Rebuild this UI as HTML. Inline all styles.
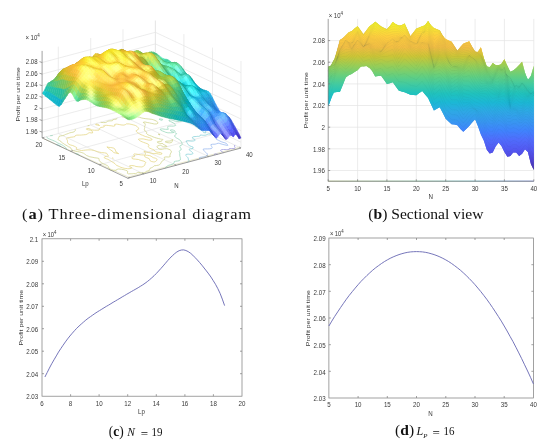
<!DOCTYPE html><html><head><meta charset="utf-8"><title>figure</title><style>html,body{margin:0;padding:0;background:#fff}body{width:550px;height:448px;overflow:hidden;position:relative}svg{position:absolute;left:0;top:0;display:block}.t{font-family:"Liberation Sans",sans-serif;fill:#383838}.c{font-family:"Liberation Serif",serif;fill:#111}</style></head><body>
<svg width="550" height="448" viewBox="0 0 550 448">
<rect width="550" height="448" fill="#fff"/>
<g id="pa">
<path d="M58.3,133.6L143.9,173.9M58.3,133.6L58.3,46.6M90.7,125L176.3,165.3M90.7,125L90.7,38M123,116.3L208.6,156.6M123,116.3L123,29.3M155.4,107.7L241,148M155.4,107.7L155.4,20.7M127.7,178.2L241,148M241,148L241,61M99.2,164.8L212.5,134.6M212.5,134.6L212.5,47.6M70.6,151.3L183.9,121.1M183.9,121.1L183.9,34.1M42.1,137.9L155.4,107.7M155.4,107.7L155.4,20.7M42.1,132.1L155.4,101.9M155.4,101.9L241,142.2M42.1,120.5L155.4,90.3M155.4,90.3L241,130.6M42.1,108.9L155.4,78.7M155.4,78.7L241,119M42.1,97.3L155.4,67.1M155.4,67.1L241,107.4M42.1,85.7L155.4,55.5M155.4,55.5L241,95.8M42.1,74.1L155.4,43.9M155.4,43.9L241,84.2M42.1,62.5L155.4,32.3M155.4,32.3L241,72.6" stroke="#e4e4e4" stroke-width="0.7" fill="none"/>
<path d="M43.5,138.6L128.2,177L239.6,147.3" stroke="#ecebd0" stroke-width="1" fill="none"/>
<g fill="none" stroke-width="0.7"><path d="M214.6,155L214.1,154.4L215.4,153.8L217.8,154.2M223.5,152.7L222.3,151.9L221.2,151.2L220.5,150.3L220.5,150.3L221.7,149.6L223.5,149.5L223.8,149.5L226.7,149.6L227.1,149.6L229.2,149.6L229.2,149L229.3,148.5L231.2,148.5L231.9,148.5L234.5,148.5L235,147.6L235,147.5L234.7,146.5L234,145.9L235,145.4L235.2,145.3" stroke="#9a93e0"/><path d="M199.9,159L199.1,158.1L199.1,158.1L200.1,157.4L202.1,157.1L203.2,157L204.2,156.9L205.6,156.4L205.6,156.4L206.7,155.7L207.3,154.9L207.4,154.8L207.2,153.8L207,153.5L206.5,153L205.5,152.2L204.6,151.4L204.2,151L203.8,150.5L203.3,149.6L203.1,149.2L204.8,148.9L205.9,148.9L207.5,148.9L209.8,148.8L211.6,148.5L212.2,147.6L212.1,147.3L211.6,146.4L211.3,145.9L211.1,145.5L210.9,144.6L212.7,144.2L215.1,144.2L216.7,143.7L218.2,143.2L219.2,143.3L221,143.9L222.8,144.4L223.9,144.7L224.9,144.9L227.2,145.4L227.8,145.4L227.8,145.2L227.2,144.3L226.6,143.6L226.5,143.5L224.9,142.8L224.9,142.8L223,142.3L221.2,141.7L219.9,141L218.5,140.3L217.1,139.6L216,138.9L215.8,138.5L215.5,138L214.7,137.1L214.6,136.8L216.4,136.4" stroke="#8fb2ee"/><path d="M187.3,162.3L187.5,162.2L188.4,161.4L188.8,160.9L188.9,160.4L188.5,159.9L188.3,159L188.3,158.9L188.1,157.9L187.9,157.6L187.4,157L186.5,156.2L185.7,155.4L185.7,155.4L186.1,154.4L188.1,154.1L189.9,154.3L191,154.3L192.7,153.9L192.9,153.5L192.6,152.6L192.5,152.5L191.6,151.7L190.6,150.9L189.5,150.2L189.1,149.8L189.3,149.1L189.7,148.9L190.6,148.8L192,148.8L193.2,148.2L193.2,148.1L193,147.1L191.5,146.5L189.8,145.9L188.7,145.1L188.1,144.6L187.8,144.3L187.4,143.4L187.2,143L187,142.4L186.2,141.6L185.9,141.2L187.4,140.7L188.9,140.8L190.8,141.1L192,141.1L193.3,141L194.8,140.6L195.2,140.2L194.7,139.3L194.7,139.3L194.4,139.2L193.1,138.7L192.8,138.4L192.2,137.9L192.6,137.1L194,136.6L196.3,136.5L197.9,136.3L198.5,136.4L200.1,135.9L200.3,135.7L200.5,134.9L202.2,135.2L203.8,135.3L206.1,135.1L207,134.4L208.6,134L210.6,134L211.2,134M205.5,131.3L205.6,132.2L206.1,132.8L203.7,132.7L203.2,131.8L202.6,131.1L202.4,130.9L201.3,130.2L200.1,129.5L198.9,128.7L197.7,128L196.6,127.2L195.3,126.5L195.1,126.4M56.2,144.6L56.4,144.6L58.4,145.1L60,145.8L60.9,146.6L61.1,146.9" stroke="#7fcfd6"/><path d="M164.7,168.3L164.8,168.2L165.9,167.5L166.7,166.8L166.7,166.7L167.4,165.8L168.7,165.3L170.3,164.8L171.9,164.4L173.1,164L173.3,163.9L174,163L174.1,162.7L174,161.8L174.9,161.4L175.4,161.3L175.6,161.2L177.4,161L179.3,160.7L180.3,160L180.3,160L180.3,158.9L180.4,158.8L180.3,157.9L180.3,157.6L180.1,156.9L179.9,156.2L179.8,155.9L179.8,155L179.7,154.9L179.8,153.8L179.8,153.8L179.7,152.8L179.5,152.5L179.3,151.8L179.2,151.1L179.6,150.7L179.9,150.3L181.2,149.7L181.3,149.2L181,148.4L180.8,148.3L180.2,147.4L179.9,146.7L179.9,146.4L180.2,145.6L181.5,145.1L182,144.8L182.5,144.3L182.2,143.7L181.8,142.8L181.8,142.8L181.3,141.8L181.1,141.3L180.8,140.9L179.9,140.1L178.8,139.3L177.7,138.6L176.4,137.9L176.4,137.9L175.3,137.1L174.6,136.2L174.6,135.8L175.3,135L175.3,135L176.3,134.2L176.6,133.6L175.3,132.9L174.6,132.3L174.4,132.1L175.2,131.3L174.9,130.9L173.5,130.2L171.9,129.8L170.2,130.2L171,130.9L172.1,131.6L173.9,132.2L173,132.7L172.2,132.7L170.6,132.8L168.2,132.8L167.9,132.8L165.7,132.3L164.2,131.6L162.6,131L161.1,130.4L160.2,129.6L160.2,129.1L162.4,128.9L162.6,128.9L165.3,129.3L165.8,129.3L168.3,129.3L168,128.5L168.1,128L167.7,127.6L167.7,126.6L168.5,126.3L169,126L169.4,126.1L171.7,126.1L173.3,126.1L174,126L175.6,125.5L175.7,125.4L175.1,124.5L174.9,124L174.5,123.6L173.3,122.9L172,122.2L170.5,121.6L169,120.9L169,120.1L171.2,119.9L172.1,120.1L173.7,120.7L175.5,121.3L176.9,121.4L179.1,121.4L179.4,121.4L181.6,121.2L181.6,120.7L181.8,120.1M75.5,153.6L77.2,153.8L78.7,154.4L79.3,155.3L79.3,155.4M176.8,117.8L175,117.2L173.7,116.5L172.9,116M161.9,120.3L160.7,120L159.3,119.3L159.1,119L160.7,118.9L162.3,119.3L162.7,119.4L162.8,119.6L161.9,120.3M163.5,111.5L163.8,111.8L164.7,112.6L166.3,113.2L167.8,113.9L169.2,114.5L169.7,115.5L169.5,115.5L169.3,115.6L167.2,115.7L165.7,115.5L163.9,114.9L162.6,114.2L161.3,113.5L159.5,112.9L158,112.3L157.3,111.4L156.4,110.6L156.4,110.5L157.7,110L158.2,110.1L160.4,110.6L162,110.8M46.6,136.7L47.1,137.6L47.8,138.2L48.1,138.4L49.6,139.1L49.6,139.1L51.2,139.7L52.7,140.3L54.3,141L55.7,141.6L56.8,142.4L57.5,142.8L58.1,143.1L59.6,143.8L59.7,143.8L61,144.4L61.1,144.5L62.3,145.1L63.5,145.9L64.7,146.6L65.6,147.4L66.1,148L66.3,148.3L66.6,149.2L66.7,149.5M52.6,135.1L52.4,135.6L50.2,135.7" stroke="#8fd3b4"/><path d="M169.3,142.9L169.4,142.9L171.2,142.6L171.9,142.2L172,141.8L172.4,141L172,140.6L173,139.9L173,139.8L172.8,139.8L171.2,140.2L171,140.4L170.3,141L168.1,141.1L168.1,141.1L165.8,141.3L165.2,141.9L166.9,142.5L169.3,142.9M159.8,134.9L160.1,135L160,134.9L159,134.1L158.2,134.1L158.4,134.3L159.8,134.9M75.2,129.1L75.3,129.7L75.4,130.1L75.1,130.7L74.7,131.3L74.4,131.6L73,132.2L71.2,132.5L69.6,132.9L68.3,133.5L66.8,134L65.4,134.5L64.2,135.2L64.2,135.2L62.7,135.6L62.2,135.7L60.6,135.9L59.1,136.4L59.1,136.5L58.7,137.4L58.6,137.7L58.4,138.4L58,138.9L58,139.4L58.3,139.9L59.6,140.6L60.8,141.3L61.4,142.2L61.4,142.2L62.5,143L63.7,143.7L64.8,144.5L66,145.2L67.2,145.9L68.4,146.7L70,147.3L70.5,147.7L71,148.1L71.1,149.1L71.2,149.2L72.1,149.9L73.5,150.6L75.3,151.1L75.3,151.2L77.5,151.6L79.7,152L79.8,152L81.8,152.6L83.5,153.2L84.7,153.9L85.4,154.7L85.5,154.7L86.6,155.5L88.1,156.1L89.8,156.8L89.8,156.8L92.1,157.2L94.2,157.6L94.2,157.7L97,158L98,158.2L98.9,158.5L99,158.7L99.1,159.5L99.1,160L99.3,160.5L99.8,161.4L99.9,161.5L100.8,162.2L101.8,163L103.2,163.7L104.6,164.4L106.1,165L107.5,165.7L108.4,166.5L108.6,166.8L108.7,167.5L109.2,168.3L109.2,168.4L109.5,169.4L110.8,170.1L113.4,170.3L114.5,170.2L116.2,170.4L116.3,169.7L116.7,169.5L118.2,169L118.8,169L121.2,169.2L121.7,169.3L123.9,169.7L125.8,170.3L127.3,170.9L127.8,171.9L127.7,172.2L127.2,173.1L128.4,173.8L128.5,173.8L128.5,173.8L131.1,173.8L132.9,173.7L133.2,173.6L135.6,173.6L136.8,173L137.8,172.4L137.9,172.3L138.1,172.3L140.4,172.7L142,173L143,173.1L144.5,173L144.9,172.6L145.3,172.2L146.3,171.4L147.7,170.9L149.3,170.5L149.4,170.3L149.5,169.4L149.4,169.2L150,168.4L151.2,167.8L151.7,167.6L152.6,167.2L153.5,166.5L154.3,165.9L154.4,165.7L155,165.7L156.5,165.5L158.4,165.2L159.6,164.6L159.7,164.4L160.5,163.8L161,163L161,162.9L161.5,161.9L161.6,161.8L162.2,161L163.3,160.3L163.4,160.3L164.4,159.7L164.8,158.8L164.7,158.6L164.2,158L164.3,157.2L166,156.9L168,157L168.9,157L170.3,156.5L170.3,156.3L169.9,155.4L169.9,155.1L170.3,154.2L170.3,154.1L170.7,153.1L170.7,153.1L171.3,152.2L171.3,151.8L171.4,151L171.2,150.8L170.3,150L169,149.3L167.1,148.7L166.3,148.7L164.2,148.8L162.5,149.2L160.9,149.4L160,149.3L158.9,148.8L158.6,148.6L158.2,148L157.1,147.2L156.8,146.6L157.6,146L157.9,145.9L159.3,145.3L160.7,145.2L161.8,146L163.4,146.6L164.9,146.8L166.9,146.5L166.4,145.8L164.9,145.1L163.5,144.5L162.9,143.6L160.4,143.5L159.8,143.3L157.9,142.8L157.2,141.9L157.2,141.9L158.7,141.5L159.1,141.4L161,141.4L162,140.7L162,140.6L162.8,139.8L162.8,139.4L161.7,139.3L160.4,139L158.3,138.5L156.4,138L156.3,138L154.5,137.4L152.9,136.8L151.4,136.1L149.7,135.5L148.2,134.9L147.1,134.1L146.3,133.3L146.3,133.3L146.7,132.2L146.7,132.1L145.9,131.3L144.6,130.6L144.4,130L144.3,129.6L144.5,128.8L144.5,128.5L144.6,127.7L144.8,127.4L144.5,126.4L144.5,126.4L145.1,125.5L145.1,125.2L145.3,124.4L145.4,124.1L144.7,123.2L143.2,122.5L143.3,122.3L145.1,121.9L145.3,122L147.2,122.5L149.5,122.9L149.8,123L151.8,123.4L153.9,123.9L154.6,124L156.9,123.9L157.9,123.2L157.9,122.8L157.5,121.9L157.4,121.8L156.3,121.1L155,120.4L153.4,119.8L152.8,119.6L151.4,119.3L148.9,119L148.7,119L145.8,118.7L145.8,118.7L143.2,118.3L141.8,118L141,117.8L139.4,117.2L137.2,116.8L136.7,116.8L134.9,117.1L132.3,117.1L131.7,117.2L130,117.2L129.5,117.8L129.4,118.1L128,118.1L126.8,118.1L125.7,117.7L123.6,117.2L121.7,116.7M89.5,125.3L89.3,125.5L87.6,125.8M117.2,117.9L117.1,118.3L116.2,119.1L114.4,119.4L112.7,119.8L112.6,120.2L112.3,120.8L109.9,120.9L109.9,120.9L107.9,121.1L107.3,121.6L106.9,121.9L105.7,122.5L103.4,122.6L103.4,122.6L100.6,122.3M135.9,112.9L136.7,113.7L137.7,114.5L140.2,114.9L139.5,114L137.9,113.4L136,112.9" stroke="#cdd083"/><path d="M138.9,166.8L139,166.8L142,167L143.2,166.4L144.3,165.7L144.7,165.3L144.9,164.8L144.9,164.2L145,163.7L145.8,162.9L145.8,162.8L145.3,161.9L144,161.2L141.9,160.7L140.2,160.2L140,160.2L138.5,159.5L135.7,159.2L135.6,159.2L132.9,158.9L131.9,158.2L131.9,157.5L132.7,156.9L132.9,156.8L134.6,156.4L134.6,155.3L133.9,154.8L133.6,154.5L134.4,153.9L135.6,154L137.9,154.4L138.1,154.4L140.5,154.8L141.7,154.9L143.7,155L144.9,155.7L144.6,156.3L144.9,156.8L146.3,157.5L148,158.1L149.3,158.8L149.6,159.7L149.7,159.9L150.1,160.7L151.3,161.4L153.3,161.9L154.2,162L155.5,161.5L155.7,161.3L156.5,160.7L157.1,159.9L157.1,159.8L156.8,158.9L155.4,158.2L153.4,157.7L152.1,157L151.1,156.2L149.5,155.6L147.5,155.3L146.4,155.3L144.7,154.7L145.3,154.3L145.4,153.5L145.1,153L145.2,152.5L144.2,151.7L143.9,151.2L145.5,151.4L146.6,152.1L148.7,152.6L149.9,152.8L151,153L153.1,153.6L154.1,153.6L156.6,153.6L156.7,153.6L158.8,154.1L160.7,154.3L162.1,153.8L161.9,153.3L160.4,152.6L158.8,152.3L157.9,152.3L155.6,151.8L154.9,151L154.2,150.1L154.2,150.1L152.9,149.4L152.2,149.2L151.2,148.8L149.7,148.1L149.1,147.7L148.7,147.3L148.3,146.4L148.3,146.1L149,145.3L149.1,145.2L148.4,144.3L147,143.6L145.3,143L143.6,142.4L142.1,141.8L140.6,141.1L139.4,140.4L138.5,139.5L138.5,139.1L140.5,138.9L141,138.9L143.2,138.9L144.2,139.1L146.3,139.6L148.1,140L148.3,140.1L150.9,140.2L152.2,139.6L151.9,139.1L150.9,138.4L149.6,137.7L147.7,137.1L145.9,136.6L145.7,136.6L144.1,136L142.6,135.3L141,134.7L139.8,134L138.5,133.2L137.9,132.9L137.3,132.5L136.5,131.7L136.1,130.8L136.2,130.7L137.1,130.1L138.2,129.5L138.6,129L138.6,128.4L138.4,128L137.7,127.1L137.1,126.5L136.9,126.3L135.7,125.6L133.9,125L133.8,125L131.9,124.5L129.6,124L129,123.9L126.4,123.9L125.4,124.6L124,125.1L122,125L121,124.9L119.6,124.6L117.3,124.2L116.6,124.1L114.7,124.4L114.7,124.9L115,125.7L113.5,126.2L111.1,125.8L109.9,125.7L108.4,125.5L106.6,125.3L104.8,125.4L104.3,125.4L103.6,125.7L104.4,126.6L104.4,126.6L102.9,127.2L101.1,127.4L101,127.4L101,127.5L99.8,128.1L99.4,128.9L99.4,129.1L99,130.1L96.8,130.2L94.5,130.2L94.2,130.2L91.7,129.9L90.5,129.2L88.8,128.6L88,128.5L86.4,128.9L86.4,129.2L88.1,129.9L88.5,129.9L90.9,130.2L92,130.9L92.4,131.7L92.3,131.9L92.6,132.9L92.5,133L92.1,133L89.4,132.7L88.1,133.3L87.2,134.1L85.8,134.6L83.7,134.8L81.5,135L80.2,135.1L79.3,135.1L76.8,135.1L75.3,135.6L75,136.5L74.8,136.6L73.4,136.9L73.1,137L71,137.2L69.2,137.5L67.5,137.9L66.4,138.6L66.3,138.8L67,139.7L67.2,140.2L67.5,140.6L67.5,141.5L67.5,141.6L67.5,142.7L67.5,142.7L68.1,143.6L69.1,144.4L70.6,145L72.7,145.5L74.2,146.2L75.6,146.9L76.7,147.6L76.8,148.3L76.1,148.8L76.6,149.4L77.1,149.6L77.2,149.7L79.4,150.1L81.5,150.5L81.8,150.5L83.6,150.3L85.7,150.1L87.8,149.9L88,149.9L90.4,149.9L91.6,150L93.7,150.4L94.3,150.5L95.6,151L97.4,151.6L99.2,152.1L101,152.5L101.4,152.6L104.3,152.8L104.4,152.8L106.7,153.3L107.2,154.2L107.3,154.3L107.7,155.1L108.6,155.9L108.5,156.1L107.8,156.2L106.6,156.3L104.9,156.7L104.3,157.1L104,157.5L104.7,158L106.2,158.7L107.8,159.3L109.1,160L110.4,160.7L111.5,161.5L112.6,162.2L113.9,162.9L115,163.7L115.3,164L115.7,164.6L116.6,165.4L118.1,166L119.6,166.7L121,167.4L122.8,167.9L124.3,168.3L125.2,168.4L127.7,168.7L127.9,168.8L130.1,168.6L131.6,168.1L131.9,167.6L130.4,166.9L129.4,166.2L129.5,165.9L131.2,165.5L131.9,165.5L134.4,165.9L134.8,166L136,166.5L138.9,166.8M113.2,158.3L112.5,158.1L112.6,157.9L113,157.9L113.2,158.3M118.7,153.7L117.6,153.5L115.7,153L114.1,152.7L113.6,152.5L113.5,152.4L113,151.6L112,150.8L110.8,150.1L110.2,149.7L109.8,149.3L108.8,148.5L107.9,147.7L106.9,146.9L108.9,147.4L110.6,147.5L111.9,147.7L113.9,148.2L114.9,149L115.2,149.7L115.3,150L115.7,150.9L115.9,151.2L115.8,151.9L117,152.6L118.3,153.3L118.7,153.7M97.7,125.2L99.5,125.5L98.9,124.9L97.4,124.2L96.2,124L95.6,124.7L97.7,125.2" stroke="#e3d37a"/></g>
<defs><filter id="sb" x="-5%" y="-5%" width="110%" height="110%"><feGaussianBlur stdDeviation="0.45"/></filter></defs><g filter="url(#sb)" fill="currentColor" stroke="currentColor" stroke-width="0.5" stroke-linejoin="round"><path d="M155.4,53.9l1.9,0.3l-1.9-1.1l-1.9-0.9z" color="#41b578"/><path d="M153.5,53.6l1.9,0.3l-1.9-1.7l-1.9-0.4z" color="#4cbc74"/><path d="M151.6,53.4l1.9,0.2l-1.9-1.8l-1.9,0.3z" color="#5bcb7a"/><path d="M149.7,53.8l1.9-0.4l-1.9-1.3l-1.9,1.1z" color="#62d580"/><path d="M147.9,54.9l1.8-1.1l-1.9-0.6l-1.8,1.8z" color="#57d080"/><path d="M146,57l1.9-2.1l-1.9,0.1l-1.9,2.1z" color="#47c885"/><path d="M144.1,57.8l1.9-0.8l-1.9,0.1l-1.9,0.6z" color="#3ab780"/><path d="M142.2,55.6l1.9,2.2l-1.9-0.1l-1.9-2.5z" color="#3fa96d"/><path d="M140.3,52.6l1.9,3l-1.9-0.4l-1.9-3z" color="#5aa957"/><path d="M138.4,50.9l1.9,1.7l-1.9-0.4l-1.9-1.7z" color="#78ac44"/><path d="M136.5,51.7l1.9-0.8l-1.9-0.4l-1.9,0.7z" color="#93c247"/><path d="M134.6,53.9l1.9-2.2l-1.9-0.5l-1.9,2.3z" color="#94d356"/><path d="M132.8,55.7l1.8-1.8l-1.9-0.4l-1.8,2.3z" color="#7acc5f"/><path d="M130.9,55.7l1.9,0l-1.9,0.1l-1.9,0.5z" color="#67b95a"/><path d="M129,54l1.9,1.7l-1.9,0.6l-1.9-1.4z" color="#6aa94a"/><path d="M127.1,53.5l1.9,0.5l-1.9,0.9l-1.9-0.5z" color="#79a83f"/><path d="M125.2,53.3l1.9,0.2l-1.9,0.9l-1.9-0.3z" color="#81a839"/><path d="M123.3,50.9l1.9,2.4l-1.9,0.8l-1.9-2.8z" color="#91a42e"/><path d="M121.4,49.4l1.9,1.5l-1.9,0.4l-1.9-1.3z" color="#b2ab26"/><path d="M119.5,51.7l1.9-2.3l-1.9,0.6l-1.9,3.5z" color="#bab62a"/><path d="M117.6,53.9l1.9-2.2l-1.9,1.8l-1.9,2.7z" color="#a1b432"/><path d="M115.8,54.5l1.8-0.6l-1.9,2.3l-1.8,0z" color="#94b035"/><path d="M113.9,55.6l1.9-1.1l-1.9,1.7l-1.9,1.2z" color="#94b338"/><path d="M112,57.2l1.9-1.6l-1.9,1.8l-1.9,1.9z" color="#8ab43e"/><path d="M110.1,57.8l1.9-0.6l-1.9,2.1l-1.9,0.5z" color="#80af41"/><path d="M108.2,58.5l1.9-0.7l-1.9,2l-1.9,0.3z" color="#80af41"/><path d="M106.3,59.6l1.9-1.1l-1.9,1.6l-1.9,0.8z" color="#7daf42"/><path d="M104.4,58.8l1.9,0.8l-1.9,1.3l-1.9-0.8z" color="#7daa3e"/><path d="M102.5,56.5l1.9,2.3l-1.9,1.3l-1.9-2.5z" color="#8ea530"/><path d="M100.7,54.9l1.8,1.6l-1.9,1.1l-1.8-2.4z" color="#a5a024"/><path d="M98.8,54.3l1.9,0.6l-1.9,0.3l-1.9-1.5z" color="#bba223"/><path d="M96.9,54.5l1.9-0.2l-1.9-0.6l-1.9,0z" color="#dfba30"/><path d="M95,56l1.9-1.5l-1.9-0.8l-1.9,2.4z" color="#e8c732"/><path d="M93.1,58.5l1.9-2.5l-1.9,0.1l-1.9,3.6z" color="#c8bd2b"/><path d="M91.2,59.9l1.9-1.4l-1.9,1.2l-1.9,1.7z" color="#adb52c"/><path d="M89.3,59.9l1.9,0l-1.9,1.5l-1.9-0.1z" color="#a0aa2b"/><path d="M87.4,59.4l1.9,0.5l-1.9,1.4l-1.9-0.2z" color="#a0a327"/><path d="M85.5,59.2l1.9,0.2l-1.9,1.7l-1.9,0z" color="#a7a325"/><path d="M83.7,60.1l1.8-0.9l-1.9,1.9l-1.8,0.4z" color="#b1aa26"/><path d="M81.8,61.7l1.9-1.6l-1.9,1.4l-1.9,1.4z" color="#b4b329"/><path d="M79.9,63.2l1.9-1.5l-1.9,1.2l-1.9,1.4z" color="#aab42d"/><path d="M78,63l1.9,0.2l-1.9,1.1l-1.9-0.1z" color="#a2ad2c"/><path d="M76.1,63.3l1.9-0.3l-1.9,1.2l-1.9,0.7z" color="#a8b02b"/><path d="M74.2,65.9l1.9-2.6l-1.9,1.6l-1.9,3.4z" color="#a2b835"/><path d="M72.3,68.9l1.9-3l-1.9,2.4l-1.9,3.5z" color="#85b946"/><path d="M70.4,70.7l1.9-1.8l-1.9,2.9l-1.9,1.3z" color="#6db251"/><path d="M68.6,70.5l1.8,0.2l-1.9,2.4l-1.9-0.8z" color="#68ab4d"/><path d="M66.7,69.8l1.9,0.7l-2,1.8l-1.8-1z" color="#74aa45"/><path d="M64.8,70.7l1.9-0.9l-1.9,1.5l-1.9,1.1z" color="#7db345"/><path d="M62.9,72.8l1.9-2.1l-1.9,1.7l-1.9,2.6z" color="#76ba51"/><path d="M61,75l1.9-2.2l-1.9,2.2l-1.9,2.7z" color="#61b85f"/><path d="M59.1,76.1l1.9-1.1l-1.9,2.7l-1.9,1.4z" color="#51b266"/><path d="M57.2,76.7l1.9-0.6l-1.9,3l-1.9,0.6z" color="#4daf67"/><path d="M55.3,78.9l1.9-2.2l-1.9,3l-1.9,2z" color="#48b26f"/><path d="M53.4,81l1.9-2.1l-1.9,2.8l-1.9,1.6z" color="#3db179"/><path d="M51.6,81.2l1.8-0.2l-1.9,2.3l-1.8-0.7z" color="#39af7a"/><path d="M49.7,82.6l1.9-1.4l-1.9,1.4l-1.9,0.7z" color="#3dba81"/><path d="M47.8,86.7l1.9-4.1l-1.9,0.7l-1.9,3.6z" color="#36c396"/><path d="M45.9,91.4l1.9-4.7l-1.9,0.2l-1.9,4.1z" color="#1fc0af"/><path d="M44,94.8l1.9-3.4l-1.9-0.4l-1.9,2.2z" color="#17ccd2"/><path d="M157.3,56.3l1.9-0.6l-1.9-1.5l-1.9-0.3z" color="#42c589"/><path d="M155.4,55.9l1.9,0.4l-1.9-2.4l-1.9-0.3z" color="#43bd7e"/><path d="M153.5,55.1l1.9,0.8l-1.9-2.3l-1.9-0.2z" color="#4abb76"/><path d="M151.7,54.4l1.8,0.7l-1.9-1.7l-1.9,0.4z" color="#53c072"/><path d="M149.8,54.6l1.9-0.2l-2-0.6l-1.8,1.1z" color="#58c673"/><path d="M147.9,56.3l1.9-1.7l-1.9,0.3l-1.9,2.1z" color="#50c679"/><path d="M146,57.4l1.9-1.1l-1.9,0.7l-1.9,0.8z" color="#43b878"/><path d="M144.1,55.8l1.9,1.6l-1.9,0.4l-1.9-2.2z" color="#46ab68"/><path d="M142.2,53.3l1.9,2.5l-1.9-0.2l-1.9-3z" color="#5ea953"/><path d="M140.3,51.9l1.9,1.4l-1.9-0.7l-1.9-1.7z" color="#7cad42"/><path d="M138.4,52.4l1.9-0.5l-1.9-1l-1.9,0.8z" color="#99c647"/><path d="M136.5,54.1l1.9-1.7l-1.9-0.7l-1.9,2.2z" color="#9ad453"/><path d="M134.7,55.3l1.8-1.2l-1.9-0.2l-1.8,1.8z" color="#81c655"/><path d="M132.8,54.8l1.9,0.5l-1.9,0.4l-1.9,0z" color="#72b34d"/><path d="M130.9,53.1l1.9,1.7l-1.9,0.9l-1.9-1.7z" color="#7aa83e"/><path d="M129,52.7l1.9,0.4l-1.9,0.9l-1.9-0.5z" color="#8ba834"/><path d="M127.1,53.1l1.9-0.4l-1.9,0.8l-1.9-0.2z" color="#92a830"/><path d="M125.2,51.6l1.9,1.5l-1.9,0.2l-1.9-2.4z" color="#9ca428"/><path d="M123.3,50l1.9,1.6l-1.9-0.7l-1.9-1.5z" color="#b5a623"/><path d="M121.4,50.3l1.9-0.3l-1.9-0.6l-1.9,2.3z" color="#c4ae25"/><path d="M119.5,51.7l1.9-1.4l-1.9,1.4l-1.9,2.2z" color="#baaf27"/><path d="M117.7,53.1l1.8-1.4l-1.9,2.2l-1.8,0.6z" color="#b1af28"/><path d="M115.8,54.3l1.9-1.2l-1.9,1.4l-1.9,1.1z" color="#aeb22a"/><path d="M113.9,55.2l1.9-0.9l-1.9,1.3l-1.9,1.6z" color="#a4b02d"/><path d="M112,55.7l1.9-0.5l-1.9,2l-1.9,0.6z" color="#9dac2e"/><path d="M110.1,56.8l1.9-1.1l-1.9,2.1l-1.9,0.7z" color="#9cae30"/><path d="M108.2,58.1l1.9-1.3l-1.9,1.7l-1.9,1.1z" color="#96ae33"/><path d="M106.3,57.4l1.9,0.7l-1.9,1.5l-1.9-0.8z" color="#93a72f"/><path d="M104.4,55.3l1.9,2.1l-1.9,1.4l-1.9-2.3z" color="#a1a127"/><path d="M102.6,54.7l1.8,0.6l-1.9,1.2l-1.8-1.6z" color="#b4a023"/><path d="M100.7,55.2l1.9-0.5l-1.9,0.2l-1.9-0.6z" color="#caaa26"/><path d="M98.8,55.7l1.9-0.5l-1.9-0.9l-1.9,0.2z" color="#e5bf30"/><path d="M96.9,56.6l1.9-0.9l-1.9-1.2l-1.9,1.5z" color="#ecc732"/><path d="M95,57.9l1.9-1.3l-1.9-0.6l-1.9,2.5z" color="#d6bd2a"/><path d="M93.1,59l1.9-1.1l-1.9,0.6l-1.9,1.4z" color="#c0b326"/><path d="M91.2,59.1l1.9-0.1l-1.9,0.9l-1.9,0z" color="#b2a824"/><path d="M89.3,58.1l1.9,1l-1.9,0.8l-1.9-0.5z" color="#b19f22"/><path d="M87.4,57.7l1.9,0.4l-1.9,1.3l-1.9-0.2z" color="#bca124"/><path d="M85.6,59l1.8-1.3l-1.9,1.5l-1.8,0.9z" color="#c9ab27"/><path d="M83.7,61.1l1.9-2.1l-1.9,1.1l-1.9,1.6z" color="#cbb527"/><path d="M81.8,62.5l1.9-1.4l-1.9,0.6l-1.9,1.5z" color="#bfb427"/><path d="M79.9,62.4l1.9,0.1l-1.9,0.7l-1.9-0.2z" color="#b4ac25"/><path d="M78,62.4l1.9,0l-1.9,0.6l-1.9,0.3z" color="#bbad25"/><path d="M76.1,64.2l1.9-1.8l-1.9,0.9l-1.9,2.6z" color="#bbb529"/><path d="M74.2,66.6l1.9-2.4l-1.9,1.7l-1.9,3z" color="#a7b631"/><path d="M72.3,68.3l1.9-1.7l-1.9,2.3l-1.9,1.8z" color="#90b139"/><path d="M70.5,68.6l1.8-0.3l-1.9,2.4l-1.8-0.2z" color="#86aa39"/><path d="M68.6,68.4l1.9,0.2l-1.9,1.9l-1.9-0.7z" color="#8ca834"/><path d="M66.7,69.1l1.9-0.7l-1.9,1.4l-1.9,0.9z" color="#95af34"/><path d="M64.8,70.7l1.9-1.6l-1.9,1.6l-1.9,2.1z" color="#92b63b"/><path d="M62.9,72.5l1.9-1.8l-1.9,2.1l-1.9,2.2z" color="#81b545"/><path d="M61,73.2l1.9-0.7l-1.9,2.5l-1.9,1.1z" color="#73af49"/><path d="M59.1,73.5l1.9-0.3l-1.9,2.9l-1.9,0.6z" color="#70ae4a"/><path d="M57.2,75.8l1.9-2.3l-1.9,3.2l-1.9,2.2z" color="#6cb353"/><path d="M55.3,78.5l1.9-2.7l-1.9,3.1l-1.9,2.1z" color="#5cb661"/><path d="M53.5,79.9l1.8-1.4l-1.9,2.5l-1.8,0.2z" color="#52b86b"/><path d="M51.6,82.2l1.9-2.3l-1.9,1.3l-1.9,1.4z" color="#4ec177"/><path d="M49.7,86.6l1.9-4.4l-1.9,0.4l-1.9,4.1z" color="#3ec58e"/><path d="M47.8,91.8l1.9-5.2l-1.9,0.1l-1.9,4.7z" color="#24c1aa"/><path d="M45.9,96.4l1.9-4.6l-1.9-0.4l-1.9,3.4z" color="#11c0c7"/><path d="M159.2,58.7l1.9-1.5l-1.9-1.5l-1.9,0.6z" color="#51ddaa"/><path d="M157.3,58.3l1.9,0.4l-1.9-2.4l-1.9-0.4z" color="#3cc08d"/><path d="M155.4,56.8l1.9,1.5l-1.9-2.4l-1.9-0.8z" color="#3db077"/><path d="M153.6,55.1l1.8,1.7l-1.9-1.7l-1.8-0.7z" color="#49af6a"/><path d="M151.7,54.4l1.9,0.7l-1.9-0.7l-1.9,0.2z" color="#58b966"/><path d="M149.8,55.7l1.9-1.3l-1.9,0.2l-1.9,1.7z" color="#5cc26c"/><path d="M147.9,57l1.9-1.3l-1.9,0.6l-1.9,1.1z" color="#51bc6f"/><path d="M146,56.2l1.9,0.8l-1.9,0.4l-1.9-1.6z" color="#50af64"/><path d="M144.1,54.4l1.9,1.8l-1.9-0.4l-1.9-2.5z" color="#61a951"/><path d="M142.2,53.2l1.9,1.2l-1.9-1.1l-1.9-1.4z" color="#7bae43"/><path d="M140.3,53.2l1.9,0l-1.9-1.3l-1.9,0.5z" color="#96c345"/><path d="M138.4,54.1l1.9-0.9l-1.9-0.8l-1.9,1.7z" color="#9acd4b"/><path d="M136.6,54.7l1.8-0.6l-1.9,0l-1.8,1.2z" color="#87bd48"/><path d="M134.7,54l1.9,0.7l-1.9,0.6l-1.9-0.5z" color="#7fad40"/><path d="M132.8,52.4l1.9,1.6l-1.9,0.8l-1.9-1.7z" color="#8aa533"/><path d="M130.9,52.3l1.9,0.1l-1.9,0.7l-1.9-0.4z" color="#9eab2c"/><path d="M129,53.4l1.9-1.1l-1.9,0.4l-1.9,0.4z" color="#a8b32d"/><path d="M127.1,53l1.9,0.4l-1.9-0.3l-1.9-1.5z" color="#a6ab28"/><path d="M125.2,51.3l1.9,1.7l-1.9-1.4l-1.9-1.6z" color="#afa223"/><path d="M123.3,49.9l1.9,1.4l-1.9-1.3l-1.9,0.3z" color="#c1a424"/><path d="M121.5,50.4l1.8-0.5l-1.9,0.4l-1.9,1.4z" color="#ccab27"/><path d="M119.6,52.4l1.9-2l-2,1.3l-1.8,1.4z" color="#cdb327"/><path d="M117.7,53.6l1.9-1.2l-1.9,0.7l-1.9,1.2z" color="#c5b526"/><path d="M115.8,53.8l1.9-0.2l-1.9,0.7l-1.9,0.9z" color="#baae25"/><path d="M113.9,54l1.9-0.2l-1.9,1.4l-1.9,0.5z" color="#b5a925"/><path d="M112,55.1l1.9-1.1l-1.9,1.7l-1.9,1.1z" color="#b6ac26"/><path d="M110.1,56.7l1.9-1.6l-1.9,1.7l-1.9,1.3z" color="#aeac27"/><path d="M108.2,56l1.9,0.7l-1.9,1.4l-1.9-0.7z" color="#a8a425"/><path d="M106.3,54l1.9,2l-1.9,1.4l-1.9-2.1z" color="#b29e24"/><path d="M104.5,54.1l1.8-0.1l-1.9,1.3l-1.8-0.6z" color="#c6a228"/><path d="M102.6,55.5l1.9-1.4l-1.9,0.6l-1.9,0.5z" color="#d8b02b"/><path d="M100.7,56.4l1.9-0.9l-1.9-0.3l-1.9,0.5z" color="#e3bc2d"/><path d="M98.8,57.1l1.9-0.7l-1.9-0.7l-1.9,0.9z" color="#e3be2d"/><path d="M96.9,57.8l1.9-0.7l-1.9-0.5l-1.9,1.3z" color="#dab92a"/><path d="M95,58.5l1.9-0.7l-1.9,0.1l-1.9,1.1z" color="#ccb126"/><path d="M93.1,58.6l1.9-0.1l-1.9,0.5l-1.9,0.1z" color="#bfa624"/><path d="M91.2,57.4l1.9,1.2l-1.9,0.5l-1.9-1z" color="#bd9c25"/><path d="M89.4,57l1.8,0.4l-1.9,0.7l-1.9-0.4z" color="#cea32c"/><path d="M87.5,58.6l1.9-1.6l-2,0.7l-1.8,1.3z" color="#dfb130"/><path d="M85.6,60.7l1.9-2.1l-1.9,0.4l-1.9,2.1z" color="#deb82c"/><path d="M83.7,62.2l1.9-1.5l-1.9,0.4l-1.9,1.4z" color="#cfb627"/><path d="M81.8,62.3l1.9-0.1l-1.9,0.3l-1.9-0.1z" color="#c4ae25"/><path d="M79.9,62.3l1.9,0l-1.9,0.1l-1.9,0z" color="#c9ae26"/><path d="M78,63.3l1.9-1l-1.9,0.1l-1.9,1.8z" color="#ceb427"/><path d="M76.1,64.8l1.9-1.5l-1.9,0.9l-1.9,2.4z" color="#c0b327"/><path d="M74.2,66.2l1.9-1.4l-1.9,1.8l-1.9,1.7z" color="#aeae29"/><path d="M72.4,66.8l1.8-0.6l-1.9,2.1l-1.8,0.3z" color="#a3a829"/><path d="M70.5,67l1.9-0.2l-1.9,1.8l-1.9-0.2z" color="#a4a727"/><path d="M68.6,67.6l1.9-0.6l-1.9,1.4l-1.9,0.7z" color="#abac28"/><path d="M66.7,68.8l1.9-1.2l-1.9,1.5l-1.9,1.6z" color="#aab02b"/><path d="M64.8,70.2l1.9-1.4l-1.9,1.9l-1.9,1.8z" color="#9faf30"/><path d="M62.9,70.7l1.9-0.5l-1.9,2.3l-1.9,0.7z" color="#94aa31"/><path d="M61,70.9l1.9-0.2l-1.9,2.5l-1.9,0.3z" color="#94aa31"/><path d="M59.1,73l1.9-2.1l-1.9,2.6l-1.9,2.3z" color="#93b238"/><path d="M57.2,76.1l1.9-3.1l-1.9,2.8l-1.9,2.7z" color="#82b848"/><path d="M55.4,78.6l1.8-2.5l-1.9,2.4l-1.8,1.4z" color="#70be58"/><path d="M53.5,81.8l1.9-3.2l-1.9,1.3l-1.9,2.3z" color="#60c56b"/><path d="M51.6,86.8l1.9-5l-1.9,0.4l-1.9,4.4z" color="#46c787"/><path d="M49.7,92.5l1.9-5.7l-1.9-0.2l-1.9,5.2z" color="#28c2a6"/><path d="M47.8,97.9l1.9-5.4l-1.9-0.7l-1.9,4.6z" color="#12bcc4"/><path d="M161.1,60.6l1.9-2.2l-1.9-1.2l-1.9,1.5z" color="#5aecc0"/><path d="M159.2,60.2l1.9,0.4l-1.9-1.9l-1.9-0.4z" color="#42cca2"/><path d="M157.3,58.2l1.9,2l-1.9-1.9l-1.9-1.5z" color="#35aa79"/><path d="M155.5,55.8l1.8,2.4l-1.9-1.4l-1.8-1.7z" color="#45a968"/><path d="M153.6,54.3l1.9,1.5l-1.9-0.7l-1.9-0.7z" color="#5bb15d"/><path d="M151.7,55.2l1.9-0.9l-1.9,0.1l-1.9,1.3z" color="#67c060"/><path d="M149.8,56.9l1.9-1.7l-1.9,0.5l-1.9,1.3z" color="#62c569"/><path d="M147.9,57.1l1.9-0.2l-1.9,0.1l-1.9-0.8z" color="#5bba64"/><path d="M146,56.1l1.9,1l-1.9-0.9l-1.9-1.8z" color="#62ae54"/><path d="M144.1,54.7l1.9,1.4l-1.9-1.7l-1.9-1.2z" color="#74ad46"/><path d="M142.2,53.9l1.9,0.8l-1.9-1.5l-1.9,0z" color="#8ab640"/><path d="M140.3,53.9l1.9,0l-1.9-0.7l-1.9,0.9z" color="#93bc3f"/><path d="M138.5,54.2l1.8-0.3l-1.9,0.2l-1.8,0.6z" color="#8eb53c"/><path d="M136.6,53.6l1.9,0.6l-1.9,0.5l-1.9-0.7z" color="#8ba935"/><path d="M134.7,52.2l1.9,1.4l-1.9,0.4l-1.9-1.6z" color="#98a52b"/><path d="M132.8,52.6l1.9-0.4l-1.9,0.2l-1.9-0.1z" color="#b2b329"/><path d="M130.9,54.3l1.9-1.7l-1.9-0.3l-1.9,1.1z" color="#c4c934"/><path d="M129,54.6l1.9-0.3l-1.9-0.9l-1.9-0.4z" color="#b7bd32"/><path d="M127.1,53.1l1.9,1.5l-1.9-1.6l-1.9-1.7z" color="#aba424"/><path d="M125.2,50.8l1.9,2.3l-1.9-1.8l-1.9-1.4z" color="#b99e24"/><path d="M123.4,50.5l1.8,0.3l-1.9-0.9l-1.8,0.5z" color="#d5ab2c"/><path d="M121.5,52.5l1.9-2l-1.9-0.1l-1.9,2z" color="#e3ba2e"/><path d="M119.6,53.6l1.9-1.1l-1.9-0.1l-1.9,1.2z" color="#d5b828"/><path d="M117.7,53.5l1.9,0.1l-1.9,0l-1.9,0.2z" color="#c6ac25"/><path d="M115.8,53.1l1.9,0.4l-1.9,0.3l-1.9,0.2z" color="#c3a525"/><path d="M113.9,53.9l1.9-0.8l-1.9,0.9l-1.9,1.1z" color="#caaa27"/><path d="M112,55.6l1.9-1.7l-1.9,1.2l-1.9,1.6z" color="#c5ac26"/><path d="M110.1,54.9l1.9,0.7l-1.9,1.1l-1.9-0.7z" color="#baa324"/><path d="M108.2,52.8l1.9,2.1l-1.9,1.1l-1.9-2z" color="#c09c28"/><path d="M106.4,53.1l1.8-0.3l-1.9,1.2l-1.8,0.1z" color="#d3a330"/><path d="M104.5,54.7l1.9-1.6l-1.9,1l-1.9,1.4z" color="#dfae32"/><path d="M102.6,55.8l1.9-1.1l-1.9,0.8l-1.9,0.9z" color="#ddb02f"/><path d="M100.7,56.7l1.9-0.9l-1.9,0.6l-1.9,0.7z" color="#dab02d"/><path d="M98.8,57.5l1.9-0.8l-1.9,0.4l-1.9,0.7z" color="#d8b02b"/><path d="M96.9,58.2l1.9-0.7l-1.9,0.3l-1.9,0.7z" color="#d3ad29"/><path d="M95,58.1l1.9,0.1l-1.9,0.3l-1.9,0.1z" color="#c8a328"/><path d="M93.1,57.3l1.9,0.8l-1.9,0.5l-1.9-1.2z" color="#c79d2b"/><path d="M91.3,57.3l1.8,0l-1.9,0.1l-1.8-0.4z" color="#dfaa35"/><path d="M89.4,58.9l1.9-1.6l-1.9-0.3l-1.9,1.6z" color="#f4bb3a"/><path d="M87.5,60.8l1.9-1.9l-1.9-0.3l-1.9,2.1z" color="#edbe34"/><path d="M85.6,61.9l1.9-1.1l-1.9-0.1l-1.9,1.5z" color="#dcb82b"/><path d="M83.7,62.4l1.9-0.5l-1.9,0.3l-1.9,0.1z" color="#d1b128"/><path d="M81.8,62.7l1.9-0.3l-1.9-0.1l-1.9,0z" color="#d5b129"/><path d="M79.9,63.2l1.9-0.5l-1.9-0.4l-1.9,1z" color="#d8b429"/><path d="M78,63.7l1.9-0.5l-1.9,0.1l-1.9,1.5z" color="#ceaf27"/><path d="M76.1,64.3l1.9-0.6l-1.9,1.1l-1.9,1.4z" color="#c2a825"/><path d="M74.3,65l1.8-0.7l-1.9,1.9l-1.8,0.6z" color="#bba525"/><path d="M72.4,65.8l1.9-0.8l-1.9,1.8l-1.9,0.2z" color="#bca724"/><path d="M70.5,66.4l1.9-0.6l-1.9,1.2l-1.9,0.6z" color="#bfa925"/><path d="M68.6,67.2l1.9-0.8l-1.9,1.2l-1.9,1.2z" color="#beab25"/><path d="M66.7,68.2l1.9-1l-1.9,1.6l-1.9,1.4z" color="#b7aa25"/><path d="M64.8,68.8l1.9-0.6l-1.9,2l-1.9,0.5z" color="#b0a725"/><path d="M62.9,69.2l1.9-0.4l-1.9,1.9l-1.9,0.2z" color="#b3a926"/><path d="M61,71.2l1.9-2l-1.9,1.7l-1.9,2.1z" color="#b5b229"/><path d="M59.2,74.3l1.8-3.1l-1.9,1.8l-1.9,3.1z" color="#a5b934"/><path d="M57.3,77.4l1.9-3.1l-2,1.8l-1.8,2.5z" color="#8ebf45"/><path d="M55.4,81.5l1.9-4.1l-1.9,1.2l-1.9,3.2z" color="#73c55e"/><path d="M53.5,87.2l1.9-5.7l-1.9,0.3l-1.9,5z" color="#4ec780"/><path d="M51.6,93.6l1.9-6.4l-1.9-0.4l-1.9,5.7z" color="#29c2a4"/><path d="M49.7,99.4l1.9-5.8l-1.9-1.1l-1.9,5.4z" color="#13bbc4"/><path d="M163,61.9l1.9-2.9l-1.9-0.6l-1.9,2.2z" color="#4fe6ba"/><path d="M161.1,61.7l1.9,0.2l-1.9-1.3l-1.9-0.4z" color="#43cfac"/><path d="M159.2,59.5l1.9,2.2l-1.9-1.5l-1.9-2z" color="#31a87c"/><path d="M157.4,56.6l1.8,2.9l-1.9-1.3l-1.8-2.4z" color="#44a969"/><path d="M155.5,54.7l1.9,1.9l-1.9-0.8l-1.9-1.5z" color="#5dae58"/><path d="M153.6,55.4l1.9-0.7l-1.9-0.4l-1.9,0.9z" color="#74c35d"/><path d="M151.7,57.4l1.9-2l-1.9-0.2l-1.9,1.7z" color="#7bda72"/><path d="M149.8,58.3l1.9-0.9l-1.9-0.5l-1.9,0.2z" color="#6ccf71"/><path d="M147.9,57.6l1.9,0.7l-1.9-1.2l-1.9-1z" color="#61b55b"/><path d="M146,55.8l1.9,1.8l-1.9-1.5l-1.9-1.4z" color="#6daa49"/><path d="M144.1,54.3l1.9,1.5l-1.9-1.1l-1.9-0.8z" color="#80ab3c"/><path d="M142.3,53.7l1.8,0.6l-1.9-0.4l-1.9,0z" color="#90ae36"/><path d="M140.4,53.9l1.9-0.2l-2,0.2l-1.8,0.3z" color="#96af33"/><path d="M138.5,53.6l1.9,0.3l-1.9,0.3l-1.9-0.6z" color="#98aa2e"/><path d="M136.6,52.7l1.9,0.9l-1.9,0l-1.9-1.4z" color="#a6aa28"/><path d="M134.7,53.5l1.9-0.8l-1.9-0.5l-1.9,0.4z" color="#ccc734"/><path d="M132.8,55.5l1.9-2l-1.9-0.9l-1.9,1.7z" color="#e3e74b"/><path d="M130.9,56l1.9-0.5l-1.9-1.2l-1.9,0.3z" color="#c3ce3f"/><path d="M129,54.6l1.9,1.4l-1.9-1.4l-1.9-1.5z" color="#a7a726"/><path d="M127.1,52.2l1.9,2.4l-1.9-1.5l-1.9-2.3z" color="#b49d23"/><path d="M125.3,51.5l1.8,0.7l-1.9-1.4l-1.8-0.3z" color="#d5ab2c"/><path d="M123.4,52.8l1.9-1.3l-1.9-1l-1.9,2z" color="#e9bb30"/><path d="M121.5,53.6l1.9-0.8l-1.9-0.3l-1.9,1.1z" color="#dbb62a"/><path d="M119.6,53.4l1.9,0.2l-1.9,0l-1.9-0.1z" color="#caa827"/><path d="M117.7,52.6l1.9,0.8l-1.9,0.1l-1.9-0.4z" color="#caa22a"/><path d="M115.8,53.2l1.9-0.6l-1.9,0.5l-1.9,0.8z" color="#d8aa2e"/><path d="M113.9,55.1l1.9-1.9l-1.9,0.7l-1.9,1.7z" color="#d9af2c"/><path d="M112,54.6l1.9,0.5l-1.9,0.5l-1.9-0.7z" color="#caa529"/><path d="M110.1,52.2l1.9,2.4l-1.9,0.3l-1.9-2.1z" color="#c99c2d"/><path d="M108.3,51.8l1.8,0.4l-1.9,0.6l-1.8,0.3z" color="#d9a333"/><path d="M106.4,53l1.9-1.2l-1.9,1.3l-1.9,1.6z" color="#e1ab34"/><path d="M104.5,54l1.9-1l-1.9,1.7l-1.9,1.1z" color="#dfaa33"/><path d="M102.6,55.2l1.9-1.2l-1.9,1.8l-1.9,0.9z" color="#dda933"/><path d="M100.7,56.7l1.9-1.5l-1.9,1.5l-1.9,0.8z" color="#ddab32"/><path d="M98.8,57.4l1.9-0.7l-1.9,0.8l-1.9,0.7z" color="#d8a830"/><path d="M96.9,57.4l1.9,0l-1.9,0.8l-1.9-0.1z" color="#d0a22f"/><path d="M95,57.4l1.9,0l-1.9,0.7l-1.9-0.8z" color="#d5a332"/><path d="M93.2,58.1l1.8-0.7l-1.9-0.1l-1.8,0z" color="#eeb73e"/><path d="M91.3,59.8l1.9-1.7l-1.9-0.8l-1.9,1.6z" color="#ffca47"/><path d="M89.4,61.1l1.9-1.3l-1.9-0.9l-1.9,1.9z" color="#f6c53c"/><path d="M87.5,61.8l1.9-0.7l-1.9-0.3l-1.9,1.1z" color="#e4b82f"/><path d="M85.6,62.6l1.9-0.8l-1.9,0.1l-1.9,0.5z" color="#dcb32c"/><path d="M83.7,63.2l1.9-0.6l-1.9-0.2l-1.9,0.3z" color="#dbb22b"/><path d="M81.8,63.1l1.9,0.1l-1.9-0.5l-1.9,0.5z" color="#d6ad2b"/><path d="M79.9,62.7l1.9,0.4l-1.9,0.1l-1.9,0.5z" color="#cea52b"/><path d="M78,62.5l1.9,0.2l-1.9,1l-1.9,0.6z" color="#cba12c"/><path d="M76.2,63.4l1.8-0.9l-1.9,1.8l-1.8,0.7z" color="#cfa32d"/><path d="M74.3,64.7l1.9-1.3l-1.9,1.6l-1.9,0.8z" color="#d2a82c"/><path d="M72.4,65.4l1.9-0.7l-1.9,1.1l-1.9,0.6z" color="#d1a92b"/><path d="M70.5,65.9l1.9-0.5l-1.9,1l-1.9,0.8z" color="#cea92a"/><path d="M68.6,66.7l1.9-0.8l-1.9,1.3l-1.9,1z" color="#cba829"/><path d="M66.7,67.6l1.9-0.9l-1.9,1.5l-1.9,0.6z" color="#c9a827"/><path d="M64.8,68.6l1.9-1l-1.9,1.2l-1.9,0.4z" color="#ceae28"/><path d="M62.9,70.5l1.9-1.9l-1.9,0.6l-1.9,2z" color="#cfb628"/><path d="M61.1,73.2l1.8-2.7l-1.9,0.7l-1.8,3.1z" color="#c0ba2a"/><path d="M59.2,76.3l1.9-3.1l-1.9,1.1l-1.9,3.1z" color="#a7be36"/><path d="M57.3,81l1.9-4.7l-1.9,1.1l-1.9,4.1z" color="#85c450"/><path d="M55.4,87.7l1.9-6.7l-1.9,0.5l-1.9,5.7z" color="#56c678"/><path d="M53.5,94.9l1.9-7.2l-1.9-0.5l-1.9,6.4z" color="#29c2a4"/><path d="M51.6,100.9l1.9-6l-1.9-1.3l-1.9,5.8z" color="#13b9c6"/><path d="M164.9,62.7l1.9-3.4l-1.9-0.3l-1.9,2.9z" color="#43d7aa"/><path d="M163,62.7l1.9,0l-1.9-0.8l-1.9-0.2z" color="#37c3a2"/><path d="M161.1,60.6l1.9,2.1l-1.9-1l-1.9-2.2z" color="#2fa77d"/><path d="M159.3,57.7l1.8,2.9l-1.9-1.1l-1.8-2.9z" color="#43a96a"/><path d="M157.4,55.7l1.9,2l-1.9-1.1l-1.9-1.9z" color="#5faf58"/><path d="M155.5,56.7l1.9-1l-1.9-1l-1.9,0.7z" color="#8dd172"/><path d="M153.6,58.9l1.9-2.2l-1.9-1.3l-1.9,2z" color="#aaf4a0"/><path d="M151.7,59.6l1.9-0.7l-1.9-1.5l-1.9,0.9z" color="#82dd8c"/><path d="M149.8,58.4l1.9,1.2l-1.9-1.3l-1.9-0.7z" color="#5fb65e"/><path d="M147.9,56l1.9,2.4l-1.9-0.8l-1.9-1.8z" color="#6ca949"/><path d="M146,54.1l1.9,1.9l-1.9-0.2l-1.9-1.5z" color="#82a738"/><path d="M144.2,53.4l1.8,0.7l-1.9,0.2l-1.8-0.6z" color="#95a82e"/><path d="M142.3,53.9l1.9-0.5l-1.9,0.3l-1.9,0.2z" color="#a3b02d"/><path d="M140.4,54.2l1.9-0.3l-1.9,0l-1.9-0.3z" color="#a9b22c"/><path d="M138.5,54l1.9,0.2l-1.9-0.6l-1.9-0.9z" color="#b6b62a"/><path d="M136.6,54.9l1.9-0.9l-1.9-1.3l-1.9,0.8z" color="#dfdc48"/><path d="M134.7,56.6l1.9-1.7l-1.9-1.4l-1.9,2z" color="#ecf35c"/><path d="M132.8,56.8l1.9-0.2l-1.9-1.1l-1.9,0.5z" color="#becb3f"/><path d="M130.9,55.3l1.9,1.5l-1.9-0.8l-1.9-1.4z" color="#a4a626"/><path d="M129,53.3l1.9,2l-1.9-0.7l-1.9-2.4z" color="#b29e23"/><path d="M127.2,52.4l1.8,0.9l-1.9-1.1l-1.8-0.7z" color="#cba529"/><path d="M125.3,52.7l1.9-0.3l-1.9-0.9l-1.9,1.3z" color="#ddb02f"/><path d="M123.4,53.2l1.9-0.5l-1.9,0.1l-1.9,0.8z" color="#d8ad2d"/><path d="M121.5,53l1.9,0.2l-1.9,0.4l-1.9-0.2z" color="#cda32b"/><path d="M119.6,52.2l1.9,0.8l-1.9,0.4l-1.9-0.8z" color="#cfa02f"/><path d="M117.7,52.9l1.9-0.7l-1.9,0.4l-1.9,0.6z" color="#e2ac36"/><path d="M115.8,55.2l1.9-2.3l-1.9,0.3l-1.9,1.9z" color="#e8b434"/><path d="M113.9,54.8l1.9,0.4l-1.9-0.1l-1.9-0.5z" color="#d5a72e"/><path d="M112.1,52l1.8,2.8l-1.9-0.2l-1.9-2.4z" color="#ce9d2f"/><path d="M110.2,50.8l1.9,1.2l-2,0.2l-1.8-0.4z" color="#d6a52f"/><path d="M108.3,51.1l1.9-0.3l-1.9,1l-1.9,1.2z" color="#dcac2f"/><path d="M106.4,51.7l1.9-0.6l-1.9,1.9l-1.9,1z" color="#dfae30"/><path d="M104.5,53.1l1.9-1.4l-1.9,2.3l-1.9,1.2z" color="#e2ae32"/><path d="M102.6,54.9l1.9-1.8l-1.9,2.1l-1.9,1.5z" color="#e3ad34"/><path d="M100.7,55.8l1.9-0.9l-1.9,1.8l-1.9,0.7z" color="#dda833"/><path d="M98.8,56.2l1.9-0.4l-1.9,1.6l-1.9,0z" color="#daa533"/><path d="M96.9,57.2l1.9-1l-1.9,1.2l-1.9,0z" color="#e5ac36"/><path d="M95.1,58.9l1.8-1.7l-1.9,0.2l-1.8,0.7z" color="#f7be40"/><path d="M93.2,60.7l1.9-1.8l-1.9-0.8l-1.9,1.7z" color="#ffcd48"/><path d="M91.3,61.4l1.9-0.7l-1.9-0.9l-1.9,1.3z" color="#f4c33e"/><path d="M89.4,61.4l1.9,0l-1.9-0.3l-1.9,0.7z" color="#e3b232"/><path d="M87.5,62.3l1.9-0.9l-1.9,0.4l-1.9,0.8z" color="#dfaf30"/><path d="M85.6,63.1l1.9-0.8l-1.9,0.3l-1.9,0.6z" color="#daad2e"/><path d="M83.7,62.5l1.9,0.6l-1.9,0.1l-1.9-0.1z" color="#d0a32d"/><path d="M81.8,61.3l1.9,1.2l-1.9,0.6l-1.9-0.4z" color="#cd9d2f"/><path d="M80,60.7l1.8,0.6l-1.9,1.4l-1.9-0.2z" color="#d29f31"/><path d="M78.1,61.8l1.9-1.1l-2,1.8l-1.8,0.9z" color="#dca733"/><path d="M76.2,63.8l1.9-2l-1.9,1.6l-1.9,1.3z" color="#e3ad35"/><path d="M74.3,64.7l1.9-0.9l-1.9,0.9l-1.9,0.7z" color="#e0ac34"/><path d="M72.4,65l1.9-0.3l-1.9,0.7l-1.9,0.5z" color="#dca933"/><path d="M70.5,65.7l1.9-0.7l-1.9,0.9l-1.9,0.8z" color="#dca933"/><path d="M68.6,66.9l1.9-1.2l-1.9,1l-1.9,0.9z" color="#dead32"/><path d="M66.7,68.5l1.9-1.6l-1.9,0.7l-1.9,1z" color="#e3b430"/><path d="M64.8,70.5l1.9-2l-1.9,0.1l-1.9,1.9z" color="#e1ba2c"/><path d="M63,72.7l1.8-2.2l-1.9,0l-1.8,2.7z" color="#d2bc29"/><path d="M61.1,75.5l1.9-2.8l-1.9,0.5l-1.9,3.1z" color="#bbbe2d"/><path d="M59.2,80.4l1.9-4.9l-1.9,0.8l-1.9,4.7z" color="#97c243"/><path d="M57.3,88l1.9-7.6l-1.9,0.6l-1.9,6.7z" color="#5fc56f"/><path d="M55.4,96.3l1.9-8.3l-1.9-0.3l-1.9,7.2z" color="#27c1a2"/><path d="M53.5,102.6l1.9-6.3l-1.9-1.4l-1.9,6z" color="#13b7c9"/><path d="M166.8,63.2l1.9-3.1l-1.9-0.8l-1.9,3.4z" color="#3ed0a1"/><path d="M164.9,63.2l1.9,0l-1.9-0.5l-1.9,0z" color="#30ba97"/><path d="M163.1,61.4l1.8,1.8l-1.9-0.5l-1.9-2.1z" color="#2fa67d"/><path d="M161.2,58.9l1.9,2.5l-2-0.8l-1.8-2.9z" color="#41a96b"/><path d="M159.3,57.4l1.9,1.5l-1.9-1.2l-1.9-2z" color="#5fb45d"/><path d="M157.4,59.1l1.9-1.7l-1.9-1.7l-1.9,1z" color="#98df8a"/><path d="M155.5,61.3l1.9-2.2l-1.9-2.4l-1.9,2.2z" color="#b1fdbb"/><path d="M153.6,60.9l1.9,0.4l-1.9-2.4l-1.9,0.7z" color="#7ad890"/><path d="M151.7,58.5l1.9,2.4l-1.9-1.3l-1.9-1.2z" color="#5baf5a"/><path d="M149.8,55.5l1.9,3l-1.9-0.1l-1.9-2.4z" color="#73a843"/><path d="M147.9,53.4l1.9,2.1l-1.9,0.5l-1.9-1.9z" color="#8da531"/><path d="M146.1,53l1.8,0.4l-1.9,0.7l-1.8-0.7z" color="#a3a928"/><path d="M144.2,54.2l1.9-1.2l-1.9,0.4l-1.9,0.5z" color="#b7b92c"/><path d="M142.3,55.3l1.9-1.1l-1.9-0.3l-1.9,0.3z" color="#c3c936"/><path d="M140.4,55.6l1.9-0.3l-1.9-1.1l-1.9-0.2z" color="#cace39"/><path d="M138.5,56.5l1.9-0.9l-1.9-1.6l-1.9,0.9z" color="#dee14c"/><path d="M136.6,57.5l1.9-1l-1.9-1.6l-1.9,1.7z" color="#d7e14f"/><path d="M134.7,57.1l1.9,0.4l-1.9-0.9l-1.9,0.2z" color="#aeba32"/><path d="M132.8,55.5l1.9,1.6l-1.9-0.3l-1.9-1.5z" color="#a5a225"/><path d="M130.9,53.6l1.9,1.9l-1.9-0.2l-1.9-2z" color="#b49d23"/><path d="M129.1,52.3l1.8,1.3l-1.9-0.3l-1.8-0.9z" color="#c59d29"/><path d="M127.2,52l1.9,0.3l-1.9,0.1l-1.9,0.3z" color="#d3a330"/><path d="M125.3,52.3l1.9-0.3l-1.9,0.7l-1.9,0.5z" color="#d8a632"/><path d="M123.4,52.4l1.9-0.1l-1.9,0.9l-1.9-0.2z" color="#d4a232"/><path d="M121.5,51.7l1.9,0.7l-1.9,0.6l-1.9-0.8z" color="#d7a233"/><path d="M119.6,52.5l1.9-0.8l-1.9,0.5l-1.9,0.7z" color="#eab038"/><path d="M117.7,55l1.9-2.5l-1.9,0.4l-1.9,2.3z" color="#f0b638"/><path d="M115.8,54.9l1.9,0.1l-1.9,0.2l-1.9-0.4z" color="#dba733"/><path d="M114,52.1l1.8,2.8l-1.9-0.1l-1.8-2.8z" color="#d09f2f"/><path d="M112.1,50.2l1.9,1.9l-1.9-0.1l-1.9-1.2z" color="#d2a82b"/><path d="M110.2,49.7l1.9,0.5l-1.9,0.6l-1.9,0.3z" color="#d4b128"/><path d="M108.3,50l1.9-0.3l-1.9,1.4l-1.9,0.6z" color="#dbb829"/><path d="M106.4,51.2l1.9-1.2l-1.9,1.7l-1.9,1.4z" color="#e2bc2b"/><path d="M104.5,52.9l1.9-1.7l-1.9,1.9l-1.9,1.8z" color="#e4b82e"/><path d="M102.6,53.8l1.9-0.9l-1.9,2l-1.9,0.9z" color="#e1b12f"/><path d="M100.7,54.7l1.9-0.9l-1.9,2l-1.9,0.4z" color="#e1b130"/><path d="M98.8,56.4l1.9-1.7l-1.9,1.5l-1.9,1z" color="#ecb734"/><path d="M97,58.9l1.8-2.5l-1.9,0.8l-1.8,1.7z" color="#f9bd3b"/><path d="M95.1,61.2l1.9-2.3l-1.9,0l-1.9,1.8z" color="#fbc13f"/><path d="M93.2,61.4l1.9-0.2l-1.9-0.5l-1.9,0.7z" color="#ebb639"/><path d="M91.3,60.6l1.9,0.8l-1.9,0l-1.9,0z" color="#daa633"/><path d="M89.4,61.1l1.9-0.5l-1.9,0.8l-1.9,0.9z" color="#dca734"/><path d="M87.5,61.9l1.9-0.8l-1.9,1.2l-1.9,0.8z" color="#d8a532"/><path d="M85.6,61.1l1.9,0.8l-1.9,1.2l-1.9-0.6z" color="#d19f31"/><path d="M83.7,59.7l1.9,1.4l-1.9,1.4l-1.9-1.2z" color="#d1a02f"/><path d="M81.9,58.9l1.8,0.8l-1.9,1.6l-1.8-0.6z" color="#d6a82d"/><path d="M80,60.4l1.9-1.5l-1.9,1.8l-1.9,1.1z" color="#e3b230"/><path d="M78.1,62.8l1.9-2.4l-1.9,1.4l-1.9,2z" color="#eeb735"/><path d="M76.2,64l1.9-1.2l-1.9,1l-1.9,0.9z" color="#ecb238"/><path d="M74.3,64.5l1.9-0.5l-1.9,0.7l-1.9,0.3z" color="#e8ae37"/><path d="M72.4,65.1l1.9-0.6l-1.9,0.5l-1.9,0.7z" color="#eab038"/><path d="M70.5,66.5l1.9-1.4l-1.9,0.6l-1.9,1.2z" color="#efb439"/><path d="M68.6,68.4l1.9-1.9l-1.9,0.4l-1.9,1.6z" color="#efb737"/><path d="M66.7,70.7l1.9-2.3l-1.9,0.1l-1.9,2z" color="#e9bb31"/><path d="M64.9,72.7l1.8-2l-1.9-0.2l-1.8,2.2z" color="#ddbd2b"/><path d="M63,74.9l1.9-2.2l-1.9,0l-1.9,2.8z" color="#cabe2a"/><path d="M61.1,79.8l1.9-4.9l-1.9,0.6l-1.9,4.9z" color="#a8c139"/><path d="M59.2,88.3l1.9-8.5l-1.9,0.6l-1.9,7.6z" color="#6ac467"/><path d="M57.3,97.6l1.9-9.3l-1.9-0.3l-1.9,8.3z" color="#27c0a1"/><path d="M55.4,104.1l1.9-6.5l-1.9-1.3l-1.9,6.3z" color="#12b5ca"/><path d="M168.7,63.2l1.9-1.7l-1.9-1.4l-1.9,3.1z" color="#4cd8ac"/><path d="M166.8,63.1l1.9,0.1l-1.9,0l-1.9,0z" color="#30b68f"/><path d="M165,62l1.8,1.1l-1.9,0.1l-1.8-1.8z" color="#31a77a"/><path d="M163.1,60.4l1.9,1.6l-1.9-0.6l-1.9-2.5z" color="#41aa6d"/><path d="M161.2,59.9l1.9,0.5l-1.9-1.5l-1.9-1.5z" color="#63c571"/><path d="M159.3,62.2l1.9-2.3l-1.9-2.5l-1.9,1.7z" color="#8eee9e"/><path d="M157.4,64.1l1.9-1.9l-1.9-3.1l-1.9,2.2z" color="#80eeab"/><path d="M155.5,62.2l1.9,1.9l-1.9-2.8l-1.9-0.4z" color="#55c37d"/><path d="M153.6,58.5l1.9,3.7l-1.9-1.3l-1.9-2.4z" color="#5ca956"/><path d="M151.7,55l1.9,3.5l-1.9,0l-1.9-3z" color="#7da73c"/><path d="M149.8,52.9l1.9,2.1l-1.9,0.5l-1.9-2.1z" color="#9aa329"/><path d="M148,52.9l1.8,0l-1.9,0.5l-1.8-0.4z" color="#b6ae25"/><path d="M146.1,55.2l1.9-2.3l-1.9,0.1l-1.9,1.2z" color="#d4ce37"/><path d="M144.2,57.1l1.9-1.9l-1.9-1l-1.9,1.1z" color="#e6ea54"/><path d="M142.3,57.3l1.9-0.2l-1.9-1.8l-1.9,0.3z" color="#d6de4d"/><path d="M140.4,57.3l1.9,0l-1.9-1.7l-1.9,0.9z" color="#c5cf3c"/><path d="M138.5,57.6l1.9-0.3l-1.9-0.8l-1.9,1z" color="#bac436"/><path d="M136.6,57.2l1.9,0.4l-1.9-0.1l-1.9-0.4z" color="#a6ac29"/><path d="M134.7,55.7l1.9,1.5l-1.9-0.1l-1.9-1.6z" color="#a9a023"/><path d="M132.9,53.5l1.8,2.2l-1.9-0.2l-1.9-1.9z" color="#b99c25"/><path d="M131,51.7l1.9,1.8l-2,0.1l-1.8-1.3z" color="#c89b2c"/><path d="M129.1,51.3l1.9,0.4l-1.9,0.6l-1.9-0.3z" color="#d5a033"/><path d="M127.2,51.8l1.9-0.5l-1.9,0.7l-1.9,0.3z" color="#e1a936"/><path d="M125.3,52.2l1.9-0.4l-1.9,0.5l-1.9,0.1z" color="#e1a936"/><path d="M123.4,51.5l1.9,0.7l-1.9,0.2l-1.9-0.7z" color="#dfa933"/><path d="M121.5,52l1.9-0.5l-1.9,0.2l-1.9,0.8z" color="#ecb435"/><path d="M119.6,54.3l1.9-2.3l-1.9,0.5l-1.9,2.5z" color="#f1b738"/><path d="M117.7,54.4l1.9-0.1l-1.9,0.7l-1.9-0.1z" color="#dea735"/><path d="M115.9,52.1l1.8,2.3l-1.9,0.5l-1.8-2.8z" color="#d2a22e"/><path d="M114,50.1l1.9,2l-1.9,0l-1.9-1.9z" color="#d1ac28"/><path d="M112.1,49.1l1.9,1l-1.9,0.1l-1.9-0.5z" color="#d1b725"/><path d="M110.2,49.3l1.9-0.2l-1.9,0.6l-1.9,0.3z" color="#dbc425"/><path d="M108.3,50.2l1.9-0.9l-1.9,0.7l-1.9,1.2z" color="#e5cc27"/><path d="M106.4,51.3l1.9-1.1l-1.9,1l-1.9,1.7z" color="#e5c828"/><path d="M104.5,52.2l1.9-0.9l-1.9,1.6l-1.9,0.9z" color="#e2c129"/><path d="M102.6,53.4l1.9-1.2l-1.9,1.6l-1.9,0.9z" color="#e5c12b"/><path d="M100.7,55.4l1.9-2l-1.9,1.3l-1.9,1.7z" color="#eec32e"/><path d="M98.9,58.3l1.8-2.9l-1.9,1l-1.8,2.5z" color="#f6c035"/><path d="M97,61l1.9-2.7l-1.9,0.6l-1.9,2.3z" color="#f6ba3a"/><path d="M95.1,61l1.9,0l-1.9,0.2l-1.9,0.2z" color="#e3ab37"/><path d="M93.2,59.3l1.9,1.7l-1.9,0.4l-1.9-0.8z" color="#d4a031"/><path d="M91.3,59.3l1.9,0l-1.9,1.3l-1.9,0.5z" color="#d8a530"/><path d="M89.4,59.9l1.9-0.6l-1.9,1.8l-1.9,0.8z" color="#d7a530"/><path d="M87.5,59.3l1.9,0.6l-1.9,2l-1.9-0.8z" color="#d3a42e"/><path d="M85.6,58.1l1.9,1.2l-1.9,1.8l-1.9-1.4z" color="#d2a92a"/><path d="M83.8,57.6l1.8,0.5l-1.9,1.6l-1.8-0.8z" color="#d7b528"/><path d="M81.9,59.4l1.9-1.8l-1.9,1.3l-1.9,1.5z" color="#e6c22b"/><path d="M80,62.1l1.9-2.7l-1.9,1l-1.9,2.4z" color="#f3c331"/><path d="M78.1,63.7l1.9-1.6l-1.9,0.7l-1.9,1.2z" color="#f4bc36"/><path d="M76.2,64.4l1.9-0.7l-1.9,0.3l-1.9,0.5z" color="#f2b937"/><path d="M74.3,65.1l1.9-0.7l-1.9,0.1l-1.9,0.6z" color="#f5ba38"/><path d="M72.4,66.2l1.9-1.1l-1.9,0l-1.9,1.4z" color="#f8bc3a"/><path d="M70.5,68l1.9-1.8l-1.9,0.3l-1.9,1.9z" color="#f5b93a"/><path d="M68.6,70.5l1.9-2.5l-1.9,0.4l-1.9,2.3z" color="#edb835"/><path d="M66.8,72.8l1.8-2.3l-1.9,0.2l-1.8,2z" color="#e4bc2e"/><path d="M64.9,74.7l1.9-1.9l-1.9-0.1l-1.9,2.2z" color="#d6be2a"/><path d="M63,79.6l1.9-4.9l-1.9,0.2l-1.9,4.9z" color="#b7c033"/><path d="M61.1,88.8l1.9-9.2l-1.9,0.2l-1.9,8.5z" color="#73c460"/><path d="M59.2,98.8l1.9-10l-1.9-0.5l-1.9,9.3z" color="#28bf9f"/><path d="M57.3,105.5l1.9-6.7l-1.9-1.2l-1.9,6.5z" color="#12b3cb"/><path d="M170.6,63l1.9,0.2l-1.9-1.7l-1.9,1.7z" color="#46ca9f"/><path d="M168.7,62.8l1.9,0.2l-1.9,0.2l-1.9-0.1z" color="#33b184"/><path d="M166.9,62.6l1.8,0.2l-1.9,0.3l-1.8-1.1z" color="#37ae7b"/><path d="M165,62.5l1.9,0.1l-1.9-0.6l-1.9-1.6z" color="#43b677"/><path d="M163.1,62.9l1.9-0.4l-1.9-2.1l-1.9-0.5z" color="#6adb93"/><path d="M161.2,65.3l1.9-2.4l-1.9-3l-1.9,2.3z" color="#8efcc4"/><path d="M159.3,66.3l1.9-1l-1.9-3.1l-1.9,1.9z" color="#65dbae"/><path d="M157.4,63.4l1.9,2.9l-1.9-2.2l-1.9-1.9z" color="#40b074"/><path d="M155.5,59l1.9,4.4l-1.9-1.2l-1.9-3.7z" color="#5da954"/><path d="M153.6,55.4l1.9,3.6l-1.9-0.5l-1.9-3.5z" color="#85a637"/><path d="M151.7,53.3l1.9,2.1l-1.9-0.4l-1.9-2.1z" color="#a3a226"/><path d="M149.9,53.7l1.8-0.4l-1.9-0.4l-1.8,0z" color="#cdbd30"/><path d="M148,57.2l1.9-3.5l-1.9-0.8l-1.9,2.3z" color="#eae54b"/><path d="M146.1,59.7l1.9-2.5l-1.9-2l-1.9,1.9z" color="#e5f464"/><path d="M144.2,59.1l1.9,0.6l-1.9-2.6l-1.9,0.2z" color="#c3d751"/><path d="M142.3,57.9l1.9,1.2l-1.9-1.8l-1.9,0z" color="#a7b42e"/><path d="M140.4,57.5l1.9,0.4l-1.9-0.6l-1.9,0.3z" color="#abaf29"/><path d="M138.5,57.3l1.9,0.2l-1.9,0.1l-1.9-0.4z" color="#aba825"/><path d="M136.6,56.2l1.9,1.1l-1.9-0.1l-1.9-1.5z" color="#afa022"/><path d="M134.8,53.7l1.8,2.5l-1.9-0.5l-1.8-2.2z" color="#be9c27"/><path d="M132.9,51.6l1.9,2.1l-1.9-0.2l-1.9-1.8z" color="#cc9c2f"/><path d="M131,51.2l1.9,0.4l-1.9,0.1l-1.9-0.4z" color="#dea833"/><path d="M129.1,52.2l1.9-1l-1.9,0.1l-1.9,0.5z" color="#f1b938"/><path d="M127.2,52.8l1.9-0.6l-1.9-0.4l-1.9,0.4z" color="#eeb638"/><path d="M125.3,51.7l1.9,1.1l-1.9-0.6l-1.9-0.7z" color="#e1ad32"/><path d="M123.4,51.4l1.9,0.3l-1.9-0.2l-1.9,0.5z" color="#e7b630"/><path d="M121.5,53.1l1.9-1.7l-1.9,0.6l-1.9,2.3z" color="#edb933"/><path d="M119.6,53.5l1.9-0.4l-1.9,1.2l-1.9,0.1z" color="#dfaa32"/><path d="M117.8,52.1l1.8,1.4l-1.9,0.9l-1.8-2.3z" color="#d2a62c"/><path d="M115.9,50.3l1.9,1.8l-1.9,0l-1.9-2z" color="#d0b026"/><path d="M114,49.4l1.9,0.9l-1.9-0.2l-1.9-1z" color="#d1bc23"/><path d="M112.1,49.6l1.9-0.2l-1.9-0.3l-1.9,0.2z" color="#e0cf24"/><path d="M110.2,50.2l1.9-0.6l-1.9-0.3l-1.9,0.9z" color="#eddb26"/><path d="M108.3,50.8l1.9-0.6l-1.9,0l-1.9,1.1z" color="#ebd726"/><path d="M106.4,51.5l1.9-0.7l-1.9,0.5l-1.9,0.9z" color="#e7d126"/><path d="M104.5,52.6l1.9-1.1l-1.9,0.7l-1.9,1.2z" color="#e9d127"/><path d="M102.7,54.6l1.8-2l-1.9,0.8l-1.9,2z" color="#f0d02b"/><path d="M100.8,57.5l1.9-2.9l-2,0.8l-1.8,2.9z" color="#f5c830"/><path d="M98.9,60.3l1.9-2.8l-1.9,0.8l-1.9,2.7z" color="#f5bd36"/><path d="M97,60.1l1.9,0.2l-1.9,0.7l-1.9,0z" color="#e3ac35"/><path d="M95.1,58l1.9,2.1l-1.9,0.9l-1.9-1.7z" color="#d2a42d"/><path d="M93.2,57.6l1.9,0.4l-1.9,1.3l-1.9,0z" color="#d5ad2a"/><path d="M91.3,58.2l1.9-0.6l-1.9,1.7l-1.9,0.6z" color="#d7b02a"/><path d="M89.4,57.9l1.9,0.3l-1.9,1.7l-1.9-0.6z" color="#d3af28"/><path d="M87.5,57.1l1.9,0.8l-1.9,1.4l-1.9-1.2z" color="#d0b325"/><path d="M85.7,57.1l1.8,0l-1.9,1l-1.8-0.5z" color="#dbc425"/><path d="M83.8,59l1.9-1.9l-1.9,0.5l-1.9,1.8z" color="#eed329"/><path d="M81.9,61.7l1.9-2.7l-1.9,0.4l-1.9,2.7z" color="#f6cf2e"/><path d="M80,63.6l1.9-1.9l-1.9,0.4l-1.9,1.6z" color="#fac733"/><path d="M78.1,64.7l1.9-1.1l-1.9,0.1l-1.9,0.7z" color="#fbc436"/><path d="M76.2,65.4l1.9-0.7l-1.9-0.3l-1.9,0.7z" color="#fbc337"/><path d="M74.3,66.1l1.9-0.7l-1.9-0.3l-1.9,1.1z" color="#fac037"/><path d="M72.4,67.3l1.9-1.2l-1.9,0.1l-1.9,1.8z" color="#f6bb39"/><path d="M70.6,70l1.8-2.7l-1.9,0.7l-1.9,2.5z" color="#f2b838"/><path d="M68.7,72.9l1.9-2.9l-2,0.5l-1.8,2.3z" color="#eaba32"/><path d="M66.8,75.1l1.9-2.2l-1.9-0.1l-1.9,1.9z" color="#debe2c"/><path d="M64.9,80.2l1.9-5.1l-1.9-0.4l-1.9,4.9z" color="#bfc131"/><path d="M63,89.5l1.9-9.3l-1.9-0.6l-1.9,9.2z" color="#78c45c"/><path d="M61.1,99.7l1.9-10.2l-1.9-0.7l-1.9,10z" color="#28be9e"/><path d="M59.2,106.4l1.9-6.7l-1.9-0.9l-1.9,6.7z" color="#11b0ca"/><path d="M172.5,62.7l1.9,1.8l-1.9-1.3l-1.9-0.2z" color="#32ad80"/><path d="M170.6,62.7l1.9,0l-1.9,0.3l-1.9-0.2z" color="#3ab27c"/><path d="M168.8,63.8l1.8-1.1l-1.9,0.1l-1.8-0.2z" color="#4ccb8f"/><path d="M166.9,64.9l1.9-1.1l-1.9-1.2l-1.9-0.1z" color="#5ce0a2"/><path d="M165,65.7l1.9-0.8l-1.9-2.4l-1.9,0.4z" color="#73f1ba"/><path d="M163.1,67.1l1.9-1.4l-1.9-2.8l-1.9,2.4z" color="#7af6ce"/><path d="M161.2,67.1l1.9,0l-1.9-1.8l-1.9,1z" color="#4fcba4"/><path d="M159.3,64.2l1.9,2.9l-1.9-0.8l-1.9-2.9z" color="#3ca972"/><path d="M157.4,60.2l1.9,4l-1.9-0.8l-1.9-4.4z" color="#5da955"/><path d="M155.5,57l1.9,3.2l-1.9-1.2l-1.9-3.6z" color="#84a637"/><path d="M153.7,54.9l1.8,2.1l-1.9-1.6l-1.9-2.1z" color="#a5a527"/><path d="M151.8,55.6l1.9-0.7l-2-1.6l-1.8,0.4z" color="#d9ce3d"/><path d="M149.9,59.9l1.9-4.3l-1.9-1.9l-1.9,3.5z" color="#e7ef59"/><path d="M148,62.8l1.9-2.9l-1.9-2.7l-1.9,2.5z" color="#bfe860"/><path d="M146.1,61.4l1.9,1.4l-1.9-3.1l-1.9-0.6z" color="#9ec84d"/><path d="M144.2,59.2l1.9,2.2l-1.9-2.3l-1.9-1.2z" color="#96a82e"/><path d="M142.3,58.3l1.9,0.9l-1.9-1.3l-1.9-0.4z" color="#a8a926"/><path d="M140.4,58.3l1.9,0l-1.9-0.8l-1.9-0.2z" color="#b4ab24"/><path d="M138.5,57.5l1.9,0.8l-1.9-1l-1.9-1.1z" color="#b5a423"/><path d="M136.7,54.9l1.8,2.6l-1.9-1.3l-1.8-2.5z" color="#be9c28"/><path d="M134.8,52.8l1.9,2.1l-1.9-1.2l-1.9-2.1z" color="#ce9d30"/><path d="M132.9,52.4l1.9,0.4l-1.9-1.2l-1.9-0.4z" color="#e7b136"/><path d="M131,53.5l1.9-1.1l-1.9-1.2l-1.9,1z" color="#fcd047"/><path d="M129.1,54l1.9-0.5l-1.9-1.3l-1.9,0.6z" color="#f2c644"/><path d="M127.2,52.4l1.9,1.6l-1.9-1.2l-1.9-1.1z" color="#ddab30"/><path d="M125.3,51.2l1.9,1.2l-1.9-0.7l-1.9-0.3z" color="#deb32c"/><path d="M123.4,52.1l1.9-0.9l-1.9,0.2l-1.9,1.7z" color="#e7bc2d"/><path d="M121.5,52.6l1.9-0.5l-1.9,1l-1.9,0.4z" color="#e0b42d"/><path d="M119.7,51.9l1.8,0.7l-1.9,0.9l-1.8-1.4z" color="#d3ae29"/><path d="M117.8,50.6l1.9,1.3l-1.9,0.2l-1.9-1.8z" color="#ceb424"/><path d="M115.9,50l1.9,0.6l-1.9-0.3l-1.9-0.9z" color="#d5c323"/><path d="M114,50.5l1.9-0.5l-1.9-0.6l-1.9,0.2z" color="#ebdc27"/><path d="M112.1,51.2l1.9-0.7l-1.9-0.9l-1.9,0.6z" color="#f8e82a"/><path d="M110.2,51.4l1.9-0.2l-1.9-1l-1.9,0.6z" color="#f3e227"/><path d="M108.3,51.6l1.9-0.2l-1.9-0.6l-1.9,0.7z" color="#eede25"/><path d="M106.4,52.4l1.9-0.8l-1.9-0.1l-1.9,1.1z" color="#f1e027"/><path d="M104.6,54.4l1.8-2l-1.9,0.2l-1.8,2z" color="#f6de2a"/><path d="M102.7,57.3l1.9-2.9l-1.9,0.2l-1.9,2.9z" color="#f9d52f"/><path d="M100.8,59.9l1.9-2.6l-1.9,0.2l-1.9,2.8z" color="#fac734"/><path d="M98.9,59.5l1.9,0.4l-1.9,0.4l-1.9-0.2z" color="#e5b331"/><path d="M97,57.3l1.9,2.2l-1.9,0.6l-1.9-2.1z" color="#d1ab29"/><path d="M95.1,57l1.9,0.3l-1.9,0.7l-1.9-0.4z" color="#d6b926"/><path d="M93.2,57.7l1.9-0.7l-1.9,0.6l-1.9,0.6z" color="#dec227"/><path d="M91.3,57.5l1.9,0.2l-1.9,0.5l-1.9-0.3z" color="#d9bf26"/><path d="M89.4,57.1l1.9,0.4l-1.9,0.4l-1.9-0.8z" color="#d6c223"/><path d="M87.6,57.5l1.8-0.4l-1.9,0l-1.8,0z" color="#e8d827"/><path d="M85.7,59.2l1.9-1.7l-1.9-0.4l-1.9,1.9z" color="#f9e52c"/><path d="M83.8,61.7l1.9-2.5l-1.9-0.2l-1.9,2.7z" color="#fbda2e"/><path d="M81.9,63.8l1.9-2.1l-1.9,0l-1.9,1.9z" color="#fdd032"/><path d="M80,65.1l1.9-1.3l-1.9-0.2l-1.9,1.1z" color="#ffcc35"/><path d="M78.1,65.7l1.9-0.6l-1.9-0.4l-1.9,0.7z" color="#fbc535"/><path d="M76.2,65.9l1.9-0.2l-1.9-0.3l-1.9,0.7z" color="#f4bf33"/><path d="M74.3,66.6l1.9-0.7l-1.9,0.2l-1.9,1.2z" color="#f4be34"/><path d="M72.5,69.5l1.8-2.9l-1.9,0.7l-1.8,2.7z" color="#f6bc38"/><path d="M70.6,72.9l1.9-3.4l-1.9,0.5l-1.9,2.9z" color="#f0ba37"/><path d="M68.7,75.7l1.9-2.8l-1.9,0l-1.9,2.2z" color="#e4bd2e"/><path d="M66.8,80.7l1.9-5l-1.9-0.6l-1.9,5.1z" color="#c4c131"/><path d="M64.9,89.3l1.9-8.6l-1.9-0.5l-1.9,9.3z" color="#7dc458"/><path d="M63,98.5l1.9-9.2l-1.9,0.2l-1.9,10.2z" color="#30be97"/><path d="M61.1,104.8l1.9-6.3l-1.9,1.2l-1.9,6.7z" color="#11afc1"/><path d="M174.4,62.4l1.9,2.7l-1.9-0.6l-1.9-1.8z" color="#34a777"/><path d="M172.5,63l1.9-0.6l-1.9,0.3l-1.9,0z" color="#45bb7b"/><path d="M170.7,65.2l1.8-2.2l-1.9-0.3l-1.8,1.1z" color="#5ee5a3"/><path d="M168.8,67.1l1.9-1.9l-1.9-1.4l-1.9,1.1z" color="#77fece"/><path d="M166.9,67.6l1.9-0.5l-1.9-2.2l-1.9,0.8z" color="#6df1ca"/><path d="M165,67.5l1.9,0.1l-1.9-1.9l-1.9,1.4z" color="#4cd3a7"/><path d="M163.1,66.7l1.9,0.8l-1.9-0.4l-1.9,0z" color="#37b686"/><path d="M161.2,64.8l1.9,1.9l-1.9,0.4l-1.9-2.9z" color="#3ea86e"/><path d="M159.3,62.1l1.9,2.7l-1.9-0.6l-1.9-4z" color="#5ba956"/><path d="M157.4,59.5l1.9,2.6l-1.9-1.9l-1.9-3.2z" color="#7ca73d"/><path d="M155.6,57.4l1.8,2.1l-1.9-2.5l-1.8-2.1z" color="#9da92c"/><path d="M153.7,58.1l1.9-0.7l-1.9-2.5l-1.9,0.7z" color="#d3d444"/><path d="M151.8,62.8l1.9-4.7l-1.9-2.5l-1.9,4.3z" color="#d5f061"/><path d="M149.9,65.8l1.9-3l-1.9-2.9l-1.9,2.9z" color="#a1e36a"/><path d="M148,64.2l1.9,1.6l-1.9-3l-1.9-1.4z" color="#84c458"/><path d="M146.1,61.8l1.9,2.4l-1.9-2.8l-1.9-2.2z" color="#86a636"/><path d="M144.2,60.6l1.9,1.2l-1.9-2.6l-1.9-0.9z" color="#a0aa2b"/><path d="M142.3,60.5l1.9,0.1l-1.9-2.3l-1.9,0z" color="#b1b028"/><path d="M140.4,59.8l1.9,0.7l-1.9-2.2l-1.9-0.8z" color="#b2a824"/><path d="M138.6,57.3l1.8,2.5l-1.9-2.3l-1.8-2.6z" color="#b99d25"/><path d="M136.7,55.2l1.9,2.1l-1.9-2.4l-1.9-2.1z" color="#cc9d2e"/><path d="M134.8,54.7l1.9,0.5l-1.9-2.4l-1.9-0.4z" color="#e7b038"/><path d="M132.9,55.4l1.9-0.7l-1.9-2.3l-1.9,1.1z" color="#fccd4a"/><path d="M131,55.5l1.9-0.1l-1.9-1.9l-1.9,0.5z" color="#eec045"/><path d="M129.1,53.3l1.9,2.2l-1.9-1.5l-1.9-1.6z" color="#d8a62f"/><path d="M127.2,51.5l1.9,1.8l-1.9-0.9l-1.9-1.2z" color="#d6af2a"/><path d="M125.3,51.9l1.9-0.4l-1.9-0.3l-1.9,0.9z" color="#e4bf2a"/><path d="M123.5,52.5l1.8-0.6l-1.9,0.2l-1.9,0.5z" color="#e8c22b"/><path d="M121.6,52.2l1.9,0.3l-2,0.1l-1.8-0.7z" color="#daba28"/><path d="M119.7,51.2l1.9,1l-1.9-0.3l-1.9-1.3z" color="#d1ba24"/><path d="M117.8,50.8l1.9,0.4l-1.9-0.6l-1.9-0.6z" color="#decd24"/><path d="M115.9,52l1.9-1.2l-1.9-0.8l-1.9,0.5z" color="#f6eb38"/><path d="M114,52.9l1.9-0.9l-1.9-1.5l-1.9,0.7z" color="#fef23d"/><path d="M112.1,52.9l1.9,0l-1.9-1.7l-1.9,0.2z" color="#f4e32b"/><path d="M110.2,52.6l1.9,0.3l-1.9-1.5l-1.9,0.2z" color="#eede25"/><path d="M108.3,53.2l1.9-0.6l-1.9-1l-1.9,0.8z" color="#f6eb2f"/><path d="M106.5,55.3l1.8-2.1l-1.9-0.8l-1.8,2z" color="#fdf138"/><path d="M104.6,58.2l1.9-2.9l-1.9-0.9l-1.9,2.9z" color="#fee739"/><path d="M102.7,60.4l1.9-2.2l-1.9-0.9l-1.9,2.6z" color="#fed73a"/><path d="M100.8,59.8l1.9,0.6l-1.9-0.5l-1.9-0.4z" color="#e8bc31"/><path d="M98.9,57.8l1.9,2l-1.9-0.3l-1.9-2.2z" color="#d0b027"/><path d="M97,57.8l1.9,0l-1.9-0.5l-1.9-0.3z" color="#dfc627"/><path d="M95.1,58.6l1.9-0.8l-1.9-0.8l-1.9,0.7z" color="#eed529"/><path d="M93.2,58.3l1.9,0.3l-1.9-0.9l-1.9-0.2z" color="#e5ce27"/><path d="M91.3,58l1.9,0.3l-1.9-0.8l-1.9-0.4z" color="#e2d024"/><path d="M89.5,58.6l1.8-0.6l-1.9-0.9l-1.8,0.4z" color="#f3e933"/><path d="M87.6,60l1.9-1.4l-1.9-1.1l-1.9,1.7z" color="#fff73d"/><path d="M85.7,62l1.9-2l-1.9-0.8l-1.9,2.5z" color="#fee835"/><path d="M83.8,64.1l1.9-2.1l-1.9-0.3l-1.9,2.1z" color="#fed732"/><path d="M81.9,65.5l1.9-1.4l-1.9-0.3l-1.9,1.3z" color="#fecf34"/><path d="M80,65.8l1.9-0.3l-1.9-0.4l-1.9,0.6z" color="#f4c332"/><path d="M78.1,65.7l1.9,0.1l-1.9-0.1l-1.9,0.2z" color="#eabc2f"/><path d="M76.2,66.3l1.9-0.6l-1.9,0.2l-1.9,0.7z" color="#f1c230"/><path d="M74.4,69.3l1.8-3l-1.9,0.3l-1.8,2.9z" color="#fac336"/><path d="M72.5,73.2l1.9-3.9l-1.9,0.2l-1.9,3.4z" color="#f5bc38"/><path d="M70.6,76.4l1.9-3.2l-1.9-0.3l-1.9,2.8z" color="#e7bd31"/><path d="M68.7,81.1l1.9-4.7l-1.9-0.7l-1.9,5z" color="#c7c030"/><path d="M66.8,88.3l1.9-7.2l-1.9-0.4l-1.9,8.6z" color="#87c350"/><path d="M64.9,96l1.9-7.7l-1.9,1l-1.9,9.2z" color="#41bf88"/><path d="M63,101.7l1.9-5.7l-1.9,2.5l-1.9,6.3z" color="#17b3af"/><path d="M176.3,62.6l1.9,2.6l-1.9-0.1l-1.9-2.7z" color="#3aa973"/><path d="M174.4,63.8l1.9-1.2l-1.9-0.2l-1.9,0.6z" color="#53c881"/><path d="M172.6,66.6l1.8-2.8l-1.9-0.8l-1.8,2.2z" color="#62eca9"/><path d="M170.7,68.7l1.9-2.1l-1.9-1.4l-1.9,1.9z" color="#6df9ce"/><path d="M168.8,68.6l1.9,0.1l-1.9-1.6l-1.9,0.5z" color="#54dbb8"/><path d="M166.9,67.2l1.9,1.4l-1.9-1l-1.9-0.1z" color="#33b184"/><path d="M165,66l1.9,1.2l-1.9,0.3l-1.9-0.8z" color="#38a974"/><path d="M163.1,65.5l1.9,0.5l-1.9,0.7l-1.9-1.9z" color="#45ab69"/><path d="M161.2,64.4l1.9,1.1l-1.9-0.7l-1.9-2.7z" color="#57ab5b"/><path d="M159.3,62.3l1.9,2.1l-1.9-2.3l-1.9-2.6z" color="#6fa947"/><path d="M157.5,60.3l1.8,2l-1.9-2.8l-1.8-2.1z" color="#8dac36"/><path d="M155.6,60.8l1.9-0.5l-1.9-2.9l-1.9,0.7z" color="#c5d74f"/><path d="M153.7,65.3l1.9-4.5l-1.9-2.7l-1.9,4.7z" color="#c3f16e"/><path d="M151.8,68.4l1.9-3.1l-1.9-2.5l-1.9,3z" color="#92eb80"/><path d="M149.9,67.1l1.9,1.3l-1.9-2.6l-1.9-1.6z" color="#78ce70"/><path d="M148,65.1l1.9,2l-1.9-2.9l-1.9-2.4z" color="#75aa44"/><path d="M146.1,64.2l1.9,0.9l-1.9-3.3l-1.9-1.2z" color="#8eae37"/><path d="M144.2,63.8l1.9,0.4l-1.9-3.6l-1.9-0.1z" color="#9eb332"/><path d="M142.3,62.7l1.9,1.1l-1.9-3.3l-1.9-0.7z" color="#a3ab2b"/><path d="M140.5,60.4l1.8,2.3l-1.9-2.9l-1.8-2.5z" color="#ada024"/><path d="M138.6,58.4l1.9,2l-1.9-3.1l-1.9-2.1z" color="#c29f28"/><path d="M136.7,57.8l1.9,0.6l-1.9-3.2l-1.9-0.5z" color="#dba932"/><path d="M134.8,57.8l1.9,0l-1.9-3.1l-1.9,0.7z" color="#ecb53a"/><path d="M132.9,57.1l1.9,0.7l-1.9-2.4l-1.9,0.1z" color="#e1ab38"/><path d="M131,54.3l1.9,2.8l-1.9-1.6l-1.9-2.2z" color="#d3a32f"/><path d="M129.1,52.3l1.9,2l-1.9-1l-1.9-1.8z" color="#d4ae29"/><path d="M127.2,52.6l1.9-0.3l-1.9-0.8l-1.9,0.4z" color="#e7c62b"/><path d="M125.4,53.4l1.8-0.8l-1.9-0.7l-1.8,0.6z" color="#f5d22e"/><path d="M123.5,53.3l1.9,0.1l-1.9-0.9l-1.9-0.3z" color="#e6c62a"/><path d="M121.6,52.2l1.9,1.1l-1.9-1.1l-1.9-1z" color="#d8c025"/><path d="M119.7,51.9l1.9,0.3l-1.9-1l-1.9-0.4z" color="#e8d929"/><path d="M117.8,53.5l1.9-1.6l-1.9-1.1l-1.9,1.2z" color="#fcf74d"/><path d="M115.9,54.8l1.9-1.3l-1.9-1.5l-1.9,0.9z" color="#fff853"/><path d="M114,54.7l1.9,0.1l-1.9-1.9l-1.9,0z" color="#f2e030"/><path d="M112.1,54.2l1.9,0.5l-1.9-1.8l-1.9-0.3z" color="#e8d626"/><path d="M110.2,54.6l1.9-0.4l-1.9-1.6l-1.9,0.6z" color="#f5ed44"/><path d="M108.4,56.9l1.8-2.3l-1.9-1.4l-1.8,2.1z" color="#fffe55"/><path d="M106.5,59.9l1.9-3l-1.9-1.6l-1.9,2.9z" color="#fff94d"/><path d="M104.6,61.6l1.9-1.7l-1.9-1.7l-1.9,2.2z" color="#ffe548"/><path d="M102.7,60.9l1.9,0.7l-1.9-1.2l-1.9-0.6z" color="#e9c033"/><path d="M100.8,59.2l1.9,1.7l-1.9-1.1l-1.9-2z" color="#d3b327"/><path d="M98.9,59.4l1.9-0.2l-1.9-1.4l-1.9,0z" color="#e8cf2b"/><path d="M97,60.2l1.9-0.8l-1.9-1.6l-1.9,0.8z" color="#f8de2e"/><path d="M95.1,59.7l1.9,0.5l-1.9-1.6l-1.9-0.3z" color="#ead128"/><path d="M93.3,59.4l1.8,0.3l-1.9-1.4l-1.9-0.3z" color="#e8d426"/><path d="M91.4,60.1l1.9-0.7l-2-1.4l-1.8,0.6z" color="#f7ee3d"/><path d="M89.5,61.1l1.9-1l-1.9-1.5l-1.9,1.4z" color="#ffff54"/><path d="M87.6,62.6l1.9-1.5l-1.9-1.1l-1.9,2z" color="#fff547"/><path d="M85.7,64.4l1.9-1.8l-1.9-0.6l-1.9,2.1z" color="#ffe137"/><path d="M83.8,65.6l1.9-1.2l-1.9-0.3l-1.9,1.4z" color="#fad032"/><path d="M81.9,65.5l1.9,0.1l-1.9-0.1l-1.9,0.3z" color="#ebbf2e"/><path d="M80,65.3l1.9,0.2l-1.9,0.3l-1.9-0.1z" color="#e3bc2b"/><path d="M78.1,66.3l1.9-1l-1.9,0.4l-1.9,0.6z" color="#f2ca2e"/><path d="M76.3,69.4l1.8-3.1l-1.9,0l-1.8,3z" color="#fdcb35"/><path d="M74.4,73.5l1.9-4.1l-1.9-0.1l-1.9,3.9z" color="#f9bf39"/><path d="M72.5,76.9l1.9-3.4l-1.9-0.3l-1.9,3.2z" color="#eabc33"/><path d="M70.6,81.3l1.9-4.4l-1.9-0.5l-1.9,4.7z" color="#cbbf2e"/><path d="M68.7,87.3l1.9-6l-1.9-0.2l-1.9,7.2z" color="#94c347"/><path d="M66.8,93.6l1.9-6.3l-1.9,1l-1.9,7.7z" color="#54c175"/><path d="M64.9,98.8l1.9-5.2l-1.9,2.4l-1.9,5.7z" color="#27b89a"/><path d="M178.2,63.8l1.9,2l-1.9-0.6l-1.9-2.6z" color="#3eaf74"/><path d="M176.4,65.3l1.8-1.5l-1.9-1.2l-1.9,1.2z" color="#63d793"/><path d="M174.5,68.2l1.9-2.9l-2-1.5l-1.8,2.8z" color="#70f7bc"/><path d="M172.6,69.8l1.9-1.6l-1.9-1.6l-1.9,2.1z" color="#58ecbe"/><path d="M170.7,69l1.9,0.8l-1.9-1.1l-1.9-0.1z" color="#3dc69d"/><path d="M168.8,67.2l1.9,1.8l-1.9-0.4l-1.9-1.4z" color="#34a879"/><path d="M166.9,66.2l1.9,1l-1.9,0l-1.9-1.2z" color="#42ad6f"/><path d="M165,66.9l1.9-0.7l-1.9-0.2l-1.9-0.5z" color="#4fb86e"/><path d="M163.1,66.7l1.9,0.2l-1.9-1.4l-1.9-1.1z" color="#54b667"/><path d="M161.2,64.9l1.9,1.8l-1.9-2.3l-1.9-2.1z" color="#60ac54"/><path d="M159.4,63.1l1.8,1.8l-1.9-2.6l-1.8-2z" color="#7baf43"/><path d="M157.5,63.6l1.9-0.5l-1.9-2.8l-1.9,0.5z" color="#b4da60"/><path d="M155.6,67.7l1.9-4.1l-1.9-2.8l-1.9,4.5z" color="#b4f481"/><path d="M153.7,70.5l1.9-2.8l-1.9-2.4l-1.9,3.1z" color="#88f294"/><path d="M151.8,69.3l1.9,1.2l-1.9-2.1l-1.9-1.3z" color="#6ed481"/><path d="M149.9,67.9l1.9,1.4l-1.9-2.2l-1.9-2z" color="#64ae53"/><path d="M148,67.5l1.9,0.4l-1.9-2.8l-1.9-0.9z" color="#79b449"/><path d="M146.1,67l1.9,0.5l-1.9-3.3l-1.9-0.4z" color="#85b542"/><path d="M144.3,65.6l1.8,1.4l-1.9-3.2l-1.9-1.1z" color="#8dac36"/><path d="M142.4,63.5l1.9,2.1l-2-2.9l-1.8-2.3z" color="#9ca329"/><path d="M140.5,61.8l1.9,1.7l-1.9-3.1l-1.9-2z" color="#b3a224"/><path d="M138.6,61.1l1.9,0.7l-1.9-3.4l-1.9-0.6z" color="#c9a728"/><path d="M136.7,60.5l1.9,0.6l-1.9-3.3l-1.9,0z" color="#d3a92c"/><path d="M134.8,58.9l1.9,1.6l-1.9-2.7l-1.9-0.7z" color="#d0a12f"/><path d="M132.9,55.6l1.9,3.3l-1.9-1.8l-1.9-2.8z" color="#d0a02f"/><path d="M131,53.4l1.9,2.2l-1.9-1.3l-1.9-2z" color="#d5ae29"/><path d="M129.1,54l1.9-0.6l-1.9-1.1l-1.9,0.3z" color="#ebd336"/><path d="M127.3,55.1l1.8-1.1l-1.9-1.4l-1.8,0.8z" color="#fee942"/><path d="M125.4,55.3l1.9-0.2l-1.9-1.7l-1.9-0.1z" color="#eed134"/><path d="M123.5,54l1.9,1.3l-1.9-2l-1.9-1.1z" color="#dbc026"/><path d="M121.6,53.4l1.9,0.6l-1.9-1.8l-1.9-0.3z" color="#ebdb2d"/><path d="M119.7,55l1.9-1.6l-1.9-1.5l-1.9,1.6z" color="#fffa51"/><path d="M117.8,56.6l1.9-1.6l-1.9-1.5l-1.9,1.3z" color="#fffc5c"/><path d="M115.9,56.6l1.9,0l-1.9-1.8l-1.9-0.1z" color="#f2e23a"/><path d="M114,56.1l1.9,0.5l-1.9-1.9l-1.9-0.5z" color="#e8d027"/><path d="M112.1,56.5l1.9-0.4l-1.9-1.9l-1.9,0.4z" color="#f4ea53"/><path d="M110.3,58.8l1.8-2.3l-1.9-1.9l-1.8,2.3z" color="#ffff69"/><path d="M108.4,61.6l1.9-2.8l-1.9-1.9l-1.9,3z" color="#fffe59"/><path d="M106.5,63.1l1.9-1.5l-1.9-1.7l-1.9,1.7z" color="#ffe64e"/><path d="M104.6,62.4l1.9,0.7l-1.9-1.5l-1.9-0.7z" color="#eabc33"/><path d="M102.7,60.8l1.9,1.6l-1.9-1.5l-1.9-1.7z" color="#d7b329"/><path d="M100.8,61l1.9-0.2l-1.9-1.6l-1.9,0.2z" color="#edd02e"/><path d="M98.9,61.6l1.9-0.6l-1.9-1.6l-1.9,0.8z" color="#f9db31"/><path d="M97,61.2l1.9,0.4l-1.9-1.4l-1.9-0.5z" color="#ebce29"/><path d="M95.2,61.1l1.8,0.1l-1.9-1.5l-1.8-0.3z" color="#ecd529"/><path d="M93.3,61.8l1.9-0.7l-1.9-1.7l-1.9,0.7z" color="#faef42"/><path d="M91.4,62.7l1.9-0.9l-1.9-1.7l-1.9,1z" color="#ffff60"/><path d="M89.5,63.7l1.9-1l-1.9-1.6l-1.9,1.5z" color="#fffc5f"/><path d="M87.6,65l1.9-1.3l-1.9-1.1l-1.9,1.8z" color="#ffec46"/><path d="M85.7,65.6l1.9-0.6l-1.9-0.6l-1.9,1.2z" color="#f5d131"/><path d="M83.8,65.2l1.9,0.4l-1.9,0l-1.9-0.1z" color="#e3c02a"/><path d="M81.9,65.3l1.9-0.1l-1.9,0.3l-1.9-0.2z" color="#e7c72a"/><path d="M80,66.9l1.9-1.6l-1.9,0l-1.9,1z" color="#f8da32"/><path d="M78.2,70.1l1.8-3.2l-1.9-0.6l-1.8,3.1z" color="#ffd73a"/><path d="M76.3,73.9l1.9-3.8l-1.9-0.7l-1.9,4.1z" color="#fcc43c"/><path d="M74.4,77.1l1.9-3.2l-1.9-0.4l-1.9,3.4z" color="#eebc36"/><path d="M72.5,81l1.9-3.9l-1.9-0.2l-1.9,4.4z" color="#d1bd2c"/><path d="M70.6,86l1.9-5l-1.9,0.3l-1.9,6z" color="#a3c13c"/><path d="M68.7,91.3l1.9-5.3l-1.9,1.3l-1.9,6.3z" color="#6bc161"/><path d="M66.8,95.9l1.9-4.6l-1.9,2.3l-1.9,5.2z" color="#3fbd84"/><path d="M180.1,66.1l1.9,1.3l-1.9-1.6l-1.9-2z" color="#3db67d"/><path d="M178.3,67.8l1.8-1.7l-1.9-2.3l-1.8,1.5z" color="#68e1a9"/><path d="M176.4,70.2l1.9-2.4l-1.9-2.5l-1.9,2.9z" color="#83ffde"/><path d="M174.5,71l1.9-0.8l-1.9-2l-1.9,1.6z" color="#57dec0"/><path d="M172.6,69.3l1.9,1.7l-1.9-1.2l-1.9-0.8z" color="#30b28a"/><path d="M170.7,67.7l1.9,1.6l-1.9-0.3l-1.9-1.8z" color="#38a974"/><path d="M168.8,67.6l1.9,0.1l-1.9-0.5l-1.9-1z" color="#4ebd77"/><path d="M166.9,68.8l1.9-1.2l-1.9-1.4l-1.9,0.7z" color="#5fd688"/><path d="M165,69l1.9-0.2l-1.9-1.9l-1.9-0.2z" color="#57c87d"/><path d="M163.1,67.4l1.9,1.6l-1.9-2.3l-1.9-1.8z" color="#54af61"/><path d="M161.3,65.8l1.8,1.6l-1.9-2.5l-1.8-1.8z" color="#6bb151"/><path d="M159.4,66.4l1.9-0.6l-1.9-2.7l-1.9,0.5z" color="#a2db71"/><path d="M157.5,70.3l1.9-3.9l-1.9-2.8l-1.9,4.1z" color="#a6f896"/><path d="M155.6,72.7l1.9-2.4l-1.9-2.6l-1.9,2.8z" color="#73ec9a"/><path d="M153.7,71.1l1.9,1.6l-1.9-2.2l-1.9-1.2z" color="#59c980"/><path d="M151.8,69.9l1.9,1.2l-1.9-1.8l-1.9-1.4z" color="#59b15e"/><path d="M149.9,69.9l1.9,0l-1.9-2l-1.9-0.4z" color="#6ab959"/><path d="M148,69.6l1.9,0.3l-1.9-2.4l-1.9-0.5z" color="#72b852"/><path d="M146.2,68.3l1.8,1.3l-1.9-2.6l-1.8-1.4z" color="#79ae44"/><path d="M144.3,66.5l1.9,1.8l-1.9-2.7l-1.9-2.1z" color="#8ba734"/><path d="M142.4,65l1.9,1.5l-1.9-3l-1.9-1.7z" color="#a2a729"/><path d="M140.5,64.1l1.9,0.9l-1.9-3.2l-1.9-0.7z" color="#b5a825"/><path d="M138.6,62.9l1.9,1.2l-1.9-3l-1.9-0.6z" color="#bda424"/><path d="M136.7,60.5l1.9,2.4l-1.9-2.4l-1.9-1.6z" color="#c49d29"/><path d="M134.8,56.9l1.9,3.6l-1.9-1.6l-1.9-3.3z" color="#ce9f2e"/><path d="M132.9,54.9l1.9,2l-1.9-1.3l-1.9-2.2z" color="#d7ae2b"/><path d="M131,55.6l1.9-0.7l-1.9-1.5l-1.9,0.6z" color="#eddc4b"/><path d="M129.2,57.2l1.8-1.6l-1.9-1.6l-1.8,1.1z" color="#fffc69"/><path d="M127.3,57.7l1.9-0.5l-1.9-2.1l-1.9,0.2z" color="#f1d948"/><path d="M125.4,56.1l1.9,1.6l-1.9-2.4l-1.9-1.3z" color="#dcb929"/><path d="M123.5,54.9l1.9,1.2l-1.9-2.1l-1.9-0.6z" color="#e6cf2a"/><path d="M121.6,56.3l1.9-1.4l-1.9-1.5l-1.9,1.6z" color="#fbf247"/><path d="M119.7,58.1l1.9-1.8l-1.9-1.3l-1.9,1.6z" color="#ffff60"/><path d="M117.8,58.6l1.9-0.5l-1.9-1.5l-1.9,0z" color="#f7e646"/><path d="M115.9,58.4l1.9,0.2l-1.9-2l-1.9-0.5z" color="#efcf2b"/><path d="M114.1,58.7l1.8-0.3l-1.9-2.3l-1.9,0.4z" color="#f6e853"/><path d="M112.2,60.6l1.9-1.9l-2-2.2l-1.8,2.3z" color="#ffff6c"/><path d="M110.3,62.9l1.9-2.3l-1.9-1.8l-1.9,2.8z" color="#fff758"/><path d="M108.4,64.2l1.9-1.3l-1.9-1.3l-1.9,1.5z" color="#fdd947"/><path d="M106.5,63.6l1.9,0.6l-1.9-1.1l-1.9-0.7z" color="#e8b632"/><path d="M104.6,62.2l1.9,1.4l-1.9-1.2l-1.9-1.6z" color="#d9b22a"/><path d="M102.7,62.4l1.9-0.2l-1.9-1.4l-1.9,0.2z" color="#eecb2e"/><path d="M100.8,63l1.9-0.6l-1.9-1.4l-1.9,0.6z" color="#fad630"/><path d="M98.9,62.8l1.9,0.2l-1.9-1.4l-1.9-0.4z" color="#efce2b"/><path d="M97.1,63l1.8-0.2l-1.9-1.6l-1.8-0.1z" color="#f3da30"/><path d="M95.2,64l1.9-1l-1.9-1.9l-1.9,0.7z" color="#fef34c"/><path d="M93.3,64.9l1.9-0.9l-1.9-2.2l-1.9,0.9z" color="#ffff5f"/><path d="M91.4,65.5l1.9-0.6l-1.9-2.2l-1.9,1z" color="#fff95b"/><path d="M89.5,66l1.9-0.5l-1.9-1.8l-1.9,1.3z" color="#fce545"/><path d="M87.6,65.9l1.9,0.1l-1.9-1l-1.9,0.6z" color="#eecc2d"/><path d="M85.7,65.5l1.9,0.4l-1.9-0.3l-1.9-0.4z" color="#e4c629"/><path d="M83.8,66.3l1.9-0.8l-1.9-0.3l-1.9,0.1z" color="#f1dc3d"/><path d="M81.9,68.4l1.9-2.1l-1.9-1l-1.9,1.6z" color="#fef24f"/><path d="M80.1,71.5l1.8-3.1l-1.9-1.5l-1.8,3.2z" color="#ffe749"/><path d="M78.2,74.7l1.9-3.2l-1.9-1.4l-1.9,3.8z" color="#fece46"/><path d="M76.3,77.5l1.9-2.8l-1.9-0.8l-1.9,3.2z" color="#f5c23c"/><path d="M74.4,80.7l1.9-3.2l-1.9-0.4l-1.9,3.9z" color="#dcbe2d"/><path d="M72.5,84.7l1.9-4l-1.9,0.3l-1.9,5z" color="#b6bf32"/><path d="M70.6,89l1.9-4.3l-1.9,1.3l-1.9,5.3z" color="#88c14c"/><path d="M68.7,93l1.9-4l-1.9,2.3l-1.9,4.6z" color="#5dc06b"/><path d="M182,69.2l1.9,0.8l-1.9-2.6l-1.9-1.3z" color="#37bb8d"/><path d="M180.2,70.7l1.8-1.5l-1.9-3.1l-1.8,1.7z" color="#63e4bf"/><path d="M178.3,72.6l1.9-1.9l-1.9-2.9l-1.9,2.4z" color="#7efded"/><path d="M176.4,72.4l1.9,0.2l-1.9-2.4l-1.9,0.8z" color="#4fd3bd"/><path d="M174.5,70l1.9,2.4l-1.9-1.4l-1.9-1.7z" color="#2ea982"/><path d="M172.6,68.9l1.9,1.1l-1.9-0.7l-1.9-1.6z" color="#3bae77"/><path d="M170.7,69.7l1.9-0.8l-1.9-1.2l-1.9-0.1z" color="#61d495"/><path d="M168.8,71.4l1.9-1.7l-1.9-2.1l-1.9,1.2z" color="#72efaf"/><path d="M166.9,71.4l1.9,0l-1.9-2.6l-1.9,0.2z" color="#53d191"/><path d="M165,69.8l1.9,1.6l-1.9-2.4l-1.9-1.6z" color="#47b06d"/><path d="M163.2,68.5l1.8,1.3l-1.9-2.4l-1.8-1.6z" color="#5cb45f"/><path d="M161.3,69.4l1.9-0.9l-1.9-2.7l-1.9,0.6z" color="#8dde81"/><path d="M159.4,73.2l1.9-3.8l-1.9-3l-1.9,3.9z" color="#95fdab"/><path d="M157.5,75l1.9-1.8l-1.9-2.9l-1.9,2.4z" color="#5ee19f"/><path d="M155.6,72.8l1.9,2.2l-1.9-2.3l-1.9-1.6z" color="#44b97a"/><path d="M153.7,71.1l1.9,1.7l-1.9-1.7l-1.9-1.2z" color="#51ae62"/><path d="M151.8,71.1l1.9,0l-1.9-1.2l-1.9,0z" color="#61b95f"/><path d="M149.9,71.1l1.9,0l-1.9-1.2l-1.9-0.3z" color="#68bb5b"/><path d="M148.1,70.5l1.8,0.6l-1.9-1.5l-1.8-1.3z" color="#6eb24f"/><path d="M146.2,69.3l1.9,1.2l-1.9-2.2l-1.9-1.8z" color="#7cad41"/><path d="M144.3,68l1.9,1.3l-1.9-2.8l-1.9-1.5z" color="#8fab34"/><path d="M142.4,66.5l1.9,1.5l-1.9-3l-1.9-0.9z" color="#9fa82a"/><path d="M140.5,64.6l1.9,1.9l-1.9-2.4l-1.9-1.2z" color="#aca123"/><path d="M138.6,61.8l1.9,2.8l-1.9-1.7l-1.9-2.4z" color="#bc9c26"/><path d="M136.7,58.4l1.9,3.4l-1.9-1.3l-1.9-3.6z" color="#cc9e2d"/><path d="M134.8,56.6l1.9,1.8l-1.9-1.5l-1.9-2z" color="#daae2d"/><path d="M132.9,57.4l1.9-0.8l-1.9-1.7l-1.9,0.7z" color="#f0dc59"/><path d="M131.1,59.1l1.8-1.7l-1.9-1.8l-1.8,1.6z" color="#ffff84"/><path d="M129.2,59.7l1.9-0.6l-1.9-1.9l-1.9,0.5z" color="#f1d958"/><path d="M127.3,58l1.9,1.7l-1.9-2l-1.9-1.6z" color="#dbb22b"/><path d="M125.4,56.4l1.9,1.6l-1.9-1.9l-1.9-1.2z" color="#dec027"/><path d="M123.5,57.4l1.9-1l-1.9-1.5l-1.9,1.4z" color="#f5e83d"/><path d="M121.6,59.3l1.9-1.9l-1.9-1.1l-1.9,1.8z" color="#ffff5a"/><path d="M119.7,60.7l1.9-1.4l-1.9-1.2l-1.9,0.5z" color="#fdf255"/><path d="M117.8,60.9l1.9-0.2l-1.9-2.1l-1.9-0.2z" color="#f7d83a"/><path d="M116,60.9l1.8,0l-1.9-2.5l-1.8,0.3z" color="#f9dd44"/><path d="M114.1,61.9l1.9-1l-1.9-2.2l-1.9,1.9z" color="#fff559"/><path d="M112.2,63.4l1.9-1.5l-1.9-1.3l-1.9,2.3z" color="#ffe84c"/><path d="M110.3,64.4l1.9-1l-1.9-0.5l-1.9,1.3z" color="#f7c839"/><path d="M108.4,64l1.9,0.4l-1.9-0.2l-1.9-0.6z" color="#e3b32f"/><path d="M106.5,63.2l1.9,0.8l-1.9-0.4l-1.9-1.4z" color="#dcb32b"/><path d="M104.6,63.6l1.9-0.4l-1.9-1l-1.9,0.2z" color="#f0cc2f"/><path d="M102.7,64.5l1.9-0.9l-1.9-1.2l-1.9,0.6z" color="#fddc37"/><path d="M100.8,64.8l1.9-0.3l-1.9-1.5l-1.9-0.2z" color="#f9d835"/><path d="M99,65.3l1.8-0.5l-1.9-2l-1.8,0.2z" color="#fbe33d"/><path d="M97.1,66.3l1.9-1l-1.9-2.3l-1.9,1z" color="#fff858"/><path d="M95.2,67.2l1.9-0.9l-1.9-2.3l-1.9,0.9z" color="#fff85b"/><path d="M93.3,67.5l1.9-0.3l-1.9-2.3l-1.9,0.6z" color="#fce443"/><path d="M91.4,67.2l1.9,0.3l-1.9-2l-1.9,0.5z" color="#f2ce32"/><path d="M89.5,66.8l1.9,0.4l-1.9-1.2l-1.9-0.1z" color="#e7c52a"/><path d="M87.6,66.9l1.9-0.1l-1.9-0.9l-1.9-0.4z" color="#edd735"/><path d="M85.7,68.4l1.9-1.5l-1.9-1.4l-1.9,0.8z" color="#fbf45e"/><path d="M83.9,70.8l1.8-2.4l-1.9-2.1l-1.9,2.1z" color="#ffff6e"/><path d="M82,73.7l1.9-2.9l-2-2.4l-1.8,3.1z" color="#fff35e"/><path d="M80.1,76.3l1.9-2.6l-1.9-2.2l-1.9,3.2z" color="#ffe25b"/><path d="M78.2,78.5l1.9-2.2l-1.9-1.6l-1.9,2.8z" color="#fcd64e"/><path d="M76.3,81.2l1.9-2.7l-1.9-1l-1.9,3.2z" color="#eaca38"/><path d="M74.4,84.8l1.9-3.6l-1.9-0.5l-1.9,4z" color="#cac632"/><path d="M72.5,88.6l1.9-3.8l-1.9-0.1l-1.9,4.3z" color="#a3c843"/><path d="M70.6,92.2l1.9-3.6l-1.9,0.4l-1.9,4z" color="#7cca5c"/><path d="M183.9,71.8l1.9,1.3l-1.9-3.1l-1.9-0.8z" color="#2cb697"/><path d="M182.1,72.9l1.8-1.1l-1.9-2.6l-1.8,1.5z" color="#58e0c9"/><path d="M180.2,74.3l1.9-1.4l-1.9-2.2l-1.9,1.9z" color="#60efde"/><path d="M178.3,73.7l1.9,0.6l-1.9-1.7l-1.9-0.2z" color="#34c1a7"/><path d="M176.4,71.3l1.9,2.4l-1.9-1.3l-1.9-2.4z" color="#2ca581"/><path d="M174.5,70.8l1.9,0.5l-1.9-1.3l-1.9-1.1z" color="#3fba83"/><path d="M172.6,72.4l1.9-1.6l-1.9-1.9l-1.9,0.8z" color="#6ce6b3"/><path d="M170.7,74.3l1.9-1.9l-1.9-2.7l-1.9,1.7z" color="#71f3c7"/><path d="M168.8,74.3l1.9,0l-1.9-2.9l-1.9,0z" color="#46cd9c"/><path d="M167,72.4l1.8,1.9l-1.9-2.9l-1.9-1.6z" color="#3baf78"/><path d="M165.1,71.3l1.9,1.1l-2-2.6l-1.8-1.3z" color="#4db76e"/><path d="M163.2,72.5l1.9-1.2l-1.9-2.8l-1.9,0.9z" color="#78e093"/><path d="M161.3,76.2l1.9-3.7l-1.9-3.1l-1.9,3.8z" color="#85ffc1"/><path d="M159.4,77.4l1.9-1.2l-1.9-3l-1.9,1.8z" color="#53daab"/><path d="M157.5,74.5l1.9,2.9l-1.9-2.4l-1.9-2.2z" color="#38af7c"/><path d="M155.6,72l1.9,2.5l-1.9-1.7l-1.9-1.7z" color="#4bab64"/><path d="M153.7,71.4l1.9,0.6l-1.9-0.9l-1.9,0z" color="#5eb45c"/><path d="M151.8,71.7l1.9-0.3l-1.9-0.3l-1.9,0z" color="#69bd5c"/><path d="M150,72.2l1.8-0.5l-1.9-0.6l-1.8-0.6z" color="#6ebe59"/><path d="M148.1,72.1l1.9,0.1l-1.9-1.7l-1.9-1.2z" color="#74b750"/><path d="M146.2,70.8l1.9,1.3l-1.9-2.8l-1.9-1.3z" color="#7dad41"/><path d="M144.3,68.3l1.9,2.5l-1.9-2.8l-1.9-1.5z" color="#8ea631"/><path d="M142.4,65.8l1.9,2.5l-1.9-1.8l-1.9-1.9z" color="#a3a125"/><path d="M140.5,63.1l1.9,2.7l-1.9-1.2l-1.9-2.8z" color="#b99d25"/><path d="M138.6,60.1l1.9,3l-1.9-1.3l-1.9-3.4z" color="#cb9d2d"/><path d="M136.7,58.6l1.9,1.5l-1.9-1.7l-1.9-1.8z" color="#ddac30"/><path d="M134.9,59.4l1.8-0.8l-1.9-2l-1.9,0.8z" color="#f3dc5c"/><path d="M133,60.8l1.9-1.4l-2-2l-1.8,1.7z" color="#fffe82"/><path d="M131.1,61.2l1.9-0.4l-1.9-1.7l-1.9,0.6z" color="#f0d556"/><path d="M129.2,59.3l1.9,1.9l-1.9-1.5l-1.9-1.7z" color="#d9ac2d"/><path d="M127.3,57.7l1.9,1.6l-1.9-1.3l-1.9-1.6z" color="#d9b928"/><path d="M125.4,58.3l1.9-0.6l-1.9-1.3l-1.9,1z" color="#f0e038"/><path d="M123.5,60.5l1.9-2.2l-1.9-0.9l-1.9,1.9z" color="#fff94e"/><path d="M121.6,62.7l1.9-2.2l-1.9-1.2l-1.9,1.4z" color="#fffa64"/><path d="M119.7,63.3l1.9-0.6l-1.9-2l-1.9,0.2z" color="#fae154"/><path d="M117.9,62.8l1.8,0.5l-1.9-2.4l-1.8,0z" color="#f5c934"/><path d="M116,62.7l1.9,0.1l-1.9-1.9l-1.9,1z" color="#f6d63b"/><path d="M114.1,63.1l1.9-0.4l-1.9-0.8l-1.9,1.5z" color="#f5d138"/><path d="M112.2,63.7l1.9-0.6l-1.9,0.3l-1.9,1z" color="#edbe2f"/><path d="M110.3,63.8l1.9-0.1l-1.9,0.7l-1.9-0.4z" color="#e1b62c"/><path d="M108.4,63.7l1.9,0.1l-1.9,0.2l-1.9-0.8z" color="#e4bd2b"/><path d="M106.5,64.6l1.9-0.9l-1.9-0.5l-1.9,0.4z" color="#f6d938"/><path d="M104.6,66l1.9-1.4l-1.9-1l-1.9,0.9z" color="#ffef51"/><path d="M102.7,67.1l1.9-1.1l-1.9-1.5l-1.9,0.3z" color="#fff057"/><path d="M100.9,67.8l1.8-0.7l-1.9-2.3l-1.8,0.5z" color="#ffed50"/><path d="M99,68.4l1.9-0.6l-1.9-2.5l-1.9,1z" color="#ffed53"/><path d="M97.1,68.9l1.9-0.5l-1.9-2.1l-1.9,0.9z" color="#fee24a"/><path d="M95.2,68.9l1.9,0l-1.9-1.7l-1.9,0.3z" color="#f4ca36"/><path d="M93.3,68.2l1.9,0.7l-1.9-1.4l-1.9-0.3z" color="#e6bd2c"/><path d="M91.4,68l1.9,0.2l-1.9-1l-1.9-0.4z" color="#eac82d"/><path d="M89.5,69.2l1.9-1.2l-1.9-1.2l-1.9,0.1z" color="#f9ea50"/><path d="M87.6,71.3l1.9-2.1l-1.9-2.3l-1.9,1.5z" color="#ffff74"/><path d="M85.8,73.6l1.8-2.3l-1.9-2.9l-1.8,2.4z" color="#ffff75"/><path d="M83.9,76.1l1.9-2.5l-1.9-2.8l-1.9,2.9z" color="#fffa71"/><path d="M82,78.4l1.9-2.3l-1.9-2.4l-1.9,2.6z" color="#fff670"/><path d="M80.1,80.3l1.9-1.9l-1.9-2.1l-1.9,2.2z" color="#ffef63"/><path d="M78.2,83.2l1.9-2.9l-1.9-1.8l-1.9,2.7z" color="#f4df49"/><path d="M76.3,87.1l1.9-3.9l-1.9-2l-1.9,3.6z" color="#d5d53f"/><path d="M74.4,91.1l1.9-4l-1.9-2.3l-1.9,3.8z" color="#b1da53"/><path d="M72.5,94.5l1.9-3.4l-1.9-2.5l-1.9,3.6z" color="#90e070"/><path d="M185.8,73.6l1.9,2.4l-1.9-2.9l-1.9-1.3z" color="#1fa997"/><path d="M184,73.7l1.8-0.1l-1.9-1.8l-1.8,1.1z" color="#3cc8b1"/><path d="M182.1,74.9l1.9-1.2l-1.9-0.8l-1.9,1.4z" color="#3cd1bc"/><path d="M180.2,74.8l1.9,0.1l-1.9-0.6l-1.9-0.6z" color="#27b49c"/><path d="M178.3,73.3l1.9,1.5l-1.9-1.1l-1.9-2.4z" color="#2ba988"/><path d="M176.4,73.6l1.9-0.3l-1.9-2l-1.9-0.5z" color="#45ca9a"/><path d="M174.5,75.6l1.9-2l-1.9-2.8l-1.9,1.6z" color="#68f3c8"/><path d="M172.6,77.6l1.9-2l-1.9-3.2l-1.9,1.9z" color="#5dedcd"/><path d="M170.7,77.1l1.9,0.5l-1.9-3.3l-1.9,0z" color="#37c4a3"/><path d="M168.9,75l1.8,2.1l-1.9-2.8l-1.8-1.9z" color="#30ab82"/><path d="M167,74l1.9,1l-1.9-2.6l-1.9-1.1z" color="#40b87d"/><path d="M165.1,75.4l1.9-1.4l-1.9-2.7l-1.9,1.2z" color="#68e3a7"/><path d="M163.2,78.6l1.9-3.2l-1.9-2.9l-1.9,3.7z" color="#7effd9"/><path d="M161.3,79.3l1.9-0.7l-1.9-2.4l-1.9,1.2z" color="#50d4b8"/><path d="M159.4,76.1l1.9,3.2l-1.9-1.9l-1.9-2.9z" color="#32a97e"/><path d="M157.5,72.7l1.9,3.4l-1.9-1.6l-1.9-2.5z" color="#48a965"/><path d="M155.6,71.1l1.9,1.6l-1.9-0.7l-1.9-0.6z" color="#60ad55"/><path d="M153.7,71.6l1.9-0.5l-1.9,0.3l-1.9,0.3z" color="#70ba55"/><path d="M151.9,73.1l1.8-1.5l-1.9,0.1l-1.8,0.5z" color="#77c95e"/><path d="M150,74.3l1.9-1.2l-1.9-0.9l-1.9-0.1z" color="#72c65f"/><path d="M148.1,73.1l1.9,1.2l-1.9-2.2l-1.9-1.3z" color="#6fb34f"/><path d="M146.2,69.6l1.9,3.5l-1.9-2.3l-1.9-2.5z" color="#82a638"/><path d="M144.3,66.6l1.9,3l-1.9-1.3l-1.9-2.5z" color="#9fa227"/><path d="M142.4,64.4l1.9,2.2l-1.9-0.8l-1.9-2.7z" color="#b79d24"/><path d="M140.5,62l1.9,2.4l-1.9-1.3l-1.9-3z" color="#c99c2d"/><path d="M138.6,60.9l1.9,1.1l-1.9-1.9l-1.9-1.5z" color="#dfaa33"/><path d="M136.8,61.6l1.8-0.7l-1.9-2.3l-1.8,0.8z" color="#f6d654"/><path d="M134.9,62.6l1.9-1l-1.9-2.2l-1.9,1.4z" color="#ffeb66"/><path d="M133,62.4l1.9,0.2l-1.9-1.8l-1.9,0.4z" color="#edc445"/><path d="M131.1,60.5l1.9,1.9l-1.9-1.2l-1.9-1.9z" color="#d6a92d"/><path d="M129.2,58.9l1.9,1.6l-1.9-1.2l-1.9-1.6z" color="#d7b528"/><path d="M127.3,59.3l1.9-0.4l-1.9-1.2l-1.9,0.6z" color="#eede3b"/><path d="M125.4,61.6l1.9-2.3l-1.9-1l-1.9,2.2z" color="#fff34a"/><path d="M123.5,64.3l1.9-2.7l-1.9-1.1l-1.9,2.2z" color="#fff461"/><path d="M121.6,65l1.9-0.7l-1.9-1.6l-1.9,0.6z" color="#f9de59"/><path d="M119.8,64.1l1.8,0.9l-1.9-1.7l-1.8-0.5z" color="#e9b831"/><path d="M117.9,63.1l1.9,1l-1.9-1.3l-1.9-0.1z" color="#e1b72c"/><path d="M116,62.7l1.9,0.4l-1.9-0.4l-1.9,0.4z" color="#e2bc2b"/><path d="M114.1,63.1l1.9-0.4l-1.9,0.4l-1.9,0.6z" color="#e4bf2a"/><path d="M112.2,63.6l1.9-0.5l-1.9,0.6l-1.9,0.1z" color="#e7c32b"/><path d="M110.3,64.4l1.9-0.8l-1.9,0.2l-1.9-0.1z" color="#f2d231"/><path d="M108.4,65.7l1.9-1.3l-1.9-0.7l-1.9,0.9z" color="#fded46"/><path d="M106.5,67.5l1.9-1.8l-1.9-1.1l-1.9,1.4z" color="#fffd65"/><path d="M104.7,69.3l1.8-1.8l-1.9-1.5l-1.9,1.1z" color="#ffff79"/><path d="M102.8,70.1l1.9-0.8l-2-2.2l-1.8,0.7z" color="#ffea61"/><path d="M100.9,70l1.9,0.1l-1.9-2.3l-1.9,0.6z" color="#fad040"/><path d="M99,69.7l1.9,0.3l-1.9-1.6l-1.9,0.5z" color="#f3c436"/><path d="M97.1,69.5l1.9,0.2l-1.9-0.8l-1.9,0z" color="#e8ba2f"/><path d="M95.2,69l1.9,0.5l-1.9-0.6l-1.9-0.7z" color="#e4bb2c"/><path d="M93.3,69.7l1.9-0.7l-1.9-0.8l-1.9-0.2z" color="#f3d845"/><path d="M91.4,72l1.9-2.3l-1.9-1.7l-1.9,1.2z" color="#fff76d"/><path d="M89.5,74.4l1.9-2.4l-1.9-2.8l-1.9,2.1z" color="#ffff7c"/><path d="M87.7,76.2l1.8-1.8l-1.9-3.1l-1.8,2.3z" color="#ffff7f"/><path d="M85.8,78.3l1.9-2.1l-1.9-2.6l-1.9,2.5z" color="#fffe7e"/><path d="M83.9,80.4l1.9-2.1l-1.9-2.2l-1.9,2.3z" color="#fffe75"/><path d="M82,82.4l1.9-2l-1.9-2l-1.9,1.9z" color="#fff765"/><path d="M80.1,85.7l1.9-3.3l-1.9-2.1l-1.9,2.9z" color="#efe54d"/><path d="M78.2,90.3l1.9-4.6l-1.9-2.5l-1.9,3.9z" color="#c9dc4c"/><path d="M76.3,95l1.9-4.7l-1.9-3.2l-1.9,4z" color="#a2e46b"/><path d="M74.4,98.2l1.9-3.2l-1.9-3.9l-1.9,3.4z" color="#87f092"/><path d="M187.8,74.7l1.8,3.8l-1.9-2.5l-1.9-2.4z" color="#15a096"/><path d="M185.9,73.9l1.9,0.8l-2-1.1l-1.8,0.1z" color="#27b197"/><path d="M184,75l1.9-1.1l-1.9-0.2l-1.9,1.2z" color="#2cc2a5"/><path d="M182.1,76l1.9-1l-1.9-0.1l-1.9-0.1z" color="#2dc1a6"/><path d="M180.2,75.9l1.9,0.1l-1.9-1.2l-1.9-1.5z" color="#30be9f"/><path d="M178.3,77l1.9-1.1l-1.9-2.6l-1.9,0.3z" color="#48dab6"/><path d="M176.4,79.1l1.9-2.1l-1.9-3.4l-1.9,2z" color="#60fadc"/><path d="M174.5,80.6l1.9-1.5l-1.9-3.5l-1.9,2z" color="#45e3d1"/><path d="M172.6,79.5l1.9,1.1l-1.9-3l-1.9-0.5z" color="#25b6a4"/><path d="M170.8,76.9l1.8,2.6l-1.9-2.4l-1.8-2.1z" color="#27a587"/><path d="M168.9,76.1l1.9,0.8l-1.9-1.9l-1.9-1z" color="#37b887"/><path d="M167,77.5l1.9-1.4l-1.9-2.1l-1.9,1.4z" color="#5ce4b3"/><path d="M165.1,80l1.9-2.5l-1.9-2.1l-1.9,3.2z" color="#6cf9da"/><path d="M163.2,80.3l1.9-0.3l-1.9-1.4l-1.9,0.7z" color="#44cbb3"/><path d="M161.3,77.1l1.9,3.2l-1.9-1l-1.9-3.2z" color="#2fa67e"/><path d="M159.4,73.4l1.9,3.7l-1.9-1l-1.9-3.4z" color="#48a966"/><path d="M157.5,71l1.9,2.4l-1.9-0.7l-1.9-1.6z" color="#64aa4f"/><path d="M155.6,71.1l1.9-0.1l-1.9,0.1l-1.9,0.5z" color="#7bb74b"/><path d="M153.8,73.2l1.8-2.1l-1.9,0.5l-1.8,1.5z" color="#81ca58"/><path d="M151.9,75.7l1.9-2.5l-1.9-0.1l-1.9,1.2z" color="#76d067"/><path d="M150,74.7l1.9,1l-1.9-1.4l-1.9-1.2z" color="#6bbc5c"/><path d="M148.1,70.2l1.9,4.5l-1.9-1.6l-1.9-3.5z" color="#7da73c"/><path d="M146.2,67l1.9,3.2l-1.9-0.6l-1.9-3z" color="#a0a127"/><path d="M144.3,65.4l1.9,1.6l-1.9-0.4l-1.9-2.2z" color="#b79d23"/><path d="M142.4,63.8l1.9,1.6l-1.9-1l-1.9-2.4z" color="#c89c2c"/><path d="M140.5,63.3l1.9,0.5l-1.9-1.8l-1.9-1.1z" color="#e0a936"/><path d="M138.7,64l1.8-0.7l-1.9-2.4l-1.8,0.7z" color="#f8ca4a"/><path d="M136.8,64.5l1.9-0.5l-1.9-2.4l-1.9,1z" color="#facd4d"/><path d="M134.9,63.8l1.9,0.7l-1.9-1.9l-1.9-0.2z" color="#e6af38"/><path d="M133,61.9l1.9,1.9l-1.9-1.4l-1.9-1.9z" color="#d4a62e"/><path d="M131.1,60.5l1.9,1.4l-1.9-1.4l-1.9-1.6z" color="#d8b329"/><path d="M129.2,60.6l1.9-0.1l-1.9-1.6l-1.9,0.4z" color="#eede48"/><path d="M127.3,62.7l1.9-2.1l-1.9-1.3l-1.9,2.3z" color="#fff458"/><path d="M125.4,65.4l1.9-2.7l-1.9-1.1l-1.9,2.7z" color="#ffed53"/><path d="M123.5,66l1.9-0.6l-1.9-1.1l-1.9,0.7z" color="#f5d249"/><path d="M121.7,64.8l1.8,1.2l-1.9-1l-1.8-0.9z" color="#dfae2f"/><path d="M119.8,63.3l1.9,1.5l-1.9-0.7l-1.9-1z" color="#d3ad29"/><path d="M117.9,62.6l1.9,0.7l-1.9-0.2l-1.9-0.4z" color="#d8b927"/><path d="M116,63.1l1.9-0.5l-1.9,0.1l-1.9,0.4z" color="#e9cb29"/><path d="M114.1,64.2l1.9-1.1l-1.9,0l-1.9,0.5z" color="#f6de34"/><path d="M112.2,65.5l1.9-1.3l-1.9-0.6l-1.9,0.8z" color="#fcef4b"/><path d="M110.3,67l1.9-1.5l-1.9-1.1l-1.9,1.3z" color="#fffa5f"/><path d="M108.4,69l1.9-2l-1.9-1.3l-1.9,1.8z" color="#fffe68"/><path d="M106.6,71.4l1.8-2.4l-1.9-1.5l-1.8,1.8z" color="#fffe80"/><path d="M104.7,72.2l1.9-0.8l-1.9-2.1l-1.9,0.8z" color="#fbde68"/><path d="M102.8,71.2l1.9,1l-1.9-2.1l-1.9-0.1z" color="#edb636"/><path d="M100.9,70.1l1.9,1.1l-1.9-1.2l-1.9-0.3z" color="#dfb02f"/><path d="M99,69.6l1.9,0.5l-1.9-0.4l-1.9-0.2z" color="#deb42c"/><path d="M97.1,69.7l1.9-0.1l-1.9-0.1l-1.9-0.5z" color="#ebc730"/><path d="M95.2,71.6l1.9-1.9l-1.9-0.7l-1.9,0.7z" color="#fbea53"/><path d="M93.3,74.8l1.9-3.2l-1.9-1.9l-1.9,2.3z" color="#fffb71"/><path d="M91.4,77.2l1.9-2.4l-1.9-2.8l-1.9,2.4z" color="#fffc7c"/><path d="M89.6,78.3l1.8-1.1l-1.9-2.8l-1.8,1.8z" color="#ffff8d"/><path d="M87.7,80l1.9-1.7l-1.9-2.1l-1.9,2.1z" color="#fffe81"/><path d="M85.8,82.1l1.9-2.1l-1.9-1.7l-1.9,2.1z" color="#fffc6b"/><path d="M83.9,84.3l1.9-2.2l-1.9-1.7l-1.9,2z" color="#fbef57"/><path d="M82,87.9l1.9-3.6l-1.9-1.9l-1.9,3.3z" color="#dedc45"/><path d="M80.1,92.9l1.9-5l-1.9-2.2l-1.9,4.6z" color="#acd54f"/><path d="M78.2,98l1.9-5.1l-1.9-2.6l-1.9,4.7z" color="#7fdb75"/><path d="M76.3,101.1l1.9-3.1l-1.9-3l-1.9,3.2z" color="#65e59d"/><path d="M189.7,76.1l1.8,4.7l-1.9-2.3l-1.8-3.8z" color="#119e99"/><path d="M187.8,74.8l1.9,1.3l-1.9-1.4l-1.9-0.8z" color="#26ae94"/><path d="M185.9,76l1.9-1.2l-1.9-0.9l-1.9,1.1z" color="#44d0b8"/><path d="M184,78l1.9-2l-1.9-1l-1.9,1z" color="#57e7d8"/><path d="M182.1,79.1l1.9-1.1l-1.9-2l-1.9-0.1z" color="#49e1cf"/><path d="M180.2,80.5l1.9-1.4l-1.9-3.2l-1.9,1.1z" color="#49e9d6"/><path d="M178.3,82.1l1.9-1.6l-1.9-3.5l-1.9,2.1z" color="#53fbef"/><path d="M176.4,82.7l1.9-0.6l-1.9-3l-1.9,1.5z" color="#31d8d4"/><path d="M174.5,80.9l1.9,1.8l-1.9-2.1l-1.9-1.1z" color="#16a9a1"/><path d="M172.7,78.2l1.8,2.7l-1.9-1.4l-1.8-2.6z" color="#23a28a"/><path d="M170.8,77.3l1.9,0.9l-1.9-1.3l-1.9-0.8z" color="#32b68b"/><path d="M168.9,78.6l1.9-1.3l-1.9-1.2l-1.9,1.4z" color="#4cddad"/><path d="M167,80.5l1.9-1.9l-1.9-1.1l-1.9,2.5z" color="#4ce3be"/><path d="M165.1,80.4l1.9,0.1l-1.9-0.5l-1.9,0.3z" color="#31bc9e"/><path d="M163.2,77.5l1.9,2.9l-1.9-0.1l-1.9-3.2z" color="#30a67c"/><path d="M161.3,74l1.9,3.5l-1.9-0.4l-1.9-3.7z" color="#49a964"/><path d="M159.4,71.4l1.9,2.6l-1.9-0.6l-1.9-2.4z" color="#69a94b"/><path d="M157.6,71l1.8,0.4l-1.9-0.4l-1.9,0.1z" color="#86b743"/><path d="M155.7,73.1l1.9-2.1l-2,0.1l-1.8,2.1z" color="#8dc84e"/><path d="M153.8,76.2l1.9-3.1l-1.9,0.1l-1.9,2.5z" color="#7bd063"/><path d="M151.9,75.4l1.9,0.8l-1.9-0.5l-1.9-1z" color="#6bbf5f"/><path d="M150,70.3l1.9,5.1l-1.9-0.7l-1.9-4.5z" color="#7ea63c"/><path d="M148.1,66.7l1.9,3.6l-1.9-0.1l-1.9-3.2z" color="#a6a026"/><path d="M146.2,65.6l1.9,1.1l-1.9,0.3l-1.9-1.6z" color="#bb9c25"/><path d="M144.3,65l1.9,0.6l-1.9-0.2l-1.9-1.6z" color="#cda02d"/><path d="M142.4,65.3l1.9-0.3l-1.9-1.2l-1.9-0.5z" color="#e9b73e"/><path d="M140.6,66.4l1.8-1.1l-1.9-2l-1.8,0.7z" color="#fccd4c"/><path d="M138.7,66.6l1.9-0.2l-1.9-2.4l-1.9,0.5z" color="#f2c043"/><path d="M136.8,65.5l1.9,1.1l-1.9-2.1l-1.9-0.7z" color="#dca634"/><path d="M134.9,63.7l1.9,1.8l-1.9-1.7l-1.9-1.9z" color="#d3a22f"/><path d="M133,62.4l1.9,1.3l-1.9-1.8l-1.9-1.4z" color="#dab02b"/><path d="M131.1,62.6l1.9-0.2l-1.9-1.9l-1.9,0.1z" color="#f0dd4d"/><path d="M129.2,64.2l1.9-1.6l-1.9-2l-1.9,2.1z" color="#fffb67"/><path d="M127.3,66.1l1.9-1.9l-1.9-1.5l-1.9,2.7z" color="#ffe854"/><path d="M125.5,66.4l1.8-0.3l-1.9-0.7l-1.9,0.6z" color="#f0c33d"/><path d="M123.6,65.2l1.9,1.2l-2-0.4l-1.8-1.2z" color="#d9ab2d"/><path d="M121.7,63.9l1.9,1.3l-1.9-0.4l-1.9-1.5z" color="#d2ae28"/><path d="M119.8,63.5l1.9,0.4l-1.9-0.6l-1.9-0.7z" color="#dec127"/><path d="M117.9,64.3l1.9-0.8l-1.9-0.9l-1.9,0.5z" color="#f4df3e"/><path d="M116,65.8l1.9-1.5l-1.9-1.2l-1.9,1.1z" color="#fff75f"/><path d="M114.1,67.3l1.9-1.5l-1.9-1.6l-1.9,1.3z" color="#ffff75"/><path d="M112.2,68.7l1.9-1.4l-1.9-1.8l-1.9,1.5z" color="#ffff7c"/><path d="M110.3,70.7l1.9-2l-1.9-1.7l-1.9,2z" color="#fffd6f"/><path d="M108.5,73.4l1.8-2.7l-1.9-1.7l-1.8,2.4z" color="#fffd7f"/><path d="M106.6,74.2l1.9-0.8l-1.9-2l-1.9,0.8z" color="#f4d768"/><path d="M104.7,72.5l1.9,1.7l-1.9-2l-1.9-1z" color="#dfa934"/><path d="M102.8,70.7l1.9,1.8l-1.9-1.3l-1.9-1.1z" color="#d4a72c"/><path d="M100.9,69.9l1.9,0.8l-1.9-0.6l-1.9-0.5z" color="#dcb62a"/><path d="M99,70.8l1.9-0.9l-1.9-0.3l-1.9,0.1z" color="#f2d93a"/><path d="M97.1,73.5l1.9-2.7l-1.9-1.1l-1.9,1.9z" color="#fff150"/><path d="M95.2,77.3l1.9-3.8l-1.9-1.9l-1.9,3.2z" color="#ffed5f"/><path d="M93.3,79.4l1.9-2.1l-1.9-2.5l-1.9,2.4z" color="#fff57b"/><path d="M91.5,79.8l1.8-0.4l-1.9-2.2l-1.8,1.1z" color="#fffb85"/><path d="M89.6,81.4l1.9-1.6l-1.9-1.5l-1.9,1.7z" color="#fff670"/><path d="M87.7,83.7l1.9-2.3l-1.9-1.4l-1.9,2.1z" color="#fff55f"/><path d="M85.8,85.8l1.9-2.1l-1.9-1.6l-1.9,2.2z" color="#f4e94e"/><path d="M83.9,89l1.9-3.2l-1.9-1.5l-1.9,3.6z" color="#d0d53f"/><path d="M82,93.6l1.9-4.6l-1.9-1.1l-1.9,5z" color="#9bcd4c"/><path d="M80.1,98.3l1.9-4.7l-1.9-0.7l-1.9,5.1z" color="#6bce70"/><path d="M78.2,101.4l1.9-3.1l-1.9-0.3l-1.9,3.1z" color="#4cd190"/><path d="M191.6,78.4l1.8,4.6l-1.9-2.2l-1.8-4.7z" color="#0f9c9e"/><path d="M189.7,77.2l1.9,1.2l-1.9-2.3l-1.9-1.3z" color="#22ae9a"/><path d="M187.8,78.7l1.9-1.5l-1.9-2.4l-1.9,1.2z" color="#4fdece"/><path d="M185.9,81.2l1.9-2.5l-1.9-2.7l-1.9,2z" color="#68fefc"/><path d="M184,82.4l1.9-1.2l-1.9-3.2l-1.9,1.1z" color="#4bf2ef"/><path d="M182.1,83.4l1.9-1l-1.9-3.3l-1.9,1.4z" color="#3aebe9"/><path d="M180.2,84.1l1.9-0.7l-1.9-2.9l-1.9,1.6z" color="#31e5e8"/><path d="M178.3,83.7l1.9,0.4l-1.9-2l-1.9,0.6z" color="#16bec1"/><path d="M176.4,81.6l1.9,2.1l-1.9-1l-1.9-1.8z" color="#11a19b"/><path d="M174.6,79.1l1.8,2.5l-1.9-0.7l-1.8-2.7z" color="#22a28b"/><path d="M172.7,78.4l1.9,0.7l-1.9-0.9l-1.9-0.9z" color="#30b48b"/><path d="M170.8,79.3l1.9-0.9l-1.9-1.1l-1.9,1.3z" color="#3ed0a1"/><path d="M168.9,80.4l1.9-1.1l-1.9-0.7l-1.9,1.9z" color="#3acda4"/><path d="M167,79.8l1.9,0.6l-1.9,0.1l-1.9-0.1z" color="#2db18d"/><path d="M165.1,77.2l1.9,2.6l-1.9,0.6l-1.9-2.9z" color="#35a777"/><path d="M163.2,74.5l1.9,2.7l-1.9,0.3l-1.9-3.5z" color="#4ea960"/><path d="M161.3,72.3l1.9,2.2l-1.9-0.5l-1.9-2.6z" color="#6ba949"/><path d="M159.5,71.6l1.8,0.7l-1.9-0.9l-1.8-0.4z" color="#8cb840"/><path d="M157.6,73.2l1.9-1.6l-1.9-0.6l-1.9,2.1z" color="#98cb49"/><path d="M155.7,76.3l1.9-3.1l-1.9-0.1l-1.9,3.1z" color="#82ce5b"/><path d="M153.8,75.5l1.9,0.8l-1.9-0.1l-1.9-0.8z" color="#6ebc58"/><path d="M151.9,70.1l1.9,5.4l-1.9-0.1l-1.9-5.1z" color="#85a538"/><path d="M150,66.4l1.9,3.7l-1.9,0.2l-1.9-3.6z" color="#ae9f25"/><path d="M148.1,65.5l1.9,0.9l-1.9,0.3l-1.9-1.1z" color="#c59d29"/><path d="M146.2,65.8l1.9-0.3l-1.9,0.1l-1.9-0.6z" color="#dead35"/><path d="M144.3,67.1l1.9-1.3l-1.9-0.8l-1.9,0.3z" color="#f8d356"/><path d="M142.5,68.5l1.8-1.4l-1.9-1.8l-1.8,1.1z" color="#ffe561"/><path d="M140.6,68.7l1.9-0.2l-1.9-2.1l-1.9,0.2z" color="#ebc341"/><path d="M138.7,67.3l1.9,1.4l-1.9-2.1l-1.9-1.1z" color="#d4a231"/><path d="M136.8,65.5l1.9,1.8l-1.9-1.8l-1.9-1.8z" color="#d19f30"/><path d="M134.9,64.5l1.9,1l-1.9-1.8l-1.9-1.3z" color="#ddae2e"/><path d="M133,64.8l1.9-0.3l-1.9-2.1l-1.9,0.2z" color="#f2d644"/><path d="M131.1,65.8l1.9-1l-1.9-2.2l-1.9,1.6z" color="#fff964"/><path d="M129.2,66.7l1.9-0.9l-1.9-1.6l-1.9,1.9z" color="#fde454"/><path d="M127.4,66.6l1.8,0.1l-1.9-0.6l-1.8,0.3z" color="#edbb35"/><path d="M125.5,65.9l1.9,0.7l-1.9-0.2l-1.9-1.2z" color="#daae2c"/><path d="M123.6,65.3l1.9,0.6l-1.9-0.7l-1.9-1.3z" color="#dbb629"/><path d="M121.7,65.4l1.9-0.1l-1.9-1.4l-1.9-0.4z" color="#eccf2f"/><path d="M119.8,66.4l1.9-1l-1.9-1.9l-1.9,0.8z" color="#fcf058"/><path d="M117.9,67.9l1.9-1.5l-1.9-2.1l-1.9,1.5z" color="#ffff82"/><path d="M116,69.3l1.9-1.4l-1.9-2.1l-1.9,1.5z" color="#ffff8c"/><path d="M114.1,70.6l1.9-1.3l-1.9-2l-1.9,1.4z" color="#ffff8a"/><path d="M112.2,72.7l1.9-2.1l-1.9-1.9l-1.9,2z" color="#fff977"/><path d="M110.4,75.6l1.8-2.9l-1.9-2l-1.8,2.7z" color="#fff97c"/><path d="M108.5,76.4l1.9-0.8l-1.9-2.2l-1.9,0.8z" color="#eed362"/><path d="M106.6,74.3l1.9,2.1l-1.9-2.2l-1.9-1.7z" color="#d8a432"/><path d="M104.7,71.8l1.9,2.5l-1.9-1.8l-1.9-1.8z" color="#d2a52d"/><path d="M102.8,70.8l1.9,1l-1.9-1.1l-1.9-0.8z" color="#e1ba2b"/><path d="M100.9,72.2l1.9-1.4l-1.9-0.9l-1.9,0.9z" color="#f7e442"/><path d="M99,75.5l1.9-3.3l-1.9-1.4l-1.9,2.7z" color="#ffed52"/><path d="M97.1,79.3l1.9-3.8l-1.9-2l-1.9,3.8z" color="#ffdf55"/><path d="M95.3,81l1.8-1.7l-1.9-2l-1.9,2.1z" color="#ffe966"/><path d="M93.4,81l1.9,0l-2-1.6l-1.8,0.4z" color="#ffea63"/><path d="M91.5,82.8l1.9-1.8l-1.9-1.2l-1.9,1.6z" color="#ffe857"/><path d="M89.6,85.4l1.9-2.6l-1.9-1.4l-1.9,2.3z" color="#fff159"/><path d="M87.7,87.2l1.9-1.8l-1.9-1.7l-1.9,2.1z" color="#f8f255"/><path d="M85.8,89.6l1.9-2.4l-1.9-1.4l-1.9,3.2z" color="#d4dc46"/><path d="M83.9,93.1l1.9-3.5l-1.9-0.6l-1.9,4.6z" color="#9fca47"/><path d="M82,96.9l1.9-3.8l-1.9,0.5l-1.9,4.7z" color="#72c761"/><path d="M80.1,100.2l1.9-3.3l-1.9,1.4l-1.9,3.1z" color="#50c67b"/><path d="M193.5,81.2l1.8,4l-1.9-2.2l-1.8-4.6z" color="#0c99a5"/><path d="M191.6,80.5l1.9,0.7l-1.9-2.8l-1.9-1.2z" color="#17afa6"/><path d="M189.7,82.2l1.9-1.7l-1.9-3.3l-1.9,1.5z" color="#3adfd7"/><path d="M187.8,84.7l1.9-2.5l-1.9-3.5l-1.9,2.5z" color="#4bfcfc"/><path d="M185.9,85.3l1.9-0.6l-1.9-3.5l-1.9,1.2z" color="#2ee4eb"/><path d="M184,85.3l1.9,0l-1.9-2.9l-1.9,1z" color="#18ccd7"/><path d="M182.1,84.9l1.9,0.4l-1.9-1.9l-1.9,0.7z" color="#0cbac3"/><path d="M180.2,83.9l1.9,1l-1.9-0.8l-1.9-0.4z" color="#06a4a8"/><path d="M178.4,81.9l1.8,2l-1.9-0.2l-1.9-2.1z" color="#139f97"/><path d="M176.5,80.2l1.9,1.7l-2-0.3l-1.8-2.5z" color="#23a38b"/><path d="M174.6,79.7l1.9,0.5l-1.9-1.1l-1.9-0.7z" color="#2fb38c"/><path d="M172.7,80.2l1.9-0.5l-1.9-1.3l-1.9,0.9z" color="#38c799"/><path d="M170.8,80.5l1.9-0.3l-1.9-0.9l-1.9,1.1z" color="#35c195"/><path d="M168.9,79.3l1.9,1.2l-1.9-0.1l-1.9-0.6z" color="#31ad82"/><path d="M167,76.9l1.9,2.4l-1.9,0.5l-1.9-2.6z" color="#3da86f"/><path d="M165.1,74.9l1.9,2l-1.9,0.3l-1.9-2.7z" color="#55aa5b"/><path d="M163.2,73.6l1.9,1.3l-1.9-0.4l-1.9-2.2z" color="#6daa49"/><path d="M161.4,72.8l1.8,0.8l-1.9-1.3l-1.8-0.7z" color="#8ab841"/><path d="M159.5,73.8l1.9-1l-1.9-1.2l-1.9,1.6z" color="#9fce4b"/><path d="M157.6,76.4l1.9-2.6l-1.9-0.6l-1.9,3.1z" color="#8ed159"/><path d="M155.7,75.5l1.9,0.9l-1.9-0.1l-1.9-0.8z" color="#76ba51"/><path d="M153.8,70.5l1.9,5l-1.9,0l-1.9-5.4z" color="#8ca533"/><path d="M151.9,66.8l1.9,3.7l-1.9-0.4l-1.9-3.7z" color="#b49e26"/><path d="M150,66l1.9,0.8l-1.9-0.4l-1.9-0.9z" color="#d1a32f"/><path d="M148.1,66.9l1.9-0.9l-1.9-0.5l-1.9,0.3z" color="#f0c74b"/><path d="M146.2,68.7l1.9-1.8l-1.9-1.1l-1.9,1.3z" color="#fff16f"/><path d="M144.4,70.4l1.8-1.7l-1.9-1.6l-1.8,1.4z" color="#fff76c"/><path d="M142.5,70.4l1.9,0l-1.9-1.9l-1.9,0.2z" color="#e6ca42"/><path d="M140.6,68.8l1.9,1.6l-1.9-1.7l-1.9-1.4z" color="#cca02d"/><path d="M138.7,67.1l1.9,1.7l-1.9-1.5l-1.9-1.8z" color="#d09d31"/><path d="M136.8,66.3l1.9,0.8l-1.9-1.6l-1.9-1z" color="#dfac31"/><path d="M134.9,66.6l1.9-0.3l-1.9-1.8l-1.9,0.3z" color="#f4c93b"/><path d="M133,67.1l1.9-0.5l-1.9-1.8l-1.9,1z" color="#ffde4b"/><path d="M131.1,67.3l1.9-0.2l-1.9-1.3l-1.9,0.9z" color="#f9d042"/><path d="M129.3,67.2l1.8,0.1l-1.9-0.6l-1.8-0.1z" color="#ecba31"/><path d="M127.4,67.1l1.9,0.1l-1.9-0.6l-1.9-0.7z" color="#e7ba2e"/><path d="M125.5,67.5l1.9-0.4l-1.9-1.2l-1.9-0.6z" color="#efc732"/><path d="M123.6,68.2l1.9-0.7l-1.9-2.2l-1.9,0.1z" color="#fadc3e"/><path d="M121.7,69.1l1.9-0.9l-1.9-2.8l-1.9,1z" color="#fff35a"/><path d="M119.8,70.1l1.9-1l-1.9-2.7l-1.9,1.5z" color="#fffe7a"/><path d="M117.9,71.2l1.9-1.1l-1.9-2.2l-1.9,1.4z" color="#ffff87"/><path d="M116,72.3l1.9-1.1l-1.9-1.9l-1.9,1.3z" color="#ffff86"/><path d="M114.1,74.5l1.9-2.2l-1.9-1.7l-1.9,2.1z" color="#fff170"/><path d="M112.3,77.6l1.8-3.1l-1.9-1.8l-1.8,2.9z" color="#ffef6c"/><path d="M110.4,78.5l1.9-0.9l-1.9-2l-1.9,0.8z" color="#e8d053"/><path d="M108.5,76.3l1.9,2.2l-1.9-2.1l-1.9-2.1z" color="#d1a12f"/><path d="M106.6,73.5l1.9,2.8l-1.9-2l-1.9-2.5z" color="#d2a22e"/><path d="M104.7,72.4l1.9,1.1l-1.9-1.7l-1.9-1z" color="#e5bb2d"/><path d="M102.8,74l1.9-1.6l-1.9-1.6l-1.9,1.4z" color="#fbe646"/><path d="M100.9,77.4l1.9-3.4l-1.9-1.8l-1.9,3.3z" color="#ffe955"/><path d="M99,81l1.9-3.6l-1.9-1.9l-1.9,3.8z" color="#ffdb53"/><path d="M97.2,82.1l1.8-1.1l-1.9-1.7l-1.8,1.7z" color="#fbd94d"/><path d="M95.3,82l1.9,0.1l-1.9-1.1l-1.9,0z" color="#fbd748"/><path d="M93.4,84.2l1.9-2.2l-1.9-1l-1.9,1.8z" color="#fede4c"/><path d="M91.5,87.3l1.9-3.1l-1.9-1.4l-1.9,2.6z" color="#feed53"/><path d="M89.6,88.9l1.9-1.6l-1.9-1.9l-1.9,1.8z" color="#fefb66"/><path d="M87.7,90.7l1.9-1.8l-1.9-1.7l-1.9,2.4z" color="#e4ee5e"/><path d="M85.8,93.1l1.9-2.4l-1.9-1.1l-1.9,3.5z" color="#b0d54b"/><path d="M83.9,96.3l1.9-3.2l-1.9,0l-1.9,3.8z" color="#84c955"/><path d="M82,99.7l1.9-3.4l-1.9,0.6l-1.9,3.3z" color="#62c76d"/><path d="M195.4,83.8l1.8,3.1l-1.9-1.7l-1.8-4z" color="#0a96ab"/><path d="M193.5,83.5l1.9,0.3l-1.9-2.6l-1.9-0.7z" color="#0fb3b8"/><path d="M191.6,85.2l1.9-1.7l-1.9-3l-1.9,1.7z" color="#33e4e6"/><path d="M189.7,87.2l1.9-2l-1.9-3l-1.9,2.5z" color="#45f9ff"/><path d="M187.8,87l1.9,0.2l-1.9-2.5l-1.9,0.6z" color="#23d1e0"/><path d="M185.9,86.1l1.9,0.9l-1.9-1.7l-1.9,0z" color="#03a8b9"/><path d="M184,85.3l1.9,0.8l-1.9-0.8l-1.9-0.4z" color="#02a1aa"/><path d="M182.1,84.2l1.9,1.1l-1.9-0.4l-1.9-1z" color="#099e9f"/><path d="M180.3,82.6l1.8,1.6l-1.9-0.3l-1.8-2z" color="#179f94"/><path d="M178.4,81.4l1.9,1.2l-1.9-0.7l-1.9-1.7z" color="#25a58c"/><path d="M176.5,81.1l1.9,0.3l-1.9-1.2l-1.9-0.5z" color="#2eb38f"/><path d="M174.6,81.3l1.9-0.2l-1.9-1.4l-1.9,0.5z" color="#33c095"/><path d="M172.7,81.1l1.9,0.2l-1.9-1.1l-1.9,0.3z" color="#32b88c"/><path d="M170.8,79.6l1.9,1.5l-1.9-0.6l-1.9-1.2z" color="#34ab7a"/><path d="M168.9,77.1l1.9,2.5l-1.9-0.3l-1.9-2.4z" color="#44a968"/><path d="M167,75.6l1.9,1.5l-1.9-0.2l-1.9-2z" color="#5baa56"/><path d="M165.1,74.9l1.9,0.7l-1.9-0.7l-1.9-1.3z" color="#6eac4a"/><path d="M163.3,74.2l1.8,0.7l-1.9-1.3l-1.8-0.8z" color="#85b744"/><path d="M161.4,74.8l1.9-0.6l-1.9-1.4l-1.9,1z" color="#a1d250"/><path d="M159.5,76.8l1.9-2l-1.9-1l-1.9,2.6z" color="#98d75b"/><path d="M157.6,76l1.9,0.8l-1.9-0.4l-1.9-0.9z" color="#7cb94b"/><path d="M155.7,72l1.9,4l-1.9-0.5l-1.9-5z" color="#8fa431"/><path d="M153.8,69l1.9,3l-1.9-1.5l-1.9-3.7z" color="#b29e25"/><path d="M151.9,68.2l1.9,0.8l-1.9-2.2l-1.9-0.8z" color="#d2a62d"/><path d="M150,68.7l1.9-0.5l-1.9-2.2l-1.9,0.9z" color="#f2d857"/><path d="M148.2,70.3l1.8-1.6l-1.9-1.8l-1.9,1.8z" color="#ffff76"/><path d="M146.3,71.9l1.9-1.6l-2-1.6l-1.8,1.7z" color="#fcf15f"/><path d="M144.4,71.7l1.9,0.2l-1.9-1.5l-1.9,0z" color="#dec338"/><path d="M142.5,70l1.9,1.7l-1.9-1.3l-1.9-1.6z" color="#c69e2a"/><path d="M140.6,68.4l1.9,1.6l-1.9-1.2l-1.9-1.7z" color="#cf9d30"/><path d="M138.7,67.7l1.9,0.7l-1.9-1.3l-1.9-0.8z" color="#dfa933"/><path d="M136.8,67.7l1.9,0l-1.9-1.4l-1.9,0.3z" color="#f1bc36"/><path d="M134.9,67.9l1.9-0.2l-1.9-1.1l-1.9,0.5z" color="#f9c337"/><path d="M133,68.1l1.9-0.2l-1.9-0.8l-1.9,0.2z" color="#f6c034"/><path d="M131.2,68.3l1.8-0.2l-1.9-0.8l-1.8-0.1z" color="#f4c334"/><path d="M129.3,69l1.9-0.7l-1.9-1.1l-1.9-0.1z" color="#f8d541"/><path d="M127.4,70l1.9-1l-1.9-1.9l-1.9,0.4z" color="#fde854"/><path d="M125.5,71.1l1.9-1.1l-1.9-2.5l-1.9,0.7z" color="#ffeb58"/><path d="M123.6,71.8l1.9-0.7l-1.9-2.9l-1.9,0.9z" color="#ffe856"/><path d="M121.7,72.3l1.9-0.5l-1.9-2.7l-1.9,1z" color="#ffe85c"/><path d="M119.8,72.8l1.9-0.5l-1.9-2.2l-1.9,1.1z" color="#ffe964"/><path d="M117.9,73.5l1.9-0.7l-1.9-1.6l-1.9,1.1z" color="#ffec65"/><path d="M116.1,75.5l1.8-2l-1.9-1.2l-1.9,2.2z" color="#ffde59"/><path d="M114.2,78.8l1.9-3.3l-2-1l-1.8,3.1z" color="#fcd64e"/><path d="M112.3,80l1.9-1.2l-1.9-1.2l-1.9,0.9z" color="#e3c33c"/><path d="M110.4,78.1l1.9,1.9l-1.9-1.5l-1.9-2.2z" color="#cda12d"/><path d="M108.5,75.5l1.9,2.6l-1.9-1.8l-1.9-2.8z" color="#d0a02f"/><path d="M106.6,74.4l1.9,1.1l-1.9-2l-1.9-1.1z" color="#e8b931"/><path d="M104.7,76.1l1.9-1.7l-1.9-2l-1.9,1.6z" color="#fee54c"/><path d="M102.8,79.3l1.9-3.2l-1.9-2.1l-1.9,3.4z" color="#ffe85b"/><path d="M100.9,82.3l1.9-3l-1.9-1.9l-1.9,3.6z" color="#ffdb53"/><path d="M99.1,83.2l1.8-0.9l-1.9-1.3l-1.8,1.1z" color="#f5d042"/><path d="M97.2,83.2l1.9,0l-1.9-1.1l-1.9-0.1z" color="#f5d142"/><path d="M95.3,85.7l1.9-2.5l-1.9-1.2l-1.9,2.2z" color="#fadd49"/><path d="M93.4,89.1l1.9-3.4l-1.9-1.5l-1.9,3.1z" color="#f2e249"/><path d="M91.5,90.8l1.9-1.7l-1.9-1.8l-1.9,1.6z" color="#f7f76e"/><path d="M89.6,92.3l1.9-1.5l-1.9-1.9l-1.9,1.8z" color="#f6fb80"/><path d="M87.7,94l1.9-1.7l-1.9-1.6l-1.9,2.4z" color="#ceeb68"/><path d="M85.8,96.3l1.9-2.3l-1.9-0.9l-1.9,3.2z" color="#99d659"/><path d="M83.9,99.5l1.9-3.2l-1.9,0l-1.9,3.4z" color="#71cb65"/><path d="M197.3,85.9l1.9,2.2l-2-1.2l-1.8-3.1z" color="#0b96b0"/><path d="M195.4,85.8l1.9,0.1l-1.9-2.1l-1.9-0.3z" color="#0fb7c8"/><path d="M193.5,87.2l1.9-1.4l-1.9-2.3l-1.9,1.7z" color="#36eaf1"/><path d="M191.6,88.4l1.9-1.2l-1.9-2l-1.9,2z" color="#3ce5f1"/><path d="M189.7,87.3l1.9,1.1l-1.9-1.2l-1.9-0.2z" color="#15b4c9"/><path d="M187.8,86l1.9,1.3l-1.9-0.3l-1.9-0.9z" color="#039baa"/><path d="M185.9,85.6l1.9,0.4l-1.9,0.1l-1.9-0.8z" color="#049ea3"/><path d="M184,85.2l1.9,0.4l-1.9-0.3l-1.9-1.1z" color="#0ca1a0"/><path d="M182.2,84.1l1.8,1.1l-1.9-1l-1.8-1.6z" color="#18a398"/><path d="M180.3,82.9l1.9,1.2l-1.9-1.5l-1.9-1.2z" color="#24a891"/><path d="M178.4,82.6l1.9,0.3l-1.9-1.5l-1.9-0.3z" color="#2cb493"/><path d="M176.5,82.7l1.9-0.1l-1.9-1.5l-1.9,0.2z" color="#30bd96"/><path d="M174.6,82.7l1.9,0l-1.9-1.4l-1.9-0.2z" color="#30b68e"/><path d="M172.7,81.2l1.9,1.5l-1.9-1.6l-1.9-1.5z" color="#34ab7c"/><path d="M170.8,78.3l1.9,2.9l-1.9-1.6l-1.9-2.5z" color="#45a968"/><path d="M168.9,76.6l1.9,1.7l-1.9-1.2l-1.9-1.5z" color="#5caa55"/><path d="M167,75.7l1.9,0.9l-1.9-1l-1.9-0.7z" color="#6eac4a"/><path d="M165.2,75.2l1.8,0.5l-1.9-0.8l-1.8-0.7z" color="#81b645"/><path d="M163.3,75.7l1.9-0.5l-1.9-1l-1.9,0.6z" color="#9bcf4f"/><path d="M161.4,77.2l1.9-1.5l-1.9-0.9l-1.9,2z" color="#98d456"/><path d="M159.5,76.8l1.9,0.4l-1.9-0.4l-1.9-0.8z" color="#80b848"/><path d="M157.6,74.1l1.9,2.7l-1.9-0.8l-1.9-4z" color="#8ca532"/><path d="M155.7,72.3l1.9,1.8l-1.9-2.1l-1.9-3z" color="#aaa225"/><path d="M153.8,71.7l1.9,0.6l-1.9-3.3l-1.9-0.8z" color="#c4a827"/><path d="M151.9,71.3l1.9,0.4l-1.9-3.5l-1.9,0.5z" color="#dec43d"/><path d="M150.1,71.7l1.8-0.4l-1.9-2.6l-1.8,1.6z" color="#f5e557"/><path d="M148.2,72.9l1.9-1.2l-1.9-1.4l-1.9,1.6z" color="#f3dd48"/><path d="M146.3,72.6l1.9,0.3l-1.9-1l-1.9-0.2z" color="#d2b42b"/><path d="M144.4,70.9l1.9,1.7l-1.9-0.9l-1.9-1.7z" color="#c39c29"/><path d="M142.5,69.8l1.9,1.1l-1.9-0.9l-1.9-1.6z" color="#d09e31"/><path d="M140.6,69.2l1.9,0.6l-1.9-1.4l-1.9-0.7z" color="#dea734"/><path d="M138.7,68.6l1.9,0.6l-1.9-1.5l-1.9,0z" color="#e9b234"/><path d="M136.8,68.6l1.9,0l-1.9-0.9l-1.9,0.2z" color="#f2bc34"/><path d="M134.9,69.4l1.9-0.8l-1.9-0.7l-1.9,0.2z" color="#facd3e"/><path d="M133.1,70.2l1.8-0.8l-1.9-1.3l-1.8,0.2z" color="#fddf4d"/><path d="M131.2,71l1.9-0.8l-1.9-1.9l-1.9,0.7z" color="#fff264"/><path d="M129.3,72.3l1.9-1.3l-1.9-2l-1.9,1z" color="#ffff7d"/><path d="M127.4,73.4l1.9-1.1l-1.9-2.3l-1.9,1.1z" color="#fffa78"/><path d="M125.5,74.1l1.9-0.7l-1.9-2.3l-1.9,0.7z" color="#ffe05a"/><path d="M123.6,74.2l1.9-0.1l-1.9-2.3l-1.9,0.5z" color="#fbc744"/><path d="M121.7,73.9l1.9,0.3l-1.9-1.9l-1.9,0.5z" color="#f7c440"/><path d="M119.8,74.1l1.9-0.2l-1.9-1.1l-1.9,0.7z" color="#fbcc43"/><path d="M118,75.8l1.8-1.7l-1.9-0.6l-1.8,2z" color="#ffca44"/><path d="M116.1,78.9l1.9-3.1l-1.9-0.3l-1.9,3.3z" color="#f8c13b"/><path d="M114.2,80.4l1.9-1.5l-1.9-0.1l-1.9,1.2z" color="#dfb42f"/><path d="M112.3,79.1l1.9,1.3l-1.9-0.4l-1.9-1.9z" color="#cca12c"/><path d="M110.4,77l1.9,2.1l-1.9-1l-1.9-2.6z" color="#cf9e30"/><path d="M108.5,76.3l1.9,0.7l-1.9-1.5l-1.9-1.1z" color="#e9b936"/><path d="M106.6,78.1l1.9-1.8l-1.9-1.9l-1.9,1.7z" color="#ffe554"/><path d="M104.7,81l1.9-2.9l-1.9-2l-1.9,3.2z" color="#ffe85f"/><path d="M102.8,83.3l1.9-2.3l-1.9-1.7l-1.9,3z" color="#ffd94f"/><path d="M101,84l1.8-0.7l-1.9-1l-1.8,0.9z" color="#f3cb3c"/><path d="M99.1,84.3l1.9-0.3l-1.9-0.8l-1.9,0z" color="#f3d141"/><path d="M97.2,86.9l1.9-2.6l-1.9-1.1l-1.9,2.5z" color="#f4da45"/><path d="M95.3,90.4l1.9-3.5l-1.9-1.2l-1.9,3.4z" color="#dfd53d"/><path d="M93.4,92.7l1.9-2.3l-1.9-1.3l-1.9,1.7z" color="#e5ee64"/><path d="M91.5,94.4l1.9-1.7l-1.9-1.9l-1.9,1.5z" color="#f9ff90"/><path d="M89.6,95.5l1.9-1.1l-1.9-2.1l-1.9,1.7z" color="#ebfb91"/><path d="M87.7,97l1.9-1.5l-1.9-1.5l-1.9,2.3z" color="#b9eb76"/><path d="M85.9,99.5l1.8-2.5l-1.9-0.7l-1.9,3.2z" color="#84d768"/><path d="M199.2,87.6l1.9,1.3l-1.9-0.8l-1.9-2.2z" color="#0d96b5"/><path d="M197.3,87.4l1.9,0.2l-1.9-1.7l-1.9-0.1z" color="#0db2c9"/><path d="M195.4,88.3l1.9-0.9l-1.9-1.6l-1.9,1.4z" color="#21d2e5"/><path d="M193.5,88.7l1.9-0.4l-1.9-1.1l-1.9,1.2z" color="#1bbed3"/><path d="M191.6,86.7l1.9,2l-1.9-0.3l-1.9-1.1z" color="#059db0"/><path d="M189.7,85.5l1.9,1.2l-1.9,0.6l-1.9-1.3z" color="#059ca3"/><path d="M187.8,85.9l1.9-0.4l-1.9,0.5l-1.9-0.4z" color="#0ba9a9"/><path d="M185.9,87l1.9-1.1l-1.9-0.3l-1.9-0.4z" color="#0fb3b1"/><path d="M184.1,86.5l1.8,0.5l-1.9-1.8l-1.8-1.1z" color="#13aca6"/><path d="M182.2,84.9l1.9,1.6l-1.9-2.4l-1.9-1.2z" color="#1ea797"/><path d="M180.3,84.1l1.9,0.8l-1.9-2l-1.9-0.3z" color="#28b195"/><path d="M178.4,84.5l1.9-0.4l-1.9-1.5l-1.9,0.1z" color="#31c19f"/><path d="M176.5,85.1l1.9-0.6l-1.9-1.8l-1.9,0z" color="#31be9b"/><path d="M174.6,83.8l1.9,1.3l-1.9-2.4l-1.9-1.5z" color="#2fad85"/><path d="M172.7,80.4l1.9,3.4l-1.9-2.6l-1.9-2.9z" color="#3ea86e"/><path d="M170.8,77.6l1.9,2.8l-1.9-2.1l-1.9-1.7z" color="#58aa58"/><path d="M169,76.1l1.8,1.5l-1.9-1l-1.9-0.9z" color="#6eaa48"/><path d="M167.1,75.6l1.9,0.5l-2-0.4l-1.8-0.5z" color="#82b342"/><path d="M165.2,76.3l1.9-0.7l-1.9-0.4l-1.9,0.5z" color="#96c747"/><path d="M163.3,77.5l1.9-1.2l-1.9-0.6l-1.9,1.5z" color="#94cc4d"/><path d="M161.4,77.5l1.9,0l-1.9-0.3l-1.9-0.4z" color="#84b745"/><path d="M159.5,76.1l1.9,1.4l-1.9-0.7l-1.9-2.7z" color="#8aa835"/><path d="M157.6,75.6l1.9,0.5l-1.9-2l-1.9-1.8z" color="#a2ab2b"/><path d="M155.7,75.4l1.9,0.2l-1.9-3.3l-1.9-0.6z" color="#b2ae28"/><path d="M153.8,73.9l1.9,1.5l-1.9-3.7l-1.9-0.4z" color="#bdad26"/><path d="M152,73l1.8,0.9l-1.9-2.6l-1.8,0.4z" color="#d6bb2f"/><path d="M150.1,73.7l1.9-0.7l-1.9-1.3l-1.9,1.2z" color="#dfc230"/><path d="M148.2,73.4l1.9,0.3l-1.9-0.8l-1.9-0.3z" color="#cbad26"/><path d="M146.3,72l1.9,1.4l-1.9-0.8l-1.9-1.7z" color="#c49e29"/><path d="M144.4,71.4l1.9,0.6l-1.9-1.1l-1.9-1.1z" color="#d2a031"/><path d="M142.5,70.8l1.9,0.6l-1.9-1.6l-1.9-0.6z" color="#dca535"/><path d="M140.6,69.5l1.9,1.3l-1.9-1.6l-1.9-0.6z" color="#dfaa33"/><path d="M138.7,69.5l1.9,0l-1.9-0.9l-1.9,0z" color="#efbe36"/><path d="M136.8,71.1l1.9-1.6l-1.9-0.9l-1.9,0.8z" color="#fee35a"/><path d="M135,72.3l1.8-1.2l-1.9-1.7l-1.8,0.8z" color="#fff973"/><path d="M133.1,72.9l1.9-0.6l-1.9-2.1l-1.9,0.8z" color="#fff56f"/><path d="M131.2,73.7l1.9-0.8l-1.9-1.9l-1.9,1.3z" color="#ffef72"/><path d="M129.3,74.8l1.9-1.1l-1.9-1.4l-1.9,1.1z" color="#ffec6d"/><path d="M127.4,75.8l1.9-1l-1.9-1.4l-1.9,0.7z" color="#ffd655"/><path d="M125.5,75.8l1.9,0l-1.9-1.7l-1.9,0.1z" color="#f4b83e"/><path d="M123.6,74.9l1.9,0.9l-1.9-1.6l-1.9-0.3z" color="#e9af37"/><path d="M121.7,74.7l1.9,0.2l-1.9-1l-1.9,0.2z" color="#f3bb38"/><path d="M119.9,75.9l1.8-1.2l-1.9-0.6l-1.8,1.7z" color="#ffc53d"/><path d="M118,78.4l1.9-2.5l-1.9-0.1l-1.9,3.1z" color="#f7bd3b"/><path d="M116.1,79.9l1.9-1.5l-1.9,0.5l-1.9,1.5z" color="#e3b133"/><path d="M114.2,79.4l1.9,0.5l-1.9,0.5l-1.9-1.3z" color="#d2a22f"/><path d="M112.3,78.1l1.9,1.3l-1.9-0.3l-1.9-2.1z" color="#d19e31"/><path d="M110.4,77.8l1.9,0.3l-1.9-1.1l-1.9-0.7z" color="#ebc140"/><path d="M108.5,79.7l1.9-1.9l-1.9-1.5l-1.9,1.8z" color="#ffe85b"/><path d="M106.6,82.3l1.9-2.6l-1.9-1.6l-1.9,2.9z" color="#ffe55e"/><path d="M104.7,84l1.9-1.7l-1.9-1.3l-1.9,2.3z" color="#fcd248"/><path d="M102.9,84.6l1.8-0.6l-1.9-0.7l-1.8,0.7z" color="#f1c435"/><path d="M101,85.3l1.9-0.7l-1.9-0.6l-1.9,0.3z" color="#f3cc3c"/><path d="M99.1,87.7l1.9-2.4l-1.9-1l-1.9,2.6z" color="#f0d23d"/><path d="M97.2,91.2l1.9-3.5l-1.9-0.8l-1.9,3.5z" color="#d3cb34"/><path d="M95.3,94.2l1.9-3l-1.9-0.8l-1.9,2.3z" color="#c9dd4e"/><path d="M93.4,96.4l1.9-2.2l-1.9-1.5l-1.9,1.7z" color="#ddf681"/><path d="M91.5,97.6l1.9-1.2l-1.9-2l-1.9,1.1z" color="#e8ffa1"/><path d="M89.6,98.6l1.9-1l-1.9-2.1l-1.9,1.5z" color="#d3fb9b"/><path d="M87.8,100.2l1.8-1.6l-1.9-1.6l-1.8,2.5z" color="#a1ea82"/><path d="M201.1,89.2l1.9,0.5l-1.9-0.8l-1.9-1.3z" color="#109abb"/><path d="M199.2,88.8l1.9,0.4l-1.9-1.6l-1.9-0.2z" color="#0ba8c4"/><path d="M197.3,89.1l1.9-0.3l-1.9-1.4l-1.9,0.9z" color="#0ab2cd"/><path d="M195.4,88.9l1.9,0.2l-1.9-0.8l-1.9,0.4z" color="#07a5bd"/><path d="M193.5,86.5l1.9,2.4l-1.9-0.2l-1.9-2z" color="#0599a6"/><path d="M191.6,85.4l1.9,1.1l-1.9,0.2l-1.9-1.2z" color="#0ba4a3"/><path d="M189.7,86.8l1.9-1.4l-1.9,0.1l-1.9,0.4z" color="#1ec5c0"/><path d="M187.8,89.3l1.9-2.5l-1.9-0.9l-1.9,1.1z" color="#2cdedc"/><path d="M186,89.4l1.8-0.1l-1.9-2.3l-1.8-0.5z" color="#1cc2c2"/><path d="M184.1,87.3l1.9,2.1l-1.9-2.9l-1.9-1.6z" color="#13a49d"/><path d="M182.2,86l1.9,1.3l-1.9-2.4l-1.9-0.8z" color="#22ac98"/><path d="M180.3,86.4l1.9-0.4l-1.9-1.9l-1.9,0.4z" color="#3bcfb3"/><path d="M178.4,87.8l1.9-1.4l-1.9-1.9l-1.9,0.6z" color="#3bd2b7"/><path d="M176.5,86.8l1.9,1l-1.9-2.7l-1.9-1.3z" color="#28af93"/><path d="M174.6,82.6l1.9,4.2l-1.9-3l-1.9-3.4z" color="#35a778"/><path d="M172.7,78.7l1.9,3.9l-1.9-2.2l-1.9-2.8z" color="#52a95d"/><path d="M170.9,76.3l1.8,2.4l-1.9-1.1l-1.8-1.5z" color="#6fa946"/><path d="M169,75.8l1.9,0.5l-1.9-0.2l-1.9-0.5z" color="#87b13d"/><path d="M167.1,76.6l1.9-0.8l-1.9-0.2l-1.9,0.7z" color="#99c341"/><path d="M165.2,77.5l1.9-0.9l-1.9-0.3l-1.9,1.2z" color="#98c745"/><path d="M163.3,77.6l1.9-0.1l-1.9,0l-1.9,0z" color="#8cb940"/><path d="M161.4,77.2l1.9,0.4l-1.9-0.1l-1.9-1.4z" color="#91b238"/><path d="M159.5,77.7l1.9-0.5l-1.9-1.1l-1.9-0.5z" color="#a3ba35"/><path d="M157.6,77.9l1.9-0.2l-1.9-2.1l-1.9-0.2z" color="#a5b732"/><path d="M155.7,76l1.9,1.9l-1.9-2.5l-1.9-1.5z" color="#a6a828"/><path d="M153.9,74.5l1.8,1.5l-1.9-2.1l-1.8-0.9z" color="#baa924"/><path d="M152,74.9l1.9-0.4l-1.9-1.5l-1.9,0.7z" color="#cdb226"/><path d="M150.1,74.5l1.9,0.4l-1.9-1.2l-1.9-0.3z" color="#caac26"/><path d="M148.2,73.4l1.9,1.1l-1.9-1.1l-1.9-1.4z" color="#c8a229"/><path d="M146.3,73l1.9,0.4l-1.9-1.4l-1.9-0.6z" color="#d4a431"/><path d="M144.4,72.4l1.9,0.6l-1.9-1.6l-1.9-0.6z" color="#d8a334"/><path d="M142.5,70.5l1.9,1.9l-1.9-1.6l-1.9-1.3z" color="#d7a331"/><path d="M140.6,70.6l1.9-0.1l-1.9-1l-1.9,0z" color="#ecc53e"/><path d="M138.8,73l1.8-2.4l-1.9-1.1l-1.9,1.6z" color="#fff06b"/><path d="M136.9,74.4l1.9-1.4l-2-1.9l-1.8,1.2z" color="#fff77a"/><path d="M135,74.4l1.9,0l-1.9-2.1l-1.9,0.6z" color="#fcdd5b"/><path d="M133.1,74.5l1.9-0.1l-1.9-1.5l-1.9,0.8z" color="#facc4b"/><path d="M131.2,75.4l1.9-0.9l-1.9-0.8l-1.9,1.1z" color="#fecb49"/><path d="M129.3,76.8l1.9-1.4l-1.9-0.6l-1.9,1z" color="#ffc645"/><path d="M127.4,77l1.9-0.2l-1.9-1l-1.9,0z" color="#f1b53d"/><path d="M125.5,76.2l1.9,0.8l-1.9-1.2l-1.9-0.9z" color="#e1a936"/><path d="M123.6,75.8l1.9,0.4l-1.9-1.3l-1.9-0.2z" color="#eeb536"/><path d="M121.8,76.5l1.8-0.7l-1.9-1.1l-1.8,1.2z" color="#fdcd42"/><path d="M119.9,78.2l1.9-1.7l-1.9-0.6l-1.9,2.5z" color="#fcc945"/><path d="M118,79.5l1.9-1.3l-1.9,0.2l-1.9,1.5z" color="#f0b53a"/><path d="M116.1,79.7l1.9-0.2l-1.9,0.4l-1.9-0.5z" color="#e0a936"/><path d="M114.2,79.1l1.9,0.6l-1.9-0.3l-1.9-1.3z" color="#dda635"/><path d="M112.3,79.1l1.9,0l-1.9-1l-1.9-0.3z" color="#f0cc4a"/><path d="M110.4,81l1.9-1.9l-1.9-1.3l-1.9,1.9z" color="#ffea61"/><path d="M108.5,83.2l1.9-2.2l-1.9-1.3l-1.9,2.6z" color="#ffdf59"/><path d="M106.7,84.4l1.8-1.2l-1.9-0.9l-1.9,1.7z" color="#f9cc43"/><path d="M104.8,85.1l1.9-0.7l-2-0.4l-1.8,0.6z" color="#efbf34"/><path d="M102.9,86l1.9-0.9l-1.9-0.5l-1.9,0.7z" color="#f4c638"/><path d="M101,88.3l1.9-2.3l-1.9-0.7l-1.9,2.4z" color="#eeca37"/><path d="M99.1,91.6l1.9-3.3l-1.9-0.6l-1.9,3.5z" color="#d0c52f"/><path d="M97.2,94.8l1.9-3.2l-1.9-0.4l-1.9,3z" color="#b6cc3d"/><path d="M95.3,97.6l1.9-2.8l-1.9-0.6l-1.9,2.2z" color="#b3df62"/><path d="M93.4,99.3l1.9-1.7l-1.9-1.2l-1.9,1.2z" color="#c4f690"/><path d="M91.5,100.5l1.9-1.2l-1.9-1.7l-1.9,1z" color="#ceffa9"/><path d="M89.7,101.4l1.8-0.9l-1.9-1.9l-1.8,1.6z" color="#adf697"/><path d="M203,90.4l1.9-0.1l-1.9-0.6l-1.9-0.5z" color="#12a0c4"/><path d="M201.1,89.9l1.9,0.5l-1.9-1.2l-1.9-0.4z" color="#0da4c3"/><path d="M199.2,89.8l1.9,0.1l-1.9-1.1l-1.9,0.3z" color="#08a7c2"/><path d="M197.3,89.7l1.9,0.1l-1.9-0.7l-1.9-0.2z" color="#05a0b6"/><path d="M195.4,87.6l1.9,2.1l-1.9-0.8l-1.9-2.4z" color="#059ba5"/><path d="M193.5,86.9l1.9,0.7l-1.9-1.1l-1.9-1.1z" color="#14b2af"/><path d="M191.6,88.9l1.9-2l-1.9-1.5l-1.9,1.4z" color="#31e0dd"/><path d="M189.8,91.9l1.8-3l-1.9-2.1l-1.9,2.5z" color="#49fcfc"/><path d="M187.9,92.2l1.9-0.3l-2-2.6l-1.8,0.1z" color="#2ad0d7"/><path d="M186,89.9l1.9,2.3l-1.9-2.8l-1.9-2.1z" color="#09a0a4"/><path d="M184.1,88.2l1.9,1.7l-1.9-2.6l-1.9-1.3z" color="#18a79c"/><path d="M182.2,88.5l1.9-0.3l-1.9-2.2l-1.9,0.4z" color="#43d7c8"/><path d="M180.3,90.5l1.9-2l-1.9-2.1l-1.9,1.4z" color="#45e2d6"/><path d="M178.4,89.7l1.9,0.8l-1.9-2.7l-1.9-1z" color="#21b3a4"/><path d="M176.5,84.6l1.9,5.1l-1.9-2.9l-1.9-4.2z" color="#2ca581"/><path d="M174.6,79.8l1.9,4.8l-1.9-2l-1.9-3.9z" color="#4da962"/><path d="M172.8,76.8l1.8,3l-1.9-1.1l-1.8-2.4z" color="#71a845"/><path d="M170.9,76.3l1.9,0.5l-1.9-0.5l-1.9-0.5z" color="#8eb23a"/><path d="M169,77.1l1.9-0.8l-1.9-0.5l-1.9,0.8z" color="#a2c53f"/><path d="M167.1,77.7l1.9-0.6l-1.9-0.5l-1.9,0.9z" color="#a1c942"/><path d="M165.2,78l1.9-0.3l-1.9-0.2l-1.9,0.1z" color="#99bf3d"/><path d="M163.3,78.1l1.9-0.1l-1.9-0.4l-1.9-0.4z" color="#9fbf3b"/><path d="M161.4,78.8l1.9-0.7l-1.9-0.9l-1.9,0.5z" color="#a9c73c"/><path d="M159.5,79l1.9-0.2l-1.9-1.1l-1.9,0.2z" color="#a1bc38"/><path d="M157.6,77.6l1.9,1.4l-1.9-1.1l-1.9-1.9z" color="#9ca82b"/><path d="M155.8,76.6l1.8,1l-1.9-1.6l-1.8-1.5z" color="#b1a825"/><path d="M153.9,77l1.9-0.4l-1.9-2.1l-1.9,0.4z" color="#c5b226"/><path d="M152,76.5l1.9,0.5l-1.9-2.1l-1.9-0.4z" color="#c5ae25"/><path d="M150.1,75.1l1.9,1.4l-1.9-2l-1.9-1.1z" color="#c5a427"/><path d="M148.2,74.4l1.9,0.7l-1.9-1.7l-1.9-0.4z" color="#cfa32d"/><path d="M146.3,73.4l1.9,1l-1.9-1.4l-1.9-0.6z" color="#d19f31"/><path d="M144.4,71.2l1.9,2.2l-1.9-1l-1.9-1.9z" color="#d3a031"/><path d="M142.5,71.5l1.9-0.3l-1.9-0.7l-1.9,0.1z" color="#ebc53f"/><path d="M140.7,74.5l1.8-3l-1.9-0.9l-1.8,2.4z" color="#ffea5f"/><path d="M138.8,76l1.9-1.5l-1.9-1.5l-1.9,1.4z" color="#ffe15f"/><path d="M136.9,75.5l1.9,0.5l-1.9-1.6l-1.9,0z" color="#f3c045"/><path d="M135,74.9l1.9,0.6l-1.9-1.1l-1.9,0.1z" color="#ecb138"/><path d="M133.1,75.5l1.9-0.6l-1.9-0.4l-1.9,0.9z" color="#f8ba3b"/><path d="M131.2,77.2l1.9-1.7l-1.9-0.1l-1.9,1.4z" color="#febf3e"/><path d="M129.3,78l1.9-0.8l-1.9-0.4l-1.9,0.2z" color="#f5b83d"/><path d="M127.4,77.7l1.9,0.3l-1.9-1l-1.9-0.8z" color="#e8ae38"/><path d="M125.5,77.6l1.9,0.1l-1.9-1.5l-1.9-0.4z" color="#efb538"/><path d="M123.7,78l1.8-0.4l-1.9-1.8l-1.8,0.7z" color="#fccc46"/><path d="M121.8,78.6l1.9-0.6l-1.9-1.5l-1.9,1.7z" color="#ffd049"/><path d="M119.9,79.7l1.9-1.1l-1.9-0.4l-1.9,1.3z" color="#fbbf3f"/><path d="M118,80.6l1.9-0.9l-1.9-0.2l-1.9,0.2z" color="#f3b73c"/><path d="M116.1,80.5l1.9,0.1l-1.9-0.9l-1.9-0.6z" color="#eeb239"/><path d="M114.2,80.5l1.9,0l-1.9-1.4l-1.9,0z" color="#f6cf4d"/><path d="M112.3,82.2l1.9-1.7l-1.9-1.4l-1.9,1.9z" color="#ffe75f"/><path d="M110.4,84l1.9-1.8l-1.9-1.2l-1.9,2.2z" color="#ffd853"/><path d="M108.6,85l1.8-1l-1.9-0.8l-1.8,1.2z" color="#f9c740"/><path d="M106.7,85.6l1.9-0.6l-1.9-0.6l-1.9,0.7z" color="#f1bd35"/><path d="M104.8,86.6l1.9-1l-1.9-0.5l-1.9,0.9z" color="#f5c338"/><path d="M102.9,88.9l1.9-2.3l-1.9-0.6l-1.9,2.3z" color="#eec735"/><path d="M101,91.9l1.9-3l-1.9-0.6l-1.9,3.3z" color="#d4c42e"/><path d="M99.1,94.8l1.9-2.9l-1.9-0.3l-1.9,3.2z" color="#b7c635"/><path d="M97.2,97.9l1.9-3.1l-1.9,0l-1.9,2.8z" color="#9fcd48"/><path d="M95.3,100.5l1.9-2.6l-1.9-0.3l-1.9,1.7z" color="#a0e171"/><path d="M93.4,102.3l1.9-1.8l-1.9-1.2l-1.9,1.2z" color="#b2f89e"/><path d="M91.6,102.6l1.8-0.3l-1.9-1.8l-1.8,0.9z" color="#9bee92"/><path d="M204.9,91.4l1.9-0.6l-1.9-0.5l-1.9,0.1z" color="#13a9ce"/><path d="M203,90.8l1.9,0.6l-1.9-1l-1.9-0.5z" color="#0ea4c4"/><path d="M201.1,90.8l1.9,0l-1.9-0.9l-1.9-0.1z" color="#08a7c2"/><path d="M199.2,91.2l1.9-0.4l-1.9-1l-1.9-0.1z" color="#06a5bd"/><path d="M197.3,89.9l1.9,1.3l-1.9-1.5l-1.9-2.1z" color="#04a0ae"/><path d="M195.4,89.8l1.9,0.1l-1.9-2.3l-1.9-0.7z" color="#16bfc3"/><path d="M193.5,92l1.9-2.2l-1.9-2.9l-1.9,2z" color="#34eaee"/><path d="M191.7,94.6l1.8-2.6l-1.9-3.1l-1.8,3z" color="#4efcff"/><path d="M189.8,94.6l1.9,0l-1.9-2.7l-1.9,0.3z" color="#32ceda"/><path d="M187.9,92.5l1.9,2.1l-1.9-2.4l-1.9-2.3z" color="#069cab"/><path d="M186,90.8l1.9,1.7l-1.9-2.6l-1.9-1.7z" color="#0ca3a2"/><path d="M184.1,90.9l1.9-0.1l-1.9-2.6l-1.9,0.3z" color="#39d5d0"/><path d="M182.2,93.2l1.9-2.3l-1.9-2.4l-1.9,2z" color="#3ee7e7"/><path d="M180.3,92.4l1.9,0.8l-1.9-2.7l-1.9-0.8z" color="#18b6b4"/><path d="M178.4,86.7l1.9,5.7l-1.9-2.7l-1.9-5.1z" color="#22a388"/><path d="M176.5,81.3l1.9,5.4l-1.9-2.1l-1.9-4.8z" color="#47a867"/><path d="M174.7,78.1l1.8,3.2l-1.9-1.5l-1.8-3z" color="#6fa847"/><path d="M172.8,77.6l1.9,0.5l-1.9-1.3l-1.9-0.5z" color="#90b43b"/><path d="M170.9,78.4l1.9-0.8l-1.9-1.3l-1.9,0.8z" color="#abd047"/><path d="M169,79l1.9-0.6l-1.9-1.3l-1.9,0.6z" color="#b0d74d"/><path d="M167.1,79.4l1.9-0.4l-1.9-1.3l-1.9,0.3z" color="#a5cc45"/><path d="M165.2,79.7l1.9-0.3l-1.9-1.4l-1.9,0.1z" color="#a4c740"/><path d="M163.3,79.6l1.9,0.1l-1.9-1.6l-1.9,0.7z" color="#a4c43c"/><path d="M161.4,79.4l1.9,0.2l-1.9-0.8l-1.9,0.2z" color="#9eb836"/><path d="M159.6,79.1l1.8,0.3l-1.9-0.4l-1.9-1.4z" color="#a0af2e"/><path d="M157.7,79.4l1.9-0.3l-2-1.5l-1.8-1z" color="#b4b72d"/><path d="M155.8,80l1.9-0.6l-1.9-2.8l-1.9,0.4z" color="#bcbb2d"/><path d="M153.9,79.2l1.9,0.8l-1.9-3l-1.9-0.5z" color="#b6af27"/><path d="M152,77.2l1.9,2l-1.9-2.7l-1.9-1.4z" color="#b9a224"/><path d="M150.1,75.7l1.9,1.5l-1.9-2.1l-1.9-0.7z" color="#c49e28"/><path d="M148.2,74.1l1.9,1.6l-1.9-1.3l-1.9-1z" color="#cc9c2f"/><path d="M146.3,71.7l1.9,2.4l-1.9-0.7l-1.9-2.2z" color="#d2a130"/><path d="M144.4,72.3l1.9-0.6l-1.9-0.5l-1.9,0.3z" color="#eac23b"/><path d="M142.6,75.6l1.8-3.3l-1.9-0.8l-1.8,3z" color="#ffdb4f"/><path d="M140.7,77.1l1.9-1.5l-1.9-1.1l-1.9,1.5z" color="#fccc4a"/><path d="M138.8,76.4l1.9,0.7l-1.9-1.1l-1.9-0.5z" color="#eab13a"/><path d="M136.9,75.3l1.9,1.1l-1.9-0.9l-1.9-0.6z" color="#dfa835"/><path d="M135,75.6l1.9-0.3l-1.9-0.4l-1.9,0.6z" color="#f2b838"/><path d="M133.1,77.3l1.9-1.7l-1.9-0.1l-1.9,1.7z" color="#fec13d"/><path d="M131.2,78.8l1.9-1.5l-1.9-0.1l-1.9,0.8z" color="#fcc141"/><path d="M129.3,79.4l1.9-0.6l-1.9-0.8l-1.9-0.3z" color="#f7be41"/><path d="M127.4,79.8l1.9-0.4l-1.9-1.7l-1.9-0.1z" color="#f6ba3e"/><path d="M125.6,79.8l1.8,0l-1.9-2.2l-1.8,0.4z" color="#f7bd3f"/><path d="M123.7,79.7l1.9,0.1l-1.9-1.8l-1.9,0.6z" color="#fac240"/><path d="M121.8,80.5l1.9-0.8l-1.9-1.1l-1.9,1.1z" color="#fec542"/><path d="M119.9,81.8l1.9-1.3l-1.9-0.8l-1.9,0.9z" color="#fec745"/><path d="M118,82l1.9-0.2l-1.9-1.2l-1.9-0.1z" color="#f7bc3f"/><path d="M116.1,81.9l1.9,0.1l-1.9-1.5l-1.9,0z" color="#f8c546"/><path d="M114.2,83.1l1.9-1.2l-1.9-1.4l-1.9,1.7z" color="#ffd752"/><path d="M112.3,84.6l1.9-1.5l-1.9-0.9l-1.9,1.8z" color="#fece4a"/><path d="M110.5,85.5l1.8-0.9l-1.9-0.6l-1.8,1z" color="#f7c03c"/><path d="M108.6,86.2l1.9-0.7l-1.9-0.5l-1.9,0.6z" color="#f2bc37"/><path d="M106.7,87.2l1.9-1l-1.9-0.6l-1.9,1z" color="#f5c138"/><path d="M104.8,89.5l1.9-2.3l-1.9-0.6l-1.9,2.3z" color="#f0c636"/><path d="M102.9,92.3l1.9-2.8l-1.9-0.6l-1.9,3z" color="#dbc730"/><path d="M101,94.5l1.9-2.2l-1.9-0.4l-1.9,2.9z" color="#c1c631"/><path d="M99.1,97.7l1.9-3.2l-1.9,0.3l-1.9,3.1z" color="#a5c63e"/><path d="M97.2,101.3l1.9-3.6l-1.9,0.2l-1.9,2.6z" color="#8ed159"/><path d="M95.3,104l1.9-2.7l-1.9-0.8l-1.9,1.8z" color="#98ec8e"/><path d="M93.5,103.9l1.8,0.1l-1.9-1.7l-1.8,0.3z" color="#89e28c"/><path d="M206.8,92.6l1.9-0.9l-1.9-0.9l-1.9,0.6z" color="#1fbbde"/><path d="M204.9,92.1l1.9,0.5l-1.9-1.2l-1.9-0.6z" color="#10a8ca"/><path d="M203,92.3l1.9-0.2l-1.9-1.3l-1.9,0z" color="#10b2cf"/><path d="M201.1,93.3l1.9-1l-1.9-1.5l-1.9,0.4z" color="#10b4d1"/><path d="M199.2,92.6l1.9,0.7l-1.9-2.1l-1.9-1.3z" color="#08a9c1"/><path d="M197.3,93.1l1.9-0.5l-1.9-2.7l-1.9-0.1z" color="#1ac7d7"/><path d="M195.4,95l1.9-1.9l-1.9-3.3l-1.9,2.2z" color="#42f1f9"/><path d="M193.6,96.6l1.8-1.6l-1.9-3l-1.8,2.6z" color="#4ef0fd"/><path d="M191.7,96.3l1.9,0.3l-1.9-2l-1.9,0z" color="#2cbfd9"/><path d="M189.8,94.9l1.9,1.4l-1.9-1.7l-1.9-2.1z" color="#0899b1"/><path d="M187.9,93.6l1.9,1.3l-1.9-2.4l-1.9-1.7z" color="#05a1ab"/><path d="M186,93.9l1.9-0.3l-1.9-2.8l-1.9,0.1z" color="#24cfd3"/><path d="M184.1,96.3l1.9-2.4l-1.9-3l-1.9,2.3z" color="#2ce0ea"/><path d="M182.2,95.3l1.9,1l-1.9-3.1l-1.9-0.8z" color="#0eb3bd"/><path d="M180.3,89.3l1.9,6l-1.9-2.9l-1.9-5.7z" color="#18a091"/><path d="M178.4,83.6l1.9,5.7l-1.9-2.6l-1.9-5.4z" color="#40a76e"/><path d="M176.6,80.4l1.8,3.2l-1.9-2.3l-1.8-3.2z" color="#66a94e"/><path d="M174.7,79.9l1.9,0.5l-1.9-2.3l-1.9-0.5z" color="#88b743"/><path d="M172.8,80.8l1.9-0.9l-1.9-2.3l-1.9,0.8z" color="#a7d755"/><path d="M170.9,81.5l1.9-0.7l-1.9-2.4l-1.9,0.6z" color="#aee25f"/><path d="M169,82.1l1.9-0.6l-1.9-2.5l-1.9,0.4z" color="#a0d454"/><path d="M167.1,82.2l1.9-0.1l-1.9-2.7l-1.9,0.3z" color="#95c548"/><path d="M165.2,81.1l1.9,1.1l-1.9-2.5l-1.9-0.1z" color="#92b83d"/><path d="M163.3,80l1.9,1.1l-1.9-1.5l-1.9-0.2z" color="#9ab333"/><path d="M161.5,80.7l1.8-0.7l-1.9-0.6l-1.8-0.3z" color="#bcc846"/><path d="M159.6,82.4l1.9-1.7l-1.9-1.6l-1.9,0.3z" color="#d7e15d"/><path d="M157.7,83.4l1.9-1l-1.9-3l-1.9,0.6z" color="#bcd04a"/><path d="M155.8,82.1l1.9,1.3l-1.9-3.4l-1.9-0.8z" color="#a0af2f"/><path d="M153.9,79.3l1.9,2.8l-1.9-2.9l-1.9-2z" color="#a9a125"/><path d="M152,77.2l1.9,2.1l-1.9-2.1l-1.9-1.5z" color="#bb9c25"/><path d="M150.1,75.2l1.9,2l-1.9-1.5l-1.9-1.6z" color="#c99b2d"/><path d="M148.2,72.7l1.9,2.5l-1.9-1.1l-1.9-2.4z" color="#d3a230"/><path d="M146.3,73.2l1.9-0.5l-1.9-1l-1.9,0.6z" color="#ebc53d"/><path d="M144.5,76.6l1.8-3.4l-1.9-0.9l-1.8,3.3z" color="#ffd84d"/><path d="M142.6,78.2l1.9-1.6l-1.9-1l-1.9,1.5z" color="#fac544"/><path d="M140.7,77.5l1.9,0.7l-1.9-1.1l-1.9-0.7z" color="#e5ae37"/><path d="M138.8,76.2l1.9,1.3l-1.9-1.1l-1.9-1.1z" color="#daa533"/><path d="M136.9,76.2l1.9,0l-1.9-0.9l-1.9,0.3z" color="#efbb38"/><path d="M135,77.7l1.9-1.5l-1.9-0.6l-1.9,1.7z" color="#ffcb42"/><path d="M133.1,79.6l1.9-1.9l-1.9-0.4l-1.9,1.5z" color="#ffd04c"/><path d="M131.2,80.9l1.9-1.3l-1.9-0.8l-1.9,0.6z" color="#ffd351"/><path d="M129.4,81.4l1.8-0.5l-1.9-1.5l-1.9,0.4z" color="#f9c546"/><path d="M127.5,81.2l1.9,0.2l-2-1.6l-1.8,0z" color="#eeb33a"/><path d="M125.6,80.7l1.9,0.5l-1.9-1.4l-1.9-0.1z" color="#f0b33a"/><path d="M123.7,81.3l1.9-0.6l-1.9-1l-1.9,0.8z" color="#fbc241"/><path d="M121.8,82.7l1.9-1.4l-1.9-0.8l-1.9,1.3z" color="#ffc947"/><path d="M119.9,83l1.9-0.3l-1.9-0.9l-1.9,0.2z" color="#f6bc40"/><path d="M118,82.9l1.9,0.1l-1.9-1l-1.9-0.1z" color="#f4b83d"/><path d="M116.1,83.7l1.9-0.8l-1.9-1l-1.9,1.2z" color="#fdc342"/><path d="M114.2,84.8l1.9-1.1l-1.9-0.6l-1.9,1.5z" color="#fcc241"/><path d="M112.4,85.7l1.8-0.9l-1.9-0.2l-1.8,0.9z" color="#f4b93b"/><path d="M110.5,86.4l1.9-0.7l-1.9-0.2l-1.9,0.7z" color="#f1b838"/><path d="M108.6,87.6l1.9-1.2l-1.9-0.2l-1.9,1z" color="#f5be39"/><path d="M106.7,90.4l1.9-2.8l-1.9-0.4l-1.9,2.3z" color="#f1c537"/><path d="M104.8,93.1l1.9-2.7l-1.9-0.9l-1.9,2.8z" color="#e2cb33"/><path d="M102.9,94.5l1.9-1.4l-1.9-0.8l-1.9,2.2z" color="#ccc931"/><path d="M101,97.4l1.9-2.9l-1.9,0l-1.9,3.2z" color="#b0c436"/><path d="M99.1,101.6l1.9-4.2l-1.9,0.3l-1.9,3.6z" color="#91c94d"/><path d="M97.3,105.1l1.8-3.5l-1.9-0.3l-1.9,2.7z" color="#85df7c"/><path d="M95.4,105l1.9,0.1l-2-1.1l-1.8-0.1z" color="#75d880"/><path d="M208.7,94.8l1.9-0.9l-1.9-2.2l-1.9,0.9z" color="#2ac1ea"/><path d="M206.8,94.3l1.9,0.5l-1.9-2.2l-1.9-0.5z" color="#15a9d1"/><path d="M204.9,94.6l1.9-0.3l-1.9-2.2l-1.9,0.2z" color="#1ebade"/><path d="M203,95.8l1.9-1.2l-1.9-2.3l-1.9,1z" color="#21bee5"/><path d="M201.1,95.2l1.9,0.6l-1.9-2.5l-1.9-0.7z" color="#12accf"/><path d="M199.2,95.5l1.9-0.3l-1.9-2.6l-1.9,0.5z" color="#25c8e3"/><path d="M197.3,96.8l1.9-1.3l-1.9-2.4l-1.9,1.9z" color="#4befff"/><path d="M195.5,97.6l1.8-0.8l-1.9-1.8l-1.8,1.6z" color="#3ed7f2"/><path d="M193.6,97.3l1.9,0.3l-1.9-1l-1.9-0.3z" color="#1aa9d1"/><path d="M191.7,96.8l1.9,0.5l-1.9-1l-1.9-1.4z" color="#0c9cba"/><path d="M189.8,96.5l1.9,0.3l-1.9-1.9l-1.9-1.3z" color="#07a7bc"/><path d="M187.9,97.3l1.9-0.8l-1.9-2.9l-1.9,0.3z" color="#1ecdde"/><path d="M186,99.6l1.9-2.3l-1.9-3.4l-1.9,2.4z" color="#29d5ed"/><path d="M184.1,98.6l1.9,1l-1.9-3.3l-1.9-1z" color="#10abc4"/><path d="M182.2,92.7l1.9,5.9l-1.9-3.3l-1.9-6z" color="#139d9b"/><path d="M180.4,87.1l1.8,5.6l-1.9-3.4l-1.9-5.7z" color="#33a57b"/><path d="M178.5,83.6l1.9,3.5l-2-3.5l-1.8-3.2z" color="#55aa5b"/><path d="M176.6,83.1l1.9,0.5l-1.9-3.2l-1.9-0.5z" color="#75b851"/><path d="M174.7,84l1.9-0.9l-1.9-3.2l-1.9,0.9z" color="#8ed461"/><path d="M172.8,84.7l1.9-0.7l-1.9-3.2l-1.9,0.7z" color="#93de6c"/><path d="M170.9,85.3l1.9-0.6l-1.9-3.2l-1.9,0.6z" color="#86d263"/><path d="M169,85.1l1.9,0.2l-1.9-3.2l-1.9,0.1z" color="#7ac054"/><path d="M167.1,83.2l1.9,1.9l-1.9-2.9l-1.9-1.1z" color="#7caf43"/><path d="M165.2,81.5l1.9,1.7l-1.9-2.1l-1.9-1.1z" color="#92b036"/><path d="M163.4,82.6l1.8-1.1l-1.9-1.5l-1.8,0.7z" color="#d0db5f"/><path d="M161.5,84.8l1.9-2.2l-1.9-1.9l-1.9,1.7z" color="#f4ff8e"/><path d="M159.6,85.7l1.9-0.9l-1.9-2.4l-1.9,1z" color="#bbdd69"/><path d="M157.7,84.1l1.9,1.6l-1.9-2.3l-1.9-1.3z" color="#8db039"/><path d="M155.8,81l1.9,3.1l-1.9-2l-1.9-2.8z" color="#9da228"/><path d="M153.9,78.9l1.9,2.1l-1.9-1.7l-1.9-2.1z" color="#b59d23"/><path d="M152,76.9l1.9,2l-1.9-1.7l-1.9-2z" color="#c59b2b"/><path d="M150.1,74.2l1.9,2.7l-1.9-1.7l-1.9-2.5z" color="#d2a130"/><path d="M148.2,74.4l1.9-0.2l-1.9-1.5l-1.9,0.5z" color="#ebcd47"/><path d="M146.4,77.6l1.8-3.2l-1.9-1.2l-1.8,3.4z" color="#ffe156"/><path d="M144.5,79.3l1.9-1.7l-1.9-1l-1.9,1.6z" color="#fcc745"/><path d="M142.6,78.8l1.9,0.5l-1.9-1.1l-1.9-0.7z" color="#e7b039"/><path d="M140.7,77.6l1.9,1.2l-1.9-1.3l-1.9-1.3z" color="#daa534"/><path d="M138.8,77.4l1.9,0.2l-1.9-1.4l-1.9,0z" color="#efc03e"/><path d="M136.9,78.9l1.9-1.5l-1.9-1.2l-1.9,1.5z" color="#ffe15a"/><path d="M135,80.7l1.9-1.8l-1.9-1.2l-1.9,1.9z" color="#ffec6b"/><path d="M133.1,81.9l1.9-1.2l-1.9-1.1l-1.9,1.3z" color="#ffe360"/><path d="M131.3,82.4l1.8-0.5l-1.9-1l-1.8,0.5z" color="#f6c746"/><path d="M129.4,82.1l1.9,0.3l-1.9-1l-1.9-0.2z" color="#e6ae38"/><path d="M127.5,81.6l1.9,0.5l-1.9-0.9l-1.9-0.5z" color="#e7ad38"/><path d="M125.6,81.9l1.9-0.3l-1.9-0.9l-1.9,0.6z" color="#f6bb3d"/><path d="M123.7,83l1.9-1.1l-1.9-0.6l-1.9,1.4z" color="#fcc040"/><path d="M121.8,83.3l1.9-0.3l-1.9-0.3l-1.9,0.3z" color="#f1b53b"/><path d="M119.9,83.2l1.9,0.1l-1.9-0.3l-1.9-0.1z" color="#edb239"/><path d="M118,83.9l1.9-0.7l-1.9-0.3l-1.9,0.8z" color="#f7ba3b"/><path d="M116.1,84.8l1.9-0.9l-1.9-0.2l-1.9,1.1z" color="#f9bb3c"/><path d="M114.3,85.4l1.8-0.6l-1.9,0l-1.8,0.9z" color="#f2b63b"/><path d="M112.4,86.3l1.9-0.9l-1.9,0.3l-1.9,0.7z" color="#f1b53a"/><path d="M110.5,87.9l1.9-1.6l-1.9,0.1l-1.9,1.2z" color="#f5bb3b"/><path d="M108.6,91.2l1.9-3.3l-1.9-0.3l-1.9,2.8z" color="#f0c236"/><path d="M106.7,94l1.9-2.8l-1.9-0.8l-1.9,2.7z" color="#e4cc34"/><path d="M104.8,94.7l1.9-0.7l-1.9-0.9l-1.9,1.4z" color="#d4cb31"/><path d="M102.9,97l1.9-2.3l-1.9-0.2l-1.9,2.9z" color="#bcc330"/><path d="M101,101.5l1.9-4.5l-1.9,0.4l-1.9,4.2z" color="#9ac644"/><path d="M99.2,105.5l1.8-4l-1.9,0.1l-1.8,3.5z" color="#79d268"/><path d="M97.3,105.8l1.9-0.3l-1.9-0.4l-1.9-0.1z" color="#67ce71"/><path d="M210.6,98.2l1.9-0.7l-1.9-3.6l-1.9,0.9z" color="#28aee5"/><path d="M208.7,97.4l1.9,0.8l-1.9-3.4l-1.9-0.5z" color="#1ba0d3"/><path d="M206.8,97.5l1.9-0.1l-1.9-3.1l-1.9,0.3z" color="#23b0e0"/><path d="M204.9,98.6l1.9-1.1l-1.9-2.9l-1.9,1.2z" color="#26b4e6"/><path d="M203,97.6l1.9,1l-1.9-2.8l-1.9-0.6z" color="#19a3d1"/><path d="M201.1,97l1.9,0.6l-1.9-2.4l-1.9,0.3z" color="#1fb3d8"/><path d="M199.2,97.8l1.9-0.8l-1.9-1.5l-1.9,1.3z" color="#30cdee"/><path d="M197.4,98.3l1.8-0.5l-1.9-1l-1.8,0.8z" color="#27bee4"/><path d="M195.5,98.2l1.9,0.1l-1.9-0.7l-1.9-0.3z" color="#14a6ce"/><path d="M193.6,98.4l1.9-0.2l-1.9-0.9l-1.9-0.5z" color="#13aacd"/><path d="M191.7,99.1l1.9-0.7l-1.9-1.6l-1.9-0.3z" color="#22c3dc"/><path d="M189.8,100.5l1.9-1.4l-1.9-2.6l-1.9,0.8z" color="#40e5f3"/><path d="M187.9,102.9l1.9-2.4l-1.9-3.2l-1.9,2.3z" color="#3dd7f5"/><path d="M186,101.9l1.9,1l-1.9-3.3l-1.9-1z" color="#1ca6cf"/><path d="M184.1,96.5l1.9,5.4l-1.9-3.3l-1.9-5.9z" color="#0f98a6"/><path d="M182.3,91.2l1.8,5.3l-1.9-3.8l-1.8-5.6z" color="#21a28a"/><path d="M180.4,87.4l1.9,3.8l-1.9-4.1l-1.9-3.5z" color="#40a86e"/><path d="M178.5,86.7l1.9,0.7l-1.9-3.8l-1.9-0.5z" color="#5ab764"/><path d="M176.6,87.4l1.9-0.7l-1.9-3.6l-1.9,0.9z" color="#6ccd70"/><path d="M174.7,87.7l1.9-0.3l-1.9-3.4l-1.9,0.7z" color="#6fd476"/><path d="M172.8,87.9l1.9-0.2l-1.9-3l-1.9,0.6z" color="#69cc6f"/><path d="M170.9,87.7l1.9,0.2l-1.9-2.6l-1.9-0.2z" color="#63bc61"/><path d="M169,85.7l1.9,2l-1.9-2.6l-1.9-1.9z" color="#6aad4e"/><path d="M167.1,83.7l1.9,2l-1.9-2.5l-1.9-1.7z" color="#85af3d"/><path d="M165.3,84.2l1.8-0.5l-1.9-2.2l-1.8,1.1z" color="#c0da5c"/><path d="M163.4,85.7l1.9-1.5l-1.9-1.6l-1.9,2.2z" color="#d3f27a"/><path d="M161.5,86.2l1.9-0.5l-1.9-0.9l-1.9,0.9z" color="#9ecb5b"/><path d="M159.6,84.7l1.9,1.5l-1.9-0.5l-1.9-1.6z" color="#85ac3a"/><path d="M157.7,82.2l1.9,2.5l-1.9-0.6l-1.9-3.1z" color="#99a32a"/><path d="M155.8,80.5l1.9,1.7l-1.9-1.2l-1.9-2.1z" color="#b09e22"/><path d="M153.9,78.6l1.9,1.9l-1.9-1.6l-1.9-2z" color="#c09b28"/><path d="M152,75.9l1.9,2.7l-1.9-1.7l-1.9-2.7z" color="#cf9e2f"/><path d="M150.2,75.9l1.8,0l-1.9-1.7l-1.9,0.2z" color="#ead157"/><path d="M148.3,78.7l1.9-2.8l-2-1.5l-1.8,3.2z" color="#ffeb69"/><path d="M146.4,80.4l1.9-1.7l-1.9-1.1l-1.9,1.7z" color="#ffd34f"/><path d="M144.5,80.3l1.9,0.1l-1.9-1.1l-1.9-0.5z" color="#ebb93e"/><path d="M142.6,79.3l1.9,1l-1.9-1.5l-1.9-1.2z" color="#dda735"/><path d="M140.7,79.3l1.9,0l-1.9-1.7l-1.9-0.2z" color="#f1c94a"/><path d="M138.8,80.9l1.9-1.6l-1.9-1.9l-1.9,1.5z" color="#fff478"/><path d="M136.9,82.5l1.9-1.6l-1.9-2l-1.9,1.8z" color="#ffff89"/><path d="M135,83.1l1.9-0.6l-1.9-1.8l-1.9,1.2z" color="#fde463"/><path d="M133.2,83.2l1.8-0.1l-1.9-1.2l-1.8,0.5z" color="#f1bd3e"/><path d="M131.3,83l1.9,0.2l-1.9-0.8l-1.9-0.3z" color="#e4ad37"/><path d="M129.4,82.7l1.9,0.3l-1.9-0.9l-1.9-0.5z" color="#e6ac38"/><path d="M127.5,82.6l1.9,0.1l-1.9-1.1l-1.9,0.3z" color="#f2b63a"/><path d="M125.6,82.9l1.9-0.3l-1.9-0.7l-1.9,1.1z" color="#f4b83a"/><path d="M123.7,82.9l1.9,0l-1.9,0.1l-1.9,0.3z" color="#eab037"/><path d="M121.8,83l1.9-0.1l-1.9,0.4l-1.9-0.1z" color="#e9b135"/><path d="M119.9,84l1.9-1l-1.9,0.2l-1.9,0.7z" color="#f5ba38"/><path d="M118,84.9l1.9-0.9l-1.9-0.1l-1.9,0.9z" color="#f8bb3a"/><path d="M116.2,85.1l1.8-0.2l-1.9-0.1l-1.8,0.6z" color="#f3b739"/><path d="M114.3,85.9l1.9-0.8l-1.9,0.3l-1.9,0.9z" color="#f4b839"/><path d="M112.4,88.1l1.9-2.2l-1.9,0.4l-1.9,1.6z" color="#f8bb3c"/><path d="M110.5,91.8l1.9-3.7l-1.9-0.2l-1.9,3.3z" color="#efbf36"/><path d="M108.6,94.6l1.9-2.8l-1.9-0.6l-1.9,2.8z" color="#e2c931"/><path d="M106.7,94.9l1.9-0.3l-1.9-0.6l-1.9,0.7z" color="#d7ca2f"/><path d="M104.8,96.9l1.9-2l-1.9-0.2l-1.9,2.3z" color="#c6c32c"/><path d="M102.9,101.3l1.9-4.4l-1.9,0.1l-1.9,4.5z" color="#a6c43c"/><path d="M101.1,105.6l1.8-4.3l-1.9,0.2l-1.8,4z" color="#7dcb5b"/><path d="M99.2,106.4l1.9-0.8l-1.9-0.1l-1.9,0.3z" color="#69cc6b"/><path d="M212.5,102.3l1.9-0.8l-1.9-4l-1.9,0.7z" color="#289ce2"/><path d="M210.6,100.9l1.9,1.4l-1.9-4.1l-1.9-0.8z" color="#2092d2"/><path d="M208.7,100.4l1.9,0.5l-1.9-3.5l-1.9,0.1z" color="#229dd8"/><path d="M206.8,101.2l1.9-0.8l-1.9-2.9l-1.9,1.1z" color="#23a2de"/><path d="M204.9,100l1.9,1.2l-1.9-2.6l-1.9-1z" color="#1c98cd"/><path d="M203,98.8l1.9,1.2l-1.9-2.4l-1.9-0.6z" color="#179cc8"/><path d="M201.2,99.1l1.8-0.3l-1.9-1.8l-1.9,0.8z" color="#1db0dc"/><path d="M199.3,99.8l1.9-0.7l-2-1.3l-1.8,0.5z" color="#20b5e3"/><path d="M197.4,99.9l1.9-0.1l-1.9-1.5l-1.9-0.1z" color="#19add8"/><path d="M195.5,100.1l1.9-0.2l-1.9-1.7l-1.9,0.2z" color="#1db6df"/><path d="M193.6,101.1l1.9-1l-1.9-1.7l-1.9,0.7z" color="#44dff5"/><path d="M191.7,102.8l1.9-1.7l-1.9-2l-1.9,1.4z" color="#63faff"/><path d="M189.8,105.2l1.9-2.4l-1.9-2.3l-1.9,2.4z" color="#53e2fc"/><path d="M187.9,104.6l1.9,0.6l-1.9-2.3l-1.9-1z" color="#2dacd9"/><path d="M186,100l1.9,4.6l-1.9-2.7l-1.9-5.4z" color="#0e93af"/><path d="M184.2,95.1l1.8,4.9l-1.9-3.5l-1.8-5.3z" color="#139e98"/><path d="M182.3,91.2l1.9,3.9l-1.9-3.9l-1.9-3.8z" color="#2da580"/><path d="M180.4,90.2l1.9,1l-1.9-3.8l-1.9-0.7z" color="#41b376"/><path d="M178.5,90.3l1.9-0.1l-1.9-3.5l-1.9,0.7z" color="#4dc27b"/><path d="M176.6,89.8l1.9,0.5l-1.9-2.9l-1.9,0.3z" color="#51c57a"/><path d="M174.7,89.5l1.9,0.3l-1.9-2.1l-1.9,0.2z" color="#54c274"/><path d="M172.8,89.5l1.9,0l-1.9-1.6l-1.9-0.2z" color="#55ba6a"/><path d="M170.9,88l1.9,1.5l-1.9-1.8l-1.9-2z" color="#5dae58"/><path d="M169,86.1l1.9,1.9l-1.9-2.3l-1.9-2z" color="#74ac46"/><path d="M167.2,85.3l1.8,0.8l-1.9-2.4l-1.8,0.5z" color="#9ac54c"/><path d="M165.3,85.3l1.9,0l-1.9-1.1l-1.9,1.5z" color="#a1cb4d"/><path d="M163.4,85.2l1.9,0.1l-1.9,0.4l-1.9,0.5z" color="#8ab23d"/><path d="M161.5,84.3l1.9,0.9l-1.9,1l-1.9-1.5z" color="#8ba632"/><path d="M159.6,82.8l1.9,1.5l-1.9,0.4l-1.9-2.5z" color="#9da227"/><path d="M157.7,81.5l1.9,1.3l-1.9-0.6l-1.9-1.7z" color="#af9e22"/><path d="M155.8,79.7l1.9,1.8l-1.9-1l-1.9-1.9z" color="#be9c26"/><path d="M153.9,77.6l1.9,2.1l-1.9-1.1l-1.9-2.7z" color="#ce9e2f"/><path d="M152.1,77.7l1.8-0.1l-1.9-1.7l-1.8,0z" color="#ebd062"/><path d="M150.2,80.2l1.9-2.5l-1.9-1.8l-1.9,2.8z" color="#fff67e"/><path d="M148.3,81.8l1.9-1.6l-1.9-1.5l-1.9,1.7z" color="#ffe962"/><path d="M146.4,81.9l1.9-0.1l-1.9-1.4l-1.9-0.1z" color="#edc746"/><path d="M144.5,81.1l1.9,0.8l-1.9-1.6l-1.9-1z" color="#e0aa35"/><path d="M142.6,81.4l1.9-0.3l-1.9-1.8l-1.9,0z" color="#f2d25b"/><path d="M140.7,83.4l1.9-2l-1.9-2.1l-1.9,1.6z" color="#fffc8a"/><path d="M138.8,84.8l1.9-1.4l-1.9-2.5l-1.9,1.6z" color="#fff57e"/><path d="M136.9,84.8l1.9,0l-1.9-2.3l-1.9,0.6z" color="#f5d24f"/><path d="M135.1,84.6l1.8,0.2l-1.9-1.7l-1.8,0.1z" color="#e8b336"/><path d="M133.2,84.5l1.9,0.1l-1.9-1.4l-1.9-0.2z" color="#e4ae36"/><path d="M131.3,84.2l1.9,0.3l-1.9-1.5l-1.9-0.3z" color="#e6ad38"/><path d="M129.4,83.8l1.9,0.4l-1.9-1.5l-1.9-0.1z" color="#eaaf38"/><path d="M127.5,83.3l1.9,0.5l-1.9-1.2l-1.9,0.3z" color="#e7af36"/><path d="M125.6,82.6l1.9,0.7l-1.9-0.4l-1.9,0z" color="#e1ad32"/><path d="M123.7,82.8l1.9-0.2l-1.9,0.3l-1.9,0.1z" color="#e9b532"/><path d="M121.8,84.3l1.9-1.5l-1.9,0.2l-1.9,1z" color="#f8c136"/><path d="M120,85.3l1.8-1l-1.9-0.3l-1.9,0.9z" color="#fbc139"/><path d="M118.1,85.3l1.9,0l-2-0.4l-1.8,0.2z" color="#f6bc37"/><path d="M116.2,86l1.9-0.7l-1.9-0.2l-1.9,0.8z" color="#f8bf38"/><path d="M114.3,88.3l1.9-2.3l-1.9-0.1l-1.9,2.2z" color="#fcc03d"/><path d="M112.4,92.2l1.9-3.9l-1.9-0.2l-1.9,3.7z" color="#f1bd37"/><path d="M110.5,95.1l1.9-2.9l-1.9-0.4l-1.9,2.8z" color="#e1c42f"/><path d="M108.6,95.4l1.9-0.3l-1.9-0.5l-1.9,0.3z" color="#dbc92e"/><path d="M106.7,97.1l1.9-1.7l-1.9-0.5l-1.9,2z" color="#d1c52c"/><path d="M104.8,101.2l1.9-4.1l-1.9-0.2l-1.9,4.4z" color="#b2c537"/><path d="M103,105.3l1.8-4.1l-1.9,0.1l-1.8,4.3z" color="#88c851"/><path d="M101.1,106.8l1.9-1.5l-1.9,0.3l-1.9,0.8z" color="#72ce66"/><path d="M214.4,106.3l1.9-1.1l-1.9-3.7l-1.9,0.8z" color="#3294ea"/><path d="M212.5,104.3l1.9,2l-1.9-4l-1.9-1.4z" color="#2484d3"/><path d="M210.6,102.9l1.9,1.4l-1.9-3.4l-1.9-0.5z" color="#228dd2"/><path d="M208.7,103.6l1.9-0.7l-1.9-2.5l-1.9,0.8z" color="#2295d8"/><path d="M206.8,102.3l1.9,1.3l-1.9-2.4l-1.9-1.2z" color="#1f90cc"/><path d="M204.9,101.1l1.9,1.2l-1.9-2.3l-1.9-1.2z" color="#1a94c7"/><path d="M203.1,101.4l1.8-0.3l-1.9-2.3l-1.8,0.3z" color="#23adde"/><path d="M201.2,102.5l1.9-1.1l-1.9-2.3l-1.9,0.7z" color="#29b7ec"/><path d="M199.3,102.4l1.9,0.1l-1.9-2.7l-1.9,0.1z" color="#20abdd"/><path d="M197.4,102.1l1.9,0.3l-1.9-2.5l-1.9,0.2z" color="#20afde"/><path d="M195.5,102.8l1.9-0.7l-1.9-2l-1.9,1z" color="#4adcf3"/><path d="M193.6,104.5l1.9-1.7l-1.9-1.7l-1.9,1.7z" color="#66f5ff"/><path d="M191.7,107.1l1.9-2.6l-1.9-1.7l-1.9,2.4z" color="#61e9ff"/><path d="M189.8,106.8l1.9,0.3l-1.9-1.9l-1.9-0.6z" color="#40b7de"/><path d="M187.9,102.7l1.9,4.1l-1.9-2.2l-1.9-4.6z" color="#128fb5"/><path d="M186.1,98.2l1.8,4.5l-1.9-2.7l-1.8-4.9z" color="#0d9aa3"/><path d="M184.2,94.5l1.9,3.7l-1.9-3.1l-1.9-3.9z" color="#1ea18e"/><path d="M182.3,93.5l1.9,1l-1.9-3.3l-1.9-1z" color="#30ad85"/><path d="M180.4,93.2l1.9,0.3l-1.9-3.3l-1.9,0.1z" color="#37b784"/><path d="M178.5,91.6l1.9,1.6l-1.9-2.9l-1.9-0.5z" color="#3eb57b"/><path d="M176.6,90.7l1.9,0.9l-1.9-1.8l-1.9-0.3z" color="#49b873"/><path d="M174.7,91l1.9-0.3l-1.9-1.2l-1.9,0z" color="#50bb6f"/><path d="M172.8,90.2l1.9,0.8l-1.9-1.5l-1.9-1.5z" color="#55b263"/><path d="M171,88.3l1.8,1.9l-1.9-2.2l-1.9-1.9z" color="#65ab50"/><path d="M169.1,86.2l1.9,2.1l-2-2.2l-1.8-0.8z" color="#7cac41"/><path d="M167.2,84.8l1.9,1.4l-1.9-0.9l-1.9,0z" color="#8bac36"/><path d="M165.3,84.4l1.9,0.4l-1.9,0.5l-1.9-0.1z" color="#93a830"/><path d="M163.4,84.2l1.9,0.2l-1.9,0.8l-1.9-0.9z" color="#9ba72a"/><path d="M161.5,83.4l1.9,0.8l-1.9,0.1l-1.9-1.5z" color="#a5a325"/><path d="M159.6,82l1.9,1.4l-1.9-0.6l-1.9-1.3z" color="#b09e22"/><path d="M157.7,80.2l1.9,1.8l-1.9-0.5l-1.9-1.8z" color="#be9c27"/><path d="M155.8,79.1l1.9,1.1l-1.9-0.5l-1.9-2.1z" color="#d3a131"/><path d="M154,79.9l1.8-0.8l-1.9-1.5l-1.8,0.1z" color="#f0d467"/><path d="M152.1,82.2l1.9-2.3l-1.9-2.2l-1.9,2.5z" color="#ffff8b"/><path d="M150.2,83.7l1.9-1.5l-1.9-2l-1.9,1.6z" color="#fff46c"/><path d="M148.3,83.7l1.9,0l-1.9-1.9l-1.9,0.1z" color="#eaca44"/><path d="M146.4,82.6l1.9,1.1l-1.9-1.8l-1.9-0.8z" color="#dcaa32"/><path d="M144.5,83l1.9-0.4l-1.9-1.5l-1.9,0.3z" color="#f1d35b"/><path d="M142.6,85.5l1.9-2.5l-1.9-1.6l-1.9,2z" color="#fffc7e"/><path d="M140.7,87l1.9-1.5l-1.9-2.1l-1.9,1.4z" color="#ffed63"/><path d="M138.8,86.9l1.9,0.1l-1.9-2.2l-1.9,0z" color="#ecc53b"/><path d="M137,86.5l1.8,0.4l-1.9-2.1l-1.8-0.2z" color="#dcae2e"/><path d="M135.1,86.3l1.9,0.2l-1.9-1.9l-1.9-0.1z" color="#e0ae32"/><path d="M133.2,86.1l1.9,0.2l-1.9-1.8l-1.9-0.3z" color="#e2ac35"/><path d="M131.3,85.4l1.9,0.7l-1.9-1.9l-1.9-0.4z" color="#dfa836"/><path d="M129.4,84l1.9,1.4l-1.9-1.6l-1.9-0.5z" color="#daa532"/><path d="M127.5,82.8l1.9,1.2l-1.9-0.7l-1.9-0.7z" color="#d9a92e"/><path d="M125.6,82.8l1.9,0l-1.9-0.2l-1.9,0.2z" color="#eabb2f"/><path d="M123.7,84.7l1.9-1.9l-1.9,0l-1.9,1.5z" color="#fccb37"/><path d="M121.9,86.2l1.8-1.5l-1.9-0.4l-1.8,1z" color="#fecb3c"/><path d="M120,86.1l1.9,0.1l-1.9-0.9l-1.9,0z" color="#fac339"/><path d="M118.1,86.6l1.9-0.5l-1.9-0.8l-1.9,0.7z" color="#fbc83b"/><path d="M116.2,88.6l1.9-2l-1.9-0.6l-1.9,2.3z" color="#ffc83f"/><path d="M114.3,92.4l1.9-3.8l-1.9-0.3l-1.9,3.9z" color="#f3bd38"/><path d="M112.4,95.6l1.9-3.2l-1.9-0.2l-1.9,2.9z" color="#e3c12f"/><path d="M110.5,96.3l1.9-0.7l-1.9-0.5l-1.9,0.3z" color="#e3cd32"/><path d="M108.6,97.9l1.9-1.6l-1.9-0.9l-1.9,1.7z" color="#dfd034"/><path d="M106.7,101.2l1.9-3.3l-1.9-0.8l-1.9,4.1z" color="#bec937"/><path d="M104.9,105l1.8-3.8l-1.9,0l-1.8,4.1z" color="#94c749"/><path d="M103,107.2l1.9-2.2l-1.9,0.3l-1.9,1.5z" color="#7cce5f"/><path d="M216.3,109.8l1.9-1.3l-1.9-3.3l-1.9,1.1z" color="#3e92f0"/><path d="M214.4,107.1l1.9,2.7l-1.9-3.5l-1.9-2z" color="#2778d5"/><path d="M212.5,105.1l1.9,2l-1.9-2.8l-1.9-1.4z" color="#2382ce"/><path d="M210.6,105.6l1.9-0.5l-1.9-2.2l-1.9,0.7z" color="#238cd5"/><path d="M208.7,104.4l1.9,1.2l-1.9-2l-1.9-1.3z" color="#218bce"/><path d="M206.8,103.6l1.9,0.8l-1.9-2.1l-1.9-1.2z" color="#1e91cc"/><path d="M205,104.4l1.8-0.8l-1.9-2.5l-1.8,0.3z" color="#30b1e7"/><path d="M203.1,105.6l1.9-1.2l-1.9-3l-1.9,1.1z" color="#35b8f2"/><path d="M201.2,105.1l1.9,0.5l-1.9-3.1l-1.9-0.1z" color="#23a0dc"/><path d="M199.3,104.2l1.9,0.9l-1.9-2.7l-1.9-0.3z" color="#1d9dd2"/><path d="M197.4,104.6l1.9-0.4l-1.9-2.1l-1.9,0.7z" color="#44cfea"/><path d="M195.5,106.4l1.9-1.8l-1.9-1.8l-1.9,1.7z" color="#63f1ff"/><path d="M193.6,109.2l1.9-2.8l-1.9-1.9l-1.9,2.6z" color="#68ebff"/><path d="M191.7,108.9l1.9,0.3l-1.9-2.1l-1.9-0.3z" color="#49badf"/><path d="M189.8,104.9l1.9,4l-1.9-2.1l-1.9-4.1z" color="#178bb9"/><path d="M188,100.9l1.8,4l-1.9-2.2l-1.8-4.5z" color="#0b96ab"/><path d="M186.1,97.8l1.9,3.1l-1.9-2.7l-1.9-3.7z" color="#129f99"/><path d="M184.2,97.2l1.9,0.6l-1.9-3.3l-1.9-1z" color="#23aa92"/><path d="M182.3,96.5l1.9,0.7l-1.9-3.7l-1.9-0.3z" color="#2aae8f"/><path d="M180.4,93.9l1.9,2.6l-1.9-3.3l-1.9-1.6z" color="#31ab80"/><path d="M178.5,92.3l1.9,1.6l-1.9-2.3l-1.9-0.9z" color="#40b175"/><path d="M176.6,92.6l1.9-0.3l-1.9-1.6l-1.9,0.3z" color="#4bbc75"/><path d="M174.7,92.3l1.9,0.3l-1.9-1.6l-1.9-0.8z" color="#4fb76d"/><path d="M172.9,90.4l1.8,1.9l-1.9-2.1l-1.8-1.9z" color="#59ac59"/><path d="M171,87.4l1.9,3l-1.9-2.1l-1.9-2.1z" color="#71a844"/><path d="M169.1,85.4l1.9,2l-1.9-1.2l-1.9-1.4z" color="#8aa633"/><path d="M167.2,85.1l1.9,0.3l-1.9-0.6l-1.9-0.4z" color="#9fab2b"/><path d="M165.3,85.2l1.9-0.1l-1.9-0.7l-1.9-0.2z" color="#abb029"/><path d="M163.4,84.5l1.9,0.7l-1.9-1l-1.9-0.8z" color="#aca725"/><path d="M161.5,82.6l1.9,1.9l-1.9-1.1l-1.9-1.4z" color="#b29e22"/><path d="M159.6,80.8l1.9,1.8l-1.9-0.6l-1.9-1.8z" color="#c29c28"/><path d="M157.7,80.7l1.9,0.1l-1.9-0.6l-1.9-1.1z" color="#dfb33e"/><path d="M155.9,82.3l1.8-1.6l-1.9-1.6l-1.8,0.8z" color="#fae56f"/><path d="M154,84.5l1.9-2.2l-1.9-2.4l-1.9,2.3z" color="#ffff8a"/><path d="M152.1,85.7l1.9-1.2l-1.9-2.3l-1.9,1.5z" color="#f7e862"/><path d="M150.2,85.1l1.9,0.6l-1.9-2l-1.9,0z" color="#dcba33"/><path d="M148.3,83.6l1.9,1.5l-1.9-1.4l-1.9-1.1z" color="#d1a42d"/><path d="M146.4,83.9l1.9-0.3l-1.9-1l-1.9,0.4z" color="#ecc145"/><path d="M144.5,86.8l1.9-2.9l-1.9-0.9l-1.9,2.5z" color="#fce155"/><path d="M142.6,88.8l1.9-2l-1.9-1.3l-1.9,1.5z" color="#fce954"/><path d="M140.8,88.9l1.8-0.1l-1.9-1.8l-1.9-0.1z" color="#e7cf3f"/><path d="M138.9,88.3l1.9,0.6l-2-2l-1.8-0.4z" color="#d1ad29"/><path d="M137,87.9l1.9,0.4l-1.9-1.8l-1.9-0.2z" color="#d8ac2d"/><path d="M135.1,87.9l1.9,0l-1.9-1.6l-1.9-0.2z" color="#dbab30"/><path d="M133.2,87l1.9,0.9l-1.9-1.8l-1.9-0.7z" color="#d6a332"/><path d="M131.3,85l1.9,2l-1.9-1.6l-1.9-1.4z" color="#d29f31"/><path d="M129.4,83.4l1.9,1.6l-1.9-1l-1.9-1.2z" color="#d5a82d"/><path d="M127.5,83.3l1.9,0.1l-1.9-0.6l-1.9,0z" color="#ebc230"/><path d="M125.6,85.4l1.9-2.1l-1.9-0.5l-1.9,1.9z" color="#ffd73c"/><path d="M123.8,87.2l1.8-1.8l-1.9-0.7l-1.8,1.5z" color="#ffd846"/><path d="M121.9,87.4l1.9-0.2l-1.9-1l-1.9-0.1z" color="#fbcb40"/><path d="M120,87.5l1.9-0.1l-1.9-1.3l-1.9,0.5z" color="#fbca3d"/><path d="M118.1,89l1.9-1.5l-1.9-0.9l-1.9,2z" color="#ffcc40"/><path d="M116.2,92.5l1.9-3.5l-1.9-0.4l-1.9,3.8z" color="#f6be39"/><path d="M114.3,96l1.9-3.5l-1.9-0.1l-1.9,3.2z" color="#e5bf30"/><path d="M112.4,97.3l1.9-1.3l-1.9-0.4l-1.9,0.7z" color="#ebd338"/><path d="M110.5,99l1.9-1.7l-1.9-1l-1.9,1.6z" color="#edde41"/><path d="M108.6,101.6l1.9-2.6l-1.9-1.1l-1.9,3.3z" color="#cbd23c"/><path d="M106.8,104.8l1.8-3.2l-1.9-0.4l-1.8,3.8z" color="#a1c943"/><path d="M104.9,107.5l1.9-2.7l-1.9,0.2l-1.9,2.2z" color="#86cd58"/><path d="M218.2,112.8l1.9-1l-1.9-3.3l-1.9,1.3z" color="#4488ef"/><path d="M216.3,109.6l1.9,3.2l-1.9-3l-1.9-2.7z" color="#2a6fd6"/><path d="M214.4,107.2l1.9,2.4l-1.9-2.5l-1.9-2z" color="#2579cd"/><path d="M212.5,107.3l1.9-0.1l-1.9-2.1l-1.9,0.5z" color="#2484d2"/><path d="M210.6,106l1.9,1.3l-1.9-1.7l-1.9-1.2z" color="#2287cf"/><path d="M208.7,105.6l1.9,0.4l-1.9-1.6l-1.9-0.8z" color="#2494d7"/><path d="M206.9,106.9l1.8-1.3l-1.9-2l-1.8,0.8z" color="#44bff2"/><path d="M205,108.1l1.9-1.2l-1.9-2.5l-1.9,1.2z" color="#45bdf3"/><path d="M203.1,107.3l1.9,0.8l-1.9-2.5l-1.9-0.5z" color="#2494d8"/><path d="M201.2,106l1.9,1.3l-1.9-2.2l-1.9-0.9z" color="#1e92cc"/><path d="M199.3,106.6l1.9-0.6l-1.9-1.8l-1.9,0.4z" color="#48cbe8"/><path d="M197.4,108.9l1.9-2.3l-1.9-2l-1.9,1.8z" color="#68edff"/><path d="M195.5,111.9l1.9-3l-1.9-2.5l-1.9,2.8z" color="#67e1ff"/><path d="M193.6,111.5l1.9,0.4l-1.9-2.7l-1.9-0.3z" color="#49b2e0"/><path d="M191.8,107.3l1.8,4.2l-1.9-2.6l-1.9-4z" color="#1b87bd"/><path d="M189.9,103.6l1.9,3.7l-2-2.4l-1.8-4z" color="#0d93b0"/><path d="M188,101.2l1.9,2.4l-1.9-2.7l-1.9-3.1z" color="#099da4"/><path d="M186.1,101.2l1.9,0l-1.9-3.4l-1.9-0.6z" color="#12a9a3"/><path d="M184.2,100.6l1.9,0.6l-1.9-4l-1.9-0.7z" color="#18a99d"/><path d="M182.3,97.2l1.9,3.4l-1.9-4.1l-1.9-2.6z" color="#24a58a"/><path d="M180.4,94.8l1.9,2.4l-1.9-3.3l-1.9-1.6z" color="#35ac7c"/><path d="M178.5,94.7l1.9,0.1l-1.9-2.5l-1.9,0.3z" color="#41b97a"/><path d="M176.6,94.3l1.9,0.4l-1.9-2.1l-1.9-0.3z" color="#46b775"/><path d="M174.8,92.5l1.8,1.8l-1.9-2l-1.8-1.9z" color="#4fad62"/><path d="M172.9,89.4l1.9,3.1l-1.9-2.1l-1.9-3z" color="#69a94b"/><path d="M171,87.5l1.9,1.9l-1.9-2l-1.9-2z" color="#87a937"/><path d="M169.1,87.6l1.9-0.1l-1.9-2.1l-1.9-0.3z" color="#a0b331"/><path d="M167.2,87.6l1.9,0l-1.9-2.5l-1.9,0.1z" color="#aab82f"/><path d="M165.3,86.4l1.9,1.2l-1.9-2.4l-1.9-0.7z" color="#a7aa28"/><path d="M163.4,83.9l1.9,2.5l-1.9-1.9l-1.9-1.9z" color="#af9f23"/><path d="M161.5,82.2l1.9,1.7l-1.9-1.3l-1.9-1.8z" color="#c59f29"/><path d="M159.6,82.6l1.9-0.4l-1.9-1.4l-1.9-0.1z" color="#e8ca50"/><path d="M157.8,84.6l1.8-2l-1.9-1.9l-1.8,1.6z" color="#fff979"/><path d="M155.9,86.5l1.9-1.9l-1.9-2.3l-1.9,2.2z" color="#ffff81"/><path d="M154,87.1l1.9-0.6l-1.9-2l-1.9,1.2z" color="#e8db55"/><path d="M152.1,85.9l1.9,1.2l-1.9-1.4l-1.9-0.6z" color="#c8a927"/><path d="M150.2,84l1.9,1.9l-1.9-0.8l-1.9-1.5z" color="#c89d2b"/><path d="M148.3,84.1l1.9-0.1l-1.9-0.4l-1.9,0.3z" color="#e7b039"/><path d="M146.4,87.4l1.9-3.3l-1.9-0.2l-1.9,2.9z" color="#f7c43b"/><path d="M144.5,90l1.9-2.6l-1.9-0.6l-1.9,2z" color="#f5da44"/><path d="M142.7,90.5l1.8-0.5l-1.9-1.2l-1.8,0.1z" color="#e1d03c"/><path d="M140.8,89.6l1.9,0.9l-1.9-1.6l-1.9-0.6z" color="#c7ab26"/><path d="M138.9,88.9l1.9,0.7l-1.9-1.3l-1.9-0.4z" color="#cea829"/><path d="M137,89.1l1.9-0.2l-1.9-1l-1.9,0z" color="#d5a92d"/><path d="M135.1,88.2l1.9,0.9l-1.9-1.2l-1.9-0.9z" color="#d1a130"/><path d="M133.2,85.9l1.9,2.3l-1.9-1.2l-1.9-2z" color="#d09e30"/><path d="M131.3,84.2l1.9,1.7l-1.9-0.9l-1.9-1.6z" color="#d5a82d"/><path d="M129.4,84.3l1.9-0.1l-1.9-0.8l-1.9-0.1z" color="#ebce3a"/><path d="M127.5,86.4l1.9-2.1l-1.9-1l-1.9,2.1z" color="#ffea4c"/><path d="M125.7,88.3l1.8-1.9l-1.9-1l-1.8,1.8z" color="#ffe654"/><path d="M123.8,88.6l1.9-0.3l-1.9-1.1l-1.9,0.2z" color="#fad148"/><path d="M121.9,88.4l1.9,0.2l-1.9-1.2l-1.9,0.1z" color="#f9c339"/><path d="M120,89.2l1.9-0.8l-1.9-0.9l-1.9,1.5z" color="#fdc83b"/><path d="M118.1,92.5l1.9-3.3l-1.9-0.2l-1.9,3.5z" color="#f9c03b"/><path d="M116.2,96.3l1.9-3.8l-1.9,0l-1.9,3.5z" color="#eabd33"/><path d="M114.3,98.4l1.9-2.1l-1.9-0.3l-1.9,1.3z" color="#edd33a"/><path d="M112.4,100.3l1.9-1.9l-1.9-1.1l-1.9,1.7z" color="#f4e84a"/><path d="M110.6,102.4l1.8-2.1l-1.9-1.3l-1.9,2.6z" color="#d7de46"/><path d="M108.7,105l1.9-2.6l-2-0.8l-1.8,3.2z" color="#aecf44"/><path d="M106.8,107.9l1.9-2.9l-1.9-0.2l-1.9,2.7z" color="#90ce53"/><path d="M220.1,115l1.9-0.3l-1.9-2.9l-1.9,1z" color="#4072eb"/><path d="M218.2,111.6l1.9,3.4l-1.9-2.2l-1.9-3.2z" color="#2d67d3"/><path d="M216.3,109.1l1.9,2.5l-1.9-2l-1.9-2.4z" color="#2674ce"/><path d="M214.4,109.3l1.9-0.2l-1.9-1.9l-1.9,0.1z" color="#267ed2"/><path d="M212.5,107.9l1.9,1.4l-1.9-2l-1.9-1.3z" color="#2484d1"/><path d="M210.6,107.7l1.9,0.2l-1.9-1.9l-1.9-0.4z" color="#2e9be2"/><path d="M208.8,109.3l1.8-1.6l-1.9-2.1l-1.8,1.3z" color="#55cafb"/><path d="M206.9,110.2l1.9-0.9l-1.9-2.4l-1.9,1.2z" color="#4cbaf0"/><path d="M205,108.8l1.9,1.4l-1.9-2.1l-1.9-0.8z" color="#238ad2"/><path d="M203.1,107.3l1.9,1.5l-1.9-1.5l-1.9-1.3z" color="#1f8dca"/><path d="M201.2,108.5l1.9-1.2l-1.9-1.3l-1.9,0.6z" color="#46c2e8"/><path d="M199.3,111.4l1.9-2.9l-1.9-1.9l-1.9,2.3z" color="#5fdbff"/><path d="M197.4,114.4l1.9-3l-1.9-2.5l-1.9,3z" color="#64d4ff"/><path d="M195.5,113.8l1.9,0.6l-1.9-2.5l-1.9-0.4z" color="#4dade2"/><path d="M193.7,109.7l1.8,4.1l-1.9-2.3l-1.8-4.2z" color="#1e82c0"/><path d="M191.8,106.4l1.9,3.3l-1.9-2.4l-1.9-3.7z" color="#138fb6"/><path d="M189.9,104.5l1.9,1.9l-1.9-2.8l-1.9-2.4z" color="#089cb0"/><path d="M188,105l1.9-0.5l-1.9-3.3l-1.9,0z" color="#06a9b5"/><path d="M186.1,104.6l1.9,0.4l-1.9-3.8l-1.9-0.6z" color="#08a5ae"/><path d="M184.2,100.9l1.9,3.7l-1.9-4l-1.9-3.4z" color="#149f97"/><path d="M182.3,98l1.9,2.9l-1.9-3.7l-1.9-2.4z" color="#28a686"/><path d="M180.4,97.3l1.9,0.7l-1.9-3.2l-1.9-0.1z" color="#34b182"/><path d="M178.5,96.7l1.9,0.6l-1.9-2.6l-1.9-0.4z" color="#3ab47d"/><path d="M176.7,95l1.8,1.7l-1.9-2.4l-1.8-1.8z" color="#44ac6c"/><path d="M174.8,92.3l1.9,2.7l-1.9-2.5l-1.9-3.1z" color="#5ba956"/><path d="M172.9,90.7l1.9,1.6l-1.9-2.9l-1.9-1.9z" color="#7aae44"/><path d="M171,90.9l1.9-0.2l-1.9-3.2l-1.9,0.1z" color="#90b93f"/><path d="M169.1,90.6l1.9,0.3l-1.9-3.3l-1.9,0z" color="#95b83b"/><path d="M167.2,88.8l1.9,1.8l-1.9-3l-1.9-1.2z" color="#97aa2f"/><path d="M165.3,86.4l1.9,2.4l-1.9-2.4l-1.9-2.5z" color="#a6a025"/><path d="M163.4,84.9l1.9,1.5l-1.9-2.5l-1.9-1.7z" color="#c1a326"/><path d="M161.6,85.4l1.8-0.5l-1.9-2.7l-1.9,0.4z" color="#e8cc48"/><path d="M159.7,87l1.9-1.6l-2-2.8l-1.8,2z" color="#fff76f"/><path d="M157.8,88.1l1.9-1.1l-1.9-2.4l-1.9,1.9z" color="#f6f167"/><path d="M155.9,87.8l1.9,0.3l-1.9-1.6l-1.9,0.6z" color="#d5c43c"/><path d="M154,86.2l1.9,1.6l-1.9-0.7l-1.9-1.2z" color="#bfa025"/><path d="M152.1,84.1l1.9,2.1l-1.9-0.3l-1.9-1.9z" color="#c89b2c"/><path d="M150.2,84.4l1.9-0.3l-1.9-0.1l-1.9,0.1z" color="#e7af3a"/><path d="M148.3,87.7l1.9-3.3l-1.9-0.3l-1.9,3.3z" color="#f5c13a"/><path d="M146.4,90.7l1.9-3l-1.9-0.3l-1.9,2.6z" color="#ecca36"/><path d="M144.6,91.5l1.8-0.8l-1.9-0.7l-1.8,0.5z" color="#d8c22f"/><path d="M142.7,90.4l1.9,1.1l-1.9-1l-1.9-0.9z" color="#c1a724"/><path d="M140.8,89.3l1.9,1.1l-1.9-0.8l-1.9-0.7z" color="#c7a228"/><path d="M138.9,89.7l1.9-0.4l-1.9-0.4l-1.9,0.2z" color="#d3a72d"/><path d="M137,89l1.9,0.7l-1.9-0.6l-1.9-0.9z" color="#d0a12f"/><path d="M135.1,86.8l1.9,2.2l-1.9-0.8l-1.9-2.3z" color="#cf9e30"/><path d="M133.2,85.3l1.9,1.5l-1.9-0.9l-1.9-1.7z" color="#d8aa2d"/><path d="M131.3,85.8l1.9-0.5l-1.9-1.1l-1.9,0.1z" color="#eed94d"/><path d="M129.4,87.8l1.9-2l-1.9-1.5l-1.9,2.1z" color="#fffb6b"/><path d="M127.6,89.5l1.8-1.7l-1.9-1.4l-1.8,1.9z" color="#fff668"/><path d="M125.7,89.8l1.9-0.3l-1.9-1.2l-1.9,0.3z" color="#f8d650"/><path d="M123.8,89.2l1.9,0.6l-1.9-1.2l-1.9-0.2z" color="#f2ba36"/><path d="M121.9,89.6l1.9-0.4l-1.9-0.8l-1.9,0.8z" color="#f9c73a"/><path d="M120,92.8l1.9-3.2l-1.9-0.4l-1.9,3.3z" color="#fdc73f"/><path d="M118.1,97l1.9-4.2l-1.9-0.3l-1.9,3.8z" color="#f1c038"/><path d="M116.2,99.6l1.9-2.6l-1.9-0.7l-1.9,2.1z" color="#efd53d"/><path d="M114.3,101.7l1.9-2.1l-1.9-1.2l-1.9,1.9z" color="#f8ef54"/><path d="M112.5,103.6l1.8-1.9l-1.9-1.4l-1.8,2.1z" color="#e6f058"/><path d="M110.6,105.7l1.9-2.1l-1.9-1.2l-1.9,2.6z" color="#bede4f"/><path d="M108.7,108.5l1.9-2.8l-1.9-0.7l-1.9,2.9z" color="#99d354"/><path d="M222,116.1l1.9,0.5l-1.9-1.9l-1.9,0.3z" color="#3a61e1"/><path d="M220.1,112.7l1.9,3.4l-1.9-1.1l-1.9-3.4z" color="#2e63d1"/><path d="M218.2,110.8l1.9,1.9l-1.9-1.1l-1.9-2.5z" color="#2772d2"/><path d="M216.3,111.6l1.9-0.8l-1.9-1.7l-1.9,0.2z" color="#287dd9"/><path d="M214.4,110.4l1.9,1.2l-1.9-2.3l-1.9-1.4z" color="#2782d9"/><path d="M212.6,110.5l1.8-0.1l-1.9-2.5l-1.9-0.2z" color="#359bea"/><path d="M210.7,112.1l1.9-1.6l-2-2.8l-1.8,1.6z" color="#52bdff"/><path d="M208.8,112.4l1.9-0.3l-1.9-2.8l-1.9,0.9z" color="#43a5ec"/><path d="M206.9,110.3l1.9,2.1l-1.9-2.2l-1.9-1.4z" color="#2381cd"/><path d="M205,108.5l1.9,1.8l-1.9-1.5l-1.9-1.5z" color="#208bcb"/><path d="M203.1,109.9l1.9-1.4l-1.9-1.2l-1.9,1.2z" color="#37b2ea"/><path d="M201.2,113.2l1.9-3.3l-1.9-1.4l-1.9,2.9z" color="#48bfff"/><path d="M199.3,116.1l1.9-2.9l-1.9-1.8l-1.9,3z" color="#59c1ff"/><path d="M197.4,115.5l1.9,0.6l-1.9-1.7l-1.9-0.6z" color="#4aa5e3"/><path d="M195.6,112l1.8,3.5l-1.9-1.7l-1.8-4.1z" color="#217ec3"/><path d="M193.7,109.2l1.9,2.8l-1.9-2.3l-1.9-3.3z" color="#198aba"/><path d="M191.8,107.5l1.9,1.7l-1.9-2.8l-1.9-1.9z" color="#0f98ba"/><path d="M189.9,108l1.9-0.5l-1.9-3l-1.9,0.5z" color="#0ca7c4"/><path d="M188,107.7l1.9,0.3l-1.9-3l-1.9-0.4z" color="#09a1bb"/><path d="M186.1,104l1.9,3.7l-1.9-3.1l-1.9-3.7z" color="#0b9aa2"/><path d="M184.2,101.2l1.9,2.8l-1.9-3.1l-1.9-2.9z" color="#1ba292"/><path d="M182.3,100.6l1.9,0.6l-1.9-3.2l-1.9-0.7z" color="#29ac8d"/><path d="M180.4,99.9l1.9,0.7l-1.9-3.3l-1.9-0.6z" color="#2fb189"/><path d="M178.6,98.3l1.8,1.6l-1.9-3.2l-1.8-1.7z" color="#37ac7a"/><path d="M176.7,95.8l1.9,2.5l-1.9-3.3l-1.9-2.7z" color="#49aa66"/><path d="M174.8,94.4l1.9,1.4l-1.9-3.5l-1.9-1.6z" color="#63b157"/><path d="M172.9,94.4l1.9,0l-1.9-3.7l-1.9,0.2z" color="#75bb52"/><path d="M171,93.7l1.9,0.7l-1.9-3.5l-1.9-0.3z" color="#7ab74b"/><path d="M169.1,91.7l1.9,2l-1.9-3.1l-1.9-1.8z" color="#83aa3b"/><path d="M167.2,89.6l1.9,2.1l-1.9-2.9l-1.9-2.4z" color="#98a42b"/><path d="M165.3,88.5l1.9,1.1l-1.9-3.2l-1.9-1.5z" color="#b4a926"/><path d="M163.5,89l1.8-0.5l-1.9-3.6l-1.8,0.5z" color="#d5c032"/><path d="M161.6,89.6l1.9-0.6l-1.9-3.6l-1.9,1.6z" color="#e4d847"/><path d="M159.7,89.5l1.9,0.1l-1.9-2.6l-1.9,1.1z" color="#d5cc3c"/><path d="M157.8,88.4l1.9,1.1l-1.9-1.4l-1.9-0.3z" color="#bfab25"/><path d="M155.9,86.7l1.9,1.7l-1.9-0.6l-1.9-1.6z" color="#bd9c26"/><path d="M154,84.9l1.9,1.8l-1.9-0.5l-1.9-2.1z" color="#cd9e2f"/><path d="M152.1,85.2l1.9-0.3l-1.9-0.8l-1.9,0.3z" color="#ebc24a"/><path d="M150.2,88.2l1.9-3l-1.9-0.8l-1.9,3.3z" color="#f8d24b"/><path d="M148.3,91.2l1.9-3l-1.9-0.5l-1.9,3z" color="#eac433"/><path d="M146.5,92.2l1.8-1l-1.9-0.5l-1.8,0.8z" color="#d2bb2a"/><path d="M144.6,91l1.9,1.2l-1.9-0.7l-1.9-1.1z" color="#bfa524"/><path d="M142.7,89.7l1.9,1.3l-1.9-0.6l-1.9-1.1z" color="#c69f29"/><path d="M140.8,89.9l1.9-0.2l-1.9-0.4l-1.9,0.4z" color="#d4a52f"/><path d="M138.9,89.4l1.9,0.5l-1.9-0.2l-1.9-0.7z" color="#d2a131"/><path d="M137,87.6l1.9,1.8l-1.9-0.4l-1.9-2.2z" color="#d09e30"/><path d="M135.1,86.8l1.9,0.8l-1.9-0.8l-1.9-1.5z" color="#e0af2f"/><path d="M133.2,87.7l1.9-0.9l-1.9-1.5l-1.9,0.5z" color="#f6de5d"/><path d="M131.4,89.7l1.8-2l-1.9-1.9l-1.9,2z" color="#ffff88"/><path d="M129.5,91.2l1.9-1.5l-2-1.9l-1.8,1.7z" color="#fff979"/><path d="M127.6,91.3l1.9-0.1l-1.9-1.7l-1.9,0.3z" color="#f5d252"/><path d="M125.7,90.5l1.9,0.8l-1.9-1.5l-1.9-0.6z" color="#ecb435"/><path d="M123.8,90.6l1.9-0.1l-1.9-1.3l-1.9,0.4z" color="#f5d149"/><path d="M121.9,93.9l1.9-3.3l-1.9-1l-1.9,3.2z" color="#ffd751"/><path d="M120,98.5l1.9-4.6l-1.9-1.1l-1.9,4.2z" color="#f5c73d"/><path d="M118.1,101.4l1.9-2.9l-1.9-1.5l-1.9,2.6z" color="#f3dd45"/><path d="M116.2,103.6l1.9-2.2l-1.9-1.8l-1.9,2.1z" color="#fcf765"/><path d="M114.4,105.1l1.8-1.5l-1.9-1.9l-1.8,1.9z" color="#f6fd74"/><path d="M112.5,106.9l1.9-1.8l-1.9-1.5l-1.9,2.1z" color="#d2ef65"/><path d="M110.6,109.2l1.9-2.3l-1.9-1.2l-1.9,2.8z" color="#a4dd5b"/><path d="M223.9,116l1.9,1l-1.9-0.4l-1.9-0.5z" color="#365cd7"/><path d="M222,113l1.9,3l-1.9,0.1l-1.9-3.4z" color="#2d64d1"/><path d="M220.1,112.1l1.9,0.9l-1.9-0.3l-1.9-1.9z" color="#2977dc"/><path d="M218.2,114l1.9-1.9l-1.9-1.3l-1.9,0.8z" color="#348aed"/><path d="M216.3,113.4l1.9,0.6l-1.9-2.4l-1.9-1.2z" color="#3289ea"/><path d="M214.5,113.8l1.8-0.4l-1.9-3l-1.8,0.1z" color="#3794f0"/><path d="M212.6,115.3l1.9-1.5l-1.9-3.3l-1.9,1.6z" color="#45a3ff"/><path d="M210.7,115.1l1.9,0.2l-1.9-3.2l-1.9,0.3z" color="#368ce9"/><path d="M208.8,112.5l1.9,2.6l-1.9-2.7l-1.9-2.1z" color="#247acc"/><path d="M206.9,110.2l1.9,2.3l-1.9-2.2l-1.9-1.8z" color="#2187ca"/><path d="M205,111.1l1.9-0.9l-1.9-1.7l-1.9,1.4z" color="#38afe8"/><path d="M203.1,114.1l1.9-3l-1.9-1.2l-1.9,3.3z" color="#44b8ff"/><path d="M201.2,116.9l1.9-2.8l-1.9-0.9l-1.9,2.9z" color="#49afff"/><path d="M199.3,116.7l1.9,0.2l-1.9-0.8l-1.9-0.6z" color="#3f98e4"/><path d="M197.5,113.9l1.8,2.8l-1.9-1.2l-1.8-3.5z" color="#227bc4"/><path d="M195.6,111.6l1.9,2.3l-1.9-1.9l-1.9-2.8z" color="#1c86bd"/><path d="M193.7,110l1.9,1.6l-1.9-2.4l-1.9-1.7z" color="#1794c0"/><path d="M191.8,110.3l1.9-0.3l-1.9-2.5l-1.9,0.5z" color="#15a1ca"/><path d="M189.9,109.7l1.9,0.6l-1.9-2.3l-1.9-0.3z" color="#129dc0"/><path d="M188,106.3l1.9,3.4l-1.9-2l-1.9-3.7z" color="#0997a9"/><path d="M186.1,104.2l1.9,2.1l-1.9-2.3l-1.9-2.8z" color="#0fa19d"/><path d="M184.2,104.5l1.9-0.3l-1.9-3l-1.9-0.6z" color="#1cac9d"/><path d="M182.4,104.2l1.8,0.3l-1.9-3.9l-1.9-0.7z" color="#21af9a"/><path d="M180.5,102.4l1.9,1.8l-2-4.3l-1.8-1.6z" color="#28a98b"/><path d="M178.6,99.8l1.9,2.6l-1.9-4.1l-1.9-2.5z" color="#36a978"/><path d="M176.7,98l1.9,1.8l-1.9-4l-1.9-1.4z" color="#4ab06b"/><path d="M174.8,97.5l1.9,0.5l-1.9-3.6l-1.9,0z" color="#59b764"/><path d="M172.9,96.5l1.9,1l-1.9-3.1l-1.9-0.7z" color="#61b45b"/><path d="M171,94.6l1.9,1.9l-1.9-2.8l-1.9-2z" color="#6fab49"/><path d="M169.1,92.9l1.9,1.7l-1.9-2.9l-1.9-2.1z" color="#87a938"/><path d="M167.2,92.1l1.9,0.8l-1.9-3.3l-1.9-1.1z" color="#a1b02f"/><path d="M165.4,92.6l1.8-0.5l-1.9-3.6l-1.8,0.5z" color="#b4bc31"/><path d="M163.5,92.5l1.9,0.1l-1.9-3.6l-1.9,0.6z" color="#b7be31"/><path d="M161.6,91.3l1.9,1.2l-1.9-2.9l-1.9-0.1z" color="#b1b029"/><path d="M159.7,89.8l1.9,1.5l-1.9-1.8l-1.9-1.1z" color="#b2a223"/><path d="M157.8,88.3l1.9,1.5l-1.9-1.4l-1.9-1.7z" color="#bd9d25"/><path d="M155.9,87l1.9,1.3l-1.9-1.6l-1.9-1.8z" color="#d1a22f"/><path d="M154,87.2l1.9-0.2l-1.9-2.1l-1.9,0.3z" color="#eed358"/><path d="M152.1,89.3l1.9-2.1l-1.9-2l-1.9,3z" color="#fdea62"/><path d="M150.2,91.6l1.9-2.3l-1.9-1.1l-1.9,3z" color="#f0cd3c"/><path d="M148.4,92.6l1.8-1l-1.9-0.4l-1.8,1z" color="#d5ba2a"/><path d="M146.5,91.6l1.9,1l-1.9-0.4l-1.9-1.2z" color="#c1a525"/><path d="M144.6,90.4l1.9,1.2l-1.9-0.6l-1.9-1.3z" color="#c79e2a"/><path d="M142.7,90.2l1.9,0.2l-1.9-0.7l-1.9,0.2z" color="#d6a432"/><path d="M140.8,89.7l1.9,0.5l-1.9-0.3l-1.9-0.5z" color="#d6a233"/><path d="M138.9,88.7l1.9,1l-1.9-0.3l-1.9-1.8z" color="#d7a332"/><path d="M137,88.8l1.9-0.1l-1.9-1.1l-1.9-0.8z" color="#ebc23f"/><path d="M135.1,90.4l1.9-1.6l-1.9-2l-1.9,0.9z" color="#fdee6d"/><path d="M133.3,92.3l1.8-1.9l-1.9-2.7l-1.8,2z" color="#ffff8e"/><path d="M131.4,93.6l1.9-1.3l-1.9-2.6l-1.9,1.5z" color="#ffed74"/><path d="M129.5,93.5l1.9,0.1l-1.9-2.4l-1.9,0.1z" color="#f2c348"/><path d="M127.6,92.6l1.9,0.9l-1.9-2.2l-1.9-0.8z" color="#e7ae36"/><path d="M125.7,92.6l1.9,0l-1.9-2.1l-1.9,0.1z" color="#f4d85d"/><path d="M123.8,96.1l1.9-3.5l-1.9-2l-1.9,3.3z" color="#ffe467"/><path d="M121.9,100.8l1.9-4.7l-1.9-2.2l-1.9,4.6z" color="#f4ce42"/><path d="M120,103.9l1.9-3.1l-1.9-2.3l-1.9,2.9z" color="#f1e750"/><path d="M118.1,105.7l1.9-1.8l-1.9-2.5l-1.9,2.2z" color="#fcfd7a"/><path d="M116.3,106.8l1.8-1.1l-1.9-2.1l-1.8,1.5z" color="#fbff8c"/><path d="M114.4,108.1l1.9-1.3l-1.9-1.7l-1.9,1.8z" color="#dcf878"/><path d="M112.5,110.2l1.9-2.1l-1.9-1.2l-1.9,2.3z" color="#ade866"/><path d="M225.8,115.6l1.9,1.2l-1.9,0.2l-1.9-1z" color="#325ed3"/><path d="M223.9,113l1.9,2.6l-1.9,0.4l-1.9-3z" color="#2b68d0"/><path d="M222,112.8l1.9,0.2l-1.9,0l-1.9-0.9z" color="#3082e5"/><path d="M220.1,115.9l1.9-3.1l-1.9-0.7l-1.9,1.9z" color="#50a9fd"/><path d="M218.2,116.2l1.9-0.3l-1.9-1.9l-1.9-0.6z" color="#4ea0fa"/><path d="M216.4,116.9l1.8-0.7l-1.9-2.8l-1.8,0.4z" color="#4598fa"/><path d="M214.5,118.5l1.9-1.6l-1.9-3.1l-1.9,1.5z" color="#4c9cff"/><path d="M212.6,118.5l1.9,0l-1.9-3.2l-1.9-0.2z" color="#367feb"/><path d="M210.7,115.6l1.9,2.9l-1.9-3.4l-1.9-2.6z" color="#2773cf"/><path d="M208.8,112.8l1.9,2.8l-1.9-3.1l-1.9-2.3z" color="#227fca"/><path d="M206.9,113.1l1.9-0.3l-1.9-2.6l-1.9,0.9z" color="#44b4e5"/><path d="M205,115.6l1.9-2.5l-1.9-2l-1.9,3z" color="#59cbff"/><path d="M203.1,118.3l1.9-2.7l-1.9-1.5l-1.9,2.8z" color="#5cc1ff"/><path d="M201.2,118.1l1.9,0.2l-1.9-1.4l-1.9-0.2z" color="#4aa1e5"/><path d="M199.4,115.6l1.8,2.5l-1.9-1.4l-1.8-2.8z" color="#2379c7"/><path d="M197.5,113.9l1.9,1.7l-1.9-1.7l-1.9-2.3z" color="#1e82c0"/><path d="M195.6,112.5l1.9,1.4l-1.9-2.3l-1.9-1.6z" color="#1b8fc3"/><path d="M193.7,112.5l1.9,0l-1.9-2.5l-1.9,0.3z" color="#199aca"/><path d="M191.8,111.4l1.9,1.1l-1.9-2.2l-1.9-0.6z" color="#1697c1"/><path d="M189.9,108.1l1.9,3.3l-1.9-1.7l-1.9-3.4z" color="#0a95ad"/><path d="M188,107l1.9,1.1l-1.9-1.8l-1.9-2.1z" color="#07a5ac"/><path d="M186.1,108.6l1.9-1.6l-1.9-2.8l-1.9,0.3z" color="#0fb6b8"/><path d="M184.3,109l1.8-0.4l-1.9-4.1l-1.8-0.3z" color="#10b2b4"/><path d="M182.4,107.1l1.9,1.9l-1.9-4.8l-1.9-1.8z" color="#14a59e"/><path d="M180.5,104.1l1.9,3l-1.9-4.7l-1.9-2.6z" color="#23a48a"/><path d="M178.6,101.5l1.9,2.6l-1.9-4.3l-1.9-1.8z" color="#34aa7b"/><path d="M176.7,100.2l1.9,1.3l-1.9-3.5l-1.9-0.5z" color="#42b072"/><path d="M174.8,98.9l1.9,1.3l-1.9-2.7l-1.9-1z" color="#4daf66"/><path d="M172.9,97.2l1.9,1.7l-1.9-2.4l-1.9-1.9z" color="#5dab55"/><path d="M171,95.5l1.9,1.7l-1.9-2.6l-1.9-1.7z" color="#75ac46"/><path d="M169.1,95l1.9,0.5l-1.9-2.6l-1.9-0.8z" color="#8eb63e"/><path d="M167.3,95.6l1.8-0.6l-1.9-2.9l-1.8,0.5z" color="#9dc13f"/><path d="M165.4,95.5l1.9,0.1l-1.9-3l-1.9-0.1z" color="#9bbb3b"/><path d="M163.5,93.8l1.9,1.7l-1.9-3l-1.9-1.2z" color="#9bac2e"/><path d="M161.6,92.4l1.9,1.4l-1.9-2.5l-1.9-1.5z" color="#a8a425"/><path d="M159.7,91.5l1.9,0.9l-1.9-2.6l-1.9-1.5z" color="#b9a324"/><path d="M157.8,90.5l1.9,1l-1.9-3.2l-1.9-1.3z" color="#cba729"/><path d="M155.9,90.2l1.9,0.3l-1.9-3.5l-1.9,0.2z" color="#e3c242"/><path d="M154,91.1l1.9-0.9l-1.9-3l-1.9,2.1z" color="#f8e75c"/><path d="M152.2,92.2l1.8-1.1l-1.9-1.8l-1.9,2.3z" color="#f9e14e"/><path d="M150.3,92.9l1.9-0.7l-2-0.6l-1.8,1z" color="#e1c030"/><path d="M148.4,92.5l1.9,0.4l-1.9-0.3l-1.9-1z" color="#c9a826"/><path d="M146.5,91.7l1.9,0.8l-1.9-0.9l-1.9-1.2z" color="#cca22b"/><path d="M144.6,91.2l1.9,0.5l-1.9-1.3l-1.9-0.2z" color="#d7a532"/><path d="M142.7,90.6l1.9,0.6l-1.9-1l-1.9-0.5z" color="#dca635"/><path d="M140.8,90.3l1.9,0.3l-1.9-0.9l-1.9-1z" color="#e8af38"/><path d="M138.9,91.3l1.9-1l-1.9-1.6l-1.9,0.1z" color="#f9da5a"/><path d="M137,93.2l1.9-1.9l-1.9-2.5l-1.9,1.6z" color="#fffd81"/><path d="M135.2,95.1l1.8-1.9l-1.9-2.8l-1.8,1.9z" color="#ffff88"/><path d="M133.3,96.2l1.9-1.1l-1.9-2.8l-1.9,1.3z" color="#fce465"/><path d="M131.4,96.1l1.9,0.1l-1.9-2.6l-1.9-0.1z" color="#ebba3b"/><path d="M129.5,95.4l1.9,0.7l-1.9-2.6l-1.9-0.9z" color="#e1ac35"/><path d="M127.6,95.5l1.9-0.1l-1.9-2.8l-1.9,0z" color="#f2d65f"/><path d="M125.7,98.9l1.9-3.4l-1.9-2.9l-1.9,3.5z" color="#fee867"/><path d="M123.8,103.5l1.9-4.6l-1.9-2.8l-1.9,4.7z" color="#edd543"/><path d="M121.9,106.4l1.9-2.9l-1.9-2.7l-1.9,3.1z" color="#e8ec5d"/><path d="M120,107.9l1.9-1.5l-1.9-2.5l-1.9,1.8z" color="#f2ff86"/><path d="M118.2,108.4l1.8-0.5l-1.9-2.2l-1.8,1.1z" color="#e2f883"/><path d="M116.3,109.2l1.9-0.8l-1.9-1.6l-1.9,1.3z" color="#ccf673"/><path d="M114.4,111.1l1.9-1.9l-1.9-1.1l-1.9,2.1z" color="#b2f06e"/><path d="M227.7,116.4l1.9,1.2l-1.9-0.8l-1.9-1.2z" color="#3061d4"/><path d="M225.8,113.7l1.9,2.7l-1.9-0.8l-1.9-2.6z" color="#296ad0"/><path d="M223.9,113.8l1.9-0.1l-1.9-0.7l-1.9-0.2z" color="#3f94e7"/><path d="M222,117.5l1.9-3.7l-1.9-1l-1.9,3.1z" color="#67beff"/><path d="M220.1,118.4l1.9-0.9l-1.9-1.6l-1.9,0.3z" color="#67b3ff"/><path d="M218.3,119.5l1.8-1.1l-1.9-2.2l-1.8,0.7z" color="#67b0ff"/><path d="M216.4,121.6l1.9-2.1l-1.9-2.6l-1.9,1.6z" color="#6cadff"/><path d="M214.5,122.3l1.9-0.7l-1.9-3.1l-1.9,0z" color="#4980ee"/><path d="M212.6,119.6l1.9,2.7l-1.9-3.8l-1.9-2.9z" color="#2c69d5"/><path d="M210.7,116.4l1.9,3.2l-1.9-4l-1.9-2.8z" color="#2676cd"/><path d="M208.8,116.4l1.9,0l-1.9-3.6l-1.9,0.3z" color="#3ea1e6"/><path d="M206.9,118.6l1.9-2.2l-1.9-3.3l-1.9,2.5z" color="#5bc1ff"/><path d="M205,121l1.9-2.4l-1.9-3l-1.9,2.7z" color="#62beff"/><path d="M203.2,120.4l1.8,0.6l-1.9-2.7l-1.9-0.2z" color="#4697e6"/><path d="M201.3,117.4l1.9,3l-2-2.3l-1.8-2.5z" color="#2476c9"/><path d="M199.4,115.9l1.9,1.5l-1.9-1.8l-1.9-1.7z" color="#2080c3"/><path d="M197.5,114.9l1.9,1l-1.9-2l-1.9-1.4z" color="#1e8bc7"/><path d="M195.6,114.7l1.9,0.2l-1.9-2.4l-1.9,0z" color="#1d93cb"/><path d="M193.7,113.3l1.9,1.4l-1.9-2.2l-1.9-1.1z" color="#1991c0"/><path d="M191.8,110.3l1.9,3l-1.9-1.9l-1.9-3.3z" color="#0d93b2"/><path d="M189.9,110l1.9,0.3l-1.9-2.2l-1.9-1.1z" color="#0eb1c2"/><path d="M188,112.5l1.9-2.5l-1.9-3l-1.9,1.6z" color="#21d0e1"/><path d="M186.2,113.3l1.8-0.8l-1.9-3.9l-1.8,0.4z" color="#1abdd3"/><path d="M184.3,111.6l1.9,1.7l-1.9-4.3l-1.9-1.9z" color="#099fb0"/><path d="M182.4,108.2l1.9,3.4l-1.9-4.5l-1.9-3z" color="#119d9b"/><path d="M180.5,105l1.9,3.2l-1.9-4.1l-1.9-2.6z" color="#23a38a"/><path d="M178.6,102.7l1.9,2.3l-1.9-3.5l-1.9-1.3z" color="#32a87b"/><path d="M176.7,101l1.9,1.7l-1.9-2.5l-1.9-1.3z" color="#3faa6e"/><path d="M174.8,99.4l1.9,1.6l-1.9-2.1l-1.9-1.7z" color="#50aa5f"/><path d="M172.9,97.7l1.9,1.7l-1.9-2.2l-1.9-1.7z" color="#66ad51"/><path d="M171,97.1l1.9,0.6l-1.9-2.2l-1.9-0.5z" color="#80ba4a"/><path d="M169.2,98l1.8-0.9l-1.9-2.1l-1.8,0.6z" color="#92cc52"/><path d="M167.3,98.2l1.9-0.2l-1.9-2.4l-1.9-0.1z" color="#8dc44e"/><path d="M165.4,97l1.9,1.2l-1.9-2.7l-1.9-1.7z" color="#8bb03b"/><path d="M163.5,96.1l1.9,0.9l-1.9-3.2l-1.9-1.4z" color="#9bad2f"/><path d="M161.6,95.7l1.9,0.4l-1.9-3.7l-1.9-0.9z" color="#aaad2a"/><path d="M159.7,94.8l1.9,0.9l-1.9-4.2l-1.9-1z" color="#b7ac28"/><path d="M157.8,93.9l1.9,0.9l-1.9-4.3l-1.9-0.3z" color="#c6af28"/><path d="M155.9,93.7l1.9,0.2l-1.9-3.7l-1.9,0.9z" color="#dac639"/><path d="M154.1,93.8l1.8-0.1l-1.9-2.6l-1.8,1.1z" color="#e7d13f"/><path d="M152.2,93.9l1.9-0.1l-1.9-1.6l-1.9,0.7z" color="#e0bf2f"/><path d="M150.3,94.1l1.9-0.2l-1.9-1l-1.9-0.4z" color="#d4b229"/><path d="M148.4,94.1l1.9,0l-1.9-1.6l-1.9-0.8z" color="#d3ac2b"/><path d="M146.5,93.5l1.9,0.6l-1.9-2.4l-1.9-0.5z" color="#d6a82f"/><path d="M144.6,92.8l1.9,0.7l-1.9-2.3l-1.9-0.6z" color="#dea934"/><path d="M142.7,92.8l1.9,0l-1.9-2.2l-1.9-0.3z" color="#f1b83e"/><path d="M140.8,94.1l1.9-1.3l-1.9-2.5l-1.9,1z" color="#ffe267"/><path d="M138.9,95.9l1.9-1.8l-1.9-2.8l-1.9,1.9z" color="#ffff87"/><path d="M137.1,97.5l1.8-1.6l-1.9-2.7l-1.8,1.9z" color="#ffff85"/><path d="M135.2,98.5l1.9-1l-1.9-2.4l-1.9,1.1z" color="#fce963"/><path d="M133.3,98.8l1.9-0.3l-1.9-2.3l-1.9-0.1z" color="#e8c136"/><path d="M131.4,98.5l1.9,0.3l-1.9-2.7l-1.9-0.7z" color="#dab02e"/><path d="M129.5,98.8l1.9-0.3l-1.9-3.1l-1.9,0.1z" color="#eed552"/><path d="M127.6,101.8l1.9-3l-1.9-3.3l-1.9,3.4z" color="#faea5b"/><path d="M125.7,105.8l1.9-4l-1.9-2.9l-1.9,4.6z" color="#e2db46"/><path d="M123.8,108.2l1.9-2.4l-1.9-2.3l-1.9,2.9z" color="#d8ee64"/><path d="M122,109.4l1.8-1.2l-1.9-1.8l-1.9,1.5z" color="#d4f87a"/><path d="M120.1,109.8l1.9-0.4l-2-1.5l-1.8,0.5z" color="#b7e666"/><path d="M118.2,110.3l1.9-0.5l-1.9-1.4l-1.9,0.8z" color="#b9ec69"/><path d="M116.3,112.1l1.9-1.8l-1.9-1.1l-1.9,1.9z" color="#b7f476"/><path d="M229.6,119.5l1.9,0.9l-1.9-2.8l-1.9-1.2z" color="#345fd8"/><path d="M227.7,116.5l1.9,3l-1.9-3.1l-1.9-2.7z" color="#2c68d3"/><path d="M225.8,116.2l1.9,0.3l-1.9-2.8l-1.9,0.1z" color="#4d9ee9"/><path d="M223.9,119.8l1.9-3.6l-1.9-2.4l-1.9,3.7z" color="#73c2ff"/><path d="M222,120.8l1.9-1l-1.9-2.3l-1.9,0.9z" color="#74b5ff"/><path d="M220.2,122l1.8-1.2l-1.9-2.4l-1.8,1.1z" color="#80bcff"/><path d="M218.3,124.6l1.9-2.6l-1.9-2.5l-1.9,2.1z" color="#87b7ff"/><path d="M216.4,125.8l1.9-1.2l-1.9-3l-1.9,0.7z" color="#5f83f1"/><path d="M214.5,123.6l1.9,2.2l-1.9-3.5l-1.9-2.7z" color="#355fdb"/><path d="M212.6,120.7l1.9,2.9l-1.9-4l-1.9-3.2z" color="#2b6ad4"/><path d="M210.7,120.9l1.9-0.2l-1.9-4.3l-1.9,0z" color="#3486ea"/><path d="M208.8,123.1l1.9-2.2l-1.9-4.5l-1.9,2.2z" color="#4ea1ff"/><path d="M206.9,125.1l1.9-2l-1.9-4.5l-1.9,2.4z" color="#4e95fc"/><path d="M205.1,123.4l1.8,1.7l-1.9-4.1l-1.8-0.6z" color="#3475e4"/><path d="M203.2,119.4l1.9,4l-1.9-3l-1.9-3z" color="#2671cb"/><path d="M201.3,117.5l1.9,1.9l-1.9-2l-1.9-1.5z" color="#227dc5"/><path d="M199.4,116.8l1.9,0.7l-1.9-1.6l-1.9-1z" color="#2088ca"/><path d="M197.5,116.6l1.9,0.2l-1.9-1.9l-1.9-0.2z" color="#1f8fce"/><path d="M195.6,115.6l1.9,1l-1.9-1.9l-1.9-1.4z" color="#1c8dc3"/><path d="M193.7,113.4l1.9,2.2l-1.9-2.3l-1.9-3z" color="#1391b9"/><path d="M191.8,113.3l1.9,0.1l-1.9-3.1l-1.9-0.3z" color="#1cb4d4"/><path d="M189.9,115.5l1.9-2.2l-1.9-3.3l-1.9,2.5z" color="#3fe0f8"/><path d="M188.1,116.2l1.8-0.7l-1.9-3l-1.8,0.8z" color="#35c6e4"/><path d="M186.2,114.7l1.9,1.5l-1.9-2.9l-1.9-1.7z" color="#109abc"/><path d="M184.3,111.7l1.9,3l-1.9-3.1l-1.9-3.4z" color="#0998a7"/><path d="M182.4,108.4l1.9,3.3l-1.9-3.5l-1.9-3.2z" color="#149f97"/><path d="M180.5,105.5l1.9,2.9l-1.9-3.4l-1.9-2.3z" color="#27a486"/><path d="M178.6,103.3l1.9,2.2l-1.9-2.8l-1.9-1.7z" color="#35a777"/><path d="M176.7,101.7l1.9,1.6l-1.9-2.3l-1.9-1.6z" color="#45aa68"/><path d="M174.8,100.1l1.9,1.6l-1.9-2.3l-1.9-1.7z" color="#59ad5b"/><path d="M173,99.4l1.8,0.7l-1.9-2.4l-1.9-0.6z" color="#72bc56"/><path d="M171.1,100.3l1.9-0.9l-2-2.3l-1.8,0.9z" color="#8ad565"/><path d="M169.2,100.9l1.9-0.6l-1.9-2.3l-1.9,0.2z" color="#85d163"/><path d="M167.3,100.3l1.9,0.6l-1.9-2.7l-1.9-1.2z" color="#7aba4d"/><path d="M165.4,99.9l1.9,0.4l-1.9-3.3l-1.9-0.9z" color="#86b642"/><path d="M163.5,99.6l1.9,0.3l-1.9-3.8l-1.9-0.4z" color="#91b63c"/><path d="M161.6,98.6l1.9,1l-1.9-3.9l-1.9-0.9z" color="#9ab233"/><path d="M159.7,97.6l1.9,1l-1.9-3.8l-1.9-0.9z" color="#a8af2c"/><path d="M157.8,97.1l1.9,0.5l-1.9-3.7l-1.9-0.2z" color="#b6b128"/><path d="M156,96.5l1.8,0.6l-1.9-3.4l-1.8,0.1z" color="#c1b327"/><path d="M154.1,96.2l1.9,0.3l-1.9-2.7l-1.9,0.1z" color="#ccb728"/><path d="M152.2,96.8l1.9-0.6l-1.9-2.3l-1.9,0.2z" color="#d6bd2c"/><path d="M150.3,97.3l1.9-0.5l-1.9-2.7l-1.9,0z" color="#d4b92b"/><path d="M148.4,97l1.9,0.3l-1.9-3.2l-1.9-0.6z" color="#cdaf29"/><path d="M146.5,96.3l1.9,0.7l-1.9-3.5l-1.9-0.7z" color="#d3ab2c"/><path d="M144.6,96.1l1.9,0.2l-1.9-3.5l-1.9,0z" color="#e4b636"/><path d="M142.7,96.9l1.9-0.8l-1.9-3.3l-1.9,1.3z" color="#f8da56"/><path d="M140.8,98.1l1.9-1.2l-1.9-2.8l-1.9,1.8z" color="#fffa76"/><path d="M139,99l1.8-0.9l-1.9-2.2l-1.8,1.6z" color="#fffd78"/><path d="M137.1,100l1.9-1l-1.9-1.5l-1.9,1z" color="#fff563"/><path d="M135.2,101.1l1.9-1.1l-1.9-1.5l-1.9,0.3z" color="#f4df48"/><path d="M133.3,101.5l1.9-0.4l-1.9-2.3l-1.9-0.3z" color="#e2c635"/><path d="M131.4,102l1.9-0.5l-1.9-3l-1.9,0.3z" color="#ecda49"/><path d="M129.5,104.2l1.9-2.2l-1.9-3.2l-1.9,3z" color="#faf25a"/><path d="M127.6,107.2l1.9-3l-1.9-2.4l-1.9,4z" color="#dfe751"/><path d="M125.7,109.1l1.9-1.9l-1.9-1.4l-1.9,2.4z" color="#c5e95d"/><path d="M123.9,110.3l1.8-1.2l-1.9-0.9l-1.8,1.2z" color="#b4e963"/><path d="M122,111l1.9-0.7l-1.9-0.9l-1.9,0.4z" color="#a5de5b"/><path d="M120.1,111.8l1.9-0.8l-1.9-1.2l-1.9,0.5z" color="#baed72"/><path d="M118.2,113.2l1.9-1.4l-1.9-1.5l-1.9,1.8z" color="#befa83"/><path d="M231.5,123.7l1.9,0.2l-1.9-3.5l-1.9-0.9z" color="#3c58dd"/><path d="M229.6,120.4l1.9,3.3l-1.9-4.2l-1.9-3z" color="#335ed6"/><path d="M227.7,119.7l1.9,0.7l-1.9-3.9l-1.9-0.3z" color="#4a8bea"/><path d="M225.8,123l1.9-3.3l-1.9-3.5l-1.9,3.6z" color="#72b0ff"/><path d="M223.9,123.6l1.9-0.6l-1.9-3.2l-1.9,1z" color="#75a5ff"/><path d="M222.1,124.8l1.8-1.2l-1.9-2.8l-1.8,1.2z" color="#7ea9ff"/><path d="M220.2,127.6l1.9-2.8l-1.9-2.8l-1.9,2.6z" color="#8caeff"/><path d="M218.3,129l1.9-1.4l-1.9-3l-1.9,1.2z" color="#667df2"/><path d="M216.4,126.9l1.9,2.1l-1.9-3.2l-1.9-2.2z" color="#3c55dc"/><path d="M214.5,124.3l1.9,2.6l-1.9-3.3l-1.9-2.9z" color="#335fd7"/><path d="M212.6,124.8l1.9-0.5l-1.9-3.6l-1.9,0.2z" color="#4582ee"/><path d="M210.7,127.2l1.9-2.4l-1.9-3.9l-1.9,2.2z" color="#639eff"/><path d="M208.8,128.9l1.9-1.7l-1.9-4.1l-1.9,2z" color="#5582f7"/><path d="M207,126.6l1.8,2.3l-1.9-3.8l-1.8-1.7z" color="#3662e0"/><path d="M205.1,121.6l1.9,5l-1.9-3.2l-1.9-4z" color="#2a6bce"/><path d="M203.2,119.3l1.9,2.3l-1.9-2.2l-1.9-1.9z" color="#2379c7"/><path d="M201.3,118.5l1.9,0.8l-1.9-1.8l-1.9-0.7z" color="#2286cc"/><path d="M199.4,118.5l1.9,0l-1.9-1.7l-1.9-0.2z" color="#228fd4"/><path d="M197.5,118.2l1.9,0.3l-1.9-1.9l-1.9-1z" color="#1f8ecc"/><path d="M195.6,116.9l1.9,1.3l-1.9-2.6l-1.9-2.2z" color="#1b91c5"/><path d="M193.7,116.9l1.9,0l-1.9-3.5l-1.9-0.1z" color="#21a8d7"/><path d="M191.8,118l1.9-1.1l-1.9-3.6l-1.9,2.2z" color="#39c7f2"/><path d="M190,118.1l1.8-0.1l-1.9-2.5l-1.8,0.7z" color="#32b7e3"/><path d="M188.1,116.8l1.9,1.3l-1.9-1.9l-1.9-1.5z" color="#1795c0"/><path d="M186.2,114.5l1.9,2.3l-1.9-2.1l-1.9-3z" color="#0b94af"/><path d="M184.3,111.5l1.9,3l-1.9-2.8l-1.9-3.3z" color="#0a9ba1"/><path d="M182.4,108.5l1.9,3l-1.9-3.1l-1.9-2.9z" color="#1ba091"/><path d="M180.5,106.1l1.9,2.4l-1.9-3l-1.9-2.2z" color="#2ca581"/><path d="M178.6,104.5l1.9,1.6l-1.9-2.8l-1.9-1.6z" color="#39a974"/><path d="M176.7,103.2l1.9,1.3l-1.9-2.8l-1.9-1.6z" color="#4bb069"/><path d="M174.9,102.7l1.8,0.5l-1.9-3.1l-1.8-0.7z" color="#5fbc64"/><path d="M173,103.3l1.9-0.6l-1.9-3.3l-1.9,0.9z" color="#72d171"/><path d="M171.1,103.9l1.9-0.6l-1.9-3l-1.9,0.6z" color="#70d172"/><path d="M169.2,103.7l1.9,0.2l-1.9-3l-1.9-0.6z" color="#67c062"/><path d="M167.3,103.3l1.9,0.4l-1.9-3.4l-1.9-0.4z" color="#6ebc58"/><path d="M165.4,102.9l1.9,0.4l-1.9-3.4l-1.9-0.3z" color="#76b950"/><path d="M163.5,102.1l1.9,0.8l-1.9-3.3l-1.9-1z" color="#7fb546"/><path d="M161.6,101.3l1.9,0.8l-1.9-3.5l-1.9-1z" color="#8db33c"/><path d="M159.7,100.7l1.9,0.6l-1.9-3.7l-1.9-0.5z" color="#9bb334"/><path d="M157.9,100.1l1.8,0.6l-1.9-3.6l-1.8-0.6z" color="#a6b32e"/><path d="M156,99.6l1.9,0.5l-1.9-3.6l-1.9-0.3z" color="#b5b62b"/><path d="M154.1,100.1l1.9-0.5l-1.9-3.4l-1.9,0.6z" color="#c5c231"/><path d="M152.2,100.9l1.9-0.8l-1.9-3.3l-1.9,0.5z" color="#c5c332"/><path d="M150.3,100.8l1.9,0.1l-1.9-3.6l-1.9-0.3z" color="#bbb62b"/><path d="M148.4,100.1l1.9,0.7l-1.9-3.8l-1.9-0.7z" color="#bdaf27"/><path d="M146.5,99.4l1.9,0.7l-1.9-3.8l-1.9-0.2z" color="#cab128"/><path d="M144.6,99.5l1.9-0.1l-1.9-3.3l-1.9,0.8z" color="#dec436"/><path d="M142.8,100l1.8-0.5l-1.9-2.6l-1.9,1.2z" color="#eedd4c"/><path d="M140.9,100.5l1.9-0.5l-2-1.9l-1.8,0.9z" color="#f9ec56"/><path d="M139,101.5l1.9-1l-1.9-1.5l-1.9,1z" color="#fff863"/><path d="M137.1,103.1l1.9-1.6l-1.9-1.5l-1.9,1.1z" color="#fffa6d"/><path d="M135.2,104.1l1.9-1l-1.9-2l-1.9,0.4z" color="#f2e756"/><path d="M133.3,104.7l1.9-0.6l-1.9-2.6l-1.9,0.5z" color="#f2ec54"/><path d="M131.4,106.3l1.9-1.6l-1.9-2.7l-1.9,2.2z" color="#fefc6b"/><path d="M129.5,108.4l1.9-2.1l-1.9-2.1l-1.9,3z" color="#e9f76a"/><path d="M127.6,109.9l1.9-1.5l-1.9-1.2l-1.9,1.9z" color="#c8ef62"/><path d="M125.8,111.2l1.8-1.3l-1.9-0.8l-1.8,1.2z" color="#b5e962"/><path d="M123.9,112.3l1.9-1.1l-1.9-0.9l-1.9,0.7z" color="#b4ed6d"/><path d="M122,113.4l1.9-1.1l-1.9-1.3l-1.9,0.8z" color="#c3f985"/><path d="M120.1,114.3l1.9-0.9l-1.9-1.6l-1.9,1.4z" color="#bafa88"/><path d="M233.4,127.7l1.9-0.5l-1.9-3.3l-1.9-0.2z" color="#4250e1"/><path d="M231.5,124.4l1.9,3.3l-1.9-4l-1.9-3.3z" color="#3a52d5"/><path d="M229.6,123.5l1.9,0.9l-1.9-4l-1.9-0.7z" color="#4670ea"/><path d="M227.7,126.5l1.9-3l-1.9-3.8l-1.9,3.3z" color="#678fff"/><path d="M225.9,126.7l1.8-0.2l-1.9-3.5l-1.9,0.6z" color="#6a89ff"/><path d="M224,127.7l1.9-1l-2-3.1l-1.8,1.2z" color="#7593ff"/><path d="M222.1,130.6l1.9-2.9l-1.9-2.9l-1.9,2.8z" color="#8ea4ff"/><path d="M220.2,131.9l1.9-1.3l-1.9-3l-1.9,1.4z" color="#6774f0"/><path d="M218.3,129.6l1.9,2.3l-1.9-2.9l-1.9-2.1z" color="#3e4dd8"/><path d="M216.4,126.8l1.9,2.8l-1.9-2.7l-1.9-2.6z" color="#3857d6"/><path d="M214.5,127.3l1.9-0.5l-1.9-2.5l-1.9,0.5z" color="#608cee"/><path d="M212.6,129.8l1.9-2.5l-1.9-2.5l-1.9,2.4z" color="#86aeff"/><path d="M210.7,131.8l1.9-2l-1.9-2.6l-1.9,1.7z" color="#627ef5"/><path d="M208.9,129.5l1.8,2.3l-1.9-2.9l-1.8-2.3z" color="#3c58de"/><path d="M207,124.3l1.9,5.2l-1.9-2.9l-1.9-5z" color="#2e64d0"/><path d="M205.1,121.6l1.9,2.7l-1.9-2.7l-1.9-2.3z" color="#2574ca"/><path d="M203.2,120.7l1.9,0.9l-1.9-2.3l-1.9-0.8z" color="#2482cf"/><path d="M201.3,120.9l1.9-0.2l-1.9-2.2l-1.9,0z" color="#258fdc"/><path d="M199.4,121.1l1.9-0.2l-1.9-2.4l-1.9-0.3z" color="#2490da"/><path d="M197.5,120.6l1.9,0.5l-1.9-2.9l-1.9-1.3z" color="#2190d3"/><path d="M195.6,120.5l1.9,0.1l-1.9-3.7l-1.9,0z" color="#2298d7"/><path d="M193.8,120.5l1.8,0l-1.9-3.6l-1.9,1.1z" color="#27a2e1"/><path d="M191.9,119.9l1.9,0.6l-2-2.5l-1.8,0.1z" color="#239cd7"/><path d="M190,118.7l1.9,1.2l-1.9-1.8l-1.9-1.3z" color="#1990c1"/><path d="M188.1,116.9l1.9,1.8l-1.9-1.9l-1.9-2.3z" color="#1191b4"/><path d="M186.2,114.5l1.9,2.4l-1.9-2.4l-1.9-3z" color="#0897a9"/><path d="M184.3,111.7l1.9,2.8l-1.9-3l-1.9-3z" color="#0e9d9b"/><path d="M182.4,109.5l1.9,2.2l-1.9-3.2l-1.9-2.4z" color="#21a38d"/><path d="M180.5,108l1.9,1.5l-1.9-3.4l-1.9-1.6z" color="#2eaa83"/><path d="M178.6,107.2l1.9,0.8l-1.9-3.5l-1.9-1.3z" color="#3ab27c"/><path d="M176.8,106.9l1.8,0.3l-1.9-4l-1.8-0.5z" color="#46bb79"/><path d="M174.9,107.1l1.9-0.2l-1.9-4.2l-1.9,0.6z" color="#4fc57d"/><path d="M173,107.3l1.9-0.2l-1.9-3.8l-1.9,0.6z" color="#51c67d"/><path d="M171.1,107.1l1.9,0.2l-1.9-3.4l-1.9-0.2z" color="#50bf75"/><path d="M169.2,106.6l1.9,0.5l-1.9-3.4l-1.9-0.4z" color="#55bc6c"/><path d="M167.3,106l1.9,0.6l-1.9-3.3l-1.9-0.4z" color="#5eba63"/><path d="M165.4,105.5l1.9,0.5l-1.9-3.1l-1.9-0.8z" color="#68b85a"/><path d="M163.5,104.9l1.9,0.6l-1.9-3.4l-1.9-0.8z" color="#74b850"/><path d="M161.6,104.5l1.9,0.4l-1.9-3.6l-1.9-0.6z" color="#80b848"/><path d="M159.8,103.9l1.8,0.6l-1.9-3.8l-1.8-0.6z" color="#8bb740"/><path d="M157.9,103.5l1.9,0.4l-1.9-3.8l-1.9-0.5z" color="#98b93a"/><path d="M156,103.8l1.9-0.3l-1.9-3.9l-1.9,0.5z" color="#a6c23c"/><path d="M154.1,104.3l1.9-0.5l-1.9-3.7l-1.9,0.8z" color="#a9c53e"/><path d="M152.2,104.3l1.9,0l-1.9-3.4l-1.9-0.1z" color="#a3bc37"/><path d="M150.3,103.6l1.9,0.7l-1.9-3.5l-1.9-0.7z" color="#a4b32f"/><path d="M148.4,102.6l1.9,1l-1.9-3.5l-1.9-0.7z" color="#afb029"/><path d="M146.5,102.1l1.9,0.5l-1.9-3.2l-1.9,0.1z" color="#bfb428"/><path d="M144.7,102.1l1.8,0l-1.9-2.6l-1.8,0.5z" color="#cfbf2c"/><path d="M142.8,102.4l1.9-0.3l-1.9-2.1l-1.9,0.5z" color="#e7d53d"/><path d="M140.9,103.5l1.9-1.1l-1.9-1.9l-1.9,1z" color="#fbf265"/><path d="M139,105l1.9-1.5l-1.9-2l-1.9,1.6z" color="#ffff84"/><path d="M137.1,106.3l1.9-1.3l-1.9-1.9l-1.9,1z" color="#fbfb76"/><path d="M135.2,107l1.9-0.7l-1.9-2.2l-1.9,0.6z" color="#fafb6a"/><path d="M133.3,108.3l1.9-1.3l-1.9-2.3l-1.9,1.6z" color="#feff7f"/><path d="M131.4,110l1.9-1.7l-1.9-2l-1.9,2.1z" color="#f7ff8a"/><path d="M129.5,111.2l1.9-1.2l-1.9-1.6l-1.9,1.5z" color="#e2fc83"/><path d="M127.7,112.5l1.8-1.3l-1.9-1.3l-1.8,1.3z" color="#d0f980"/><path d="M125.8,113.8l1.9-1.3l-1.9-1.3l-1.9,1.1z" color="#cbfc8b"/><path d="M123.9,114.9l1.9-1.1l-1.9-1.5l-1.9,1.1z" color="#c4ff92"/><path d="M122,115.5l1.9-0.6l-1.9-1.5l-1.9,0.9z" color="#a7f27f"/><path d="M235.3,131.4l1.9-0.9l-1.9-3.3l-1.9,0.5z" color="#494ce4"/><path d="M233.4,128.3l1.9,3.1l-1.9-3.7l-1.9-3.3z" color="#3d47d0"/><path d="M231.5,127.4l1.9,0.9l-1.9-3.9l-1.9-0.9z" color="#485fe8"/><path d="M229.6,130.1l1.9-2.7l-1.9-3.9l-1.9,3z" color="#6076ff"/><path d="M227.8,129.6l1.8,0.5l-1.9-3.6l-1.8,0.2z" color="#5c6dfb"/><path d="M225.9,130.4l1.9-0.8l-1.9-2.9l-1.9,1z" color="#7183fb"/><path d="M224,133.4l1.9-3l-1.9-2.7l-1.9,2.9z" color="#929eff"/><path d="M222.1,134.7l1.9-1.3l-1.9-2.8l-1.9,1.3z" color="#686ceb"/><path d="M220.2,132l1.9,2.7l-1.9-2.8l-1.9-2.3z" color="#3e46d2"/><path d="M218.3,128.7l1.9,3.3l-1.9-2.4l-1.9-2.8z" color="#3a50d2"/><path d="M216.4,129l1.9-0.3l-1.9-1.9l-1.9,0.5z" color="#6c8eeb"/><path d="M214.5,131.6l1.9-2.6l-1.9-1.7l-1.9,2.5z" color="#8eadff"/><path d="M212.6,133.9l1.9-2.3l-1.9-1.8l-1.9,2z" color="#6276f8"/><path d="M210.8,132.1l1.8,1.8l-1.9-2.1l-1.8-2.3z" color="#4054e1"/><path d="M208.9,127.2l1.9,4.9l-1.9-2.6l-1.9-5.2z" color="#315dd1"/><path d="M207,124.8l1.9,2.4l-1.9-2.9l-1.9-2.7z" color="#286ecf"/><path d="M205.1,123.8l1.9,1l-1.9-3.2l-1.9-0.9z" color="#277cd5"/><path d="M203.2,124l1.9-0.2l-1.9-3.1l-1.9,0.2z" color="#2a8ae3"/><path d="M201.3,124.3l1.9-0.3l-1.9-3.1l-1.9,0.2z" color="#2a8de6"/><path d="M199.4,124.2l1.9,0.1l-1.9-3.2l-1.9-0.5z" color="#278bdf"/><path d="M197.5,123.9l1.9,0.3l-1.9-3.6l-1.9-0.1z" color="#258cda"/><path d="M195.7,123.2l1.8,0.7l-1.9-3.4l-1.8,0z" color="#238dd5"/><path d="M193.8,122l1.9,1.2l-1.9-2.7l-1.9-0.6z" color="#208ccc"/><path d="M191.9,120.8l1.9,1.2l-1.9-2.1l-1.9-1.2z" color="#1c8cc1"/><path d="M190,119.3l1.9,1.5l-1.9-2.1l-1.9-1.8z" color="#168fb9"/><path d="M188.1,117.4l1.9,1.9l-1.9-2.4l-1.9-2.4z" color="#0c94b0"/><path d="M186.2,115.4l1.9,2l-1.9-2.9l-1.9-2.8z" color="#079aa6"/><path d="M184.3,113.6l1.9,1.8l-1.9-3.7l-1.9-2.2z" color="#11a19c"/><path d="M182.4,112.4l1.9,1.2l-1.9-4.1l-1.9-1.5z" color="#1fa996"/><path d="M180.5,111.8l1.9,0.6l-1.9-4.4l-1.9-0.8z" color="#29b192"/><path d="M178.7,111.6l1.8,0.2l-1.9-4.6l-1.8-0.3z" color="#30b790"/><path d="M176.8,111.5l1.9,0.1l-1.9-4.7l-1.9,0.2z" color="#34bb8f"/><path d="M174.9,111.2l1.9,0.3l-1.9-4.4l-1.9,0.2z" color="#37bb8c"/><path d="M173,110.8l1.9,0.4l-1.9-3.9l-1.9-0.2z" color="#3ab986"/><path d="M171.1,110.2l1.9,0.6l-1.9-3.7l-1.9-0.5z" color="#3fb87e"/><path d="M169.2,109.6l1.9,0.6l-1.9-3.6l-1.9-0.6z" color="#47b976"/><path d="M167.3,109.3l1.9,0.3l-1.9-3.6l-1.9-0.5z" color="#50ba6f"/><path d="M165.4,109l1.9,0.3l-1.9-3.8l-1.9-0.6z" color="#59bb68"/><path d="M163.6,108.4l1.8,0.6l-1.9-4.1l-1.9-0.4z" color="#62ba60"/><path d="M161.7,108l1.9,0.4l-2-3.9l-1.8-0.6z" color="#6cba58"/><path d="M159.8,107.7l1.9,0.3l-1.9-4.1l-1.9-0.4z" color="#78bc52"/><path d="M157.9,107.7l1.9,0l-1.9-4.2l-1.9,0.3z" color="#82c150"/><path d="M156,107.9l1.9-0.2l-1.9-3.9l-1.9,0.5z" color="#87c34f"/><path d="M154.1,107.8l1.9,0.1l-1.9-3.6l-1.9,0z" color="#87be49"/><path d="M152.2,107.1l1.9,0.7l-1.9-3.5l-1.9-0.7z" color="#8bb640"/><path d="M150.3,106l1.9,1.1l-1.9-3.5l-1.9-1z" color="#96b135"/><path d="M148.4,105.2l1.9,0.8l-1.9-3.4l-1.9-0.5z" color="#a5b22e"/><path d="M146.6,104.8l1.8,0.4l-1.9-3.1l-1.8,0z" color="#b5b72b"/><path d="M144.7,105l1.9-0.2l-1.9-2.7l-1.9,0.3z" color="#cbc936"/><path d="M142.8,105.8l1.9-0.8l-1.9-2.6l-1.9,1.1z" color="#eaeb5a"/><path d="M140.9,107l1.9-1.2l-1.9-2.3l-1.9,1.5z" color="#fcff80"/><path d="M139,108.2l1.9-1.2l-1.9-2l-1.9,1.3z" color="#feff83"/><path d="M137.1,109.2l1.9-1l-1.9-1.9l-1.9,0.7z" color="#fbff7e"/><path d="M135.2,110.5l1.9-1.3l-1.9-2.2l-1.9,1.3z" color="#fcff8c"/><path d="M133.3,112l1.9-1.5l-1.9-2.2l-1.9,1.7z" color="#faff9d"/><path d="M131.4,113.1l1.9-1.1l-1.9-2l-1.9,1.2z" color="#ecff9d"/><path d="M129.6,114.1l1.8-1l-1.9-1.9l-1.8,1.3z" color="#deff9c"/><path d="M127.7,115.3l1.9-1.2l-1.9-1.6l-1.9,1.3z" color="#d5ffa1"/><path d="M125.8,116.4l1.9-1.1l-1.9-1.5l-1.9,1.1z" color="#b9fb94"/><path d="M123.9,116.8l1.9-0.4l-1.9-1.5l-1.9,0.6z" color="#93e775"/><path d="M237.2,135l1.9-1l-1.9-3.5l-1.9,0.9z" color="#4b45dd"/><path d="M235.3,132l1.9,3l-1.9-3.6l-1.9-3.1z" color="#3d3cc8"/><path d="M233.4,131.1l1.9,0.9l-1.9-3.7l-1.9-0.9z" color="#4852e4"/><path d="M231.5,133.5l1.9-2.4l-1.9-3.7l-1.9,2.7z" color="#5861fc"/><path d="M229.7,132.5l1.8,1l-1.9-3.4l-1.8-0.5z" color="#5057f1"/><path d="M227.8,133.1l1.9-0.6l-1.9-2.9l-1.9,0.8z" color="#6e77f3"/><path d="M225.9,136l1.9-2.9l-1.9-2.7l-1.9,3z" color="#9598ff"/><path d="M224,137.2l1.9-1.2l-1.9-2.6l-1.9,1.3z" color="#6865e6"/><path d="M222.1,134.3l1.9,2.9l-1.9-2.5l-1.9-2.7z" color="#3d3fcb"/><path d="M220.2,130.7l1.9,3.6l-1.9-2.3l-1.9-3.3z" color="#3a4ace"/><path d="M218.3,130.8l1.9-0.1l-1.9-2l-1.9,0.3z" color="#6b87e8"/><path d="M216.4,133.4l1.9-2.6l-1.9-1.8l-1.9,2.6z" color="#8aa5ff"/><path d="M214.5,135.9l1.9-2.5l-1.9-1.8l-1.9,2.3z" color="#6473fd"/><path d="M212.7,134.4l1.8,1.5l-1.9-2l-1.8-1.8z" color="#4653e5"/><path d="M210.8,130.1l1.9,4.3l-1.9-2.3l-1.9-4.9z" color="#3656d1"/><path d="M208.9,128.2l1.9,1.9l-1.9-2.9l-1.9-2.4z" color="#2d66d4"/><path d="M207,127.4l1.9,0.8l-1.9-3.4l-1.9-1z" color="#2a74dc"/><path d="M205.1,127.4l1.9,0l-1.9-3.6l-1.9,0.2z" color="#2c7fe8"/><path d="M203.2,127.6l1.9-0.2l-1.9-3.4l-1.9,0.3z" color="#2e84ed"/><path d="M201.3,127.6l1.9,0l-1.9-3.3l-1.9-0.1z" color="#2c83e8"/><path d="M199.4,127.2l1.9,0.4l-1.9-3.4l-1.9-0.3z" color="#2981de"/><path d="M197.6,126l1.8,1.2l-1.9-3.3l-1.8-0.7z" color="#2581d3"/><path d="M195.7,124.5l1.9,1.5l-1.9-2.8l-1.9-1.2z" color="#2283c9"/><path d="M193.8,123.1l1.9,1.4l-1.9-2.5l-1.9-1.2z" color="#1e87c4"/><path d="M191.9,121.9l1.9,1.2l-1.9-2.3l-1.9-1.5z" color="#1a8cbf"/><path d="M190,120.6l1.9,1.3l-1.9-2.6l-1.9-1.9z" color="#1492ba"/><path d="M188.1,119.2l1.9,1.4l-1.9-3.2l-1.9-2z" color="#0c98b4"/><path d="M186.2,118l1.9,1.2l-1.9-3.8l-1.9-1.8z" color="#089fae"/><path d="M184.3,117.1l1.9,0.9l-1.9-4.4l-1.9-1.2z" color="#0ca6aa"/><path d="M182.4,116.7l1.9,0.4l-1.9-4.7l-1.9-0.6z" color="#12aca7"/><path d="M180.6,116.4l1.8,0.3l-1.9-4.9l-1.8-0.2z" color="#17b0a5"/><path d="M178.7,116l1.9,0.4l-1.9-4.8l-1.9-0.1z" color="#1cb2a2"/><path d="M176.8,115.6l1.9,0.4l-1.9-4.5l-1.9-0.3z" color="#22b39d"/><path d="M174.9,115l1.9,0.6l-1.9-4.4l-1.9-0.4z" color="#27b397"/><path d="M173,114.4l1.9,0.6l-1.9-4.2l-1.9-0.6z" color="#2db490"/><path d="M171.1,114l1.9,0.4l-1.9-4.2l-1.9-0.6z" color="#33b68b"/><path d="M169.2,113.7l1.9,0.3l-1.9-4.4l-1.9-0.3z" color="#39b886"/><path d="M167.3,113.4l1.9,0.3l-1.9-4.4l-1.9-0.3z" color="#3eb980"/><path d="M165.5,112.9l1.8,0.5l-1.9-4.4l-1.8-0.6z" color="#44b979"/><path d="M163.6,112.4l1.9,0.5l-1.9-4.5l-1.9-0.4z" color="#4dba72"/><path d="M161.7,112.2l1.9,0.2l-1.9-4.4l-1.9-0.3z" color="#55bc6c"/><path d="M159.8,111.9l1.9,0.3l-1.9-4.5l-1.9,0z" color="#5dbe68"/><path d="M157.9,111.7l1.9,0.2l-1.9-4.2l-1.9,0.2z" color="#63bf64"/><path d="M156,111.4l1.9,0.3l-1.9-3.8l-1.9-0.1z" color="#68bd5e"/><path d="M154.1,110.7l1.9,0.7l-1.9-3.6l-1.9-0.7z" color="#6fb854"/><path d="M152.2,109.8l1.9,0.9l-1.9-3.6l-1.9-1.1z" color="#7bb449"/><path d="M150.3,108.9l1.9,0.9l-1.9-3.8l-1.9-0.8z" color="#8ab43e"/><path d="M148.5,108.3l1.8,0.6l-1.9-3.7l-1.8-0.4z" color="#99b637"/><path d="M146.6,108.1l1.9,0.2l-1.9-3.5l-1.9,0.2z" color="#aabf37"/><path d="M144.7,108.5l1.9-0.4l-1.9-3.1l-1.9,0.8z" color="#c2d648"/><path d="M142.8,109.1l1.9-0.6l-1.9-2.7l-1.9,1.2z" color="#dff269"/><path d="M140.9,110.2l1.9-1.1l-1.9-2.1l-1.9,1.2z" color="#f2fe83"/><path d="M139,111.5l1.9-1.3l-1.9-2l-1.9,1z" color="#f3ff8c"/><path d="M137.1,112.8l1.9-1.3l-1.9-2.3l-1.9,1.3z" color="#eeff96"/><path d="M135.2,114.3l1.9-1.5l-1.9-2.3l-1.9,1.5z" color="#e7ffa1"/><path d="M133.4,115.4l1.8-1.1l-1.9-2.3l-1.9,1.1z" color="#d3ff9e"/><path d="M131.5,116.3l1.9-0.9l-2-2.3l-1.8,1z" color="#c3ff99"/><path d="M129.6,117.1l1.9-0.8l-1.9-2.2l-1.9,1.2z" color="#bcff9c"/><path d="M127.7,117.9l1.9-0.8l-1.9-1.8l-1.9,1.1z" color="#a2f38b"/><path d="M125.8,118.2l1.9-0.3l-1.9-1.5l-1.9,0.4z" color="#82db6f"/><path d="M239.1,138.8l1.9-0.7l-1.9-4.1l-1.9,1z" color="#4537c6"/><path d="M237.2,135.4l1.9,3.4l-1.9-3.8l-1.9-3z" color="#3b32ba"/><path d="M235.3,134.3l1.9,1.1l-1.9-3.4l-1.9-0.9z" color="#4847dc"/><path d="M233.4,136.9l1.9-2.6l-1.9-3.2l-1.9,2.4z" color="#5351f2"/><path d="M231.6,135.6l1.8,1.3l-1.9-3.4l-1.8-1z" color="#4a47e3"/><path d="M229.7,135.8l1.9-0.2l-1.9-3.1l-1.9,0.6z" color="#6b6bec"/><path d="M227.8,138.5l1.9-2.7l-1.9-2.7l-1.9,2.9z" color="#9591ff"/><path d="M225.9,139.6l1.9-1.1l-1.9-2.5l-1.9,1.2z" color="#6960e1"/><path d="M224,136.7l1.9,2.9l-1.9-2.4l-1.9-2.9z" color="#3c39c4"/><path d="M222.1,133.3l1.9,3.4l-1.9-2.4l-1.9-3.6z" color="#3b45cb"/><path d="M220.2,133.7l1.9-0.4l-1.9-2.6l-1.9,0.1z" color="#677ce8"/><path d="M218.3,136.1l1.9-2.4l-1.9-2.9l-1.9,2.6z" color="#8c9eff"/><path d="M216.5,138.2l1.8-2.1l-1.9-2.7l-1.9,2.5z" color="#6a73fa"/><path d="M214.6,136.5l1.9,1.7l-2-2.3l-1.8-1.5z" color="#454ee0"/><path d="M212.7,132.6l1.9,3.9l-1.9-2.1l-1.9-4.3z" color="#3950d0"/><path d="M210.8,131.1l1.9,1.5l-1.9-2.5l-1.9-1.9z" color="#345fd8"/><path d="M208.9,130.5l1.9,0.6l-1.9-2.9l-1.9-0.8z" color="#306be2"/><path d="M207,130.5l1.9,0l-1.9-3.1l-1.9,0z" color="#3075ec"/><path d="M205.1,130.6l1.9-0.1l-1.9-3.1l-1.9,0.2z" color="#317af1"/><path d="M203.2,130.6l1.9,0l-1.9-3l-1.9,0z" color="#2f7aed"/><path d="M201.3,130.3l1.9,0.3l-1.9-3l-1.9-0.4z" color="#2b78e3"/><path d="M199.5,129l1.8,1.3l-1.9-3.1l-1.8-1.2z" color="#2877d6"/><path d="M197.6,127.3l1.9,1.7l-1.9-3l-1.9-1.5z" color="#247bcc"/><path d="M195.7,125.9l1.9,1.4l-1.9-2.8l-1.9-1.4z" color="#2182c7"/><path d="M193.8,124.8l1.9,1.1l-1.9-2.8l-1.9-1.2z" color="#1e89c6"/><path d="M191.9,123.8l1.9,1l-1.9-2.9l-1.9-1.3z" color="#1b90c5"/><path d="M190,123l1.9,0.8l-1.9-3.2l-1.9-1.4z" color="#1796c3"/><path d="M188.1,122.4l1.9,0.6l-1.9-3.8l-1.9-1.2z" color="#119cc0"/><path d="M186.2,122l1.9,0.4l-1.9-4.4l-1.9-0.9z" color="#0ca1be"/><path d="M184.4,121.5l1.8,0.5l-1.9-4.9l-1.9-0.4z" color="#0aa5bb"/><path d="M182.5,121.1l1.9,0.4l-2-4.8l-1.8-0.3z" color="#09a8b8"/><path d="M180.6,120.7l1.9,0.4l-1.9-4.7l-1.9-0.4z" color="#0aaab4"/><path d="M178.7,120.3l1.9,0.4l-1.9-4.7l-1.9-0.4z" color="#0cabaf"/><path d="M176.8,119.9l1.9,0.4l-1.9-4.7l-1.9-0.6z" color="#10adaa"/><path d="M174.9,119.5l1.9,0.4l-1.9-4.9l-1.9-0.6z" color="#15aea5"/><path d="M173,119.1l1.9,0.4l-1.9-5.1l-1.9-0.4z" color="#1cb0a0"/><path d="M171.1,118.7l1.9,0.4l-1.9-5.1l-1.9-0.3z" color="#22b29c"/><path d="M169.2,118.4l1.9,0.3l-1.9-5l-1.9-0.3z" color="#27b497"/><path d="M167.4,118l1.8,0.4l-1.9-5l-1.8-0.5z" color="#2cb492"/><path d="M165.5,117.5l1.9,0.5l-1.9-5.1l-1.9-0.5z" color="#32b68c"/><path d="M163.6,117l1.9,0.5l-1.9-5.1l-1.9-0.2z" color="#38b786"/><path d="M161.7,116.5l1.9,0.5l-1.9-4.8l-1.9-0.3z" color="#3db881"/><path d="M159.8,115.9l1.9,0.6l-1.9-4.6l-1.9-0.2z" color="#43b97a"/><path d="M157.9,115.2l1.9,0.7l-1.9-4.2l-1.9-0.3z" color="#4ab973"/><path d="M156,114.6l1.9,0.6l-1.9-3.8l-1.9-0.7z" color="#53b96a"/><path d="M154.1,114l1.9,0.6l-1.9-3.9l-1.9-0.9z" color="#5eb861"/><path d="M152.2,113.4l1.9,0.6l-1.9-4.2l-1.9-0.9z" color="#6ab757"/><path d="M150.4,112.6l1.8,0.8l-1.9-4.5l-1.8-0.6z" color="#78b74d"/><path d="M148.5,111.8l1.9,0.8l-1.9-4.3l-1.9-0.2z" color="#86ba46"/><path d="M146.6,111.4l1.9,0.4l-1.9-3.7l-1.9,0.4z" color="#94c145"/><path d="M144.7,111.6l1.9-0.2l-1.9-2.9l-1.9,0.6z" color="#b0db57"/><path d="M142.8,112.8l1.9-1.2l-1.9-2.5l-1.9,1.1z" color="#d5f77f"/><path d="M140.9,114.2l1.9-1.4l-1.9-2.6l-1.9,1.3z" color="#e0ff98"/><path d="M139,115.6l1.9-1.4l-1.9-2.7l-1.9,1.3z" color="#d4ff9e"/><path d="M137.1,117l1.9-1.4l-1.9-2.8l-1.9,1.5z" color="#c9ffa5"/><path d="M135.3,118.1l1.8-1.1l-1.9-2.7l-1.8,1.1z" color="#b1fd9d"/><path d="M133.4,118.9l1.9-0.8l-1.9-2.7l-1.9,0.9z" color="#97f58d"/><path d="M131.5,119.4l1.9-0.5l-1.9-2.6l-1.9,0.8z" color="#8ced87"/><path d="M129.6,119.7l1.9-0.3l-1.9-2.3l-1.9,0.8z" color="#7dde7a"/><path d="M127.7,119.6l1.9,0.1l-1.9-1.8l-1.9,0.3z" color="#6fcd69"/></g>
<path d="M42.1,137.9L42.1,50.9M42.1,137.9L127.7,178.2M127.7,178.2L241,148M42.1,132.1L39.5,131.2M42.1,120.5L39.5,119.6M42.1,108.9L39.5,108M42.1,97.3L39.5,96.4M42.1,85.7L39.5,84.8M42.1,74.1L39.5,73.2M42.1,62.5L39.5,61.6M127.7,178.2L129.9,177.6M99.2,164.8L101.4,164.2M70.6,151.3L72.8,150.7M42.1,137.9L44.3,137.3M143.9,173.9L142.1,173M176.3,165.3L174.5,164.4M208.6,156.6L206.8,155.7M241,148L239.2,147.1" stroke="#7a7a7a" stroke-width="0.7" fill="none"/>
<text class="t" transform="translate(37.6,133.6) scale(0.91,1)" font-size="6.7" text-anchor="end">1.96</text>
<text class="t" transform="translate(37.6,122) scale(0.91,1)" font-size="6.7" text-anchor="end">1.98</text>
<text class="t" transform="translate(37.6,110.4) scale(0.91,1)" font-size="6.7" text-anchor="end">2</text>
<text class="t" transform="translate(37.6,98.8) scale(0.91,1)" font-size="6.7" text-anchor="end">2.02</text>
<text class="t" transform="translate(37.6,87.2) scale(0.91,1)" font-size="6.7" text-anchor="end">2.04</text>
<text class="t" transform="translate(37.6,75.6) scale(0.91,1)" font-size="6.7" text-anchor="end">2.06</text>
<text class="t" transform="translate(37.6,64) scale(0.91,1)" font-size="6.7" text-anchor="end">2.08</text>
<text class="t" transform="translate(42.3,146.6) scale(0.91,1)" font-size="6.7" text-anchor="end">20</text>
<text class="t" transform="translate(65.2,160.3) scale(0.91,1)" font-size="6.7" text-anchor="end">15</text>
<text class="t" transform="translate(94.6,173.2) scale(0.91,1)" font-size="6.7" text-anchor="end">10</text>
<text class="t" transform="translate(123,185.9) scale(0.91,1)" font-size="6.7" text-anchor="end">5</text>
<text class="t" transform="translate(153.1,182.8) scale(0.91,1)" font-size="6.7" text-anchor="middle">10</text>
<text class="t" transform="translate(185.7,173.6) scale(0.91,1)" font-size="6.7" text-anchor="middle">20</text>
<text class="t" transform="translate(218,165) scale(0.91,1)" font-size="6.7" text-anchor="middle">30</text>
<text class="t" transform="translate(249.3,156.6) scale(0.91,1)" font-size="6.7" text-anchor="middle">40</text>
<text class="t" transform="translate(85.3,186.4) scale(0.91,1)" font-size="6.7" text-anchor="middle">Lp</text>
<text class="t" transform="translate(176.4,188.4) scale(0.91,1)" font-size="6.7" text-anchor="middle">N</text>
<text class="t" font-size="6.7" text-anchor="middle" transform="translate(20.4,94.5) rotate(-90) scale(1,0.91)">Profit per unit time</text>
<text class="t" transform="translate(25.6,39.5) scale(0.91,1)" font-size="6.7">×</text>
<text class="t" transform="translate(30.6,39.5) scale(0.91,1)" font-size="6.7">10<tspan dy="-2.5" font-size="4.96">4</tspan></text>
</g>
<g id="pb">
<path d="M357.6,18.9V181.3M386.9,18.9V181.3M416.3,18.9V181.3M445.7,18.9V181.3M475.1,18.9V181.3M504.4,18.9V181.3M533.8,18.9V181.3M328.2,170.5H533.8M328.2,148.8H533.8M328.2,127.2H533.8M328.2,105.5H533.8M328.2,83.9H533.8M328.2,62.2H533.8M328.2,40.6H533.8" stroke="#e4e4e4" stroke-width="0.7" fill="none"/>
<defs><linearGradient id="pg" gradientUnits="userSpaceOnUse" x1="0" y1="168.3" x2="0" y2="18.9"><stop offset="0" stop-color="#4933ae"/><stop offset="0.06" stop-color="#5043d7"/><stop offset="0.12" stop-color="#5357f0"/><stop offset="0.19" stop-color="#506cfc"/><stop offset="0.25" stop-color="#4082fd"/><stop offset="0.31" stop-color="#3896f1"/><stop offset="0.38" stop-color="#2ea8e5"/><stop offset="0.44" stop-color="#1bb8d5"/><stop offset="0.5" stop-color="#20c2bd"/><stop offset="0.56" stop-color="#40caa2"/><stop offset="0.62" stop-color="#65cf7e"/><stop offset="0.69" stop-color="#9acd55"/><stop offset="0.75" stop-color="#ccc536"/><stop offset="0.81" stop-color="#f2be43"/><stop offset="0.88" stop-color="#fecd3f"/><stop offset="0.94" stop-color="#f6e534"/><stop offset="1" stop-color="#f9fb23"/></linearGradient></defs><defs><linearGradient id="pg2" gradientUnits="userSpaceOnUse" x1="328.2" y1="0" x2="533.8" y2="0"><stop offset="0" stop-color="#b9c98f"/><stop offset="0.45" stop-color="#8fcfae"/><stop offset="0.7" stop-color="#74c3cf"/><stop offset="1" stop-color="#7d8fe0"/></linearGradient></defs><g fill="url(#pg)" stroke="rgba(20,60,90,0.085)" stroke-width="0.35" stroke-linejoin="round"><path d="M328.2,66.7L331.1,65.3L334.1,59.5L337,50.7L339.9,39.9L342.9,37.9L345.8,35.2L348.8,32.2L351.7,31.3L354.6,28.6L357.6,26.2L360.5,30.2L363.4,34.3L366.4,30.4L369.3,26.5L372.3,24.3L375.2,21.8L378.1,24.1L381.1,26.5L384,27.9L386.9,29.3L389.9,25.9L392.8,22.1L395.8,24.2L398.7,25.6L401.6,25.3L404.6,23.4L407.5,29.7L410.4,36.3L413.4,32.4L416.3,28.7L419.3,27.4L422.2,26.3L425.1,24.9L428.1,20.9L431,25.2L433.9,28.1L436.9,29.3L439.8,30.4L442.7,35.6L445.7,39.1L448.6,40.4L451.6,41.8L454.5,46.2L457.4,50.7L460.4,47.1L463.3,43.7L466.2,42.5L469.2,41.3L472.1,46.8L475.1,51.6L478,51.7L480.9,47.2L483.9,58.2L486.8,66.3L489.7,67.1L492.7,62.9L495.6,64.9L498.6,65.1L501.5,63.8L504.4,59.3L507.4,66.1L510.3,71.7L513.2,70.6L516.2,68L519.1,64.9L522.1,61.7L525,72.8L527.9,79.8L530.9,75.8L533.8,65.8L533.8,169.9L530.9,164.1L527.9,152L525,149.2L522.1,153.8L519.1,156L516.2,152.5L513.2,152.6L510.3,156L507.4,156.8L504.4,152L501.5,146.1L498.6,142.5L495.6,146.4L492.7,152.6L489.7,153.4L486.8,149.8L483.9,140.8L480.9,134.5L478,126.3L475.1,119.3L472.1,122.5L469.2,125.9L466.2,129L463.3,131.7L460.4,129L457.4,125.2L454.5,124.5L451.6,124.3L448.6,121.4L445.7,118.7L442.7,112.8L439.8,107.2L436.9,108.7L433.9,110.4L431,104.2L428.1,98L425.1,94.5L422.2,90.9L419.3,93.1L416.3,95.3L413.4,95L410.4,94.7L407.5,93.5L404.6,92.3L401.6,91.4L398.7,90.4L395.8,86.4L392.8,82.3L389.9,83.2L386.9,83.9L384,79.8L381.1,75.7L378.1,76.1L375.2,76.6L372.3,71.3L369.3,68L366.4,66L363.4,66.4L360.5,67L357.6,70.2L354.6,71.9L351.7,73.9L348.8,75.2L345.8,77.5L342.9,84.8L339.9,92L337,92.1L334.1,92.4L331.1,98.7L328.2,106.6z" stroke="none"/><path d="M328.2,96.5L331.1,94.1L334.1,92.4L337,92.1L339.9,92L342.9,84.8L345.8,77.5L348.8,75.2L351.7,73.9L354.6,71.9L357.6,70.2L360.5,67L363.4,63.9L366.4,66L369.3,68L372.3,62.3L375.2,56.7L378.1,63.5L381.1,70.5L384,70.8L386.9,71.1L389.9,72.7L392.8,74.2L395.8,70.5L398.7,66.6L401.6,66.3L404.6,66L407.5,62.1L410.4,58.5L413.4,62.2L416.3,66.1L419.3,64.4L422.2,62.7L425.1,69.9L428.1,76.9L431,71.2L433.9,65.5L436.9,67.5L439.8,69.5L442.7,68.2L445.7,66.9L448.6,69.6L451.6,72.2L454.5,69.4L457.4,66.6L460.4,66.5L463.3,66.5L466.2,61.4L469.2,56.4L472.1,59.2L475.1,61.9L478,59.5L480.9,57L483.9,70.9L486.8,84.8L489.7,75.5L492.7,66.2L495.6,67.8L498.6,69.6L501.5,64.7L504.4,59.8L507.4,67.6L510.3,75.2L513.2,71.6L516.2,68L519.1,64.9L522.1,61.8L525,73.9L527.9,86.1L530.9,75.9L533.8,65.8L533.8,67L530.9,75.8L527.9,84.5L525,73.1L522.1,61.7L519.1,64.9L516.2,68L513.2,70.7L510.3,73.4L507.4,66.4L504.4,59.3L501.5,63.8L498.6,68.3L495.6,66.3L492.7,64.4L489.7,73.2L486.8,82L483.9,67.8L480.9,53.6L478,56.9L475.1,60.2L472.1,56.5L469.2,52.8L466.2,57.8L463.3,62.9L460.4,63L457.4,63.2L454.5,65.1L451.6,67.1L448.6,64.4L445.7,61.6L442.7,63.2L439.8,64.7L436.9,62.8L433.9,60.8L431,65.8L428.1,70.9L425.1,63.9L422.2,56.8L419.3,58.4L416.3,60L413.4,56.5L410.4,53.3L407.5,56.4L404.6,59.8L401.6,59.9L398.7,59.9L395.8,63.6L392.8,67L389.9,65.7L386.9,64.3L384,64.3L381.1,64.2L378.1,57.4L375.2,50.6L372.3,56.4L369.3,62.3L366.4,60.3L363.4,58.3L360.5,60.8L357.6,63.5L354.6,65.5L351.7,67.7L348.8,68.5L345.8,70.5L342.9,78.4L339.9,86.7L337,88.6L334.1,91.1L331.1,94.7L328.2,98.1z" stroke="none"/><path d="M328.2,98.1L331.1,94.7L334.1,91.1L337,88.6L339.9,86.7L342.9,78.4L345.8,70.5L348.8,68.5L351.7,67.7L354.6,65.5L357.6,63.5L360.5,60.8L363.4,58.3L366.4,60.3L369.3,62.3L372.3,56.4L375.2,50.6L378.1,57.4L381.1,64.2L384,64.3L386.9,64.3L389.9,65.7L392.8,67L395.8,63.6L398.7,59.9L401.6,59.9L404.6,59.8L407.5,56.4L410.4,53.3L413.4,56.5L416.3,60L419.3,58.4L422.2,56.8L425.1,63.9L428.1,70.9L431,65.8L433.9,60.8L436.9,62.8L439.8,64.7L442.7,63.2L445.7,61.6L448.6,64.4L451.6,67.1L454.5,65.1L457.4,63.2L460.4,63L463.3,62.9L466.2,57.8L469.2,52.8L472.1,56.5L475.1,60.2L478,56.9L480.9,53.6L483.9,67.8L486.8,82L489.7,73.2L492.7,64.4L495.6,66.3L498.6,68.3L501.5,63.8L504.4,59.3L507.4,66.4L510.3,73.4L513.2,70.7L516.2,68L519.1,64.9L522.1,61.7L525,73.1L527.9,84.5L530.9,75.8L533.8,67L533.8,69.1L530.9,75.9L527.9,82.5L525,72.8L522.1,63L519.1,66.1L516.2,69.3L513.2,70.6L510.3,72L507.4,66.1L504.4,60.1L501.5,63.8L498.6,67.5L495.6,65.3L492.7,63.3L489.7,71.2L486.8,79.1L483.9,64.8L480.9,50.6L478,55L475.1,59.4L472.1,54.5L469.2,49.6L466.2,54.6L463.3,59.6L460.4,60L457.4,60.5L454.5,61.1L451.6,61.8L448.6,59L445.7,56.2L442.7,58.2L439.8,60.2L436.9,58.5L433.9,56.8L431,60.8L428.1,64.7L425.1,58.1L422.2,51.4L419.3,52.8L416.3,54.2L413.4,51.4L410.4,49L407.5,51.3L404.6,53.9L401.6,53.7L398.7,53.6L395.8,56.7L392.8,59.6L389.9,58.7L386.9,57.7L384,58L381.1,58.3L378.1,51.7L375.2,45.2L372.3,51.1L369.3,57.2L366.4,55.4L363.4,53.7L360.5,55.2L357.6,57L354.6,59.2L351.7,61.7L348.8,61.9L345.8,63.4L342.9,71.9L339.9,81.4L337,85.2L334.1,90L331.1,95.3L328.2,99.7z" stroke="none"/><path d="M328.2,99.7L331.1,95.3L334.1,90L337,85.2L339.9,81.4L342.9,71.9L345.8,63.4L348.8,61.9L351.7,61.7L354.6,59.2L357.6,57L360.5,55.2L363.4,53.7L366.4,55.4L369.3,57.2L372.3,51.1L375.2,45.2L378.1,51.7L381.1,58.3L384,58L386.9,57.7L389.9,58.7L392.8,59.6L395.8,56.7L398.7,53.6L401.6,53.7L404.6,53.9L407.5,51.3L410.4,49L413.4,51.4L416.3,54.2L419.3,52.8L422.2,51.4L425.1,58.1L428.1,64.7L431,60.8L433.9,56.8L436.9,58.5L439.8,60.2L442.7,58.2L445.7,56.2L448.6,59L451.6,61.8L454.5,61.1L457.4,60.5L460.4,60L463.3,59.6L466.2,54.6L469.2,49.6L472.1,54.5L475.1,59.4L478,55L480.9,50.6L483.9,64.8L486.8,79.1L489.7,71.2L492.7,63.3L495.6,65.3L498.6,67.5L501.5,63.8L504.4,60.1L507.4,66.1L510.3,72L513.2,70.6L516.2,69.3L519.1,66.1L522.1,63L525,72.8L527.9,82.5L530.9,75.9L533.8,69.1L533.8,71.5L530.9,76.2L527.9,80.8L525,73L522.1,65.1L519.1,68.1L516.2,71L513.2,71.4L510.3,71.7L507.4,66.9L504.4,61.9L501.5,64.4L498.6,66.9L495.6,64.9L492.7,62.9L489.7,69.4L486.8,76L483.9,62.2L480.9,48.4L478,53.6L475.1,58.9L472.1,52.9L469.2,46.8L466.2,51.6L463.3,56.6L460.4,57.4L457.4,58.4L454.5,57.5L451.6,56.6L448.6,53.8L445.7,51L442.7,53.3L439.8,55.6L436.9,54.5L433.9,53.3L431,56L428.1,58.7L425.1,52.7L422.2,46.5L419.3,47.7L416.3,48.9L413.4,47L410.4,45.6L407.5,46.7L404.6,48.1L401.6,47.9L398.7,47.8L395.8,50.1L392.8,52.3L389.9,52L386.9,51.7L384,52.1L381.1,52.6L378.1,46.4L375.2,40.3L372.3,46.2L369.3,52.2L366.4,51L363.4,49.8L360.5,50.1L357.6,50.6L354.6,53.2L351.7,56.1L348.8,55.6L345.8,56.5L342.9,65.6L339.9,76.2L337,81.8L334.1,88.9L331.1,96L328.2,101.3z" stroke="none"/><path d="M328.2,101.3L331.1,96L334.1,88.9L337,81.8L339.9,76.2L342.9,65.6L345.8,56.5L348.8,55.6L351.7,56.1L354.6,53.2L357.6,50.6L360.5,50.1L363.4,49.8L366.4,51L369.3,52.2L372.3,46.2L375.2,40.3L378.1,46.4L381.1,52.6L384,52.1L386.9,51.7L389.9,52L392.8,52.3L395.8,50.1L398.7,47.8L401.6,47.9L404.6,48.1L407.5,46.7L410.4,45.6L413.4,47L416.3,48.9L419.3,47.7L422.2,46.5L425.1,52.7L428.1,58.7L431,56L433.9,53.3L436.9,54.5L439.8,55.6L442.7,53.3L445.7,51L448.6,53.8L451.6,56.6L454.5,57.5L457.4,58.4L460.4,57.4L463.3,56.6L466.2,51.6L469.2,46.8L472.1,52.9L475.1,58.9L478,53.6L480.9,48.4L483.9,62.2L486.8,76L489.7,69.4L492.7,62.9L495.6,64.9L498.6,66.9L501.5,64.4L504.4,61.9L507.4,66.9L510.3,71.7L513.2,71.4L516.2,71L519.1,68.1L522.1,65.1L525,73L527.9,80.8L530.9,76.2L533.8,71.5L533.8,74L530.9,76.9L527.9,79.8L525,73.9L522.1,68L519.1,70.4L516.2,72.7L513.2,72.6L510.3,72.4L507.4,68.6L504.4,64.6L501.5,65.5L498.6,66.4L495.6,64.9L492.7,63.4L489.7,68L486.8,72.8L483.9,59.9L480.9,47.2L478,52.6L475.1,58L472.1,51.3L469.2,44.5L466.2,49L463.3,53.5L460.4,55L457.4,56.6L454.5,54.2L451.6,51.9L448.6,49.1L445.7,46.4L442.7,48.7L439.8,51.1L436.9,50.5L433.9,50L431,51.4L428.1,52.8L425.1,47.6L422.2,42.2L419.3,43.1L416.3,43.9L413.4,43.2L410.4,42.9L407.5,42.5L404.6,42.4L401.6,42.6L398.7,42.8L395.8,44.3L392.8,45.4L389.9,46L386.9,46.4L384,46.8L381.1,47.2L378.1,41.5L375.2,36L372.3,41.5L369.3,47.2L366.4,46.8L363.4,46.6L360.5,45.5L357.6,44.7L354.6,47.5L351.7,50.7L348.8,49.7L345.8,50.3L342.9,59.8L339.9,71.1L337,78.7L334.1,88L331.1,96.6L328.2,102.7z" stroke="none"/><path d="M328.2,102.7L331.1,96.6L334.1,88L337,78.7L339.9,71.1L342.9,59.8L345.8,50.3L348.8,49.7L351.7,50.7L354.6,47.5L357.6,44.7L360.5,45.5L363.4,46.6L366.4,46.8L369.3,47.2L372.3,41.5L375.2,36L378.1,41.5L381.1,47.2L384,46.8L386.9,46.4L389.9,46L392.8,45.4L395.8,44.3L398.7,42.8L401.6,42.6L404.6,42.4L407.5,42.5L410.4,42.9L413.4,43.2L416.3,43.9L419.3,43.1L422.2,42.2L425.1,47.6L428.1,52.8L431,51.4L433.9,50L436.9,50.5L439.8,51.1L442.7,48.7L445.7,46.4L448.6,49.1L451.6,51.9L454.5,54.2L457.4,56.6L460.4,55L463.3,53.5L466.2,49L469.2,44.5L472.1,51.3L475.1,58L478,52.6L480.9,47.2L483.9,59.9L486.8,72.8L489.7,68L492.7,63.4L495.6,64.9L498.6,66.4L501.5,65.5L504.4,64.6L507.4,68.6L510.3,72.4L513.2,72.6L516.2,72.7L519.1,70.4L522.1,68L525,73.9L527.9,79.8L530.9,76.9L533.8,74L533.8,76.5L530.9,78.2L527.9,79.8L525,75.6L522.1,71.4L519.1,72.9L516.2,74.3L513.2,74.2L510.3,74.1L507.4,70.7L504.4,67.1L501.5,66.5L498.6,66L495.6,65.3L492.7,64.7L489.7,67.3L486.8,69.9L483.9,58.5L480.9,47.3L478,51.8L475.1,56.5L472.1,49.7L469.2,42.8L466.2,46.5L463.3,50.4L460.4,52.5L457.4,54.8L454.5,51.4L451.6,48L448.6,45.3L445.7,42.7L442.7,44.6L439.8,46.4L436.9,46.5L433.9,46.6L431,46.9L428.1,47.2L425.1,42.9L422.2,38.4L419.3,39L416.3,39.6L413.4,40L410.4,40.7L407.5,38.7L404.6,37L401.6,37.9L398.7,38.9L395.8,39.2L392.8,39.3L389.9,40.7L386.9,42.1L384,42.1L381.1,42.2L378.1,37.1L375.2,32.2L372.3,37.1L369.3,42L366.4,42.9L363.4,43.8L360.5,41.5L357.6,39.4L354.6,42.4L351.7,45.7L348.8,44.5L345.8,45.1L342.9,54.6L339.9,66.1L337,75.7L334.1,87.3L331.1,97.4L328.2,104.2z" stroke="none"/><path d="M328.2,104.2L331.1,97.4L334.1,87.3L337,75.7L339.9,66.1L342.9,54.6L345.8,45.1L348.8,44.5L351.7,45.7L354.6,42.4L357.6,39.4L360.5,41.5L363.4,43.8L366.4,42.9L369.3,42L372.3,37.1L375.2,32.2L378.1,37.1L381.1,42.2L384,42.1L386.9,42.1L389.9,40.7L392.8,39.3L395.8,39.2L398.7,38.9L401.6,37.9L404.6,37L407.5,38.7L410.4,40.7L413.4,40L416.3,39.6L419.3,39L422.2,38.4L425.1,42.9L428.1,47.2L431,46.9L433.9,46.6L436.9,46.5L439.8,46.4L442.7,44.6L445.7,42.7L448.6,45.3L451.6,48L454.5,51.4L457.4,54.8L460.4,52.5L463.3,50.4L466.2,46.5L469.2,42.8L472.1,49.7L475.1,56.5L478,51.8L480.9,47.3L483.9,58.5L486.8,69.9L489.7,67.3L492.7,64.7L495.6,65.3L498.6,66L501.5,66.5L504.4,67.1L507.4,70.7L510.3,74.1L513.2,74.2L516.2,74.3L519.1,72.9L522.1,71.4L525,75.6L527.9,79.8L530.9,78.2L533.8,76.5L533.8,79.3L530.9,80.2L527.9,80.8L525,77.8L522.1,74.9L519.1,75.5L516.2,76L513.2,76.1L510.3,76.2L507.4,72.8L504.4,69.1L501.5,67.3L498.6,65.4L495.6,66L492.7,66.5L489.7,67.1L486.8,67.7L483.9,58.2L480.9,48.7L478,51.7L475.1,54.8L472.1,48.2L469.2,41.7L466.2,44.4L463.3,47.4L460.4,50.2L457.4,53.1L454.5,49L451.6,45L448.6,42.6L445.7,40.3L442.7,41.1L439.8,41.9L436.9,42.3L433.9,42.7L431,42.3L428.1,41.9L425.1,38.5L422.2,34.9L419.3,35.3L416.3,35.8L413.4,37.2L410.4,39L407.5,35.5L404.6,32.2L401.6,33.9L398.7,35.7L395.8,34.9L392.8,33.9L389.9,36.3L386.9,38.5L384,38.1L381.1,37.6L378.1,33.3L375.2,29.2L372.3,33L369.3,37.1L366.4,39.2L363.4,41.4L360.5,38L357.6,34.8L354.6,37.8L351.7,41.2L348.8,40.2L345.8,41.2L342.9,50L339.9,61.3L337,72.9L334.1,86.8L331.1,98.3L328.2,105.7z" stroke="none"/><path d="M328.2,105.7L331.1,98.3L334.1,86.8L337,72.9L339.9,61.3L342.9,50L345.8,41.2L348.8,40.2L351.7,41.2L354.6,37.8L357.6,34.8L360.5,38L363.4,41.4L366.4,39.2L369.3,37.1L372.3,33L375.2,29.2L378.1,33.3L381.1,37.6L384,38.1L386.9,38.5L389.9,36.3L392.8,33.9L395.8,34.9L398.7,35.7L401.6,33.9L404.6,32.2L407.5,35.5L410.4,39L413.4,37.2L416.3,35.8L419.3,35.3L422.2,34.9L425.1,38.5L428.1,41.9L431,42.3L433.9,42.7L436.9,42.3L439.8,41.9L442.7,41.1L445.7,40.3L448.6,42.6L451.6,45L454.5,49L457.4,53.1L460.4,50.2L463.3,47.4L466.2,44.4L469.2,41.7L472.1,48.2L475.1,54.8L478,51.7L480.9,48.7L483.9,58.2L486.8,67.7L489.7,67.1L492.7,66.5L495.6,66L498.6,65.4L501.5,67.3L504.4,69.1L507.4,72.8L510.3,76.2L513.2,76.1L516.2,76L519.1,75.5L522.1,74.9L525,77.8L527.9,80.8L530.9,80.2L533.8,79.3L533.8,82.5L530.9,82.7L527.9,82.6L525,80.3L522.1,78.1L519.1,78.2L516.2,78.2L513.2,78.2L510.3,78.2L507.4,74.5L504.4,70.5L501.5,67.8L498.6,65.1L495.6,66.8L492.7,68.5L489.7,67.5L486.8,66.5L483.9,58.6L480.9,50.7L478,52L475.1,53.3L472.1,47.3L469.2,41.3L466.2,43L463.3,45L460.4,48.2L457.4,51.6L454.5,47.2L451.6,42.9L448.6,41L445.7,39.2L442.7,38.4L439.8,37.6L436.9,38.1L433.9,38.6L431,37.7L428.1,36.9L425.1,34.3L422.2,31.7L419.3,32.1L416.3,32.7L413.4,35L410.4,37.6L407.5,32.8L404.6,28.1L401.6,30.6L398.7,33L395.8,31.3L392.8,29.4L389.9,32.5L386.9,35.5L384,34.7L381.1,33.8L378.1,30.2L375.2,26.7L372.3,29.6L369.3,32.7L366.4,35.8L363.4,39.1L360.5,35L357.6,31L354.6,34.1L351.7,37.4L348.8,36.8L345.8,38.3L342.9,46L339.9,56.5L337,70.1L334.1,86.1L331.1,98.7L328.2,106.6z" stroke="none"/><path d="M328.2,106.6L331.1,98.7L334.1,86.1L337,70.1L339.9,56.5L342.9,46L345.8,38.3L348.8,36.8L351.7,37.4L354.6,34.1L357.6,31L360.5,35L363.4,39.1L366.4,35.8L369.3,32.7L372.3,29.6L375.2,26.7L378.1,30.2L381.1,33.8L384,34.7L386.9,35.5L389.9,32.5L392.8,29.4L395.8,31.3L398.7,33L401.6,30.6L404.6,28.1L407.5,32.8L410.4,37.6L413.4,35L416.3,32.7L419.3,32.1L422.2,31.7L425.1,34.3L428.1,36.9L431,37.7L433.9,38.6L436.9,38.1L439.8,37.6L442.7,38.4L445.7,39.2L448.6,41L451.6,42.9L454.5,47.2L457.4,51.6L460.4,48.2L463.3,45L466.2,43L469.2,41.3L472.1,47.3L475.1,53.3L478,52L480.9,50.7L483.9,58.6L486.8,66.5L489.7,67.5L492.7,68.5L495.6,66.8L498.6,65.1L501.5,67.8L504.4,70.5L507.4,74.5L510.3,78.2L513.2,78.2L516.2,78.2L519.1,78.2L522.1,78.1L525,80.3L527.9,82.6L530.9,82.7L533.8,82.5L533.8,85.9L530.9,85.5L527.9,84.8L525,82.6L522.1,80.6L519.1,80.9L516.2,81L513.2,80.2L510.3,79.3L507.4,75.5L504.4,71.3L501.5,68.2L498.6,65.1L495.6,67.8L492.7,70.5L489.7,68.5L486.8,66.3L483.9,59.5L480.9,52.6L478,52.4L475.1,52.2L472.1,46.8L469.2,41.4L466.2,42.5L463.3,43.8L460.4,47.3L457.4,50.8L454.5,46.2L451.6,41.8L448.6,40.4L445.7,39.1L442.7,36.5L439.8,34L436.9,34.2L433.9,34.4L431,33.3L428.1,32.2L425.1,30.6L422.2,28.8L419.3,29.5L416.3,30.3L413.4,33.3L410.4,36.7L407.5,30.8L404.6,25.1L401.6,27.9L398.7,30.6L395.8,28.3L392.8,25.8L389.9,29.5L386.9,33.1L384,31.9L381.1,30.6L378.1,27.5L375.2,24.6L372.3,26.8L369.3,29.2L366.4,33L363.4,37L360.5,32.5L357.6,28.2L354.6,31.1L351.7,34.3L348.8,34.2L345.8,36.3L342.9,42.6L339.9,51.9L337,67.1L334.1,85L331.1,98.2L328.2,106.4z" stroke="none"/><path d="M328.2,106.4L331.1,98.2L334.1,85L337,67.1L339.9,51.9L342.9,42.6L345.8,36.3L348.8,34.2L351.7,34.3L354.6,31.1L357.6,28.2L360.5,32.5L363.4,37L366.4,33L369.3,29.2L372.3,26.8L375.2,24.6L378.1,27.5L381.1,30.6L384,31.9L386.9,33.1L389.9,29.5L392.8,25.8L395.8,28.3L398.7,30.6L401.6,27.9L404.6,25.1L407.5,30.8L410.4,36.7L413.4,33.3L416.3,30.3L419.3,29.5L422.2,28.8L425.1,30.6L428.1,32.2L431,33.3L433.9,34.4L436.9,34.2L439.8,34L442.7,36.5L445.7,39.1L448.6,40.4L451.6,41.8L454.5,46.2L457.4,50.8L460.4,47.3L463.3,43.8L466.2,42.5L469.2,41.4L472.1,46.8L475.1,52.2L478,52.4L480.9,52.6L483.9,59.5L486.8,66.3L489.7,68.5L492.7,70.5L495.6,67.8L498.6,65.1L501.5,68.2L504.4,71.3L507.4,75.5L510.3,79.3L513.2,80.2L516.2,81L519.1,80.9L522.1,80.6L525,82.6L527.9,84.8L530.9,85.5L533.8,85.9L533.8,89.2L530.9,88.2L527.9,86.8L525,84.4L522.1,82.3L519.1,83.4L516.2,84.2L513.2,81.8L510.3,79.5L507.4,75.8L504.4,71.9L501.5,68.7L498.6,65.5L495.6,69L492.7,72.6L489.7,69.9L486.8,67.1L483.9,60.6L480.9,54.1L478,52.9L475.1,51.6L472.1,46.8L469.2,41.9L466.2,42.7L463.3,43.7L460.4,47.1L457.4,50.7L454.5,46.2L451.6,41.8L448.6,40.8L445.7,39.9L442.7,35.6L439.8,31.5L436.9,31.1L433.9,30.8L431,29.4L428.1,28.1L425.1,27.4L422.2,26.8L419.3,27.7L416.3,28.8L413.4,32.4L410.4,36.3L407.5,29.7L404.6,23.4L401.6,25.9L398.7,28.5L395.8,26L392.8,23.2L389.9,27.3L386.9,31.2L384,29.7L381.1,28.2L378.1,25.5L375.2,23L372.3,24.9L369.3,26.9L366.4,31L363.4,35.2L360.5,30.7L357.6,26.4L354.6,29.1L351.7,32.1L348.8,32.5L345.8,35.2L342.9,39.8L339.9,47L337,62.6L334.1,80.7L331.1,92.9L328.2,100.7z" stroke="none"/><path d="M328.2,100.7L331.1,92.9L334.1,80.7L337,62.6L339.9,47L342.9,39.8L345.8,35.2L348.8,32.5L351.7,32.1L354.6,29.1L357.6,26.4L360.5,30.7L363.4,35.2L366.4,31L369.3,26.9L372.3,24.9L375.2,23L378.1,25.5L381.1,28.2L384,29.7L386.9,31.2L389.9,27.3L392.8,23.2L395.8,26L398.7,28.5L401.6,25.9L404.6,23.4L407.5,29.7L410.4,36.3L413.4,32.4L416.3,28.8L419.3,27.7L422.2,26.8L425.1,27.4L428.1,28.1L431,29.4L433.9,30.8L436.9,31.1L439.8,31.5L442.7,35.6L445.7,39.9L448.6,40.8L451.6,41.8L454.5,46.2L457.4,50.7L460.4,47.1L463.3,43.7L466.2,42.7L469.2,41.9L472.1,46.8L475.1,51.6L478,52.9L480.9,54.1L483.9,60.6L486.8,67.1L489.7,69.9L492.7,72.6L495.6,69L498.6,65.5L501.5,68.7L504.4,71.9L507.4,75.8L510.3,79.5L513.2,81.8L516.2,84.2L519.1,83.4L522.1,82.3L525,84.4L527.9,86.8L530.9,88.2L533.8,89.2L533.8,92.1L530.9,90.5L527.9,88.6L525,85.7L522.1,83.1L519.1,85.3L516.2,87.2L513.2,83L510.3,78.8L507.4,75.8L504.4,72.4L501.5,69.3L498.6,66.3L495.6,70.4L492.7,74.6L489.7,71.6L486.8,68.4L483.9,61.7L480.9,55.1L478,53.6L475.1,52L472.1,47.6L469.2,43.2L466.2,43.7L463.3,44.5L460.4,47.7L457.4,51L454.5,46.6L451.6,42.4L448.6,41.7L445.7,41.2L442.7,35.8L439.8,30.4L436.9,29.5L433.9,28.7L431,26.8L428.1,25L425.1,25.7L422.2,26.3L419.3,27.4L416.3,28.7L413.4,32.6L410.4,36.9L407.5,30.1L404.6,23.5L401.6,25.3L398.7,27.1L395.8,24.7L392.8,22.2L389.9,26.3L386.9,30.3L384,28.7L381.1,27.1L378.1,24.6L375.2,22.3L372.3,24.3L369.3,26.5L366.4,30.4L363.4,34.4L360.5,30.2L357.6,26.2L354.6,28.6L351.7,31.3L348.8,32.2L345.8,35.4L342.9,38.2L339.9,43.1L337,58L334.1,74.8L331.1,85.1L328.2,91.8z"/><path d="M328.2,91.8L331.1,85.1L334.1,74.8L337,58L339.9,43.1L342.9,38.2L345.8,35.4L348.8,32.2L351.7,31.3L354.6,28.6L357.6,26.2L360.5,30.2L363.4,34.4L366.4,30.4L369.3,26.5L372.3,24.3L375.2,22.3L378.1,24.6L381.1,27.1L384,28.7L386.9,30.3L389.9,26.3L392.8,22.2L395.8,24.7L398.7,27.1L401.6,25.3L404.6,23.5L407.5,30.1L410.4,36.9L413.4,32.6L416.3,28.7L419.3,27.4L422.2,26.3L425.1,25.7L428.1,25L431,26.8L433.9,28.7L436.9,29.5L439.8,30.4L442.7,35.8L445.7,41.2L448.6,41.7L451.6,42.4L454.5,46.6L457.4,51L460.4,47.7L463.3,44.5L466.2,43.7L469.2,43.2L472.1,47.6L475.1,52L478,53.6L480.9,55.1L483.9,61.7L486.8,68.4L489.7,71.6L492.7,74.6L495.6,70.4L498.6,66.3L501.5,69.3L504.4,72.4L507.4,75.8L510.3,78.8L513.2,83L516.2,87.2L519.1,85.3L522.1,83.1L525,85.7L527.9,88.6L530.9,90.5L533.8,92.1L533.8,94.1L530.9,92.2L527.9,89.8L525,86.4L522.1,83.4L519.1,86.7L516.2,89.5L513.2,83.7L510.3,78L507.4,75.7L504.4,73L501.5,70L498.6,67.1L495.6,71.7L492.7,76.4L489.7,73.1L486.8,69.6L483.9,62.7L480.9,55.8L478,54.4L475.1,53L472.1,49.2L469.2,45.3L466.2,45.5L463.3,45.9L460.4,48.8L457.4,51.8L454.5,47.6L451.6,43.5L448.6,42.9L445.7,42.3L442.7,36.4L439.8,30.5L436.9,29.3L433.9,28.1L431,25.4L428.1,22.7L425.1,24.9L422.2,27.1L419.3,28.1L416.3,29.3L413.4,33.4L410.4,37.8L407.5,31.1L404.6,24.6L401.6,25.3L398.7,26L395.8,24.2L392.8,22.1L389.9,25.9L386.9,29.7L384,28.1L381.1,26.5L378.1,24.1L375.2,21.9L372.3,24.4L369.3,27.1L366.4,30.7L363.4,34.3L360.5,30.5L357.6,26.9L354.6,28.9L351.7,31.3L348.8,32.8L345.8,36.5L342.9,37.9L339.9,41L337,54.8L334.1,70.1L331.1,78.4L328.2,84z"/><path d="M328.2,84L331.1,78.4L334.1,70.1L337,54.8L339.9,41L342.9,37.9L345.8,36.5L348.8,32.8L351.7,31.3L354.6,28.9L357.6,26.9L360.5,30.5L363.4,34.3L366.4,30.7L369.3,27.1L372.3,24.4L375.2,21.9L378.1,24.1L381.1,26.5L384,28.1L386.9,29.7L389.9,25.9L392.8,22.1L395.8,24.2L398.7,26L401.6,25.3L404.6,24.6L407.5,31.1L410.4,37.8L413.4,33.4L416.3,29.3L419.3,28.1L422.2,27.1L425.1,24.9L428.1,22.7L431,25.4L433.9,28.1L436.9,29.3L439.8,30.5L442.7,36.4L445.7,42.3L448.6,42.9L451.6,43.5L454.5,47.6L457.4,51.8L460.4,48.8L463.3,45.9L466.2,45.5L469.2,45.3L472.1,49.2L475.1,53L478,54.4L480.9,55.8L483.9,62.7L486.8,69.6L489.7,73.1L492.7,76.4L495.6,71.7L498.6,67.1L501.5,70L504.4,73L507.4,75.7L510.3,78L513.2,83.7L516.2,89.5L519.1,86.7L522.1,83.4L525,86.4L527.9,89.8L530.9,92.2L533.8,94.1L533.8,95.3L530.9,93.2L527.9,90.5L525,86.7L522.1,83.4L519.1,87.3L516.2,90.7L513.2,84.1L510.3,77.6L507.4,75.7L504.4,73.3L501.5,70.5L498.6,67.9L495.6,72.9L492.7,78L489.7,74.5L486.8,70.7L483.9,63.5L480.9,56.3L478,55.5L475.1,54.7L472.1,51.5L469.2,48.1L466.2,47.9L463.3,47.8L460.4,50.2L457.4,52.7L454.5,48.9L451.6,45.2L448.6,44.2L445.7,43.3L442.7,37.2L439.8,31.2L436.9,30.1L433.9,29.1L431,25.2L428.1,21.4L425.1,25.1L422.2,28.9L419.3,29.6L416.3,30.5L413.4,34.4L410.4,38.7L407.5,32.5L404.6,26.6L401.6,26.1L398.7,25.6L395.8,24.3L392.8,22.8L389.9,26.1L386.9,29.3L384,27.9L381.1,26.5L378.1,24.1L375.2,21.8L372.3,25L369.3,28.4L366.4,31.6L363.4,34.8L360.5,31.3L357.6,27.9L354.6,29.9L351.7,32.1L348.8,34.2L345.8,38.2L342.9,38.5L339.9,39.9L337,52L334.1,65L331.1,71.1L328.2,75.6z"/><path d="M328.2,75.6L331.1,71.1L334.1,65L337,52L339.9,39.9L342.9,38.5L345.8,38.2L348.8,34.2L351.7,32.1L354.6,29.9L357.6,27.9L360.5,31.3L363.4,34.8L366.4,31.6L369.3,28.4L372.3,25L375.2,21.8L378.1,24.1L381.1,26.5L384,27.9L386.9,29.3L389.9,26.1L392.8,22.8L395.8,24.3L398.7,25.6L401.6,26.1L404.6,26.6L407.5,32.5L410.4,38.7L413.4,34.4L416.3,30.5L419.3,29.6L422.2,28.9L425.1,25.1L428.1,21.4L431,25.2L433.9,29.1L436.9,30.1L439.8,31.2L442.7,37.2L445.7,43.3L448.6,44.2L451.6,45.2L454.5,48.9L457.4,52.7L460.4,50.2L463.3,47.8L466.2,47.9L469.2,48.1L472.1,51.5L475.1,54.7L478,55.5L480.9,56.3L483.9,63.5L486.8,70.7L489.7,74.5L492.7,78L495.6,72.9L498.6,67.9L501.5,70.5L504.4,73.3L507.4,75.7L510.3,77.6L513.2,84.1L516.2,90.7L519.1,87.3L522.1,83.4L525,86.7L527.9,90.5L530.9,93.2L533.8,95.3L533.8,95.7L530.9,93.7L527.9,91L525,87L522.1,83.6L519.1,87.5L516.2,90.8L513.2,84.5L510.3,78.4L507.4,76L504.4,73L501.5,70.7L498.6,68.6L495.6,73.8L492.7,79.2L489.7,75.5L486.8,71.5L483.9,64.2L480.9,57L478,56.8L475.1,56.6L472.1,53.9L469.2,51.1L466.2,50.4L463.3,49.8L460.4,51.7L457.4,53.7L454.5,50.5L451.6,47.4L448.6,45.8L445.7,44.2L442.7,38.3L439.8,32.3L436.9,32L433.9,31.8L431,26.3L428.1,20.9L425.1,26.1L422.2,31.3L419.3,31.6L416.3,32L413.4,35.6L410.4,39.4L407.5,34.2L404.6,29.1L401.6,27.5L398.7,25.9L395.8,25.2L392.8,24.4L389.9,26.9L386.9,29.4L384,28.1L381.1,26.9L378.1,24.4L375.2,22.1L372.3,26L369.3,30.1L366.4,33L363.4,36L360.5,32.5L357.6,29.1L354.6,31.2L351.7,33.6L348.8,36.1L345.8,40.5L342.9,40.2L339.9,40.4L337,50.7L334.1,61.4L331.1,66L328.2,69.8z"/><path d="M328.2,69.8L331.1,66L334.1,61.4L337,50.7L339.9,40.4L342.9,40.2L345.8,40.5L348.8,36.1L351.7,33.6L354.6,31.2L357.6,29.1L360.5,32.5L363.4,36L366.4,33L369.3,30.1L372.3,26L375.2,22.1L378.1,24.4L381.1,26.9L384,28.1L386.9,29.4L389.9,26.9L392.8,24.4L395.8,25.2L398.7,25.9L401.6,27.5L404.6,29.1L407.5,34.2L410.4,39.4L413.4,35.6L416.3,32L419.3,31.6L422.2,31.3L425.1,26.1L428.1,20.9L431,26.3L433.9,31.8L436.9,32L439.8,32.3L442.7,38.3L445.7,44.2L448.6,45.8L451.6,47.4L454.5,50.5L457.4,53.7L460.4,51.7L463.3,49.8L466.2,50.4L469.2,51.1L472.1,53.9L475.1,56.6L478,56.8L480.9,57L483.9,64.2L486.8,71.5L489.7,75.5L492.7,79.2L495.6,73.8L498.6,68.6L501.5,70.7L504.4,73L507.4,76L510.3,78.4L513.2,84.5L516.2,90.8L519.1,87.5L522.1,83.6L525,87L527.9,91L530.9,93.7L533.8,95.7L533.8,95.5L530.9,93.8L527.9,91.4L525,87.5L522.1,84.3L519.1,87.4L516.2,89.8L513.2,85L510.3,80.5L507.4,76.6L504.4,72L501.5,70.6L498.6,69.4L495.6,74.6L492.7,80L489.7,76.4L486.8,72.5L483.9,65.3L480.9,58.3L478,58.3L475.1,58.3L472.1,56.1L469.2,53.7L466.2,52.8L463.3,51.9L460.4,53.3L457.4,54.7L454.5,52.3L451.6,50.1L448.6,47.6L445.7,45.2L442.7,39.4L439.8,33.6L436.9,34.6L433.9,35.7L431,28.5L428.1,21.4L425.1,27.5L422.2,33.6L419.3,33.7L416.3,33.9L413.4,36.8L410.4,40.1L407.5,35.8L404.6,31.9L401.6,29.5L398.7,27.1L395.8,26.9L392.8,26.5L389.9,28.3L386.9,30L384,28.9L381.1,27.8L378.1,25.2L375.2,22.7L372.3,27.2L369.3,31.9L366.4,34.8L363.4,37.9L360.5,33.9L357.6,30.2L354.6,32.8L351.7,35.7L348.8,38.5L345.8,43.2L342.9,42.9L339.9,43.2L337,52.5L334.1,62.1L331.1,67.2L328.2,71.2z"/><path d="M328.2,71.2L331.1,67.2L334.1,62.1L337,52.5L339.9,43.2L342.9,42.9L345.8,43.2L348.8,38.5L351.7,35.7L354.6,32.8L357.6,30.2L360.5,33.9L363.4,37.9L366.4,34.8L369.3,31.9L372.3,27.2L375.2,22.7L378.1,25.2L381.1,27.8L384,28.9L386.9,30L389.9,28.3L392.8,26.5L395.8,26.9L398.7,27.1L401.6,29.5L404.6,31.9L407.5,35.8L410.4,40.1L413.4,36.8L416.3,33.9L419.3,33.7L422.2,33.6L425.1,27.5L428.1,21.4L431,28.5L433.9,35.7L436.9,34.6L439.8,33.6L442.7,39.4L445.7,45.2L448.6,47.6L451.6,50.1L454.5,52.3L457.4,54.7L460.4,53.3L463.3,51.9L466.2,52.8L469.2,53.7L472.1,56.1L475.1,58.3L478,58.3L480.9,58.3L483.9,65.3L486.8,72.5L489.7,76.4L492.7,80L495.6,74.6L498.6,69.4L501.5,70.6L504.4,72L507.4,76.6L510.3,80.5L513.2,85L516.2,89.8L519.1,87.4L522.1,84.3L525,87.5L527.9,91.4L530.9,93.8L533.8,95.5L533.8,94.8L530.9,93.8L527.9,91.9L525,88.3L522.1,85.5L519.1,87.3L516.2,88.3L513.2,85.9L510.3,83.8L507.4,77.5L504.4,70.3L501.5,70.3L498.6,70.5L495.6,75.4L492.7,80.5L489.7,77.4L486.8,73.8L483.9,66.9L480.9,60.3L478,59.9L475.1,59.5L472.1,57.5L469.2,55.3L466.2,54.8L463.3,54.3L460.4,54.9L457.4,55.6L454.5,54.3L451.6,53.1L448.6,49.7L445.7,46.4L442.7,40.6L439.8,34.9L436.9,37.5L433.9,40.2L431,31.4L428.1,22.7L425.1,29L422.2,35.1L419.3,35.5L416.3,36L413.4,38.2L410.4,40.7L407.5,37.4L404.6,34.5L401.6,31.7L398.7,29L395.8,29.2L392.8,29.1L389.9,30.3L386.9,31.4L384,30.3L381.1,29.2L378.1,26.3L375.2,23.6L372.3,28.4L369.3,33.4L366.4,36.7L363.4,40.2L360.5,35.5L357.6,31L354.6,34.4L351.7,38.1L348.8,41.1L345.8,45.9L342.9,46.1L339.9,47.5L337,56.3L334.1,65.6L331.1,72.3L328.2,77.2z"/><path d="M328.2,77.2L331.1,72.3L334.1,65.6L337,56.3L339.9,47.5L342.9,46.1L345.8,45.9L348.8,41.1L351.7,38.1L354.6,34.4L357.6,31L360.5,35.5L363.4,40.2L366.4,36.7L369.3,33.4L372.3,28.4L375.2,23.6L378.1,26.3L381.1,29.2L384,30.3L386.9,31.4L389.9,30.3L392.8,29.1L395.8,29.2L398.7,29L401.6,31.7L404.6,34.5L407.5,37.4L410.4,40.7L413.4,38.2L416.3,36L419.3,35.5L422.2,35.1L425.1,29L428.1,22.7L431,31.4L433.9,40.2L436.9,37.5L439.8,34.9L442.7,40.6L445.7,46.4L448.6,49.7L451.6,53.1L454.5,54.3L457.4,55.6L460.4,54.9L463.3,54.3L466.2,54.8L469.2,55.3L472.1,57.5L475.1,59.5L478,59.9L480.9,60.3L483.9,66.9L486.8,73.8L489.7,77.4L492.7,80.5L495.6,75.4L498.6,70.5L501.5,70.3L504.4,70.3L507.4,77.5L510.3,83.8L513.2,85.9L516.2,88.3L519.1,87.3L522.1,85.5L525,88.3L527.9,91.9L530.9,93.8L533.8,94.8L533.8,93.8L530.9,93.7L527.9,92.6L525,89.4L522.1,87.1L519.1,87.3L516.2,86.6L513.2,87.1L510.3,88.1L507.4,78.7L504.4,68.5L501.5,70.2L498.6,72.2L495.6,76.4L492.7,80.9L489.7,78.5L486.8,75.5L483.9,69.2L480.9,63L478,61.5L475.1,60.1L472.1,58L469.2,55.9L466.2,56.4L463.3,56.9L460.4,56.8L457.4,56.8L454.5,56.5L451.6,56.3L448.6,52L445.7,47.7L442.7,42L439.8,36.3L436.9,40.5L433.9,44.7L431,34.6L428.1,24.6L425.1,30.1L422.2,35.6L419.3,36.9L416.3,38.3L413.4,39.6L410.4,41.3L407.5,38.8L404.6,36.6L401.6,33.9L398.7,31.2L395.8,31.6L392.8,31.7L389.9,32.7L386.9,33.5L384,32.2L381.1,31L378.1,27.9L375.2,24.8L372.3,29.6L369.3,34.5L366.4,38.5L363.4,42.7L360.5,37.1L357.6,31.7L354.6,35.9L351.7,40.5L348.8,43.4L345.8,48.1L342.9,49.2L339.9,51.6L337,59.6L334.1,68L331.1,76.3L328.2,82.1z"/><path d="M328.2,82.1L331.1,76.3L334.1,68L337,59.6L339.9,51.6L342.9,49.2L345.8,48.1L348.8,43.4L351.7,40.5L354.6,35.9L357.6,31.7L360.5,37.1L363.4,42.7L366.4,38.5L369.3,34.5L372.3,29.6L375.2,24.8L378.1,27.9L381.1,31L384,32.2L386.9,33.5L389.9,32.7L392.8,31.7L395.8,31.6L398.7,31.2L401.6,33.9L404.6,36.6L407.5,38.8L410.4,41.3L413.4,39.6L416.3,38.3L419.3,36.9L422.2,35.6L425.1,30.1L428.1,24.6L431,34.6L433.9,44.7L436.9,40.5L439.8,36.3L442.7,42L445.7,47.7L448.6,52L451.6,56.3L454.5,56.5L457.4,56.8L460.4,56.8L463.3,56.9L466.2,56.4L469.2,55.9L472.1,58L475.1,60.1L478,61.5L480.9,63L483.9,69.2L486.8,75.5L489.7,78.5L492.7,80.9L495.6,76.4L498.6,72.2L501.5,70.2L504.4,68.5L507.4,78.7L510.3,88.1L513.2,87.1L516.2,86.6L519.1,87.3L522.1,87.1L525,89.4L527.9,92.6L530.9,93.7L533.8,93.8L533.8,92.8L530.9,93.7L527.9,93.5L525,90.7L522.1,88.9L519.1,87.7L516.2,85.3L513.2,88.8L510.3,92.7L507.4,80.5L504.4,67.3L501.5,70.9L498.6,74.8L495.6,77.9L492.7,81.3L489.7,79.8L486.8,77.6L483.9,71.8L480.9,66.1L478,63.1L475.1,60L472.1,58L469.2,55.9L466.2,57.7L463.3,59.7L460.4,59L457.4,58.3L454.5,58.9L451.6,59.5L448.6,54.3L445.7,49.2L442.7,43.5L439.8,37.8L436.9,43.2L433.9,48.8L431,37.7L428.1,26.8L425.1,30.9L422.2,35L419.3,37.7L416.3,40.5L413.4,41L410.4,41.9L407.5,39.9L404.6,38.2L401.6,35.8L398.7,33.3L395.8,33.9L392.8,34.2L389.9,35.2L386.9,36.1L384,34.6L381.1,33L378.1,29.7L375.2,26.5L372.3,30.8L369.3,35.2L366.4,40L363.4,44.9L360.5,38.6L357.6,32.4L354.6,37.3L351.7,42.4L348.8,45.2L345.8,49.6L342.9,51.4L339.9,54.3L337,60.2L334.1,66.3L331.1,74.7L328.2,80.9z"/><path d="M328.2,80.9L331.1,74.7L334.1,66.3L337,60.2L339.9,54.3L342.9,51.4L345.8,49.6L348.8,45.2L351.7,42.4L354.6,37.3L357.6,32.4L360.5,38.6L363.4,44.9L366.4,40L369.3,35.2L372.3,30.8L375.2,26.5L378.1,29.7L381.1,33L384,34.6L386.9,36.1L389.9,35.2L392.8,34.2L395.8,33.9L398.7,33.3L401.6,35.8L404.6,38.2L407.5,39.9L410.4,41.9L413.4,41L416.3,40.5L419.3,37.7L422.2,35L425.1,30.9L428.1,26.8L431,37.7L433.9,48.8L436.9,43.2L439.8,37.8L442.7,43.5L445.7,49.2L448.6,54.3L451.6,59.5L454.5,58.9L457.4,58.3L460.4,59L463.3,59.7L466.2,57.7L469.2,55.9L472.1,58L475.1,60L478,63.1L480.9,66.1L483.9,71.8L486.8,77.6L489.7,79.8L492.7,81.3L495.6,77.9L498.6,74.8L501.5,70.9L504.4,67.3L507.4,80.5L510.3,92.7L513.2,88.8L516.2,85.3L519.1,87.7L522.1,88.9L525,90.7L527.9,93.5L530.9,93.7L533.8,92.8L533.8,91.9L530.9,93.9L527.9,94.6L525,92.1L522.1,90.8L519.1,88.5L516.2,84.9L513.2,90.8L510.3,97.2L507.4,82.9L504.4,67.3L501.5,72.6L498.6,78.2L495.6,79.8L492.7,81.8L489.7,81.2L486.8,79.7L483.9,74.4L480.9,69.3L478,64.6L475.1,59.9L472.1,57.8L469.2,55.7L466.2,59L463.3,62.4L460.4,61.2L457.4,60.1L454.5,61.3L451.6,62.7L448.6,56.7L445.7,50.9L442.7,45.2L439.8,39.5L436.9,45.7L433.9,52.1L431,40.5L428.1,29.1L425.1,31.5L422.2,33.8L419.3,38.1L416.3,42.4L413.4,42.2L410.4,42.3L407.5,40.6L404.6,39.1L401.6,37.1L398.7,35L395.8,35.8L392.8,36.3L389.9,37.6L386.9,38.8L384,37L381.1,35.1L378.1,31.8L375.2,28.5L372.3,32L369.3,35.6L366.4,41.1L363.4,46.7L360.5,39.9L357.6,33.4L354.6,38.4L351.7,43.6L348.8,46.3L345.8,50.5L342.9,52.6L339.9,55.7L337,59.3L334.1,62.9L331.1,70.6L328.2,76.7z"/><path d="M328.2,76.7L331.1,70.6L334.1,62.9L337,59.3L339.9,55.7L342.9,52.6L345.8,50.5L348.8,46.3L351.7,43.6L354.6,38.4L357.6,33.4L360.5,39.9L363.4,46.7L366.4,41.1L369.3,35.6L372.3,32L375.2,28.5L378.1,31.8L381.1,35.1L384,37L386.9,38.8L389.9,37.6L392.8,36.3L395.8,35.8L398.7,35L401.6,37.1L404.6,39.1L407.5,40.6L410.4,42.3L413.4,42.2L416.3,42.4L419.3,38.1L422.2,33.8L425.1,31.5L428.1,29.1L431,40.5L433.9,52.1L436.9,45.7L439.8,39.5L442.7,45.2L445.7,50.9L448.6,56.7L451.6,62.7L454.5,61.3L457.4,60.1L460.4,61.2L463.3,62.4L466.2,59L469.2,55.7L472.1,57.8L475.1,59.9L478,64.6L480.9,69.3L483.9,74.4L486.8,79.7L489.7,81.2L492.7,81.8L495.6,79.8L498.6,78.2L501.5,72.6L504.4,67.3L507.4,82.9L510.3,97.2L513.2,90.8L516.2,84.9L519.1,88.5L522.1,90.8L525,92.1L527.9,94.6L530.9,93.9L533.8,91.9L533.8,91.5L530.9,94.3L527.9,95.5L525,93.4L522.1,92.9L519.1,89.9L516.2,85.7L513.2,93.1L510.3,101.1L507.4,85.6L504.4,68.8L501.5,75.3L498.6,82.2L495.6,82.1L492.7,82.4L489.7,82.3L486.8,81.4L483.9,76.7L480.9,72.3L478,66.2L475.1,60.2L472.1,58L469.2,55.7L466.2,60.3L463.3,64.8L460.4,63.4L457.4,62.1L454.5,63.7L451.6,65.5L448.6,58.9L445.7,52.4L442.7,46.9L439.8,41.4L436.9,48L433.9,54.6L431,43L428.1,31.5L425.1,32.1L422.2,32.7L419.3,38.3L416.3,44L413.4,43L410.4,42.4L407.5,40.7L404.6,39.3L401.6,37.8L398.7,36.3L395.8,37.3L392.8,38L389.9,39.8L386.9,41.4L384,39.2L381.1,37.1L378.1,33.9L375.2,30.9L372.3,33.3L369.3,35.9L366.4,41.8L363.4,47.8L360.5,41.2L357.6,34.7L354.6,39.2L351.7,44L348.8,46.7L345.8,50.8L342.9,53.3L339.9,56.5L337,58.8L334.1,60.9L331.1,68.1L328.2,74z"/><path d="M328.2,74L331.1,68.1L334.1,60.9L337,58.8L339.9,56.5L342.9,53.3L345.8,50.8L348.8,46.7L351.7,44L354.6,39.2L357.6,34.7L360.5,41.2L363.4,47.8L366.4,41.8L369.3,35.9L372.3,33.3L375.2,30.9L378.1,33.9L381.1,37.1L384,39.2L386.9,41.4L389.9,39.8L392.8,38L395.8,37.3L398.7,36.3L401.6,37.8L404.6,39.3L407.5,40.7L410.4,42.4L413.4,43L416.3,44L419.3,38.3L422.2,32.7L425.1,32.1L428.1,31.5L431,43L433.9,54.6L436.9,48L439.8,41.4L442.7,46.9L445.7,52.4L448.6,58.9L451.6,65.5L454.5,63.7L457.4,62.1L460.4,63.4L463.3,64.8L466.2,60.3L469.2,55.7L472.1,58L475.1,60.2L478,66.2L480.9,72.3L483.9,76.7L486.8,81.4L489.7,82.3L492.7,82.4L495.6,82.1L498.6,82.2L501.5,75.3L504.4,68.8L507.4,85.6L510.3,101.1L513.2,93.1L516.2,85.7L519.1,89.9L522.1,92.9L525,93.4L527.9,95.5L530.9,94.3L533.8,91.5L533.8,91.9L530.9,94.8L527.9,96.2L525,94.8L522.1,95.1L519.1,92.2L516.2,87.8L513.2,95.5L510.3,103.9L507.4,88.4L504.4,71.5L501.5,78.8L498.6,86.5L495.6,84.6L492.7,83.1L489.7,83.3L486.8,82.5L483.9,78.6L480.9,75.1L478,68.2L475.1,61.5L472.1,58.9L469.2,56.3L466.2,61.5L463.3,66.8L460.4,65.4L457.4,63.9L454.5,65.6L451.6,67.4L448.6,60.5L445.7,53.8L442.7,48.6L439.8,43.3L436.9,50L433.9,56.8L431,45.3L428.1,34L425.1,33.1L422.2,32.2L419.3,38.5L416.3,44.9L413.4,43.4L410.4,42.2L407.5,40.4L404.6,38.8L401.6,38L398.7,37.2L395.8,38.4L392.8,39.4L389.9,41.5L386.9,43.4L384,41.1L381.1,38.8L378.1,35.9L375.2,33.2L372.3,34.6L369.3,36.3L366.4,42.2L363.4,48.3L360.5,42.3L357.6,36.4L354.6,40L351.7,43.8L348.8,46.5L345.8,50.4L342.9,53.1L339.9,56.3L337,58.2L334.1,59.6L331.1,66.1L328.2,71.6z"/><path d="M328.2,71.6L331.1,66.1L334.1,59.6L337,58.2L339.9,56.3L342.9,53.1L345.8,50.4L348.8,46.5L351.7,43.8L354.6,40L357.6,36.4L360.5,42.3L363.4,48.3L366.4,42.2L369.3,36.3L372.3,34.6L375.2,33.2L378.1,35.9L381.1,38.8L384,41.1L386.9,43.4L389.9,41.5L392.8,39.4L395.8,38.4L398.7,37.2L401.6,38L404.6,38.8L407.5,40.4L410.4,42.2L413.4,43.4L416.3,44.9L419.3,38.5L422.2,32.2L425.1,33.1L428.1,34L431,45.3L433.9,56.8L436.9,50L439.8,43.3L442.7,48.6L445.7,53.8L448.6,60.5L451.6,67.4L454.5,65.6L457.4,63.9L460.4,65.4L463.3,66.8L466.2,61.5L469.2,56.3L472.1,58.9L475.1,61.5L478,68.2L480.9,75.1L483.9,78.6L486.8,82.5L489.7,83.3L492.7,83.1L495.6,84.6L498.6,86.5L501.5,78.8L504.4,71.5L507.4,88.4L510.3,103.9L513.2,95.5L516.2,87.8L519.1,92.2L522.1,95.1L525,94.8L527.9,96.2L530.9,94.8L533.8,91.9L533.8,93.3L530.9,95.8L527.9,96.5L525,96.2L522.1,97.6L519.1,95.1L516.2,91.1L513.2,98L510.3,105.7L507.4,91.2L504.4,75.1L501.5,82.4L498.6,90.3L495.6,86.9L492.7,84.1L489.7,84.1L486.8,83.1L483.9,80.2L480.9,77.8L478,70.9L475.1,64.2L472.1,60.8L469.2,57.4L466.2,62.8L463.3,68.2L460.4,66.8L457.4,65.4L454.5,66.7L451.6,68.2L448.6,61.5L445.7,54.8L442.7,50.1L439.8,45.3L436.9,52L433.9,58.7L431,47.5L428.1,36.5L425.1,34.6L422.2,32.8L419.3,38.9L416.3,45.3L413.4,43.3L410.4,41.7L407.5,39.7L404.6,37.9L401.6,38L398.7,38.1L395.8,39.5L392.8,40.6L389.9,42.8L386.9,44.9L384,42.6L381.1,40.3L378.1,37.7L375.2,35.2L372.3,35.9L369.3,36.8L366.4,42.5L363.4,48.3L360.5,43.3L357.6,38.5L354.6,40.8L351.7,43.3L348.8,45.7L345.8,49.1L342.9,52.1L339.9,55.7L337,57.8L334.1,59.5L331.1,65.3L328.2,70.4z"/><path d="M328.2,70.4L331.1,65.3L334.1,59.5L337,57.8L339.9,55.7L342.9,52.1L345.8,49.1L348.8,45.7L351.7,43.3L354.6,40.8L357.6,38.5L360.5,43.3L363.4,48.3L366.4,42.5L369.3,36.8L372.3,35.9L375.2,35.2L378.1,37.7L381.1,40.3L384,42.6L386.9,44.9L389.9,42.8L392.8,40.6L395.8,39.5L398.7,38.1L401.6,38L404.6,37.9L407.5,39.7L410.4,41.7L413.4,43.3L416.3,45.3L419.3,38.9L422.2,32.8L425.1,34.6L428.1,36.5L431,47.5L433.9,58.7L436.9,52L439.8,45.3L442.7,50.1L445.7,54.8L448.6,61.5L451.6,68.2L454.5,66.7L457.4,65.4L460.4,66.8L463.3,68.2L466.2,62.8L469.2,57.4L472.1,60.8L475.1,64.2L478,70.9L480.9,77.8L483.9,80.2L486.8,83.1L489.7,84.1L492.7,84.1L495.6,86.9L498.6,90.3L501.5,82.4L504.4,75.1L507.4,91.2L510.3,105.7L513.2,98L516.2,91.1L519.1,95.1L522.1,97.6L525,96.2L527.9,96.5L530.9,95.8L533.8,93.3L533.8,95.7L530.9,97.2L527.9,96.8L525,97.6L522.1,100.3L519.1,98.6L516.2,95.1L513.2,100.4L510.3,106.6L507.4,93.7L504.4,79L501.5,85.9L498.6,93.3L495.6,89.1L492.7,85.4L489.7,85.1L486.8,83.6L483.9,81.8L480.9,80.7L478,74.3L475.1,68.1L472.1,63.7L469.2,59.2L466.2,64.3L463.3,69.3L460.4,67.9L457.4,66.4L454.5,67.1L451.6,68L448.6,61.7L445.7,55.6L442.7,51.5L439.8,47.2L436.9,53.9L433.9,60.8L431,49.7L428.1,38.8L425.1,36.5L422.2,34.2L419.3,39.6L416.3,45.1L413.4,43L410.4,41.3L407.5,39L404.6,36.8L401.6,37.9L398.7,38.9L395.8,40.5L392.8,41.8L389.9,43.8L386.9,45.8L384,43.7L381.1,41.6L378.1,39.1L375.2,36.8L372.3,37.2L369.3,37.7L366.4,42.7L363.4,47.9L360.5,44.2L357.6,40.7L354.6,41.6L351.7,42.9L348.8,44.6L345.8,47.3L342.9,50.8L339.9,54.8L337,58L334.1,60.7L331.1,65.9L328.2,70.4z"/><path d="M328.2,70.4L331.1,65.9L334.1,60.7L337,58L339.9,54.8L342.9,50.8L345.8,47.3L348.8,44.6L351.7,42.9L354.6,41.6L357.6,40.7L360.5,44.2L363.4,47.9L366.4,42.7L369.3,37.7L372.3,37.2L375.2,36.8L378.1,39.1L381.1,41.6L384,43.7L386.9,45.8L389.9,43.8L392.8,41.8L395.8,40.5L398.7,38.9L401.6,37.9L404.6,36.8L407.5,39L410.4,41.3L413.4,43L416.3,45.1L419.3,39.6L422.2,34.2L425.1,36.5L428.1,38.8L431,49.7L433.9,60.8L436.9,53.9L439.8,47.2L442.7,51.5L445.7,55.6L448.6,61.7L451.6,68L454.5,67.1L457.4,66.4L460.4,67.9L463.3,69.3L466.2,64.3L469.2,59.2L472.1,63.7L475.1,68.1L478,74.3L480.9,80.7L483.9,81.8L486.8,83.6L489.7,85.1L492.7,85.4L495.6,89.1L498.6,93.3L501.5,85.9L504.4,79L507.4,93.7L510.3,106.6L513.2,100.4L516.2,95.1L519.1,98.6L522.1,100.3L525,97.6L527.9,96.8L530.9,97.2L533.8,95.7L533.8,99L530.9,99.2L527.9,97.2L525,99.1L522.1,103.2L519.1,102.2L516.2,99.3L513.2,102.7L510.3,107.1L507.4,96.1L504.4,83.1L501.5,88.9L498.6,95.4L495.6,91L492.7,87.4L489.7,86.5L486.8,84.3L483.9,83.7L480.9,83.8L478,78.2L475.1,72.8L472.1,67.4L469.2,61.9L466.2,66.2L463.3,70.4L460.4,68.8L457.4,67.1L454.5,67L451.6,67.1L448.6,61.7L445.7,56.5L442.7,52.9L439.8,49.1L436.9,56L433.9,62.9L431,51.8L428.1,40.9L425.1,38.6L422.2,36.3L419.3,40.4L416.3,44.6L413.4,42.7L410.4,41.2L407.5,38.4L404.6,35.9L401.6,37.8L398.7,39.8L395.8,41.4L392.8,42.9L389.9,44.6L386.9,46.3L384,44.6L381.1,42.9L378.1,40.4L375.2,38.1L372.3,38.4L369.3,38.9L366.4,43L363.4,47.3L360.5,44.9L357.6,42.6L354.6,42.6L351.7,42.9L348.8,43.5L345.8,45.1L342.9,49.3L339.9,54L337,58.5L334.1,62.5L331.1,67.1L328.2,70.9z"/><path d="M328.2,70.9L331.1,67.1L334.1,62.5L337,58.5L339.9,54L342.9,49.3L345.8,45.1L348.8,43.5L351.7,42.9L354.6,42.6L357.6,42.6L360.5,44.9L363.4,47.3L366.4,43L369.3,38.9L372.3,38.4L375.2,38.1L378.1,40.4L381.1,42.9L384,44.6L386.9,46.3L389.9,44.6L392.8,42.9L395.8,41.4L398.7,39.8L401.6,37.8L404.6,35.9L407.5,38.4L410.4,41.2L413.4,42.7L416.3,44.6L419.3,40.4L422.2,36.3L425.1,38.6L428.1,40.9L431,51.8L433.9,62.9L436.9,56L439.8,49.1L442.7,52.9L445.7,56.5L448.6,61.7L451.6,67.1L454.5,67L457.4,67.1L460.4,68.8L463.3,70.4L466.2,66.2L469.2,61.9L472.1,67.4L475.1,72.8L478,78.2L480.9,83.8L483.9,83.7L486.8,84.3L489.7,86.5L492.7,87.4L495.6,91L498.6,95.4L501.5,88.9L504.4,83.1L507.4,96.1L510.3,107.1L513.2,102.7L516.2,99.3L519.1,102.2L522.1,103.2L525,99.1L527.9,97.2L530.9,99.2L533.8,99L533.8,102.8L530.9,101.6L527.9,98.1L525,100.8L522.1,105.9L519.1,105.5L516.2,103L513.2,104.8L510.3,107.6L507.4,98.5L504.4,87.3L501.5,91.5L498.6,96.5L495.6,93L492.7,90.2L489.7,88.7L486.8,85.6L483.9,85.9L480.9,86.9L478,82.2L475.1,77.7L472.1,71.7L469.2,65.6L466.2,68.8L463.3,71.9L460.4,69.8L457.4,67.5L454.5,66.8L451.6,66.2L448.6,61.9L445.7,57.8L442.7,54.4L439.8,50.9L436.9,57.9L433.9,65L431,53.6L428.1,42.4L425.1,40.4L422.2,38.6L419.3,41.2L416.3,44L413.4,42.6L410.4,41.6L407.5,38.3L404.6,35.3L401.6,37.9L398.7,40.5L395.8,42.2L392.8,43.7L389.9,45.1L386.9,46.4L384,45.4L381.1,44.4L378.1,41.8L375.2,39.3L372.3,39.7L369.3,40.2L366.4,43.4L363.4,46.8L360.5,45.3L357.6,44.1L354.6,43.6L351.7,43.5L348.8,42.8L345.8,43.1L342.9,47.8L339.9,53.2L337,59.1L334.1,64.7L331.1,68.4L328.2,71.4z"/><path d="M328.2,71.4L331.1,68.4L334.1,64.7L337,59.1L339.9,53.2L342.9,47.8L345.8,43.1L348.8,42.8L351.7,43.5L354.6,43.6L357.6,44.1L360.5,45.3L363.4,46.8L366.4,43.4L369.3,40.2L372.3,39.7L375.2,39.3L378.1,41.8L381.1,44.4L384,45.4L386.9,46.4L389.9,45.1L392.8,43.7L395.8,42.2L398.7,40.5L401.6,37.9L404.6,35.3L407.5,38.3L410.4,41.6L413.4,42.6L416.3,44L419.3,41.2L422.2,38.6L425.1,40.4L428.1,42.4L431,53.6L433.9,65L436.9,57.9L439.8,50.9L442.7,54.4L445.7,57.8L448.6,61.9L451.6,66.2L454.5,66.8L457.4,67.5L460.4,69.8L463.3,71.9L466.2,68.8L469.2,65.6L472.1,71.7L475.1,77.7L478,82.2L480.9,86.9L483.9,85.9L486.8,85.6L489.7,88.7L492.7,90.2L495.6,93L498.6,96.5L501.5,91.5L504.4,87.3L507.4,98.5L510.3,107.6L513.2,104.8L516.2,103L519.1,105.5L522.1,105.9L525,100.8L527.9,98.1L530.9,101.6L533.8,102.8L533.8,106.6L530.9,104.3L527.9,99.6L525,102.7L522.1,108.4L519.1,108.3L516.2,105.9L513.2,106.5L510.3,108.3L507.4,101L504.4,91.5L501.5,94L498.6,97.3L495.6,95.2L492.7,94L489.7,91.7L486.8,87.9L483.9,88.3L480.9,89.6L478,85.8L475.1,82.3L472.1,76.3L469.2,70.2L466.2,72.2L463.3,74.2L460.4,71.3L457.4,68.1L454.5,67L451.6,66.1L448.6,62.8L445.7,59.7L442.7,56.1L439.8,52.5L436.9,59.6L433.9,66.8L431,54.9L428.1,43.3L425.1,41.9L422.2,40.5L419.3,42.1L416.3,43.7L413.4,42.8L410.4,42.3L407.5,38.6L404.6,35.2L401.6,38L398.7,40.9L395.8,42.7L392.8,44.1L389.9,45.3L386.9,46.3L384,46.2L381.1,46.1L378.1,43.3L375.2,40.6L372.3,41L369.3,41.6L366.4,43.9L363.4,46.5L360.5,45.4L357.6,44.6L354.6,44.5L351.7,44.5L348.8,42.6L345.8,41.5L342.9,46.6L339.9,52.4L337,59.7L334.1,66.6L331.1,69.5L328.2,71.6z"/><path d="M328.2,71.6L331.1,69.5L334.1,66.6L337,59.7L339.9,52.4L342.9,46.6L345.8,41.5L348.8,42.6L351.7,44.5L354.6,44.5L357.6,44.6L360.5,45.4L363.4,46.5L366.4,43.9L369.3,41.6L372.3,41L375.2,40.6L378.1,43.3L381.1,46.1L384,46.2L386.9,46.3L389.9,45.3L392.8,44.1L395.8,42.7L398.7,40.9L401.6,38L404.6,35.2L407.5,38.6L410.4,42.3L413.4,42.8L416.3,43.7L419.3,42.1L422.2,40.5L425.1,41.9L428.1,43.3L431,54.9L433.9,66.8L436.9,59.6L439.8,52.5L442.7,56.1L445.7,59.7L448.6,62.8L451.6,66.1L454.5,67L457.4,68.1L460.4,71.3L463.3,74.2L466.2,72.2L469.2,70.2L472.1,76.3L475.1,82.3L478,85.8L480.9,89.6L483.9,88.3L486.8,87.9L489.7,91.7L492.7,94L495.6,95.2L498.6,97.3L501.5,94L504.4,91.5L507.4,101L510.3,108.3L513.2,106.5L516.2,105.9L519.1,108.3L522.1,108.4L525,102.7L527.9,99.6L530.9,104.3L533.8,106.6L533.8,110L530.9,107.3L527.9,101.9L525,104.9L522.1,110.7L519.1,110.5L516.2,107.8L513.2,107.9L510.3,109.2L507.4,103.7L504.4,95.8L501.5,96.5L498.6,98.1L495.6,97.9L492.7,98.6L489.7,95.6L486.8,90.8L483.9,90.9L480.9,91.9L478,88.8L475.1,86L472.1,80.8L469.2,75.6L466.2,76.5L463.3,77.3L460.4,73.3L457.4,69.1L454.5,68.2L451.6,67.5L448.6,64.7L445.7,62.1L442.7,58.1L439.8,54L436.9,60.9L433.9,67.9L431,55.8L428.1,43.9L425.1,42.8L422.2,41.9L419.3,42.9L416.3,44L413.4,43.5L410.4,43.4L407.5,39.4L404.6,35.7L401.6,38.4L398.7,41.2L395.8,42.7L392.8,43.9L389.9,45L386.9,45.9L384,47L381.1,48L378.1,45L375.2,42.2L372.3,42.3L369.3,42.6L366.4,44.4L363.4,46.4L360.5,45.2L357.6,44.3L354.6,44.9L351.7,45.8L348.8,42.7L345.8,40.6L342.9,45.8L339.9,51.6L337,60L334.1,68L331.1,70L328.2,71.1z"/><path d="M328.2,71.1L331.1,70L334.1,68L337,60L339.9,51.6L342.9,45.8L345.8,40.6L348.8,42.7L351.7,45.8L354.6,44.9L357.6,44.3L360.5,45.2L363.4,46.4L366.4,44.4L369.3,42.6L372.3,42.3L375.2,42.2L378.1,45L381.1,48L384,47L386.9,45.9L389.9,45L392.8,43.9L395.8,42.7L398.7,41.2L401.6,38.4L404.6,35.7L407.5,39.4L410.4,43.4L413.4,43.5L416.3,44L419.3,42.9L422.2,41.9L425.1,42.8L428.1,43.9L431,55.8L433.9,67.9L436.9,60.9L439.8,54L442.7,58.1L445.7,62.1L448.6,64.7L451.6,67.5L454.5,68.2L457.4,69.1L460.4,73.3L463.3,77.3L466.2,76.5L469.2,75.6L472.1,80.8L475.1,86L478,88.8L480.9,91.9L483.9,90.9L486.8,90.8L489.7,95.6L492.7,98.6L495.6,97.9L498.6,98.1L501.5,96.5L504.4,95.8L507.4,103.7L510.3,109.2L513.2,107.9L516.2,107.8L519.1,110.5L522.1,110.7L525,104.9L527.9,101.9L530.9,107.3L533.8,110L533.8,112.9L530.9,110.3L527.9,104.8L525,107.2L522.1,112.9L519.1,112.2L516.2,108.9L513.2,108.9L510.3,110.4L507.4,106.6L504.4,100.2L501.5,99.3L498.6,99.4L495.6,101L492.7,103.5L489.7,99.9L486.8,94.3L483.9,93.6L480.9,93.9L478,91.3L475.1,89L472.1,85.1L469.2,81.1L466.2,81.2L463.3,81.1L460.4,76.1L457.4,70.7L454.5,70.4L451.6,70.4L448.6,67.5L445.7,64.6L442.7,60.1L439.8,55.4L436.9,61.8L433.9,68.3L431,56.2L428.1,44.4L425.1,43.4L422.2,42.5L419.3,43.7L416.3,45L413.4,44.5L410.4,44.5L407.5,40.4L404.6,36.6L401.6,39L398.7,41.4L395.8,42.3L392.8,43L389.9,44.3L386.9,45.4L384,47.6L381.1,49.7L378.1,46.8L375.2,44L372.3,43.6L369.3,43.3L366.4,44.8L363.4,46.4L360.5,44.8L357.6,43.3L354.6,45.1L351.7,47L348.8,43.2L345.8,40.2L342.9,45.2L339.9,50.9L337,60.1L334.1,68.9L331.1,69.9L328.2,70.3z"/><path d="M328.2,70.3L331.1,69.9L334.1,68.9L337,60.1L339.9,50.9L342.9,45.2L345.8,40.2L348.8,43.2L351.7,47L354.6,45.1L357.6,43.3L360.5,44.8L363.4,46.4L366.4,44.8L369.3,43.3L372.3,43.6L375.2,44L378.1,46.8L381.1,49.7L384,47.6L386.9,45.4L389.9,44.3L392.8,43L395.8,42.3L398.7,41.4L401.6,39L404.6,36.6L407.5,40.4L410.4,44.5L413.4,44.5L416.3,45L419.3,43.7L422.2,42.5L425.1,43.4L428.1,44.4L431,56.2L433.9,68.3L436.9,61.8L439.8,55.4L442.7,60.1L445.7,64.6L448.6,67.5L451.6,70.4L454.5,70.4L457.4,70.7L460.4,76.1L463.3,81.1L466.2,81.2L469.2,81.1L472.1,85.1L475.1,89L478,91.3L480.9,93.9L483.9,93.6L486.8,94.3L489.7,99.9L492.7,103.5L495.6,101L498.6,99.4L501.5,99.3L504.4,100.2L507.4,106.6L510.3,110.4L513.2,108.9L516.2,108.9L519.1,112.2L522.1,112.9L525,107.2L527.9,104.8L530.9,110.3L533.8,112.9L533.8,115.4L530.9,113.2L527.9,108L525,109.7L522.1,114.8L519.1,113.7L516.2,109.7L513.2,109.9L510.3,111.7L507.4,109.5L504.4,104.5L501.5,102.3L498.6,101.2L495.6,104.3L492.7,108.4L489.7,104.2L486.8,98.1L483.9,96.4L480.9,95.8L478,93.5L475.1,91.6L472.1,89.1L469.2,86.4L466.2,86L463.3,85.3L460.4,79.3L457.4,72.9L454.5,73.6L451.6,74.5L448.6,70.7L445.7,67L442.7,62.2L439.8,57.2L436.9,62.6L433.9,68L431,56.5L428.1,45.2L425.1,43.9L422.2,42.7L419.3,44.6L416.3,46.6L413.4,45.9L410.4,45.6L407.5,41.5L404.6,37.8L401.6,39.8L398.7,41.9L395.8,41.9L392.8,41.6L389.9,43.2L386.9,44.7L384,47.8L381.1,51L378.1,48.4L375.2,46L372.3,44.8L369.3,43.7L366.4,45L363.4,46.5L360.5,44.1L357.6,42L354.6,44.9L351.7,48L348.8,43.8L345.8,40.3L342.9,45L339.9,50.3L337,60L334.1,69.1L331.1,69.4L328.2,69.3z"/><path d="M328.2,69.3L331.1,69.4L334.1,69.1L337,60L339.9,50.3L342.9,45L345.8,40.3L348.8,43.8L351.7,48L354.6,44.9L357.6,42L360.5,44.1L363.4,46.5L366.4,45L369.3,43.7L372.3,44.8L375.2,46L378.1,48.4L381.1,51L384,47.8L386.9,44.7L389.9,43.2L392.8,41.6L395.8,41.9L398.7,41.9L401.6,39.8L404.6,37.8L407.5,41.5L410.4,45.6L413.4,45.9L416.3,46.6L419.3,44.6L422.2,42.7L425.1,43.9L428.1,45.2L431,56.5L433.9,68L436.9,62.6L439.8,57.2L442.7,62.2L445.7,67L448.6,70.7L451.6,74.5L454.5,73.6L457.4,72.9L460.4,79.3L463.3,85.3L466.2,86L469.2,86.4L472.1,89.1L475.1,91.6L478,93.5L480.9,95.8L483.9,96.4L486.8,98.1L489.7,104.2L492.7,108.4L495.6,104.3L498.6,101.2L501.5,102.3L504.4,104.5L507.4,109.5L510.3,111.7L513.2,109.9L516.2,109.7L519.1,113.7L522.1,114.8L525,109.7L527.9,108L530.9,113.2L533.8,115.4L533.8,117.7L530.9,116.1L527.9,111.3L525,112.1L522.1,116.7L519.1,115.2L516.2,110.7L513.2,111.3L510.3,113.5L507.4,112.5L504.4,108.5L501.5,105.5L498.6,103.6L495.6,107.5L492.7,112.6L489.7,108.4L486.8,102.1L483.9,99.5L480.9,98.2L478,96.1L475.1,94.5L472.1,92.8L469.2,91.1L466.2,90.4L463.3,89.5L460.4,82.7L457.4,75.6L454.5,77.2L451.6,79L448.6,73.9L445.7,68.9L442.7,64.3L439.8,59.5L436.9,63.6L433.9,67.7L431,57L428.1,46.5L425.1,44.6L422.2,42.9L419.3,45.7L416.3,48.7L413.4,47.4L410.4,46.5L407.5,42.6L404.6,39.1L401.6,40.9L398.7,42.9L395.8,41.7L392.8,40.1L389.9,42.1L386.9,44L384,47.8L381.1,51.6L378.1,49.7L375.2,47.8L372.3,45.8L369.3,43.9L366.4,45.1L363.4,46.5L360.5,43.5L357.6,40.8L354.6,44.6L351.7,48.7L348.8,44.4L345.8,40.8L342.9,45.2L339.9,50L337,59.7L334.1,68.8L331.1,68.7L328.2,68.2z"/><path d="M328.2,68.2L331.1,68.7L334.1,68.8L337,59.7L339.9,50L342.9,45.2L345.8,40.8L348.8,44.4L351.7,48.7L354.6,44.6L357.6,40.8L360.5,43.5L363.4,46.5L366.4,45.1L369.3,43.9L372.3,45.8L375.2,47.8L378.1,49.7L381.1,51.6L384,47.8L386.9,44L389.9,42.1L392.8,40.1L395.8,41.7L398.7,42.9L401.6,40.9L404.6,39.1L407.5,42.6L410.4,46.5L413.4,47.4L416.3,48.7L419.3,45.7L422.2,42.9L425.1,44.6L428.1,46.5L431,57L433.9,67.7L436.9,63.6L439.8,59.5L442.7,64.3L445.7,68.9L448.6,73.9L451.6,79L454.5,77.2L457.4,75.6L460.4,82.7L463.3,89.5L466.2,90.4L469.2,91.1L472.1,92.8L475.1,94.5L478,96.1L480.9,98.2L483.9,99.5L486.8,102.1L489.7,108.4L492.7,112.6L495.6,107.5L498.6,103.6L501.5,105.5L504.4,108.5L507.4,112.5L510.3,113.5L513.2,111.3L516.2,110.7L519.1,115.2L522.1,116.7L525,112.1L527.9,111.3L530.9,116.1L533.8,117.7L533.8,120.2L530.9,119.1L527.9,114.4L525,114.5L522.1,118.5L519.1,117.2L516.2,112.6L513.2,113.3L510.3,115.8L507.4,115.5L504.4,112.1L501.5,108.5L498.6,106.1L495.6,110.5L492.7,116L489.7,112.3L486.8,106.3L483.9,103L480.9,101.1L478,99.3L475.1,98L472.1,96.4L469.2,94.8L466.2,94.2L463.3,93.3L460.4,86.2L457.4,78.7L454.5,80.9L451.6,83.4L448.6,77L445.7,70.7L442.7,66.7L439.8,62.5L436.9,65.2L433.9,67.9L431,57.9L428.1,48.1L425.1,45.7L422.2,43.4L419.3,47.1L416.3,51L413.4,48.9L410.4,47.4L407.5,43.6L404.6,40.3L401.6,42.4L398.7,44.8L395.8,42L392.8,39.1L389.9,41.3L386.9,43.3L384,47.6L381.1,51.8L378.1,50.6L375.2,49.4L372.3,46.7L369.3,44.2L366.4,45.3L363.4,46.5L360.5,43.2L357.6,40.1L354.6,44.5L351.7,49.1L348.8,45.1L345.8,41.8L342.9,45.8L339.9,50.2L337,59.4L334.1,68L331.1,67.8L328.2,67.4z"/><path d="M328.2,67.4L331.1,67.8L334.1,68L337,59.4L339.9,50.2L342.9,45.8L345.8,41.8L348.8,45.1L351.7,49.1L354.6,44.5L357.6,40.1L360.5,43.2L363.4,46.5L366.4,45.3L369.3,44.2L372.3,46.7L375.2,49.4L378.1,50.6L381.1,51.8L384,47.6L386.9,43.3L389.9,41.3L392.8,39.1L395.8,42L398.7,44.8L401.6,42.4L404.6,40.3L407.5,43.6L410.4,47.4L413.4,48.9L416.3,51L419.3,47.1L422.2,43.4L425.1,45.7L428.1,48.1L431,57.9L433.9,67.9L436.9,65.2L439.8,62.5L442.7,66.7L445.7,70.7L448.6,77L451.6,83.4L454.5,80.9L457.4,78.7L460.4,86.2L463.3,93.3L466.2,94.2L469.2,94.8L472.1,96.4L475.1,98L478,99.3L480.9,101.1L483.9,103L486.8,106.3L489.7,112.3L492.7,116L495.6,110.5L498.6,106.1L501.5,108.5L504.4,112.1L507.4,115.5L510.3,115.8L513.2,113.3L516.2,112.6L519.1,117.2L522.1,118.5L525,114.5L527.9,114.4L530.9,119.1L533.8,120.2L533.8,123.2L530.9,122.1L527.9,117.3L525,116.8L522.1,120.5L519.1,119.7L516.2,115.5L513.2,116.1L510.3,118.6L507.4,118.6L504.4,115.2L501.5,111.3L498.6,108.7L495.6,113.1L492.7,118.8L489.7,116L486.8,110.7L483.9,106.8L480.9,104.4L478,102.9L475.1,101.9L472.1,99.8L469.2,97.8L466.2,97.4L463.3,96.8L460.4,89.7L457.4,82.2L454.5,84.5L451.6,87L448.6,79.8L445.7,72.7L442.7,69.5L439.8,66L436.9,67.5L433.9,69.1L431,59.5L428.1,50L425.1,47.2L422.2,44.5L419.3,49L416.3,53.4L413.4,50.7L410.4,48.4L407.5,44.7L404.6,41.5L401.6,44.4L398.7,47.4L395.8,43.3L392.8,38.8L389.9,41.1L386.9,43.2L384,47.5L381.1,51.9L378.1,51.3L375.2,50.8L372.3,47.6L369.3,44.5L366.4,45.5L363.4,46.7L360.5,43.2L357.6,40L354.6,44.6L351.7,49.4L348.8,46.1L345.8,43.5L342.9,47.1L339.9,50.9L337,59.2L334.1,66.9L331.1,66.9L328.2,66.8z"/><path d="M328.2,66.8L331.1,66.9L334.1,66.9L337,59.2L339.9,50.9L342.9,47.1L345.8,43.5L348.8,46.1L351.7,49.4L354.6,44.6L357.6,40L360.5,43.2L363.4,46.7L366.4,45.5L369.3,44.5L372.3,47.6L375.2,50.8L378.1,51.3L381.1,51.9L384,47.5L386.9,43.2L389.9,41.1L392.8,38.8L395.8,43.3L398.7,47.4L401.6,44.4L404.6,41.5L407.5,44.7L410.4,48.4L413.4,50.7L416.3,53.4L419.3,49L422.2,44.5L425.1,47.2L428.1,50L431,59.5L433.9,69.1L436.9,67.5L439.8,66L442.7,69.5L445.7,72.7L448.6,79.8L451.6,87L454.5,84.5L457.4,82.2L460.4,89.7L463.3,96.8L466.2,97.4L469.2,97.8L472.1,99.8L475.1,101.9L478,102.9L480.9,104.4L483.9,106.8L486.8,110.7L489.7,116L492.7,118.8L495.6,113.1L498.6,108.7L501.5,111.3L504.4,115.2L507.4,118.6L510.3,118.6L513.2,116.1L516.2,115.5L519.1,119.7L522.1,120.5L525,116.8L527.9,117.3L530.9,122.1L533.8,123.2L533.8,126.9L530.9,125.6L527.9,120.3L525,119.2L522.1,122.7L519.1,122.9L516.2,119.5L513.2,119.6L510.3,121.9L507.4,121.6L504.4,117.8L501.5,113.8L498.6,111.3L495.6,115.6L492.7,121.4L489.7,119.7L486.8,115.2L483.9,110.6L480.9,107.6L478,106.3L475.1,105.6L472.1,102.8L469.2,100L466.2,100.1L463.3,100L460.4,93.3L457.4,86L454.5,87.9L451.6,90.1L448.6,82.8L445.7,75.6L442.7,72.8L439.8,69.8L436.9,70.6L433.9,71.5L431,61.8L428.1,52.3L425.1,49.3L422.2,46.4L419.3,51.3L416.3,56.2L413.4,52.8L410.4,50L407.5,46.2L404.6,42.9L401.6,46.8L398.7,50.9L395.8,45.4L392.8,39.7L389.9,41.8L386.9,43.7L384,48L381.1,52.2L378.1,52.1L375.2,52.2L372.3,48.6L369.3,45.1L366.4,46.1L363.4,47.3L360.5,43.7L357.6,40.5L354.6,45.1L351.7,49.8L348.8,47.5L345.8,45.9L342.9,48.9L339.9,52L337,59.3L334.1,66L331.1,66.3L328.2,66.7z"/><path d="M328.2,66.7L331.1,66.3L334.1,66L337,59.3L339.9,52L342.9,48.9L345.8,45.9L348.8,47.5L351.7,49.8L354.6,45.1L357.6,40.5L360.5,43.7L363.4,47.3L366.4,46.1L369.3,45.1L372.3,48.6L375.2,52.2L378.1,52.1L381.1,52.2L384,48L386.9,43.7L389.9,41.8L392.8,39.7L395.8,45.4L398.7,50.9L401.6,46.8L404.6,42.9L407.5,46.2L410.4,50L413.4,52.8L416.3,56.2L419.3,51.3L422.2,46.4L425.1,49.3L428.1,52.3L431,61.8L433.9,71.5L436.9,70.6L439.8,69.8L442.7,72.8L445.7,75.6L448.6,82.8L451.6,90.1L454.5,87.9L457.4,86L460.4,93.3L463.3,100L466.2,100.1L469.2,100L472.1,102.8L475.1,105.6L478,106.3L480.9,107.6L483.9,110.6L486.8,115.2L489.7,119.7L492.7,121.4L495.6,115.6L498.6,111.3L501.5,113.8L504.4,117.8L507.4,121.6L510.3,121.9L513.2,119.6L516.2,119.5L519.1,122.9L522.1,122.7L525,119.2L527.9,120.3L530.9,125.6L533.8,126.9L533.8,131.6L530.9,129.8L527.9,123.7L525,122L522.1,125.2L519.1,126.6L516.2,124L513.2,123.7L510.3,125.5L507.4,124.7L504.4,120L501.5,116.2L498.6,113.9L495.6,118.3L492.7,124.2L489.7,123.3L486.8,119.6L483.9,114.1L480.9,110.3L478,109L475.1,108.4L472.1,105.2L469.2,102L466.2,102.7L463.3,103.2L460.4,97.1L457.4,90.3L454.5,91.4L451.6,92.9L448.6,86.2L445.7,79.7L442.7,76.7L439.8,73.5L436.9,74.3L433.9,75.1L431,65.1L428.1,55.2L425.1,52L422.2,48.9L419.3,54.1L416.3,59.2L413.4,55.5L410.4,52.3L407.5,48.4L404.6,45.1L401.6,49.8L398.7,54.8L395.8,48.5L392.8,41.9L389.9,43.7L386.9,45.3L384,49.1L381.1,52.8L378.1,53.2L375.2,53.7L372.3,49.7L369.3,45.7L366.4,46.9L363.4,48.3L360.5,44.7L357.6,41.6L354.6,45.9L351.7,50.4L348.8,49.5L345.8,49.2L342.9,51.3L339.9,53.5L337,59.8L334.1,65.6L331.1,66.2L328.2,66.8z"/><path d="M328.2,66.8L331.1,66.2L334.1,65.6L337,59.8L339.9,53.5L342.9,51.3L345.8,49.2L348.8,49.5L351.7,50.4L354.6,45.9L357.6,41.6L360.5,44.7L363.4,48.3L366.4,46.9L369.3,45.7L372.3,49.7L375.2,53.7L378.1,53.2L381.1,52.8L384,49.1L386.9,45.3L389.9,43.7L392.8,41.9L395.8,48.5L398.7,54.8L401.6,49.8L404.6,45.1L407.5,48.4L410.4,52.3L413.4,55.5L416.3,59.2L419.3,54.1L422.2,48.9L425.1,52L428.1,55.2L431,65.1L433.9,75.1L436.9,74.3L439.8,73.5L442.7,76.7L445.7,79.7L448.6,86.2L451.6,92.9L454.5,91.4L457.4,90.3L460.4,97.1L463.3,103.2L466.2,102.7L469.2,102L472.1,105.2L475.1,108.4L478,109L480.9,110.3L483.9,114.1L486.8,119.6L489.7,123.3L492.7,124.2L495.6,118.3L498.6,113.9L501.5,116.2L504.4,120L507.4,124.7L510.3,125.5L513.2,123.7L516.2,124L519.1,126.6L522.1,125.2L525,122L527.9,123.7L530.9,129.8L533.8,131.6L533.8,137.3L530.9,134.7L527.9,127.5L525,125.2L522.1,128.2L519.1,130.6L516.2,128.8L513.2,127.8L510.3,129.3L507.4,127.7L504.4,122.1L501.5,118.6L498.6,116.7L495.6,121.4L492.7,127.6L489.7,127.2L486.8,123.7L483.9,117.1L480.9,112.4L478,110.7L475.1,109.7L472.1,106.7L469.2,103.7L466.2,105.4L463.3,106.8L460.4,101.2L457.4,94.9L454.5,95.3L451.6,96.1L448.6,90.6L445.7,85.2L442.7,81.2L439.8,77.1L436.9,78.5L433.9,79.8L431,69.2L428.1,58.6L425.1,55.2L422.2,51.8L419.3,57.3L416.3,62.7L413.4,58.9L410.4,55.4L407.5,51.6L404.6,48.3L401.6,53.5L398.7,59.1L395.8,52.2L392.8,45.1L389.9,46.6L386.9,48L384,50.9L381.1,53.8L378.1,54.6L375.2,55.4L372.3,50.9L369.3,46.5L366.4,48L363.4,49.7L360.5,46L357.6,42.8L354.6,47L351.7,51.3L348.8,51.8L345.8,52.9L342.9,53.8L339.9,54.8L337,60.7L334.1,66L331.1,66.5L328.2,66.9z"/><path d="M328.2,66.9L331.1,66.5L334.1,66L337,60.7L339.9,54.8L342.9,53.8L345.8,52.9L348.8,51.8L351.7,51.3L354.6,47L357.6,42.8L360.5,46L363.4,49.7L366.4,48L369.3,46.5L372.3,50.9L375.2,55.4L378.1,54.6L381.1,53.8L384,50.9L386.9,48L389.9,46.6L392.8,45.1L395.8,52.2L398.7,59.1L401.6,53.5L404.6,48.3L407.5,51.6L410.4,55.4L413.4,58.9L416.3,62.7L419.3,57.3L422.2,51.8L425.1,55.2L428.1,58.6L431,69.2L433.9,79.8L436.9,78.5L439.8,77.1L442.7,81.2L445.7,85.2L448.6,90.6L451.6,96.1L454.5,95.3L457.4,94.9L460.4,101.2L463.3,106.8L466.2,105.4L469.2,103.7L472.1,106.7L475.1,109.7L478,110.7L480.9,112.4L483.9,117.1L486.8,123.7L489.7,127.2L492.7,127.6L495.6,121.4L498.6,116.7L501.5,118.6L504.4,122.1L507.4,127.7L510.3,129.3L513.2,127.8L516.2,128.8L519.1,130.6L522.1,128.2L525,125.2L527.9,127.5L530.9,134.7L533.8,137.3L533.8,143.7L530.9,140.1L527.9,131.6L525,128.9L522.1,131.8L519.1,134.8L516.2,133.4L513.2,132.1L510.3,133.3L507.4,131.2L504.4,124.7L501.5,121.6L498.6,120.2L495.6,125.1L492.7,131.7L489.7,131.3L486.8,127.6L483.9,120L480.9,114.5L478,111.6L475.1,109.6L472.1,107.6L469.2,105.8L466.2,108.4L463.3,110.8L460.4,105.7L457.4,99.9L454.5,99.8L451.6,100L448.6,95.7L445.7,91.6L442.7,86.2L439.8,80.7L436.9,82.8L433.9,84.9L431,74L428.1,63.1L425.1,59.2L422.2,55.4L419.3,60.9L416.3,66.3L413.4,62.7L410.4,59.5L407.5,56L404.6,53L401.6,57.9L398.7,63.2L395.8,56.4L392.8,49.4L389.9,50.7L386.9,51.8L384,53.5L381.1,55.1L378.1,56.2L375.2,57.3L372.3,52.3L369.3,47.4L366.4,49.3L363.4,51.3L360.5,47.5L357.6,44.2L354.6,48.3L351.7,52.6L348.8,54.4L345.8,56.8L342.9,56.5L339.9,56.1L337,62.1L334.1,67.5L331.1,67.3L328.2,67z"/><path d="M328.2,67L331.1,67.3L334.1,67.5L337,62.1L339.9,56.1L342.9,56.5L345.8,56.8L348.8,54.4L351.7,52.6L354.6,48.3L357.6,44.2L360.5,47.5L363.4,51.3L366.4,49.3L369.3,47.4L372.3,52.3L375.2,57.3L378.1,56.2L381.1,55.1L384,53.5L386.9,51.8L389.9,50.7L392.8,49.4L395.8,56.4L398.7,63.2L401.6,57.9L404.6,53L407.5,56L410.4,59.5L413.4,62.7L416.3,66.3L419.3,60.9L422.2,55.4L425.1,59.2L428.1,63.1L431,74L433.9,84.9L436.9,82.8L439.8,80.7L442.7,86.2L445.7,91.6L448.6,95.7L451.6,100L454.5,99.8L457.4,99.9L460.4,105.7L463.3,110.8L466.2,108.4L469.2,105.8L472.1,107.6L475.1,109.6L478,111.6L480.9,114.5L483.9,120L486.8,127.6L489.7,131.3L492.7,131.7L495.6,125.1L498.6,120.2L501.5,121.6L504.4,124.7L507.4,131.2L510.3,133.3L513.2,132.1L516.2,133.4L519.1,134.8L522.1,131.8L525,128.9L527.9,131.6L530.9,140.1L533.8,143.7L533.8,150.4L530.9,145.7L527.9,135.9L525,133L522.1,136L519.1,139.1L516.2,137.6L513.2,136.3L510.3,137.8L507.4,135.5L504.4,128.6L501.5,125.7L498.6,124.4L495.6,129.4L492.7,136.1L489.7,135.7L486.8,131.7L483.9,123.3L480.9,117.1L478,112.6L475.1,108.9L472.1,108.6L469.2,108.4L466.2,111.8L463.3,114.9L460.4,110.4L457.4,105.2L454.5,104.7L451.6,104.6L448.6,101.3L445.7,98.2L442.7,91.5L439.8,84.8L436.9,87.4L433.9,90L431,79.4L428.1,68.9L425.1,64.5L422.2,60.2L419.3,65.2L416.3,70.1L413.4,67.2L410.4,64.5L407.5,61.5L404.6,59L401.6,62.8L398.7,66.9L395.8,60.8L392.8,54.5L389.9,55.6L386.9,56.6L384,56.7L381.1,56.8L378.1,58L375.2,59.3L372.3,54.1L369.3,49L366.4,50.9L363.4,53.1L360.5,49.3L357.6,46L354.6,50.1L351.7,54.5L348.8,57.2L345.8,60.4L342.9,59L339.9,57.5L337,63.9L334.1,69.7L331.1,68.6L328.2,67.4z"/><path d="M328.2,67.4L331.1,68.6L334.1,69.7L337,63.9L339.9,57.5L342.9,59L345.8,60.4L348.8,57.2L351.7,54.5L354.6,50.1L357.6,46L360.5,49.3L363.4,53.1L366.4,50.9L369.3,49L372.3,54.1L375.2,59.3L378.1,58L381.1,56.8L384,56.7L386.9,56.6L389.9,55.6L392.8,54.5L395.8,60.8L398.7,66.9L401.6,62.8L404.6,59L407.5,61.5L410.4,64.5L413.4,67.2L416.3,70.1L419.3,65.2L422.2,60.2L425.1,64.5L428.1,68.9L431,79.4L433.9,90L436.9,87.4L439.8,84.8L442.7,91.5L445.7,98.2L448.6,101.3L451.6,104.6L454.5,104.7L457.4,105.2L460.4,110.4L463.3,114.9L466.2,111.8L469.2,108.4L472.1,108.6L475.1,108.9L478,112.6L480.9,117.1L483.9,123.3L486.8,131.7L489.7,135.7L492.7,136.1L495.6,129.4L498.6,124.4L501.5,125.7L504.4,128.6L507.4,135.5L510.3,137.8L513.2,136.3L516.2,137.6L519.1,139.1L522.1,136L525,133L527.9,135.9L530.9,145.7L533.8,150.4L533.8,156.4L530.9,150.9L527.9,140L525,137.1L522.1,140.5L519.1,143.4L516.2,141.4L513.2,140.5L510.3,142.4L507.4,140.6L504.4,134L501.5,130.6L498.6,129.1L495.6,133.9L492.7,140.6L489.7,140.2L486.8,136.1L483.9,127.3L480.9,120.7L478,114.5L475.1,109.1L472.1,110.5L469.2,111.9L466.2,115.7L463.3,119.1L460.4,115.2L457.4,110.4L454.5,109.8L451.6,109.6L448.6,106.8L445.7,104.1L442.7,96.9L439.8,89.6L436.9,92.2L433.9,94.8L431,85.1L428.1,75.4L425.1,70.8L422.2,66.2L419.3,70.4L416.3,74.5L413.4,72.3L410.4,70.4L407.5,68L404.6,66L401.6,68.2L398.7,70.7L395.8,65.5L392.8,60.1L389.9,61.2L386.9,62.3L384,60.8L381.1,59.3L378.1,60.5L375.2,61.9L372.3,56.6L369.3,51.3L366.4,53.2L363.4,55.3L360.5,51.4L357.6,48.2L354.6,52.5L351.7,56.9L348.8,60L345.8,63.5L342.9,61.4L339.9,59.2L337,65.9L334.1,72.2L331.1,70.1L328.2,67.9z"/><path d="M328.2,67.9L331.1,70.1L334.1,72.2L337,65.9L339.9,59.2L342.9,61.4L345.8,63.5L348.8,60L351.7,56.9L354.6,52.5L357.6,48.2L360.5,51.4L363.4,55.3L366.4,53.2L369.3,51.3L372.3,56.6L375.2,61.9L378.1,60.5L381.1,59.3L384,60.8L386.9,62.3L389.9,61.2L392.8,60.1L395.8,65.5L398.7,70.7L401.6,68.2L404.6,66L407.5,68L410.4,70.4L413.4,72.3L416.3,74.5L419.3,70.4L422.2,66.2L425.1,70.8L428.1,75.4L431,85.1L433.9,94.8L436.9,92.2L439.8,89.6L442.7,96.9L445.7,104.1L448.6,106.8L451.6,109.6L454.5,109.8L457.4,110.4L460.4,115.2L463.3,119.1L466.2,115.7L469.2,111.9L472.1,110.5L475.1,109.1L478,114.5L480.9,120.7L483.9,127.3L486.8,136.1L489.7,140.2L492.7,140.6L495.6,133.9L498.6,129.1L501.5,130.6L504.4,134L507.4,140.6L510.3,142.4L513.2,140.5L516.2,141.4L519.1,143.4L522.1,140.5L525,137.1L527.9,140L530.9,150.9L533.8,156.4L533.8,161.7L530.9,155.6L527.9,143.7L525,141.1L522.1,145.1L519.1,147.7L516.2,145L513.2,144.5L510.3,147L507.4,146.2L504.4,140.1L501.5,136L498.6,133.8L495.6,138.3L492.7,144.9L489.7,144.7L486.8,140.6L483.9,131.7L480.9,125.1L478,117.5L475.1,110.8L472.1,113.4L469.2,116.1L466.2,119.8L463.3,123.2L460.4,119.8L457.4,115.4L454.5,114.9L451.6,114.8L448.6,112L445.7,109.4L442.7,102.2L439.8,95.1L436.9,97.4L433.9,99.7L431,91.1L428.1,82.5L425.1,77.9L422.2,73.4L419.3,76.7L416.3,79.9L413.4,78.5L410.4,77.2L407.5,75.3L404.6,73.7L401.6,74.4L398.7,75.4L395.8,70.9L392.8,66.2L389.9,67.5L386.9,68.6L384,65.8L381.1,63L378.1,64.2L375.2,65.5L372.3,60.2L369.3,54.8L366.4,56.3L363.4,58L360.5,54.1L357.6,51L354.6,55.5L351.7,60.1L348.8,63L345.8,66.3L342.9,64L339.9,61.3L337,68.1L334.1,74.4L331.1,71.7L328.2,68.7z"/><path d="M328.2,68.7L331.1,71.7L334.1,74.4L337,68.1L339.9,61.3L342.9,64L345.8,66.3L348.8,63L351.7,60.1L354.6,55.5L357.6,51L360.5,54.1L363.4,58L366.4,56.3L369.3,54.8L372.3,60.2L375.2,65.5L378.1,64.2L381.1,63L384,65.8L386.9,68.6L389.9,67.5L392.8,66.2L395.8,70.9L398.7,75.4L401.6,74.4L404.6,73.7L407.5,75.3L410.4,77.2L413.4,78.5L416.3,79.9L419.3,76.7L422.2,73.4L425.1,77.9L428.1,82.5L431,91.1L433.9,99.7L436.9,97.4L439.8,95.1L442.7,102.2L445.7,109.4L448.6,112L451.6,114.8L454.5,114.9L457.4,115.4L460.4,119.8L463.3,123.2L466.2,119.8L469.2,116.1L472.1,113.4L475.1,110.8L478,117.5L480.9,125.1L483.9,131.7L486.8,140.6L489.7,144.7L492.7,144.9L495.6,138.3L498.6,133.8L501.5,136L504.4,140.1L507.4,146.2L510.3,147L513.2,144.5L516.2,145L519.1,147.7L522.1,145.1L525,141.1L527.9,143.7L530.9,155.6L533.8,161.7L533.8,166.2L530.9,159.9L527.9,147.6L525,145.1L522.1,149.5L519.1,151.8L516.2,148.7L513.2,148.6L510.3,151.6L507.4,151.7L504.4,146.3L501.5,141.2L498.6,138.2L495.6,142.5L492.7,148.9L489.7,149.2L486.8,145.3L483.9,136.2L480.9,129.8L478,121.5L475.1,114.2L472.1,117.4L469.2,120.8L466.2,124.3L463.3,127.4L460.4,124.4L457.4,120.3L454.5,119.8L451.6,119.8L448.6,116.9L445.7,114.2L442.7,107.5L439.8,101L436.9,102.9L433.9,104.8L431,97.4L428.1,89.9L425.1,85.7L422.2,81.6L419.3,84.2L416.3,86.7L413.4,85.9L410.4,85.2L407.5,83.7L404.6,82.3L401.6,82L398.7,81.8L395.8,77.7L392.8,73.5L389.9,74.7L386.9,75.8L384,72.1L381.1,68.4L378.1,69.3L375.2,70.3L372.3,65L369.3,59.6L366.4,60.4L363.4,61.7L360.5,57.7L357.6,54.8L354.6,59.3L351.7,63.9L348.8,66.5L345.8,69.4L342.9,66.9L339.9,64.1L337,70.4L334.1,76.4L331.1,73.3L328.2,69.7z"/><path d="M328.2,69.7L331.1,73.3L334.1,76.4L337,70.4L339.9,64.1L342.9,66.9L345.8,69.4L348.8,66.5L351.7,63.9L354.6,59.3L357.6,54.8L360.5,57.7L363.4,61.7L366.4,60.4L369.3,59.6L372.3,65L375.2,70.3L378.1,69.3L381.1,68.4L384,72.1L386.9,75.8L389.9,74.7L392.8,73.5L395.8,77.7L398.7,81.8L401.6,82L404.6,82.3L407.5,83.7L410.4,85.2L413.4,85.9L416.3,86.7L419.3,84.2L422.2,81.6L425.1,85.7L428.1,89.9L431,97.4L433.9,104.8L436.9,102.9L439.8,101L442.7,107.5L445.7,114.2L448.6,116.9L451.6,119.8L454.5,119.8L457.4,120.3L460.4,124.4L463.3,127.4L466.2,124.3L469.2,120.8L472.1,117.4L475.1,114.2L478,121.5L480.9,129.8L483.9,136.2L486.8,145.3L489.7,149.2L492.7,148.9L495.6,142.5L498.6,138.2L501.5,141.2L504.4,146.3L507.4,151.7L510.3,151.6L513.2,148.6L516.2,148.7L519.1,151.8L522.1,149.5L525,145.1L527.9,147.6L530.9,159.9L533.8,166.2L533.8,169.9L530.9,164.1L527.9,152L525,149.2L522.1,153.8L519.1,156L516.2,152.5L513.2,152.6L510.3,156L507.4,156.8L504.4,152L501.5,146.1L498.6,142.5L495.6,146.4L492.7,152.6L489.7,153.4L486.8,149.8L483.9,140.8L480.9,134.5L478,126.3L475.1,119.3L472.1,122.5L469.2,125.9L466.2,129L463.3,131.7L460.4,129L457.4,125.2L454.5,124.5L451.6,124.3L448.6,121.4L445.7,118.7L442.7,112.8L439.8,107.2L436.9,108.7L433.9,110.4L431,104.2L428.1,98L425.1,94.5L422.2,90.9L419.3,93.1L416.3,95.3L413.4,95L410.4,94.7L407.5,93.5L404.6,92.3L401.6,91.4L398.7,90.4L395.8,86.4L392.8,82.3L389.9,83.2L386.9,83.9L384,79.8L381.1,75.7L378.1,76.1L375.2,76.6L372.3,71.3L369.3,65.8L366.4,65.9L363.4,66.4L360.5,62.5L357.6,59.8L354.6,64.1L351.7,68.6L348.8,70.8L345.8,73L342.9,70.7L339.9,67.8L337,73.1L334.1,78.2L331.1,74.9L328.2,71z"/></g><path d="M328.2,181.1H533.8" stroke="url(#pg2)" stroke-width="0.9" fill="none"/>
<path d="M328.2,18.9V181.3H533.8M328.2,181.3v-2M357.6,181.3v-2M386.9,181.3v-2M416.3,181.3v-2M445.7,181.3v-2M475.1,181.3v-2M504.4,181.3v-2M533.8,181.3v-2M328.2,170.5h2M328.2,148.8h2M328.2,127.2h2M328.2,105.5h2M328.2,83.9h2M328.2,62.2h2M328.2,40.6h2" stroke="#7a7a7a" stroke-width="0.7" fill="none"/>
<text class="t" transform="translate(328.2,190.9) scale(0.87,1)" font-size="7.1" text-anchor="middle">5</text>
<text class="t" transform="translate(357.57,190.9) scale(0.87,1)" font-size="7.1" text-anchor="middle">10</text>
<text class="t" transform="translate(386.94,190.9) scale(0.87,1)" font-size="7.1" text-anchor="middle">15</text>
<text class="t" transform="translate(416.31,190.9) scale(0.87,1)" font-size="7.1" text-anchor="middle">20</text>
<text class="t" transform="translate(445.69,190.9) scale(0.87,1)" font-size="7.1" text-anchor="middle">25</text>
<text class="t" transform="translate(475.06,190.9) scale(0.87,1)" font-size="7.1" text-anchor="middle">30</text>
<text class="t" transform="translate(504.43,190.9) scale(0.87,1)" font-size="7.1" text-anchor="middle">35</text>
<text class="t" transform="translate(533.8,190.9) scale(0.87,1)" font-size="7.1" text-anchor="middle">40</text>
<text class="t" transform="translate(324.9,173.37) scale(0.87,1)" font-size="7.1" text-anchor="end">1.96</text>
<text class="t" transform="translate(324.9,151.72) scale(0.87,1)" font-size="7.1" text-anchor="end">1.98</text>
<text class="t" transform="translate(324.9,130.07) scale(0.87,1)" font-size="7.1" text-anchor="end">2</text>
<text class="t" transform="translate(324.9,108.41) scale(0.87,1)" font-size="7.1" text-anchor="end">2.02</text>
<text class="t" transform="translate(324.9,86.76) scale(0.87,1)" font-size="7.1" text-anchor="end">2.04</text>
<text class="t" transform="translate(324.9,65.11) scale(0.87,1)" font-size="7.1" text-anchor="end">2.06</text>
<text class="t" transform="translate(324.9,43.45) scale(0.87,1)" font-size="7.1" text-anchor="end">2.08</text>
<text class="t" transform="translate(430.6,199.3) scale(0.87,1)" font-size="7.1" text-anchor="middle">N</text>
<text class="t" font-size="7.1" text-anchor="middle" transform="translate(308.2,100.3) rotate(-90) scale(0.975,0.87)">Profit per unit time</text>
<text class="t" transform="translate(328.8,17.9) scale(0.87,1)" font-size="6.9">×</text>
<text class="t" transform="translate(333.8,17.9) scale(0.87,1)" font-size="6.9">10<tspan dy="-2.7" font-size="5.11">4</tspan></text>
</g>
<g id="pc">
<rect x="42.0" y="238.8" width="200.0" height="157.4" fill="none" stroke="#7a7a7a" stroke-width="0.7"/>
<path d="M70.6,396.2v-2M70.6,238.8v2M99.1,396.2v-2M99.1,238.8v2M127.7,396.2v-2M127.7,238.8v2M156.3,396.2v-2M156.3,238.8v2M184.9,396.2v-2M184.9,238.8v2M213.4,396.2v-2M213.4,238.8v2M42,373.7h2M242,373.7h-2M42,351.2h2M242,351.2h-2M42,328.7h2M242,328.7h-2M42,306.3h2M242,306.3h-2M42,283.8h2M242,283.8h-2M42,261.3h2M242,261.3h-2" stroke="#7a7a7a" stroke-width="0.7" fill="none"/>
<text class="t" transform="translate(42,406.1) scale(0.87,1)" font-size="7.1" text-anchor="middle">6</text>
<text class="t" transform="translate(70.57,406.1) scale(0.87,1)" font-size="7.1" text-anchor="middle">8</text>
<text class="t" transform="translate(99.14,406.1) scale(0.87,1)" font-size="7.1" text-anchor="middle">10</text>
<text class="t" transform="translate(127.71,406.1) scale(0.87,1)" font-size="7.1" text-anchor="middle">12</text>
<text class="t" transform="translate(156.29,406.1) scale(0.87,1)" font-size="7.1" text-anchor="middle">14</text>
<text class="t" transform="translate(184.86,406.1) scale(0.87,1)" font-size="7.1" text-anchor="middle">16</text>
<text class="t" transform="translate(213.43,406.1) scale(0.87,1)" font-size="7.1" text-anchor="middle">18</text>
<text class="t" transform="translate(242,406.1) scale(0.87,1)" font-size="7.1" text-anchor="middle">20</text>
<text class="t" transform="translate(38.2,399.4) scale(0.87,1)" font-size="7.1" text-anchor="end">2.03</text>
<text class="t" transform="translate(38.2,376.91) scale(0.87,1)" font-size="7.1" text-anchor="end">2.04</text>
<text class="t" transform="translate(38.2,354.43) scale(0.87,1)" font-size="7.1" text-anchor="end">2.05</text>
<text class="t" transform="translate(38.2,331.94) scale(0.87,1)" font-size="7.1" text-anchor="end">2.06</text>
<text class="t" transform="translate(38.2,309.46) scale(0.87,1)" font-size="7.1" text-anchor="end">2.07</text>
<text class="t" transform="translate(38.2,286.97) scale(0.87,1)" font-size="7.1" text-anchor="end">2.08</text>
<text class="t" transform="translate(38.2,264.49) scale(0.87,1)" font-size="7.1" text-anchor="end">2.09</text>
<text class="t" transform="translate(38.2,242) scale(0.87,1)" font-size="7.1" text-anchor="end">2.1</text>
<text class="t" transform="translate(141.5,414.3) scale(0.87,1)" font-size="7.1" text-anchor="middle">Lp</text>
<text class="t" font-size="7.1" text-anchor="middle" transform="translate(22.7,317.7) rotate(-90) scale(0.965,0.87)">Profit per unit time</text>
<text class="t" transform="translate(42.8,237.3) scale(0.88,1)" font-size="6.7">×</text>
<text class="t" transform="translate(47.5,237.3) scale(0.88,1)" font-size="6.7">10<tspan dy="-3" font-size="4.96">4</tspan></text>
<path d="M44.9,377L47.2,372.5L49.4,368.1L51.7,363.8L54,359.8L56.3,355.9L58.5,352.1L60.8,348.6L63.1,345.2L65.4,341.9L67.6,338.9L69.9,336L72.2,333.3L74.5,330.7L76.7,328.3L79,326.1L81.3,324L83.6,322L85.8,320.1L88.1,318.3L90.4,316.7L92.7,315.1L94.9,313.5L97.2,312L99.5,310.6L101.8,309.2L104,307.8L106.3,306.4L108.6,305.1L110.9,303.7L113.1,302.3L115.4,301L117.7,299.6L120,298.3L122.2,296.9L124.5,295.6L126.8,294.2L129.1,292.9L131.3,291.6L133.6,290.3L135.9,289L138.2,287.7L140.4,286.3L142.7,284.9L145,283.3L147.3,281.6L149.5,279.8L151.8,277.8L154.1,275.7L156.4,273.4L158.6,271L160.9,268.5L163.2,265.9L165.5,263.2L167.7,260.6L170,258.1L172.3,255.8L174.6,253.7L176.8,252L179.1,250.7L181.4,250L183.7,249.9L185.9,250.5L188.2,251.6L190.5,253.2L192.8,255.2L195,257.5L197.3,259.9L199.6,262.5L201.9,265.2L204.1,268L206.4,270.9L208.7,273.9L211,277.1L213.2,280.6L215.5,284.3L217.8,288.6L220.1,293.4L222.3,299.1L224.6,305.6" stroke="#6666b2" stroke-width="0.9" fill="none"/>
</g>
<g id="pd">
<rect x="328.9" y="238.0" width="204.5" height="160" fill="none" stroke="#7a7a7a" stroke-width="0.7"/>
<path d="M358.1,398v-2M358.1,238v2M387.3,398v-2M387.3,238v2M416.5,398v-2M416.5,238v2M445.8,398v-2M445.8,238v2M475,398v-2M475,238v2M504.2,398v-2M504.2,238v2M328.9,371.3h2M533.4,371.3h-2M328.9,344.7h2M533.4,344.7h-2M328.9,318h2M533.4,318h-2M328.9,291.3h2M533.4,291.3h-2M328.9,264.7h2M533.4,264.7h-2" stroke="#7a7a7a" stroke-width="0.7" fill="none"/>
<text class="t" transform="translate(328.9,407.3) scale(0.87,1)" font-size="7.1" text-anchor="middle">5</text>
<text class="t" transform="translate(358.11,407.3) scale(0.87,1)" font-size="7.1" text-anchor="middle">10</text>
<text class="t" transform="translate(387.33,407.3) scale(0.87,1)" font-size="7.1" text-anchor="middle">15</text>
<text class="t" transform="translate(416.54,407.3) scale(0.87,1)" font-size="7.1" text-anchor="middle">20</text>
<text class="t" transform="translate(445.76,407.3) scale(0.87,1)" font-size="7.1" text-anchor="middle">25</text>
<text class="t" transform="translate(474.97,407.3) scale(0.87,1)" font-size="7.1" text-anchor="middle">30</text>
<text class="t" transform="translate(504.19,407.3) scale(0.87,1)" font-size="7.1" text-anchor="middle">35</text>
<text class="t" transform="translate(533.4,407.3) scale(0.87,1)" font-size="7.1" text-anchor="middle">40</text>
<text class="t" transform="translate(325.6,401.2) scale(0.87,1)" font-size="7.1" text-anchor="end">2.03</text>
<text class="t" transform="translate(325.6,374.53) scale(0.87,1)" font-size="7.1" text-anchor="end">2.04</text>
<text class="t" transform="translate(325.6,347.87) scale(0.87,1)" font-size="7.1" text-anchor="end">2.05</text>
<text class="t" transform="translate(325.6,321.2) scale(0.87,1)" font-size="7.1" text-anchor="end">2.06</text>
<text class="t" transform="translate(325.6,294.53) scale(0.87,1)" font-size="7.1" text-anchor="end">2.07</text>
<text class="t" transform="translate(325.6,267.87) scale(0.87,1)" font-size="7.1" text-anchor="end">2.08</text>
<text class="t" transform="translate(325.6,241.2) scale(0.87,1)" font-size="7.1" text-anchor="end">2.09</text>
<text class="t" transform="translate(430.4,415.5) scale(0.87,1)" font-size="7.1" text-anchor="middle">N</text>
<text class="t" font-size="7.1" text-anchor="middle" transform="translate(309.8,318.2) rotate(-90) scale(0.975,0.87)">Profit per unit time</text>
<text class="t" transform="translate(329.9,236) scale(0.88,1)" font-size="6.7">×</text>
<text class="t" transform="translate(334.8,236) scale(0.88,1)" font-size="6.7">10<tspan dy="-2.6" font-size="4.96">4</tspan></text>
<path d="M328.9,326L331.8,321.1L334.7,316.4L337.7,311.9L340.6,307.5L343.5,303.3L346.4,299.2L349.3,295.3L352.3,291.6L355.2,288.1L358.1,284.7L361,281.4L364,278.4L366.9,275.5L369.8,272.8L372.7,270.2L375.6,267.8L378.6,265.6L381.5,263.5L384.4,261.6L387.3,259.9L390.2,258.3L393.2,256.9L396.1,255.7L399,254.6L401.9,253.7L404.9,252.9L407.8,252.3L410.7,251.9L413.6,251.7L416.5,251.6L419.5,251.7L422.4,251.9L425.3,252.3L428.2,252.9L431.1,253.7L434.1,254.6L437,255.7L439.9,256.9L442.8,258.3L445.8,259.9L448.7,261.6L451.6,263.5L454.5,265.6L457.4,267.8L460.4,270.2L463.3,272.8L466.2,275.5L469.1,278.4L472,281.4L475,284.7L477.9,288.1L480.8,291.6L483.7,295.3L486.7,299.2L489.6,303.3L492.5,307.5L495.4,311.9L498.3,316.4L501.3,321.1L504.2,326L507.1,331L510,336.3L513,341.6L515.9,347.2L518.8,352.9L521.7,358.7L524.6,364.8L527.6,371L530.5,377.3L533.4,383.9" stroke="#6666b2" stroke-width="0.9" fill="none"/>
</g>
<text class="c" transform="translate(22.1,218.9) scale(1,0.91)" font-size="16.4" textLength="229" lengthAdjust="spacing">(<tspan font-weight="bold">a</tspan>) Three-dimensional diagram</text>
<text class="c" transform="translate(368.3,218.9) scale(1,0.95)" font-size="15.6" textLength="115.1" lengthAdjust="spacing">(<tspan font-weight="bold">b</tspan>) Sectional view</text>
<text class="c" transform="translate(108.7,435.8) scale(0.9,1)" font-size="15">(<tspan font-weight="bold">c</tspan>)</text>
<text class="c" x="127.2" y="435.8" font-size="11.5" font-style="italic">N</text>
<text class="c" x="140.7" y="437.9" font-size="13">=</text>
<text class="c" transform="translate(151.5,435.8) scale(0.87,1)" font-size="12.6">19</text>
<text class="c" x="395.1" y="435.2" font-size="15.5">(<tspan font-weight="bold">d</tspan>)</text>
<text class="c" x="416.5" y="435.2" font-size="12" font-style="italic">L</text>
<text class="c" x="423.3" y="437.7" font-size="6.8" font-style="italic">P</text>
<text class="c" x="432.6" y="437.1" font-size="13">=</text>
<text class="c" transform="translate(443.5,435.2) scale(0.87,1)" font-size="12.6">16</text>
</svg></body></html>
